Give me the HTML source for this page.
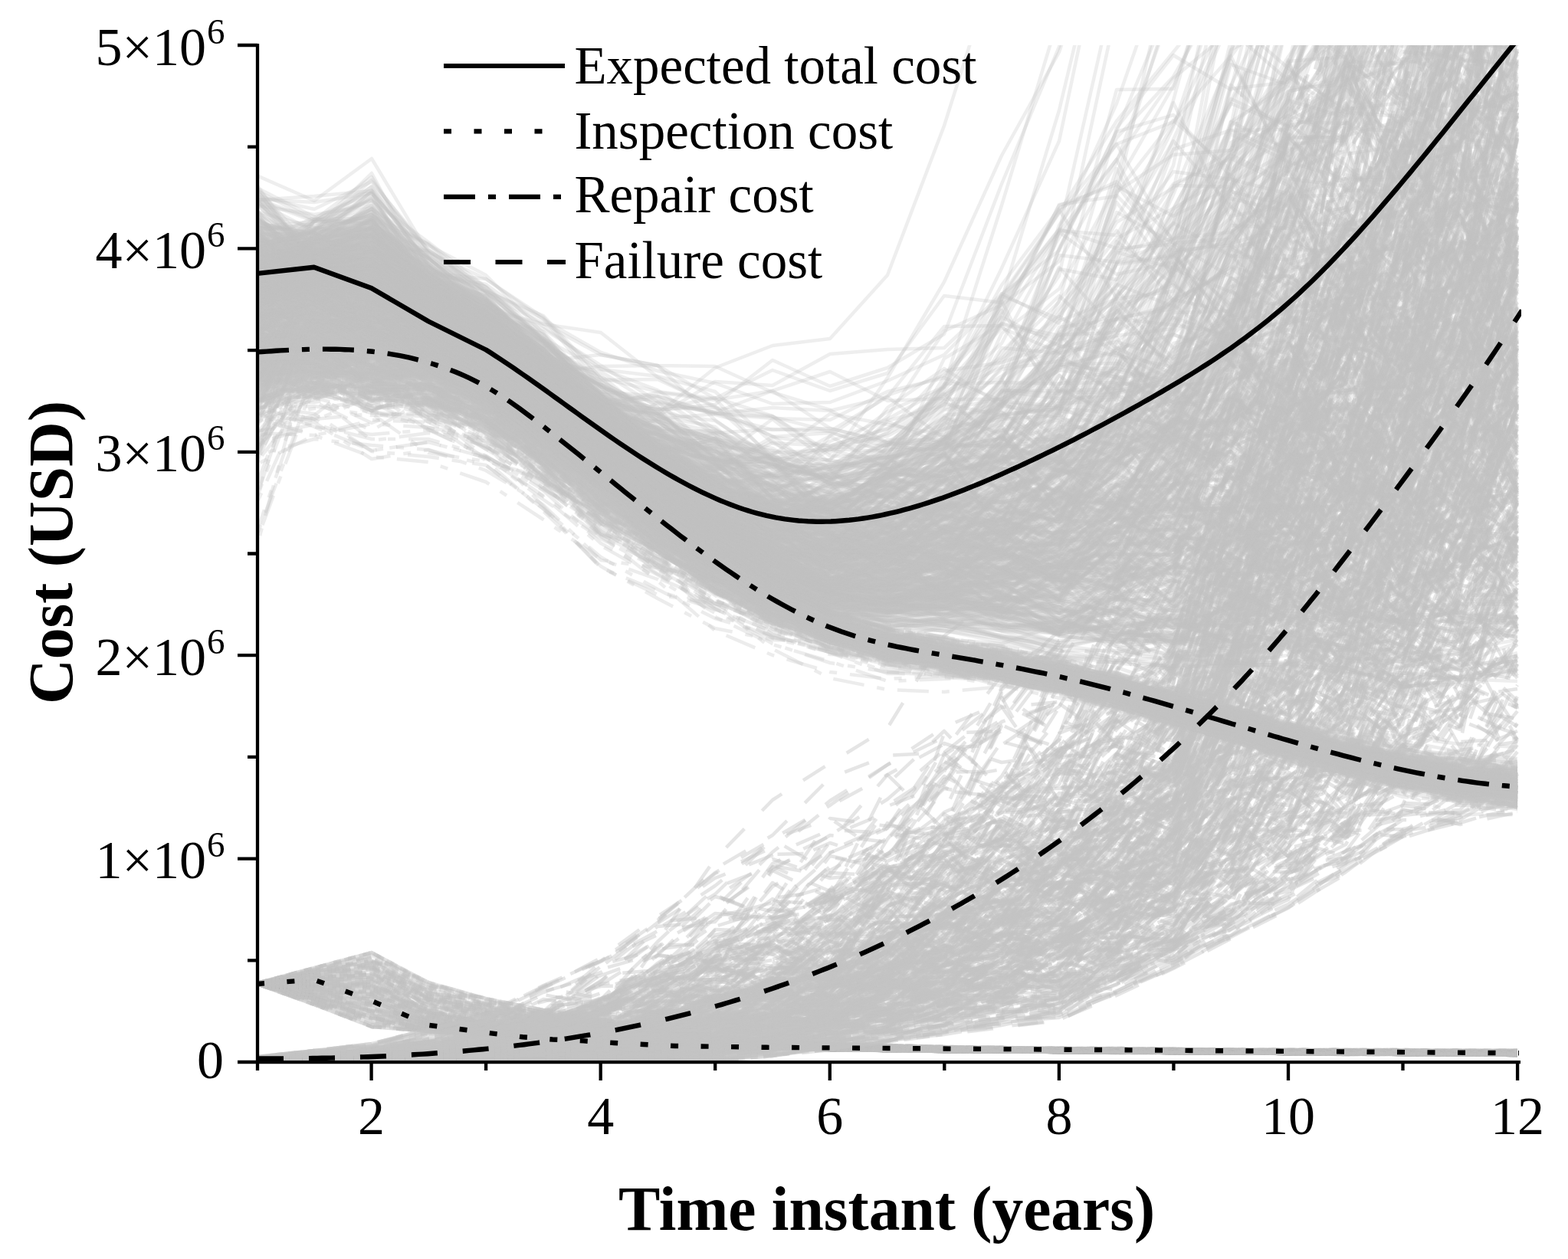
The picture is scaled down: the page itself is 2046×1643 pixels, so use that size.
<!DOCTYPE html><html><head><meta charset="utf-8"><style>html,body{margin:0;padding:0;background:#fff;overflow:hidden}svg{display:block}</style></head><body><svg width="2046" height="1643" viewBox="0 0 2046 1643"><defs><clipPath id="c"><rect x="336" y="59" width="1649" height="1327"/></clipPath></defs><g clip-path="url(#c)" fill="none" stroke="#c3c3c3" stroke-width="4.5" stroke-linejoin="round"><g stroke-dasharray="10,29.5" stroke-opacity="0.28"><g stroke-dashoffset="0.0"><path d="M335 1283l75 4 75 3 74 33 75 15 75 5 75 8 74 6 75 6 75 3 75 1 75 2 74 1 75 1 75 1 75 0 74 0 75 1 75 0 75 1 74 0 75 0 75 0"/><path d="M335 1283l75-16 75-17 74 39 75 23 75 10 75 10 74 9 75 11 75 6 75 4 75 2 74 2 75 1 75 1 75 0 74 1 75 1 75 0 75 0 74 1 75 0 75 1"/><path d="M335 1284l75 10 75 11 74 29 75 8 75 8 75 5 74 5 75 5 75 2 75 2 75 1 74 1 75 1 75 0 75 1 74 0 75 1 75 0 75 0 74 1 75 0 75 1"/><path d="M335 1283l75-6 75-5 74 36 75 15 75 14 75 8 74 6 75 8 75 4 75 3 75 1 74 2 75 0 75 1 75 1 74 0 75 1 75 0 75-1 74 1 75 1 75 0"/><path d="M335 1284l75 25 75 26 74 10 75 4 75 5 75 4 74 5 75 4 75 1 75 2 75 1 74 1 75 0 75 1 75 0 74 1 75 0 75 1 75 1 74 0 75 0 75 1"/><path d="M335 1283l75-4 75-9 74 39 75 17 75 11 75 8 74 7 75 8 75 3 75 3 75 1 74 1 75 2 75 1 75 0 74 1 75 0 75 0 75 0 74 1 75 0 75 1"/><path d="M335 1284l75 18 75 16 74 22 75 8 75 3 75 6 74 4 75 5 75 2 75 1 75 1 74 2 75 0 75 1 75 0 74 1 75 0 75 1 75 0 74 1 75 0 75 1"/><path d="M335 1284l75 18 75 21 74 21 75 7 75 3 75 4 74 4 75 5 75 1 75 2 75 1 74 1 75 0 75 1 75 0 74 1 75 0 75 1 75 0 74 1 75 0 75 1"/><path d="M335 1284l75 2 75 4 74 36 75 13 75 8 75 5 74 6 75 6 75 2 75 2 75 1 74 2 75 0 75 1 75 0 74 1 75 1 75 0 75 0 74 1 75 0 75 0"/><path d="M335 1283l75-15 75-17 74 38 75 21 75 14 75 9 74 11 75 10 75 6 75 4 75 2 74 1 75 0 75 1 75 0 74 1 75 1 75 0 75 0 74 0 75 1 75 0"/><path d="M335 1284l75 23 75 30 74 8 75 6 75 3 75 5 74 3 75 4 75 2 75 2 75 1 74 1 75 0 75 1 75 0 74 1 75 0 75 1 75 0 74 1 75 0 75 1"/><path d="M335 1284l75 16 75 15 74 23 75 9 75 4 75 6 74 5 75 4 75 1 75 2 75 1 74 1 75 1 75 0 75 1 74 1 75 0 75 0 75 1 74 0 75 1 75 0"/><path d="M335 1283l75-1 75-4 74 38 75 11 75 9 75 8 74 9 75 8 75 3 75 3 75 1 74 1 75 1 75 1 75 0 74 1 75 1 75 0 75 0 74 1 75 0 75 1"/><path d="M335 1284l75 11 75 4 74 33 75 9 75 5 75 7 74 5 75 5 75 2 75 3 75 1 74 1 75 1 75 1 75 0 74 1 75 0 75 0 75 0 74 1 75 1 75 0"/><path d="M335 1284l75 22 75 21 74 17 75 5 75 5 75 4 74 4 75 4 75 1 75 2 75 2 74 1 75 0 75 1 75 0 74 1 75 0 75 1 75 0 74 1 75 0 75 0"/><path d="M335 1284l75 8 75 8 74 34 75 10 75 7 75 4 74 4 75 5 75 3 75 2 75 1 74 1 75 0 75 1 75 1 74 0 75 1 75 0 75 1 74 0 75 1 75 0"/><path d="M335 1284l75 11 75 10 74 32 75 7 75 4 75 7 74 4 75 5 75 3 75 2 75 1 74 1 75 1 75 0 75 0 74 1 75 0 75 1 75 0 74 1 75 0 75 1"/><path d="M335 1284l75 14 75 11 74 27 75 11 75 6 75 4 74 5 75 5 75 1 75 2 75 1 74 1 75 0 75 1 75 0 74 1 75 0 75 1 75 0 74 1 75 0 75 1"/><path d="M335 1283l75-20 75-20 74 39 75 22 75 21 75 13 74 7 75 8 75 5 75 5 75 1 74 2 75 1 75 1 75 0 74 1 75 1 75 0 75 0 74 1 75 0 75 0"/><path d="M335 1284l75 13 75 19 74 23 75 10 75 4 75 5 74 3 75 5 75 1 75 2 75 1 74 1 75 1 75 0 75 1 74 0 75 1 75 0 75 1 74 0 75 0 75 1"/><path d="M335 1284l75 19 75 22 74 16 75 7 75 6 75 4 74 5 75 4 75 1 75 2 75 1 74 1 75 0 75 1 75 0 74 1 75 0 75 1 75 0 74 1 75 0 75 1"/><path d="M335 1284l75 6 75 6 74 32 75 14 75 5 75 6 74 6 75 5 75 2 75 2 75 1 74 1 75 1 75 1 75 0 74 1 75 0 75 1 75 0 74 1 75 0 75 0"/><path d="M335 1283l75-20 75-18 74 37 75 21 75 15 75 12 74 11 75 11 75 5 75 5 75 2 74 3 75 1 75 1 75 1 74 0 75 1 75 0 75 0 74 0 75 1 75 0"/><path d="M335 1284l75 16 75 13 74 25 75 8 75 6 75 4 74 4 75 5 75 2 75 2 75 1 74 1 75 0 75 1 75 1 74 1 75 0 75 1 75 0 74 0 75 1 75 1"/><path d="M335 1284l75 18 75 15 74 22 75 8 75 4 75 5 74 4 75 5 75 2 75 2 75 1 74 1 75 1 75 0 75 1 74 0 75 1 75 0 75 1 74 0 75 0 75 1"/><path d="M335 1284l75 12 75 18 74 27 75 5 75 7 75 3 74 5 75 4 75 1 75 2 75 2 74 1 75 1 75 0 75 0 74 1 75 0 75 0 75 1 74 1 75 0 75 0"/><path d="M335 1283l75-11 75-21 74 45 75 26 75 9 75 8 74 11 75 7 75 4 75 4 75 2 74 1 75 1 75 1 75 1 74 0 75 1 75 0 75 0 74 1 75 0 75 1"/><path d="M335 1283l75-7 75-7 74 41 75 15 75 9 75 8 74 8 75 10 75 3 75 3 75 1 74 2 75 1 75 0 75 1 74 0 75 0 75 1 75 0 74 1 75 0 75 1"/><path d="M335 1283l75-7 75-3 74 32 75 18 75 11 75 8 74 11 75 7 75 3 75 4 75 1 74 1 75 1 75 0 75 1 74 1 75 0 75 1 75 0 74 0 75 1 75 0"/><path d="M335 1283l75-2 75 5 74 36 75 13 75 8 75 7 74 5 75 6 75 3 75 2 75 2 74 1 75 1 75 1 75 0 74 1 75 0 75 1 75 0 74 1 75 0 75 0"/><path d="M335 1283l75-15 75-14 74 31 75 21 75 20 75 8 74 10 75 10 75 3 75 5 75 2 74 3 75 1 75 1 75 0 74 1 75 0 75 1 75 0 74 0 75 1 75 0"/><path d="M335 1284l75 22 75 22 74 17 75 6 75 4 75 4 74 4 75 4 75 1 75 2 75 1 74 1 75 0 75 1 75 0 74 1 75 0 75 1 75 0 74 1 75 0 75 1"/><path d="M335 1283l75-7 75-5 74 37 75 16 75 11 75 9 74 10 75 7 75 3 75 3 75 1 74 1 75 1 75 0 75 1 74 0 75 0 75 1 75 1 74 0 75 0 75 0"/><path d="M335 1283l75-8 75-6 74 34 75 21 75 7 75 10 74 9 75 8 75 3 75 3 75 1 74 2 75 1 75 1 75 1 74 0 75 1 75 1 75 0 74 1 75 0 75 0"/><path d="M335 1284l75 17 75 15 74 24 75 8 75 4 75 5 74 5 75 4 75 1 75 2 75 1 74 1 75 1 75 0 75 1 74 0 75 1 75 0 75 1 74 0 75 1 75 0"/><path d="M335 1283l75 3 75 13 74 32 75 5 75 9 75 5 74 8 75 5 75 3 75 2 75 0 74 2 75 1 75 1 75 0 74 1 75 1 75 0 75 0 74 0 75 1 75 0"/><path d="M335 1283l75-7 75 0 74 38 75 13 75 11 75 5 74 7 75 8 75 3 75 4 75 1 74 3 75 1 75 1 75 0 74 0 75 1 75 0 75 0 74 0 75 1 75 0"/><path d="M335 1283l75-16 75-16 74 37 75 15 75 15 75 12 74 11 75 11 75 5 75 5 75 2 74 2 75 1 75 1 75 0 74 1 75 1 75 0 75 0 74 1 75 0 75 0"/><path d="M335 1284l75 25 75 29 74 7 75 6 75 3 75 4 74 4 75 5 75 1 75 2 75 1 74 1 75 0 75 1 75 0 74 1 75 0 75 1 75 0 74 1 75 0 75 1"/><path d="M335 1283l75-6 75-4 74 38 75 17 75 6 75 11 74 6 75 7 75 4 75 3 75 2 74 1 75 1 75 0 75 1 74 0 75 1 75 0 75 1 74 0 75 1 75 0"/><path d="M335 1283l75-3 75-8 74 43 75 15 75 8 75 9 74 6 75 7 75 4 75 3 75 1 74 2 75 1 75 0 75 0 74 0 75 1 75 0 75 0 74 1 75 1 75 0"/><path d="M335 1284l75 18 75 21 74 21 75 6 75 3 75 5 74 4 75 5 75 1 75 2 75 0 74 2 75 0 75 1 75 0 74 1 75 0 75 1 75 0 74 1 75 0 75 1"/><path d="M335 1283l75 4 75 8 74 30 75 8 75 7 75 7 74 7 75 6 75 3 75 2 75 2 74 2 75 1 75 1 75 0 74 1 75 0 75 1 75 0 74 0 75 1 75 0"/><path d="M335 1283l75 2 75-2 74 38 75 13 75 8 75 7 74 6 75 7 75 2 75 3 75 2 74 1 75 0 75 1 75 1 74 0 75 0 75 1 75 1 74 0 75 0 75 0"/><path d="M335 1284l75 7 75 3 74 32 75 14 75 7 75 6 74 6 75 5 75 2 75 2 75 1 74 1 75 1 75 1 75 0 74 1 75 1 75 0 75 0 74 1 75 0 75 1"/><path d="M335 1283l75-17 75-13 74 31 75 23 75 16 75 8 74 12 75 11 75 5 75 5 75 1 74 2 75 1 75 1 75 0 74 1 75 0 75 1 75 0 74 0 75 0 75 0"/><path d="M335 1284l75 15 75 16 74 21 75 8 75 7 75 5 74 4 75 5 75 2 75 2 75 1 74 2 75 0 75 1 75 0 74 1 75 0 75 0 75 1 74 0 75 1 75 0"/><path d="M335 1283l75-11 75-11 74 38 75 22 75 7 75 7 74 12 75 9 75 4 75 4 75 2 74 2 75 0 75 1 75 0 74 1 75 0 75 1 75 0 74 0 75 1 75 0"/><path d="M335 1283l75-19 75-21 74 41 75 23 75 16 75 11 74 11 75 11 75 1 75 6 75 2 74 2 75 1 75 1 75 0 74 1 75 0 75 1 75 0 74 1 75 0 75 1"/><path d="M335 1283l75-7 75 1 74 38 75 9 75 9 75 10 74 8 75 8 75 4 75 4 75 1 74 1 75 0 75 1 75 1 74 0 75 1 75 0 75 1 74 0 75 0 75 0"/><path d="M335 1284l75 6 75 1 74 39 75 10 75 7 75 4 74 6 75 7 75 2 75 2 75 1 74 1 75 1 75 1 75 0 74 1 75 0 75 0 75 1 74 0 75 0 75 1"/><path d="M335 1283l75-10 75-9 74 39 75 20 75 12 75 6 74 5 75 9 75 5 75 3 75 2 74 2 75 1 75 1 75 1 74 0 75 1 75 0 75 1 74 0 75 0 75 0"/><path d="M335 1283l75-16 75-14 74 40 75 20 75 11 75 11 74 10 75 10 75 3 75 5 75 3 74 1 75 1 75 1 75 1 74 1 75 0 75 0 75 1 74 0 75 1 75 0"/><path d="M335 1284l75 1 75 9 74 30 75 10 75 8 75 10 74 6 75 5 75 2 75 2 75 1 74 2 75 1 75 0 75 1 74 0 75 1 75 0 75 1 74 0 75 1 75 0"/><path d="M335 1283l75-2 75-8 74 43 75 15 75 5 75 7 74 8 75 7 75 4 75 3 75 1 74 2 75 1 75 1 75 0 74 1 75 0 75 1 75 0 74 1 75 1 75 0"/><path d="M335 1284l75 27 75 29 74 5 75 6 75 4 75 4 74 4 75 4 75 1 75 2 75 1 74 1 75 0 75 1 75 0 74 1 75 0 75 1 75 1 74 0 75 0 75 1"/><path d="M335 1283l75-20 75-20 74 42 75 19 75 14 75 12 74 11 75 11 75 5 75 5 75 2 74 2 75 1 75 1 75 1 74 0 75 1 75 0 75 0 74 0 75 1 75 0"/><path d="M335 1284l75 16 75 17 74 23 75 9 75 4 75 4 74 5 75 4 75 2 75 1 75 1 74 1 75 1 75 1 75 0 74 0 75 1 75 0 75 1 74 0 75 1 75 0"/><path d="M335 1283l75-8 75-12 74 41 75 16 75 15 75 9 74 9 75 6 75 3 75 3 75 2 74 2 75 1 75 0 75 1 74 0 75 0 75 1 75 0 74 1 75 0 75 1"/><path d="M335 1283l75-1 75 0 74 40 75 11 75 6 75 9 74 7 75 6 75 2 75 3 75 2 74 1 75 1 75 1 75 0 74 1 75 0 75 1 75 0 74 1 75 0 75 1"/><path d="M335 1283l75 1 75 8 74 33 75 10 75 10 75 7 74 4 75 5 75 3 75 3 75 1 74 1 75 1 75 1 75 1 74 0 75 1 75 0 75 0 74 1 75 0 75 0"/><path d="M335 1284l75 8 75 10 74 33 75 9 75 6 75 5 74 5 75 4 75 2 75 3 75 1 74 0 75 1 75 1 75 0 74 1 75 0 75 1 75 0 74 1 75 0 75 1"/><path d="M335 1284l75 9 75 16 74 26 75 11 75 6 75 4 74 4 75 5 75 1 75 3 75 1 74 1 75 0 75 1 75 0 74 0 75 1 75 0 75 1 74 1 75 0 75 0"/><path d="M335 1283l75-5 75 0 74 40 75 13 75 7 75 10 74 4 75 8 75 3 75 3 75 1 74 2 75 1 75 0 75 1 74 0 75 0 75 1 75 0 74 1 75 0 75 0"/><path d="M335 1283l75-6 75-5 74 32 75 23 75 10 75 5 74 9 75 8 75 4 75 3 75 1 74 2 75 1 75 0 75 1 74 0 75 1 75 1 75 0 74-1 75 1 75 0"/><path d="M335 1283l75-15 75-12 74 36 75 21 75 12 75 9 74 11 75 9 75 5 75 3 75 3 74 2 75 1 75 1 75 1 74 0 75 1 75 0 75 0 74 0 75 0 75 1"/><path d="M335 1284l75 22 75 28 74 11 75 5 75 4 75 5 74 4 75 4 75 1 75 2 75 1 74 1 75 0 75 1 75 1 74 0 75 0 75 1 75 0 74 1 75 0 75 1"/><path d="M335 1284l75 6 75 5 74 33 75 10 75 5 75 9 74 5 75 6 75 2 75 3 75 1 74 2 75 1 75 0 75 0 74 0 75 1 75 1 75 0 74 1 75 0 75 0"/><path d="M335 1284l75 8 75 15 74 26 75 9 75 8 75 5 74 4 75 5 75 3 75 2 75 1 74 1 75 0 75 1 75 0 74 1 75 0 75 1 75 0 74 1 75 0 75 1"/></g><g stroke-dashoffset="4.9"><path d="M335 1283l75 4 75 4 74 37 75 10 75 9 75 3 74 6 75 7 75 2 75 3 75 1 74 1 75 1 75 1 75 0 74 0 75 0 75 1 75 0 74 1 75 0 75 1"/><path d="M335 1283l75-6 75-9 74 32 75 14 75 11 75 12 74 10 75 8 75 5 75 4 75 1 74 2 75 2 75 1 75 0 74 0 75 1 75 0 75 0 74 1 75 0 75 1"/><path d="M335 1283l75-19 75-10 74 37 75 18 75 14 75 12 74 13 75 7 75 5 75 4 75 1 74 3 75 1 75 0 75 0 74 1 75 0 75 0 75 0 74 0 75 1 75 1"/><path d="M335 1283l75-4 75-1 74 32 75 16 75 9 75 6 74 10 75 6 75 4 75 4 75 1 74 2 75 1 75 1 75 0 74 1 75 0 75 1 75 0 74 1 75 0 75 0"/><path d="M335 1283l75-18 75-12 74 35 75 23 75 9 75 10 74 12 75 10 75 5 75 5 75 2 74 2 75 1 75 1 75 0 74 1 75 1 75 0 75 0 74 0 75 2 75 0"/><path d="M335 1284l75 13 75 15 74 22 75 12 75 4 75 5 74 5 75 5 75 2 75 2 75 1 74 1 75 1 75 0 75 1 74 0 75 1 75 0 75 1 74 0 75 1 75 0"/><path d="M335 1283l75 2 75 1 74 35 75 16 75 7 75 7 74 6 75 6 75 3 75 1 75 2 74 1 75 1 75 0 75 1 74 0 75 0 75 1 75 0 74 0 75 0 75 1"/><path d="M335 1284l75 20 75 25 74 15 75 7 75 4 75 4 74 4 75 4 75 1 75 2 75 1 74 1 75 0 75 1 75 0 74 1 75 0 75 1 75 0 74 1 75 0 75 1"/><path d="M335 1284l75 20 75 25 74 15 75 5 75 4 75 4 74 4 75 5 75 2 75 2 75 1 74 1 75 0 75 1 75 0 74 1 75 0 75 1 75 0 74 1 75 0 75 1"/><path d="M335 1284l75 8 75 7 74 30 75 11 75 8 75 7 74 5 75 5 75 2 75 2 75 1 74 1 75 1 75 0 75 1 74 0 75 1 75 0 75 1 74 0 75 1 75 0"/><path d="M335 1283l75-15 75-14 74 39 75 16 75 12 75 10 74 10 75 11 75 5 75 5 75 2 74 2 75 2 75 1 75 0 74 1 75 0 75 1 75 0 74 0 75 0 75 1"/><path d="M335 1283l75-5 75-8 74 34 75 13 75 10 75 11 74 11 75 8 75 4 75 4 75 1 74 2 75 0 75 1 75 1 74 0 75 0 75 1 75 0 74 1 75 0 75 1"/><path d="M335 1284l75 7 75 9 74 26 75 13 75 7 75 7 74 6 75 6 75 1 75 2 75 2 74 0 75 1 75 0 75 1 74 1 75 0 75 1 75 0 74 1 75 0 75 0"/><path d="M335 1283l75-10 75-10 74 31 75 26 75 11 75 11 74 9 75 8 75 4 75 4 75 0 74 2 75 1 75 1 75 0 74 1 75 0 75 0 75 1 74 0 75 1 75 0"/><path d="M335 1283l75-20 75-20 74 39 75 21 75 15 75 12 74 11 75 11 75 5 75 5 75 2 74 2 75 1 75 1 75 1 74 0 75 1 75 0 75 0 74 0 75 1 75 0"/><path d="M335 1284l75 27 75 29 74 6 75 5 75 4 75 4 74 4 75 4 75 1 75 2 75 1 74 1 75 0 75 1 75 0 74 1 75 0 75 1 75 0 74 1 75 0 75 1"/><path d="M335 1284l75 4 75 1 74 37 75 12 75 9 75 6 74 5 75 6 75 2 75 2 75 1 74 1 75 1 75 0 75 0 74 1 75 0 75 1 75 0 74 0 75 1 75 0"/><path d="M335 1283l75-16 75-12 74 41 75 16 75 10 75 12 74 11 75 9 75 4 75 5 75 2 74 2 75 1 75 0 75 1 74 0 75 1 75 0 75 1 74 0 75 0 75 0"/><path d="M335 1284l75 27 75 29 74 6 75 5 75 4 75 4 74 4 75 4 75 1 75 2 75 1 74 1 75 0 75 1 75 0 74 1 75 0 75 1 75 0 74 1 75 0 75 1"/><path d="M335 1283l75-11 75-12 74 35 75 26 75 10 75 10 74 8 75 9 75 4 75 4 75 1 74 1 75 1 75 1 75 1 74 0 75 1 75 0 75 1 74-1 75 0 75 1"/><path d="M335 1284l75 4 75 2 74 30 75 14 75 8 75 2 74 8 75 9 75 4 75 2 75 2 74 1 75 0 75 1 75 1 74 0 75 0 75 1 75 0 74 1 75 0 75 0"/><path d="M335 1284l75 27 75 29 74 6 75 5 75 4 75 4 74 4 75 4 75 1 75 2 75 1 74 1 75 0 75 1 75 0 74 1 75 0 75 1 75 0 74 1 75 0 75 1"/><path d="M335 1284l75 6 75 9 74 30 75 13 75 7 75 6 74 5 75 5 75 2 75 1 75 2 74 1 75 1 75 0 75 1 74 1 75 0 75 0 75 0 74 0 75 1 75 1"/><path d="M335 1283l75 5 75 4 74 34 75 11 75 6 75 7 74 6 75 7 75 2 75 3 75 2 74 1 75 0 75 1 75 1 74 0 75 0 75 1 75 0 74 0 75 1 75 1"/><path d="M335 1283l75-9 75-8 74 42 75 11 75 10 75 11 74 9 75 8 75 3 75 4 75 2 74 2 75 1 75 0 75 1 74 1 75 0 75 1 75 0 74 0 75 1 75 0"/><path d="M335 1284l75 25 75 31 74 6 75 5 75 4 75 4 74 4 75 4 75 1 75 2 75 1 74 1 75 0 75 1 75 0 74 1 75 0 75 1 75 0 74 1 75 0 75 1"/><path d="M335 1283l75 1 75 6 74 34 75 9 75 7 75 6 74 5 75 7 75 4 75 4 75 1 74 2 75 1 75 1 75 0 74 1 75 0 75 1 75 1 74 0 75 0 75 1"/><path d="M335 1284l75 16 75 18 74 22 75 8 75 5 75 5 74 4 75 4 75 1 75 2 75 1 74 2 75 0 75 1 75 0 74 1 75 0 75 1 75 0 74 1 75 0 75 0"/><path d="M335 1284l75 19 75 22 74 18 75 7 75 5 75 4 74 4 75 4 75 1 75 2 75 1 74 1 75 0 75 1 75 0 74 1 75 0 75 1 75 0 74 1 75 0 75 1"/><path d="M335 1284l75 4 75-1 74 39 75 15 75 5 75 7 74 6 75 5 75 3 75 2 75 1 74 1 75 0 75 1 75 1 74 0 75 1 75 0 75 0 74 1 75 0 75 0"/><path d="M335 1283l75-13 75-16 74 43 75 14 75 13 75 8 74 11 75 11 75 4 75 5 75 2 74 2 75 0 75 1 75 1 74 1 75 0 75 0 75 0 74 1 75 1 75 0"/><path d="M335 1283l75-13 75-10 74 38 75 19 75 13 75 9 74 7 75 11 75 3 75 4 75 2 74 1 75 1 75 1 75 1 74 0 75 1 75 1 75 0 74 0 75 1 75 0"/><path d="M335 1284l75 2 75 2 74 33 75 14 75 10 75 6 74 6 75 7 75 2 75 2 75 1 74 2 75 0 75 1 75 0 74 1 75 0 75 0 75 1 74 0 75 1 75 0"/><path d="M335 1284l75 20 75 21 74 19 75 6 75 4 75 5 74 4 75 4 75 1 75 2 75 1 74 1 75 0 75 1 75 0 74 1 75 0 75 1 75 0 74 1 75 0 75 1"/><path d="M335 1284l75 19 75 25 74 16 75 5 75 4 75 6 74 4 75 4 75 1 75 2 75 1 74 1 75 0 75 1 75 0 74 1 75 0 75 0 75 1 74 0 75 0 75 1"/><path d="M335 1283l75-13 75-5 74 30 75 12 75 18 75 10 74 9 75 11 75 4 75 4 75 2 74 2 75 1 75 1 75 0 74 0 75 1 75 1 75 0 74 1 75 0 75 1"/><path d="M335 1284l75 27 75 29 74 6 75 4 75 5 75 4 74 4 75 4 75 1 75 2 75 1 74 1 75 0 75 1 75 0 74 1 75 0 75 1 75 0 74 1 75 0 75 1"/><path d="M335 1284l75 15 75 20 74 22 75 9 75 3 75 5 74 4 75 4 75 2 75 1 75 1 74 1 75 1 75 0 75 0 74 1 75 1 75 0 75 0 74 1 75 1 75 0"/><path d="M335 1283l75-7 75-7 74 38 75 20 75 8 75 4 74 10 75 8 75 4 75 4 75 2 74 2 75 1 75 0 75 1 74 0 75 1 75 0 75 1 74 0 75 1 75 0"/><path d="M335 1283l75-9 75-12 74 38 75 19 75 11 75 12 74 9 75 8 75 3 75 5 75 1 74 0 75 1 75 1 75 0 74 1 75 0 75 1 75 0 74 1 75 0 75 0"/><path d="M335 1284l75 18 75 25 74 17 75 5 75 5 75 4 74 5 75 4 75 1 75 2 75 1 74 1 75 0 75 1 75 0 74 1 75 0 75 1 75 0 74 0 75 1 75 0"/><path d="M335 1283l75-11 75-11 74 41 75 21 75 8 75 6 74 11 75 8 75 5 75 4 75 2 74 1 75 1 75 1 75 0 74 0 75 1 75 0 75 1 74 0 75 0 75 0"/><path d="M335 1283l75-17 75-19 74 39 75 25 75 17 75 11 74 11 75 9 75 4 75 2 75 2 74 1 75 1 75 1 75 1 74 0 75 1 75 0 75 1 74 0 75 0 75 1"/><path d="M335 1284l75 23 75 27 74 11 75 5 75 5 75 3 74 4 75 5 75 1 75 2 75 1 74 1 75 0 75 1 75 0 74 1 75 0 75 1 75 0 74 1 75 0 75 1"/><path d="M335 1284l75 24 75 32 74 6 75 5 75 4 75 4 74 3 75 4 75 2 75 2 75 1 74 1 75 0 75 1 75 0 74 1 75 0 75 1 75 0 74 1 75 0 75 1"/><path d="M335 1284l75 22 75 16 74 20 75 7 75 4 75 5 74 5 75 3 75 2 75 2 75 1 74 1 75 0 75 1 75 0 74 1 75 0 75 1 75 0 74 1 75 0 75 1"/><path d="M335 1283l75-14 75-14 74 42 75 14 75 16 75 9 74 10 75 9 75 4 75 5 75 1 74 1 75 1 75 1 75 1 74 0 75 1 75 0 75 1 74 0 75 0 75 0"/><path d="M335 1283l75-6 75 1 74 33 75 16 75 8 75 10 74 7 75 9 75 3 75 2 75 2 74 2 75 1 75 0 75 1 74 0 75 1 75 0 75 1 74 0 75 0 75 1"/><path d="M335 1283l75-15 75-4 74 40 75 17 75 4 75 10 74 10 75 11 75 3 75 4 75 2 74 2 75 1 75 1 75 1 74 0 75 0 75 1 75 0 74 0 75 0 75 1"/><path d="M335 1283l75-10 75-13 74 38 75 21 75 12 75 9 74 9 75 9 75 3 75 4 75 1 74 2 75 0 75 1 75 1 74 0 75 0 75 1 75 0 74 0 75 0 75 1"/><path d="M335 1283l75-12 75-9 74 39 75 21 75 13 75 6 74 8 75 9 75 3 75 4 75 2 74 1 75 1 75 0 75 0 74 1 75 0 75 1 75 0 74 0 75 0 75 1"/><path d="M335 1284l75 5 75 12 74 30 75 12 75 6 75 6 74 4 75 5 75 3 75 2 75 1 74 1 75 1 75 0 75 1 74 0 75 0 75 1 75 1 74 0 75 0 75 0"/><path d="M335 1283l75-17 75-23 74 47 75 23 75 14 75 8 74 9 75 10 75 3 75 6 75 2 74 2 75 0 75 1 75 0 74 1 75 1 75 0 75 1 74 0 75 1 75 0"/><path d="M335 1284l75 25 75 20 74 12 75 5 75 6 75 5 74 4 75 5 75 2 75 2 75 1 74 1 75 0 75 1 75 0 74 1 75 0 75 1 75 0 74 1 75 0 75 1"/><path d="M335 1283l75-3 75 1 74 33 75 18 75 9 75 8 74 7 75 5 75 2 75 3 75 1 74 2 75 1 75 0 75 1 74 0 75 1 75 0 75 0 74 0 75 1 75 1"/><path d="M335 1283l75-4 75 0 74 33 75 17 75 9 75 10 74 7 75 7 75 2 75 3 75 1 74 1 75 1 75 1 75 1 74 0 75 1 75 0 75 1 74 0 75 0 75 0"/><path d="M335 1283l75-2 75 4 74 34 75 14 75 8 75 7 74 6 75 5 75 3 75 3 75 2 74 1 75 1 75 1 75 1 74 0 75 1 75 0 75 1 74 0 75 1 75 0"/><path d="M335 1284l75 24 75 29 74 8 75 5 75 5 75 4 74 4 75 4 75 1 75 2 75 1 74 1 75 0 75 1 75 0 74 1 75 0 75 1 75 1 74 0 75 0 75 1"/><path d="M335 1284l75 21 75 24 74 13 75 7 75 3 75 5 74 4 75 4 75 3 75 2 75 1 74 1 75 0 75 1 75 0 74 1 75 0 75 1 75 1 74 0 75 0 75 1"/><path d="M335 1284l75 15 75 16 74 23 75 8 75 4 75 5 74 5 75 4 75 2 75 2 75 2 74 1 75 0 75 1 75 1 74 0 75 1 75 0 75 1 74 0 75 1 75 0"/><path d="M335 1283l75-12 75-12 74 41 75 15 75 15 75 10 74 7 75 9 75 4 75 4 75 2 74 2 75 1 75 1 75 0 74 1 75 0 75 0 75 0 74 1 75 0 75 0"/><path d="M335 1284l75 11 75 13 74 26 75 11 75 6 75 5 74 5 75 4 75 2 75 2 75 1 74 1 75 1 75 0 75 1 74 1 75 0 75 1 75 0 74 0 75 0 75 1"/><path d="M335 1284l75 14 75 20 74 20 75 7 75 3 75 8 74 5 75 4 75 2 75 2 75 1 74 1 75 1 75 0 75 1 74 0 75 1 75 0 75 0 74 1 75 0 75 1"/><path d="M335 1283l75 1 75 2 74 34 75 15 75 7 75 7 74 7 75 6 75 3 75 3 75 0 74 2 75 0 75 1 75 0 74 1 75 0 75 1 75 0 74 1 75 0 75 0"/><path d="M335 1283l75-11 75-9 74 40 75 18 75 8 75 9 74 8 75 10 75 3 75 4 75 2 74 2 75 1 75 1 75 1 74 0 75 1 75 0 75 0 74 1 75 0 75 0"/><path d="M335 1284l75 20 75 21 74 19 75 6 75 5 75 4 74 4 75 4 75 1 75 2 75 1 74 1 75 0 75 0 75 1 74 0 75 1 75 1 75 0 74 0 75 1 75 0"/><path d="M335 1283l75-14 75-14 74 33 75 15 75 15 75 12 74 11 75 11 75 5 75 5 75 2 74 2 75 1 75 1 75 0 74 1 75 1 75 0 75 0 74 0 75 1 75 0"/><path d="M335 1283l75 2 75-2 74 35 75 14 75 10 75 8 74 7 75 6 75 2 75 3 75 1 74 2 75 0 75 0 75 1 74 1 75 0 75 0 75 1 74 0 75 1 75 0"/><path d="M335 1283l75 2 75 0 74 37 75 8 75 10 75 8 74 6 75 7 75 3 75 2 75 1 74 2 75 1 75 0 75 1 74 0 75 1 75 0 75 0 74 1 75 1 75 0"/></g><g stroke-dashoffset="9.9"><path d="M335 1284l75 5 75-2 74 38 75 14 75 6 75 5 74 6 75 5 75 4 75 2 75 1 74 2 75 0 75 0 75 1 74 1 75 0 75 1 75 1 74 0 75 1 75 0"/><path d="M335 1283l75 2 75 6 74 33 75 13 75 8 75 5 74 6 75 7 75 2 75 3 75 1 74 2 75 0 75 0 75 1 74 0 75 0 75 1 75 1 74 0 75 0 75 0"/><path d="M335 1283l75-12 75-8 74 40 75 18 75 10 75 9 74 8 75 9 75 4 75 3 75 1 74 2 75 1 75 1 75 0 74 1 75 0 75 1 75 0 74 1 75 0 75 0"/><path d="M335 1283l75-18 75-20 74 37 75 21 75 15 75 12 74 11 75 13 75 5 75 3 75 2 74 2 75 1 75 1 75 1 74 0 75 1 75 0 75 0 74 0 75 1 75 1"/><path d="M335 1283l75-9 75-1 74 33 75 18 75 9 75 6 74 8 75 9 75 4 75 5 75 1 74 2 75 1 75 1 75 0 74 1 75 0 75 1 75 1 74 0 75 0 75 0"/><path d="M335 1283l75-8 75-5 74 34 75 19 75 7 75 10 74 10 75 8 75 3 75 3 75 1 74 3 75 0 75 2 75 0 74 1 75 0 75 1 75-1 74 1 75 0 75 0"/><path d="M335 1283l75-14 75-8 74 31 75 15 75 14 75 16 74 7 75 10 75 5 75 6 75 1 74 2 75 1 75 0 75 0 74 1 75 0 75 1 75 0 74 1 75 0 75 0"/><path d="M335 1284l75 10 75 8 74 30 75 11 75 6 75 6 74 5 75 5 75 1 75 3 75 1 74 1 75 1 75 0 75 0 74 1 75 1 75 0 75 1 74 0 75 0 75 1"/><path d="M335 1283l75-9 75-14 74 43 75 17 75 8 75 12 74 9 75 8 75 4 75 4 75 1 74 1 75 1 75 1 75 0 74 1 75 0 75 1 75 0 74 0 75 0 75 0"/><path d="M335 1283l75-9 75-12 74 41 75 16 75 11 75 9 74 6 75 9 75 3 75 5 75 3 74 2 75 0 75 1 75 0 74 1 75 1 75 0 75 1 74 0 75 0 75 0"/><path d="M335 1283l75 3 75 4 74 33 75 14 75 8 75 7 74 4 75 6 75 3 75 2 75 2 74 1 75 1 75 1 75 0 74 1 75 0 75 1 75 0 74 0 75 1 75 0"/><path d="M335 1284l75 19 75 20 74 19 75 7 75 4 75 4 74 6 75 4 75 1 75 2 75 1 74 1 75 0 75 1 75 0 74 1 75 0 75 0 75 1 74 1 75 0 75 1"/><path d="M335 1284l75 14 75 15 74 26 75 8 75 6 75 5 74 5 75 4 75 1 75 2 75 1 74 0 75 1 75 0 75 1 74 0 75 0 75 1 75 0 74 1 75 0 75 1"/><path d="M335 1283l75 3 75 5 74 37 75 9 75 6 75 8 74 5 75 6 75 3 75 2 75 2 74 1 75 0 75 1 75 1 74 0 75 0 75 1 75 0 74 0 75 0 75 1"/><path d="M335 1284l75 20 75 20 74 19 75 7 75 4 75 3 74 4 75 5 75 2 75 1 75 2 74 1 75 0 75 1 75 0 74 1 75 0 75 1 75 0 74 1 75 0 75 0"/><path d="M335 1284l75 9 75 14 74 26 75 10 75 7 75 5 74 5 75 5 75 2 75 2 75 1 74 1 75 1 75 0 75 0 74 1 75 0 75 1 75 0 74 1 75 0 75 0"/><path d="M335 1284l75 17 75 18 74 23 75 7 75 4 75 4 74 3 75 5 75 2 75 2 75 1 74 1 75 0 75 1 75 0 74 1 75 1 75 0 75 1 74 0 75 0 75 1"/><path d="M335 1284l75 11 75 2 74 35 75 11 75 3 75 7 74 5 75 6 75 2 75 2 75 2 74 1 75 1 75 0 75 1 74 0 75 1 75 0 75 1 74 0 75 1 75 0"/><path d="M335 1284l75 27 75 28 74 6 75 6 75 4 75 4 74 4 75 4 75 1 75 2 75 1 74 1 75 0 75 1 75 1 74 0 75 0 75 1 75 0 74 1 75 0 75 1"/><path d="M335 1284l75 6 75 5 74 33 75 9 75 7 75 9 74 4 75 7 75 2 75 3 75 1 74 1 75 1 75 0 75 1 74 0 75 1 75 0 75 1 74 0 75 1 75 0"/><path d="M335 1284l75 15 75 21 74 20 75 8 75 5 75 5 74 4 75 4 75 2 75 2 75 1 74 1 75 0 75 1 75 0 74 0 75 1 75 0 75 1 74 0 75 1 75 0"/><path d="M335 1284l75 13 75 15 74 28 75 7 75 6 75 5 74 3 75 5 75 1 75 2 75 1 74 1 75 1 75 1 75 0 74 0 75 1 75 1 75 0 74 0 75 1 75 0"/><path d="M335 1283l75 3 75 7 74 28 75 14 75 8 75 7 74 7 75 5 75 2 75 3 75 1 74 1 75 1 75 0 75 1 74 0 75 1 75 0 75 1 74 1 75 0 75 0"/><path d="M335 1283l75 1 75 4 74 35 75 14 75 7 75 7 74 5 75 7 75 3 75 2 75 1 74 1 75 1 75 0 75 0 74 1 75 1 75 0 75 0 74 1 75 1 75 0"/><path d="M335 1283l75-14 75-12 74 48 75 21 75 9 75 10 74 7 75 9 75 2 75 3 75 1 74 2 75 0 75 1 75 0 74 1 75 0 75 1 75 0 74 0 75 0 75 1"/><path d="M335 1284l75 12 75 13 74 27 75 10 75 3 75 5 74 6 75 6 75 1 75 1 75 1 74 2 75 0 75 1 75 1 74 0 75 1 75 0 75 1 74 0 75 1 75 0"/><path d="M335 1283l75-6 75-2 74 38 75 16 75 8 75 10 74 7 75 7 75 2 75 4 75 1 74 1 75 1 75 1 75 1 74 0 75 1 75 0 75 0 74 0 75 0 75 0"/><path d="M335 1283l75-8 75-12 74 36 75 19 75 13 75 7 74 10 75 10 75 3 75 4 75 1 74 2 75 1 75 1 75 0 74 0 75 0 75 1 75 0 74 1 75 0 75 1"/><path d="M335 1283l75-8 75-8 74 39 75 18 75 9 75 10 74 5 75 9 75 5 75 4 75 1 74 1 75 1 75 1 75 0 74 1 75 0 75 1 75 1 74 0 75 1 75 0"/><path d="M335 1284l75 17 75 19 74 21 75 8 75 5 75 4 74 4 75 4 75 2 75 1 75 1 74 1 75 1 75 1 75 0 74 1 75 0 75 0 75 1 74 0 75 1 75 0"/><path d="M335 1284l75 14 75 23 74 21 75 8 75 3 75 4 74 4 75 5 75 2 75 1 75 1 74 1 75 1 75 0 75 1 74 1 75 0 75 0 75 1 74 0 75 0 75 1"/><path d="M335 1284l75 20 75 25 74 14 75 6 75 5 75 4 74 5 75 4 75 1 75 2 75 1 74 1 75 0 75 1 75 0 74 1 75 0 75 1 75 0 74 1 75 0 75 1"/><path d="M335 1283l75 5 75 7 74 33 75 11 75 5 75 4 74 7 75 6 75 3 75 3 75 2 74 1 75 1 75 0 75 0 74 1 75 1 75 0 75 0 74 0 75 1 75-1"/><path d="M335 1283l75-5 75-1 74 32 75 16 75 9 75 9 74 7 75 8 75 4 75 4 75 1 74 2 75 1 75 1 75-1 74 1 75 0 75 1 75 0 74 0 75 0 75 0"/><path d="M335 1284l75 24 75 26 74 12 75 4 75 5 75 4 74 4 75 4 75 1 75 2 75 1 74 1 75 0 75 1 75 0 74 1 75 0 75 1 75 1 74 0 75 0 75 1"/><path d="M335 1284l75 21 75 24 74 12 75 9 75 5 75 4 74 4 75 4 75 1 75 2 75 1 74 1 75 0 75 1 75 0 74 1 75 0 75 1 75 0 74 1 75 0 75 1"/><path d="M335 1284l75 6 75 5 74 30 75 9 75 6 75 11 74 5 75 6 75 3 75 2 75 2 74 1 75 1 75 0 75 1 74 0 75 1 75 0 75 0 74 1 75 0 75 1"/><path d="M335 1284l75 7 75 9 74 25 75 13 75 7 75 6 74 6 75 6 75 2 75 3 75 1 74 1 75 1 75 1 75 1 74 0 75 0 75 0 75 1 74 0 75 1 75 0"/><path d="M335 1284l75 27 75 29 74 6 75 5 75 4 75 4 74 3 75 5 75 1 75 2 75 1 74 1 75 0 75 1 75 0 74 1 75 0 75 1 75 0 74 1 75 0 75 1"/><path d="M335 1284l75 26 75 26 74 10 75 5 75 4 75 4 74 4 75 4 75 1 75 2 75 1 74 1 75 0 75 1 75 1 74 0 75 0 75 1 75 1 74 0 75 0 75 1"/><path d="M335 1283l75-20 75-20 74 41 75 24 75 13 75 10 74 14 75 10 75 4 75 4 75 3 74 1 75 0 75 1 75 1 74 0 75 1 75 0 75 0 74 0 75 1 75 0"/><path d="M335 1283l75 1 75-4 74 40 75 12 75 6 75 10 74 4 75 9 75 3 75 3 75 1 74 1 75 1 75 1 75 0 74 1 75 1 75 0 75 0 74 1 75 0 75 1"/><path d="M335 1283l75-8 75-4 74 34 75 12 75 11 75 11 74 7 75 10 75 4 75 5 75 2 74 2 75 0 75 1 75 0 74 1 75 0 75 1 75 0 74 0 75 1 75 0"/><path d="M335 1283l75-6 75-12 74 40 75 19 75 13 75 8 74 8 75 7 75 4 75 3 75 0 74 2 75 0 75 1 75 1 74 0 75 0 75 1 75 0 74 0 75 1 75 0"/><path d="M335 1284l75 8 75 6 74 28 75 9 75 8 75 4 74 8 75 7 75 3 75 3 75 1 74 1 75 1 75 0 75 1 74 1 75 0 75 1 75 0 74 0 75 1 75 0"/><path d="M335 1284l75 18 75 20 74 20 75 7 75 5 75 4 74 4 75 4 75 2 75 2 75 1 74 1 75 0 75 1 75 0 74 1 75 0 75 1 75 0 74 1 75 0 75 1"/><path d="M335 1284l75 7 75 4 74 34 75 8 75 6 75 7 74 6 75 7 75 3 75 3 75 1 74 1 75 1 75 0 75 0 74 1 75 1 75 0 75 0 74 1 75 0 75 0"/><path d="M335 1283l75-10 75-8 74 35 75 14 75 14 75 9 74 11 75 8 75 5 75 3 75 2 74 1 75 1 75 1 75 1 74 0 75 1 75 0 75 0 74 0 75 1 75 0"/><path d="M335 1284l75 4 75 9 74 31 75 10 75 7 75 5 74 7 75 4 75 4 75 2 75 2 74 1 75 1 75 0 75 1 74 1 75 0 75 1 75 1 74 0 75 0 75 0"/><path d="M335 1283l75 5 75 5 74 26 75 14 75 8 75 8 74 7 75 6 75 3 75 3 75 2 74 1 75 0 75 0 75 0 74 1 75 0 75 1 75 0 74 1 75 0 75 1"/><path d="M335 1284l75 20 75 15 74 19 75 9 75 3 75 6 74 4 75 5 75 2 75 2 75 1 74 1 75 0 75 1 75 1 74 0 75 1 75 0 75 1 74 0 75 0 75 1"/><path d="M335 1283l75-16 75-11 74 42 75 19 75 11 75 12 74 9 75 9 75 3 75 3 75 2 74 2 75 1 75 0 75 1 74 0 75 1 75 0 75 1 74 0 75 0 75 0"/><path d="M335 1284l75 13 75 13 74 28 75 8 75 6 75 4 74 3 75 5 75 3 75 2 75 1 74 1 75 1 75 0 75 1 74 0 75 1 75 0 75 0 74 1 75 0 75 0"/><path d="M335 1283l75-6 75 3 74 38 75 11 75 11 75 5 74 8 75 7 75 4 75 3 75 1 74 1 75 0 75 2 75 0 74 0 75 1 75 0 75 1 74 0 75 0 75 0"/><path d="M335 1283l75-3 75-2 74 40 75 13 75 8 75 7 74 6 75 8 75 4 75 4 75 1 74 2 75 0 75 0 75 1 74 0 75 1 75 0 75 0 74 1 75 0 75 0"/><path d="M335 1284l75 18 75 29 74 13 75 6 75 4 75 3 74 5 75 4 75 2 75 1 75 1 74 1 75 1 75 1 75 0 74 1 75 0 75 1 75 0 74 0 75 1 75 1"/><path d="M335 1284l75 12 75 12 74 25 75 10 75 6 75 7 74 5 75 5 75 1 75 2 75 1 74 1 75 1 75 1 75 0 74 1 75 0 75 0 75 1 74 0 75 1 75 1"/><path d="M335 1283l75-4 75-9 74 42 75 12 75 8 75 10 74 8 75 9 75 5 75 2 75 1 74 2 75 1 75 0 75 1 74 1 75 0 75 1 75 1 74-1 75 1 75 0"/><path d="M335 1283l75-15 75-10 74 35 75 16 75 15 75 12 74 12 75 8 75 5 75 3 75 2 74 2 75 1 75 1 75 0 74 0 75 1 75 0 75 1 74 0 75 0 75 0"/><path d="M335 1283l75 1 75 2 74 36 75 13 75 4 75 7 74 7 75 6 75 3 75 4 75 2 74 2 75 0 75 1 75 1 74 0 75 0 75 1 75 0 74 1 75 0 75 1"/><path d="M335 1284l75 10 75 10 74 28 75 10 75 7 75 5 74 6 75 4 75 1 75 3 75 1 74 2 75 0 75 1 75 0 74 0 75 1 75 0 75 1 74 0 75 0 75 1"/><path d="M335 1283l75 3 75 0 74 33 75 16 75 6 75 10 74 5 75 6 75 3 75 2 75 2 74 1 75 1 75 1 75 0 74 0 75 1 75 0 75 1 74 0 75 0 75 0"/><path d="M335 1283l75-7 75-4 74 36 75 17 75 10 75 7 74 9 75 7 75 3 75 4 75 2 74 1 75 1 75 1 75 1 74 0 75 1 75 0 75 1 74 0 75 0 75 1"/><path d="M335 1284l75 27 75 29 74 6 75 5 75 4 75 4 74 4 75 4 75 1 75 2 75 1 74 1 75 0 75 1 75 1 74 0 75 0 75 1 75 0 74 1 75 0 75 1"/><path d="M335 1283l75-6 75-6 74 33 75 18 75 10 75 10 74 8 75 7 75 4 75 4 75 2 74 1 75 1 75 1 75 1 74 0 75 1 75 0 75-1 74 1 75 1 75 0"/><path d="M335 1284l75 27 75 28 74 7 75 5 75 4 75 4 74 4 75 4 75 1 75 2 75 1 74 1 75 0 75 1 75 1 74 0 75 0 75 1 75 0 74 1 75 0 75 1"/><path d="M335 1284l75 6 75 12 74 29 75 10 75 7 75 6 74 5 75 4 75 3 75 2 75 1 74 2 75 0 75 1 75 1 74 0 75 1 75 0 75 0 74 1 75 0 75 1"/><path d="M335 1284l75 6 75 11 74 23 75 11 75 10 75 6 74 7 75 6 75 3 75 1 75 1 74 1 75 1 75 1 75 0 74 1 75 1 75 0 75 1 74 0 75 0 75 1"/><path d="M335 1284l75 19 75 15 74 22 75 9 75 5 75 4 74 5 75 4 75 1 75 2 75 1 74 1 75 0 75 1 75 0 74 0 75 1 75 0 75 1 74 0 75 1 75 0"/></g><g stroke-dashoffset="14.8"><path d="M335 1283l75-4 75-1 74 34 75 18 75 6 75 7 74 6 75 10 75 3 75 3 75 3 74 2 75 0 75 0 75 1 74 0 75 1 75 0 75 1 74 1 75 0 75 0"/><path d="M335 1284l75 7 75 9 74 35 75 10 75 5 75 5 74 6 75 5 75 1 75 2 75 1 74 1 75 1 75 0 75 1 74 0 75 1 75 0 75 1 74 1 75 0 75 1"/><path d="M335 1283l75-16 75-13 74 39 75 18 75 10 75 16 74 9 75 9 75 5 75 4 75 1 74 2 75 1 75 1 75 2 74 0 75 0 75 0 75 0 74 1 75 0 75 0"/><path d="M335 1283l75-8 75-10 74 38 75 18 75 12 75 8 74 8 75 9 75 2 75 4 75 2 74 2 75 1 75 1 75 1 74-1 75 1 75 0 75 1 74 0 75 1 75 1"/><path d="M335 1283l75-1 75 0 74 35 75 10 75 12 75 7 74 6 75 8 75 2 75 3 75 1 74 2 75 2 75 0 75 1 74 1 75 0 75 1 75 0 74 1 75 0 75 1"/><path d="M335 1284l75 20 75 23 74 16 75 7 75 5 75 3 74 4 75 5 75 1 75 2 75 1 74 1 75 0 75 1 75 0 74 1 75 0 75 1 75 0 74 1 75 0 75 0"/><path d="M335 1283l75-14 75-13 74 46 75 17 75 13 75 9 74 5 75 10 75 4 75 4 75 2 74 1 75 1 75 1 75 0 74 0 75 1 75 1 75 1 74 0 75 0 75 0"/><path d="M335 1283l75-15 75-8 74 41 75 17 75 8 75 7 74 12 75 9 75 4 75 5 75 2 74 3 75 0 75 1 75 1 74 0 75 1 75 1 75 0 74 0 75 0 75 0"/><path d="M335 1284l75 16 75 16 74 21 75 9 75 6 75 4 74 5 75 4 75 3 75 2 75 0 74 1 75 1 75 0 75 1 74 0 75 1 75 1 75 0 74 0 75 1 75 0"/><path d="M335 1284l75 7 75 17 74 26 75 9 75 7 75 6 74 4 75 5 75 2 75 2 75 1 74 1 75 1 75 1 75 0 74 1 75 0 75 1 75 0 74 0 75 1 75 0"/><path d="M335 1284l75 20 75 20 74 20 75 5 75 3 75 5 74 4 75 5 75 2 75 2 75 1 74 1 75 0 75 1 75 0 74 1 75 0 75 1 75 0 74 1 75 0 75 1"/><path d="M335 1283l75 2 75-8 74 39 75 15 75 13 75 5 74 7 75 6 75 4 75 2 75 1 74 1 75 1 75 1 75 0 74 0 75 1 75 0 75 0 74 1 75 0 75 0"/><path d="M335 1284l75 15 75 8 74 26 75 10 75 7 75 5 74 4 75 5 75 2 75 3 75 1 74 1 75 1 75 0 75 1 74 0 75 1 75 0 75 0 74 1 75 1 75 0"/><path d="M335 1284l75 21 75 32 74 9 75 5 75 4 75 4 74 4 75 4 75 1 75 2 75 1 74 1 75 0 75 1 75 1 74 0 75 0 75 1 75 0 74 1 75 0 75 1"/><path d="M335 1283l75 6 75 8 74 29 75 13 75 4 75 3 74 8 75 6 75 4 75 2 75 2 74 1 75 0 75 1 75 1 74 1 75 0 75 1 75 0 74 1 75 0 75 1"/><path d="M335 1283l75-5 75-5 74 32 75 18 75 9 75 8 74 7 75 10 75 4 75 3 75 2 74 2 75 1 75 0 75 1 74 0 75 1 75 0 75 1 74 0 75 1 75 0"/><path d="M335 1283l75 0 75 2 74 36 75 11 75 7 75 9 74 6 75 6 75 3 75 4 75 1 74 2 75 0 75 1 75 0 74 1 75 0 75 1 75 0 74 1 75 1 75 0"/><path d="M335 1283l75-12 75-7 74 38 75 13 75 9 75 12 74 11 75 7 75 4 75 5 75 3 74 2 75 0 75 1 75 0 74 1 75 1 75 0 75 1 74 0 75 0 75 0"/><path d="M335 1283l75-16 75-17 74 43 75 20 75 17 75 6 74 10 75 9 75 6 75 3 75 2 74 2 75 1 75 1 75 0 74 1 75 0 75 0 75 1 74 0 75 0 75 1"/><path d="M335 1284l75 11 75 18 74 24 75 9 75 6 75 5 74 5 75 5 75 1 75 1 75 1 74 1 75 1 75 0 75 0 74 1 75 0 75 1 75 0 74 1 75 0 75 1"/><path d="M335 1284l75 6 75 19 74 27 75 10 75 3 75 7 74 5 75 4 75 2 75 2 75 1 74 1 75 0 75 1 75 0 74 1 75 0 75 1 75 0 74 0 75 1 75 0"/><path d="M335 1283l75-18 75-16 74 33 75 21 75 15 75 13 74 12 75 11 75 4 75 5 75 2 74 2 75 0 75 1 75 1 74 0 75 1 75 0 75 1 74-1 75 1 75 0"/><path d="M335 1283l75-17 75-14 74 40 75 19 75 12 75 10 74 8 75 12 75 5 75 6 75 1 74 2 75 0 75 1 75 1 74 0 75 1 75 0 75 1 74 0 75 1 75 0"/><path d="M335 1284l75 7 75 7 74 33 75 11 75 5 75 6 74 4 75 6 75 2 75 3 75 1 74 1 75 1 75 1 75 1 74 0 75 1 75 0 75 1 74 1 75 0 75 0"/><path d="M335 1284l75 16 75 21 74 22 75 6 75 4 75 4 74 4 75 4 75 2 75 2 75 1 74 1 75 1 75 0 75 1 74 0 75 1 75 0 75 1 74 0 75 1 75 0"/><path d="M335 1284l75 11 75 3 74 33 75 10 75 6 75 6 74 5 75 5 75 3 75 3 75 0 74 2 75 1 75 0 75 1 74 0 75 1 75 0 75 1 74 0 75 1 75 0"/><path d="M335 1283l75-20 75-16 74 39 75 17 75 15 75 12 74 11 75 11 75 5 75 5 75 2 74 2 75 1 75 1 75 1 74 0 75 1 75 0 75 0 74 0 75 1 75 0"/><path d="M335 1283l75-19 75-14 74 37 75 23 75 8 75 12 74 13 75 10 75 4 75 6 75 2 74 1 75 1 75 1 75 1 74 0 75 1 75 1 75 0 74 0 75 0 75 0"/><path d="M335 1284l75 13 75 12 74 28 75 10 75 5 75 5 74 4 75 5 75 1 75 2 75 2 74 1 75 0 75 1 75 0 74 0 75 1 75 0 75 1 74 0 75 0 75 1"/><path d="M335 1283l75 3 75 0 74 36 75 12 75 7 75 7 74 8 75 6 75 3 75 2 75 2 74 2 75 0 75 1 75 1 74 0 75 0 75 0 75 1 74 0 75 0 75 1"/><path d="M335 1284l75 15 75 13 74 26 75 7 75 5 75 3 74 7 75 4 75 3 75 2 75 1 74 1 75 1 75 0 75 0 74 1 75 0 75 1 75 0 74 0 75 1 75 0"/><path d="M335 1283l75-14 75-12 74 38 75 18 75 13 75 8 74 11 75 10 75 4 75 4 75 2 74 2 75 1 75 0 75 2 74 0 75 1 75 0 75 0 74 1 75-1 75 0"/><path d="M335 1284l75 12 75 16 74 27 75 8 75 5 75 3 74 4 75 5 75 2 75 3 75 1 74 1 75 1 75 1 75 0 74 1 75 0 75 0 75 1 74 0 75 1 75 0"/><path d="M335 1284l75 5 75 9 74 33 75 10 75 6 75 5 74 8 75 5 75 1 75 2 75 1 74 1 75 1 75 1 75 0 74 0 75 1 75 0 75 0 74 0 75 1 75 0"/><path d="M335 1283l75 2 75 1 74 36 75 16 75 5 75 6 74 4 75 8 75 3 75 3 75 1 74 2 75 1 75 0 75 0 74 1 75 1 75 0 75 1 74 0 75 0 75 0"/><path d="M335 1284l75 10 75 2 74 36 75 7 75 8 75 7 74 4 75 5 75 3 75 2 75 2 74 1 75 1 75 0 75 1 74 0 75 0 75 1 75 0 74 1 75 0 75 1"/><path d="M335 1283l75-15 75-13 74 38 75 19 75 9 75 14 74 9 75 12 75 4 75 3 75 2 74 1 75 2 75 1 75 1 74 0 75 1 75 0 75 0 74 0 75 0 75 0"/><path d="M335 1283l75-19 75-20 74 43 75 22 75 14 75 12 74 11 75 8 75 5 75 5 75 1 74 2 75 1 75 1 75 0 74 1 75 0 75 1 75 0 74 1 75-1 75 0"/><path d="M335 1283l75 3 75-5 74 31 75 17 75 11 75 6 74 7 75 8 75 3 75 3 75 1 74 2 75 0 75 1 75 1 74 0 75 0 75 1 75 0 74 1 75 0 75 1"/><path d="M335 1284l75 12 75 14 74 26 75 10 75 5 75 4 74 5 75 5 75 2 75 2 75 1 74 1 75 1 75 0 75 1 74 1 75 0 75 1 75 0 74 0 75 1 75 0"/><path d="M335 1283l75 2 75 5 74 30 75 13 75 6 75 7 74 7 75 7 75 3 75 3 75 1 74 2 75 1 75 1 75 0 74 1 75 0 75 1 75 0 74 1 75 0 75 0"/><path d="M335 1283l75-3 75-4 74 42 75 15 75 9 75 8 74 6 75 7 75 2 75 2 75 1 74 2 75 0 75 1 75 0 74 1 75 0 75 1 75 0 74 1 75 0 75 0"/><path d="M335 1283l75 1 75 0 74 39 75 11 75 6 75 7 74 9 75 5 75 3 75 3 75 2 74 1 75 0 75 1 75 1 74 0 75 0 75 1 75 1 74 0 75 0 75 1"/><path d="M335 1284l75 27 75 28 74 7 75 5 75 4 75 4 74 4 75 4 75 1 75 2 75 1 74 1 75 0 75 1 75 0 74 1 75 0 75 1 75 0 74 1 75 0 75 1"/><path d="M335 1284l75 12 75 14 74 26 75 10 75 6 75 3 74 5 75 5 75 2 75 2 75 1 74 1 75 1 75 0 75 1 74 0 75 1 75 0 75 1 74 0 75 0 75 0"/><path d="M335 1283l75-20 75-15 74 38 75 17 75 17 75 11 74 10 75 12 75 5 75 5 75 1 74 3 75 0 75 1 75 1 74 1 75 0 75 0 75 1 74 0 75 1 75 0"/><path d="M335 1283l75-11 75-10 74 41 75 14 75 9 75 12 74 10 75 9 75 4 75 4 75 1 74 2 75 1 75 1 75 0 74 1 75 0 75 0 75 1 74-1 75 1 75 0"/><path d="M335 1284l75 16 75 10 74 27 75 10 75 5 75 4 74 5 75 4 75 2 75 2 75 1 74 1 75 1 75 1 75 0 74 1 75 0 75 1 75 0 74 0 75 1 75 0"/><path d="M335 1283l75-20 75-20 74 39 75 22 75 18 75 12 74 12 75 7 75 5 75 4 75 2 74 2 75 1 75 1 75 0 74 1 75 1 75 0 75 1 74 0 75 0 75 1"/><path d="M335 1283l75-1 75-1 74 35 75 11 75 7 75 11 74 8 75 6 75 3 75 3 75 2 74 2 75 1 75 1 75 0 74 1 75 0 75 0 75 2 74 0 75 1 75-1"/><path d="M335 1284l75 9 75 11 74 30 75 6 75 7 75 7 74 4 75 5 75 2 75 2 75 1 74 2 75 0 75 1 75 1 74 0 75 1 75 0 75 1 74 0 75 0 75 1"/><path d="M335 1284l75 14 75 20 74 20 75 7 75 5 75 5 74 6 75 4 75 2 75 3 75 0 74 1 75 1 75 1 75 0 74 0 75 1 75 0 75 1 74 0 75 0 75 0"/><path d="M335 1283l75-3 75-6 74 32 75 19 75 12 75 8 74 7 75 7 75 4 75 3 75 1 74 2 75 1 75 0 75 1 74 0 75 0 75 1 75 1 74 0 75 1 75 0"/><path d="M335 1284l75 4 75 7 74 35 75 11 75 7 75 5 74 5 75 6 75 2 75 2 75 2 74 1 75 1 75 0 75 0 74 1 75 0 75 1 75 0 74 1 75 0 75 1"/><path d="M335 1283l75-11 75-18 74 36 75 20 75 17 75 11 74 9 75 10 75 4 75 4 75 0 74 2 75 1 75 1 75 1 74 1 75 0 75 1 75 0 74 1 75 0 75 0"/><path d="M335 1284l75 11 75 12 74 30 75 9 75 5 75 5 74 5 75 4 75 2 75 2 75 1 74 1 75 1 75 0 75 1 74 0 75 1 75 0 75 1 74 0 75 0 75 1"/><path d="M335 1284l75 17 75 19 74 21 75 6 75 7 75 3 74 5 75 5 75 1 75 2 75 1 74 1 75 0 75 1 75 0 74 1 75 0 75 1 75 0 74 1 75 0 75 1"/><path d="M335 1284l75 20 75 23 74 17 75 6 75 4 75 5 74 4 75 4 75 1 75 2 75 1 74 1 75 0 75 1 75 0 74 1 75 0 75 1 75 0 74 1 75 0 75 0"/><path d="M335 1284l75 23 75 27 74 11 75 6 75 4 75 4 74 3 75 4 75 2 75 2 75 1 74 1 75 0 75 1 75 0 74 1 75 0 75 1 75 0 74 1 75 0 75 1"/><path d="M335 1284l75 11 75 16 74 22 75 11 75 5 75 5 74 5 75 5 75 1 75 3 75 2 74 1 75 0 75 1 75 0 74 1 75 0 75 1 75 0 74 1 75 0 75 0"/><path d="M335 1283l75-11 75-13 74 36 75 21 75 13 75 12 74 8 75 9 75 3 75 2 75 2 74 2 75 1 75 1 75 0 74 1 75 1 75 0 75 0 74 0 75 0 75 1"/><path d="M335 1283l75-5 75-1 74 31 75 15 75 10 75 8 74 8 75 8 75 5 75 3 75 1 74 2 75 0 75 1 75 0 74 1 75 0 75 1 75 0 74 1 75 1 75 0"/><path d="M335 1283l75-3 75-4 74 39 75 11 75 8 75 11 74 6 75 8 75 4 75 3 75 0 74 3 75 0 75 0 75 1 74 1 75 1 75 0 75 1 74 1 75 0 75 0"/><path d="M335 1283l75-9 75-9 74 39 75 10 75 16 75 9 74 9 75 8 75 4 75 4 75 3 74 1 75 1 75 1 75 1 74 0 75 0 75 1 75 0 74 0 75 0 75 1"/><path d="M335 1284l75 15 75 13 74 27 75 7 75 4 75 5 74 5 75 6 75 2 75 1 75 1 74 1 75 1 75 0 75 1 74 0 75 1 75 0 75 1 74 0 75 1 75 0"/><path d="M335 1283l75-20 75-20 74 39 75 21 75 15 75 12 74 11 75 11 75 5 75 5 75 2 74 2 75 1 75 1 75 0 74 1 75 1 75 0 75 0 74 1 75 0 75 0"/><path d="M335 1284l75 16 75 18 74 19 75 10 75 4 75 3 74 6 75 5 75 3 75 1 75 2 74 1 75 0 75 1 75 0 74 1 75 0 75 0 75 1 74 0 75 1 75 0"/><path d="M335 1283l75-20 75-20 74 42 75 18 75 15 75 15 74 11 75 11 75 5 75 4 75 1 74 2 75 1 75 0 75 1 74 0 75 1 75 0 75 1 74 0 75 0 75 0"/><path d="M335 1284l75 5 75 12 74 28 75 12 75 7 75 5 74 4 75 7 75 2 75 2 75 2 74 1 75 1 75 0 75 1 74 0 75 0 75 1 75 0 74 1 75 0 75 0"/></g><g stroke-dashoffset="19.8"><path d="M335 1284l75 21 75 19 74 21 75 6 75 4 75 4 74 4 75 4 75 1 75 2 75 1 74 1 75 0 75 1 75 0 74 0 75 1 75 1 75 0 74 1 75 0 75 1"/><path d="M335 1283l75-14 75-15 74 43 75 16 75 11 75 6 74 11 75 14 75 5 75 4 75 2 74 2 75 1 75 1 75 0 74 1 75 0 75 0 75 0 74 1 75 0 75 1"/><path d="M335 1284l75 4 75 4 74 33 75 14 75 9 75 4 74 5 75 5 75 3 75 3 75 1 74 1 75 1 75 0 75 1 74 0 75 1 75 0 75 1 74 0 75 1 75 0"/><path d="M335 1283l75 2 75 4 74 30 75 16 75 9 75 8 74 5 75 2 75 5 75 3 75 1 74 1 75 0 75 1 75 1 74 0 75 1 75 1 75 0 74 0 75 2 75 0"/><path d="M335 1283l75-5 75-2 74 37 75 12 75 7 75 8 74 10 75 7 75 4 75 4 75 2 74 1 75 1 75 1 75 1 74 0 75 1 75 0 75 1 74-1 75 1 75 0"/><path d="M335 1284l75 17 75 18 74 23 75 7 75 5 75 4 74 4 75 5 75 1 75 2 75 1 74 1 75 0 75 1 75 0 74 1 75 0 75 0 75 1 74 1 75 0 75 0"/><path d="M335 1284l75 6 75 11 74 30 75 13 75 3 75 6 74 5 75 4 75 2 75 3 75 2 74 1 75 1 75 1 75 0 74 1 75 0 75 1 75 0 74 0 75 1 75 0"/><path d="M335 1284l75 6 75 6 74 34 75 13 75 6 75 6 74 5 75 5 75 2 75 2 75 1 74 1 75 1 75 0 75 0 74 1 75 0 75 1 75 1 74 0 75 0 75 1"/><path d="M335 1284l75 19 75 17 74 22 75 7 75 5 75 3 74 5 75 4 75 2 75 1 75 2 74 1 75 0 75 1 75 0 74 0 75 1 75 1 75 0 74 1 75 0 75 1"/><path d="M335 1283l75 5 75 3 74 35 75 9 75 6 75 8 74 6 75 6 75 3 75 3 75 2 74 0 75 1 75 1 75 1 74 0 75 0 75 1 75 0 74 1 75 0 75 1"/><path d="M335 1283l75 5 75-2 74 38 75 13 75 4 75 8 74 6 75 7 75 3 75 2 75 2 74 1 75 1 75 1 75 0 74 0 75 1 75 1 75 0 74 0 75 0 75 0"/><path d="M335 1283l75-3 75 2 74 26 75 15 75 13 75 9 74 7 75 8 75 3 75 4 75 1 74 1 75 1 75 0 75 1 74 0 75 1 75 0 75 1 74 0 75 0 75 0"/><path d="M335 1284l75 9 75 12 74 31 75 8 75 7 75 4 74 5 75 5 75 1 75 3 75 1 74 1 75 1 75 0 75 1 74 1 75 0 75 0 75 1 74 1 75 0 75 1"/><path d="M335 1284l75 12 75 14 74 27 75 8 75 5 75 7 74 5 75 4 75 2 75 1 75 1 74 1 75 1 75 1 75 0 74 1 75 0 75 0 75 1 74 0 75 1 75 0"/><path d="M335 1284l75 11 75 17 74 24 75 9 75 7 75 5 74 4 75 4 75 2 75 2 75 1 74 1 75 1 75 0 75 1 74 1 75 0 75 0 75 1 74 0 75 1 75 0"/><path d="M335 1284l75 7 75 11 74 32 75 10 75 7 75 4 74 4 75 5 75 2 75 2 75 1 74 2 75 0 75 1 75 1 74 0 75 1 75 0 75 0 74 1 75 1 75 0"/><path d="M335 1284l75 19 75 27 74 15 75 5 75 5 75 4 74 3 75 4 75 2 75 2 75 1 74 1 75 0 75 1 75 0 74 1 75 0 75 1 75 0 74 1 75 0 75 0"/><path d="M335 1284l75 22 75 22 74 16 75 6 75 3 75 5 74 4 75 5 75 1 75 2 75 1 74 1 75 0 75 1 75 0 74 1 75 0 75 1 75 0 74 1 75 0 75 1"/><path d="M335 1284l75 27 75 29 74 6 75 5 75 4 75 4 74 4 75 4 75 1 75 2 75 1 74 1 75 0 75 1 75 1 74 0 75 0 75 1 75 1 74 0 75 0 75 1"/><path d="M335 1283l75-4 75 3 74 41 75 13 75 10 75 6 74 6 75 5 75 2 75 2 75 2 74 1 75 1 75 0 75 1 74 0 75 1 75 0 75 1 74 1 75 0 75 0"/><path d="M335 1284l75 21 75 26 74 12 75 7 75 5 75 4 74 3 75 4 75 2 75 2 75 1 74 1 75 0 75 1 75 0 74 1 75 0 75 1 75 0 74 1 75 0 75 1"/><path d="M335 1284l75 16 75 20 74 23 75 5 75 5 75 3 74 5 75 5 75 2 75 2 75 1 74 1 75 0 75 1 75 0 74 1 75 0 75 1 75 0 74 1 75 0 75 1"/><path d="M335 1284l75 13 75 17 74 24 75 8 75 5 75 4 74 5 75 5 75 2 75 1 75 2 74 1 75 1 75 0 75 1 74 0 75 1 75 0 75 1 74 0 75 0 75 0"/><path d="M335 1283l75 5 75 2 74 37 75 9 75 5 75 7 74 6 75 7 75 3 75 3 75 1 74 2 75 1 75 0 75 0 74 1 75 0 75 1 75 0 74 1 75 0 75 0"/><path d="M335 1283l75-12 75-18 74 37 75 20 75 11 75 10 74 13 75 9 75 7 75 4 75 3 74 1 75 0 75 2 75 0 74 1 75 0 75 1 75 0 74 0 75-1 75 0"/><path d="M335 1284l75 12 75 5 74 33 75 9 75 5 75 7 74 6 75 4 75 1 75 2 75 1 74 2 75 0 75 1 75 0 74 0 75 1 75 0 75 1 74 1 75 0 75 0"/><path d="M335 1283l75 4 75 2 74 33 75 10 75 8 75 8 74 8 75 7 75 2 75 2 75 1 74 1 75 1 75 1 75 1 74 0 75 0 75 1 75 0 74 1 75 0 75 0"/><path d="M335 1283l75 1 75 5 74 33 75 14 75 8 75 8 74 4 75 6 75 4 75 2 75 1 74 2 75 0 75 1 75 0 74 0 75 1 75 0 75 0 74 1 75 0 75 1"/><path d="M335 1283l75-20 75-20 74 39 75 22 75 23 75 7 74 8 75 13 75 4 75 4 75 2 74 1 75 1 75 1 75 1 74 0 75 1 75 0 75 0 74 0 75 1 75 1"/><path d="M335 1284l75 15 75 20 74 20 75 8 75 5 75 5 74 4 75 4 75 2 75 2 75 2 74 1 75 0 75 1 75 0 74 0 75 1 75 0 75 1 74 0 75 1 75 0"/><path d="M335 1284l75 18 75 14 74 23 75 9 75 4 75 6 74 4 75 4 75 1 75 2 75 1 74 1 75 1 75 0 75 1 74 0 75 1 75 0 75 1 74 0 75 1 75 0"/><path d="M335 1284l75 19 75 14 74 23 75 8 75 3 75 6 74 4 75 5 75 1 75 2 75 1 74 2 75 0 75 1 75 0 74 1 75 0 75 1 75 0 74 1 75 0 75 1"/><path d="M335 1283l75-9 75-10 74 38 75 18 75 10 75 11 74 7 75 8 75 6 75 3 75 2 74 1 75 1 75 1 75 0 74 0 75 1 75 1 75 0 74 0 75 0 75 1"/><path d="M335 1284l75 12 75 16 74 25 75 11 75 4 75 5 74 5 75 4 75 1 75 3 75 1 74 1 75 0 75 1 75 0 74 1 75 0 75 1 75 0 74 1 75 0 75 1"/><path d="M335 1283l75-7 75-4 74 38 75 21 75 10 75 4 74 6 75 8 75 3 75 3 75 2 74 1 75 1 75 1 75 1 74 0 75 0 75 1 75 0 74 0 75 1 75 0"/><path d="M335 1284l75 21 75 21 74 18 75 7 75 3 75 4 74 4 75 5 75 1 75 2 75 1 74 1 75 0 75 1 75 0 74 1 75 0 75 1 75 0 74 1 75 0 75 1"/><path d="M335 1283l75-19 75-13 74 44 75 11 75 15 75 13 74 11 75 10 75 5 75 5 75 2 74 1 75 1 75 0 75 1 74 0 75 1 75 0 75 1 74 0 75 0 75 1"/><path d="M335 1283l75-2 75 0 74 31 75 15 75 8 75 10 74 7 75 6 75 5 75 3 75 1 74 2 75 1 75 0 75 1 74 0 75 1 75 1 75 0 74 0 75 1 75 0"/><path d="M335 1283l75-11 75-10 74 32 75 23 75 11 75 15 74 8 75 8 75 3 75 3 75 2 74 1 75 1 75 1 75 0 74 0 75 1 75 1 75 0 74 0 75 0 75 1"/><path d="M335 1284l75 21 75 22 74 18 75 6 75 3 75 5 74 3 75 4 75 2 75 2 75 1 74 1 75 0 75 1 75 0 74 1 75 0 75 1 75 0 74 1 75 0 75 1"/><path d="M335 1284l75 12 75 10 74 31 75 9 75 4 75 6 74 5 75 4 75 2 75 2 75 1 74 1 75 1 75 0 75 1 74 0 75 1 75 0 75 1 74 0 75 1 75 0"/><path d="M335 1283l75-7 75-7 74 40 75 13 75 11 75 10 74 9 75 7 75 4 75 3 75 1 74 2 75 1 75 0 75 1 74 0 75 1 75 0 75 1 74 1 75 0 75 0"/><path d="M335 1283l75 0 75-8 74 39 75 10 75 10 75 9 74 9 75 8 75 3 75 3 75 2 74 1 75 1 75 0 75 1 74 0 75 0 75 0 75 1 74 0 75 1 75 0"/><path d="M335 1283l75-20 75-20 74 44 75 20 75 18 75 11 74 10 75 8 75 3 75 5 75 3 74 2 75 1 75 1 75 0 74 1 75 0 75 1 75 0 74 0 75 0 75 0"/><path d="M335 1284l75 13 75 15 74 25 75 11 75 3 75 5 74 4 75 5 75 2 75 2 75 1 74 1 75 1 75 0 75 1 74 0 75 1 75 0 75 0 74 1 75 1 75 0"/><path d="M335 1284l75 21 75 21 74 17 75 7 75 4 75 5 74 4 75 4 75 1 75 2 75 1 74 1 75 0 75 1 75 0 74 1 75 0 75 1 75 0 74 1 75 0 75 1"/><path d="M335 1283l75-13 75-11 74 43 75 17 75 15 75 8 74 8 75 9 75 2 75 3 75 2 74 2 75 1 75 0 75 0 74 1 75 1 75 0 75 0 74 0 75 1 75 0"/><path d="M335 1283l75 2 75 3 74 31 75 14 75 10 75 7 74 6 75 6 75 3 75 3 75 1 74 1 75 1 75 1 75 0 74 0 75 1 75 0 75 0 74 0 75 1 75 0"/><path d="M335 1283l75-7 75-4 74 38 75 14 75 13 75 9 74 8 75 7 75 3 75 2 75 2 74 1 75 1 75 1 75 0 74 0 75 1 75 0 75 0 74 1 75 1 75 0"/><path d="M335 1284l75 1 75 6 74 31 75 14 75 8 75 8 74 6 75 5 75 3 75 2 75 1 74 2 75 0 75 1 75 0 74 0 75 1 75 0 75 1 74 0 75 0 75 1"/><path d="M335 1284l75 18 75 18 74 19 75 8 75 4 75 6 74 5 75 4 75 2 75 2 75 0 74 1 75 1 75 0 75 1 74 1 75 0 75 1 75 0 74 1 75 0 75 1"/><path d="M335 1283l75-16 75-12 74 39 75 16 75 17 75 10 74 10 75 11 75 3 75 5 75 1 74 1 75 1 75 0 75 1 74 0 75 1 75 0 75 0 74 0 75 1 75 0"/><path d="M335 1283l75-14 75-10 74 36 75 20 75 10 75 10 74 9 75 10 75 5 75 4 75 1 74 2 75 1 75 1 75 0 74 1 75 1 75 1 75 0 74 0 75 1 75 0"/><path d="M335 1284l75 27 75 29 74 6 75 5 75 4 75 4 74 4 75 4 75 1 75 2 75 1 74 1 75 0 75 1 75 1 74 0 75 0 75 1 75 1 74 0 75 0 75 1"/><path d="M335 1284l75 0 75 2 74 43 75 11 75 5 75 4 74 7 75 6 75 3 75 3 75 1 74 1 75 0 75 1 75 1 74 0 75 1 75 0 75 1 74 0 75 0 75 1"/><path d="M335 1284l75 21 75 25 74 14 75 6 75 4 75 4 74 4 75 4 75 2 75 1 75 2 74 0 75 1 75 1 75 0 74 1 75 0 75 0 75 1 74 0 75 1 75 0"/><path d="M335 1283l75 2 75-4 74 39 75 19 75 7 75 6 74 4 75 6 75 4 75 2 75 1 74 1 75 1 75 1 75 0 74 0 75 1 75 0 75 0 74 1 75 0 75 0"/><path d="M335 1283l75-3 75-3 74 35 75 19 75 9 75 10 74 5 75 6 75 2 75 4 75 1 74 2 75 0 75 1 75 0 74 1 75 0 75 0 75 1 74 0 75 1 75 0"/><path d="M335 1283l75-1 75 3 74 33 75 16 75 8 75 8 74 5 75 6 75 3 75 3 75 1 74 2 75 1 75 0 75 1 74 0 75 1 75 0 75 0 74 0 75 1 75 0"/><path d="M335 1283l75-11 75-12 74 38 75 19 75 14 75 5 74 9 75 9 75 5 75 5 75 2 74 1 75 1 75 1 75 1 74 0 75 0 75 0 75 1 74 0 75 1 75 1"/><path d="M335 1284l75 25 75 20 74 17 75 5 75 4 75 4 74 4 75 4 75 1 75 2 75 1 74 1 75 0 75 1 75 0 74 1 75 0 75 1 75 0 74 1 75 0 75 1"/><path d="M335 1284l75 11 75 9 74 25 75 11 75 8 75 6 74 5 75 6 75 2 75 2 75 1 74 1 75 0 75 1 75 0 74 1 75 0 75 1 75 0 74 1 75 0 75 1"/><path d="M335 1284l75 10 75 10 74 32 75 11 75 5 75 5 74 5 75 3 75 1 75 3 75 1 74 1 75 1 75 0 75 1 74 0 75 0 75 1 75 0 74 1 75 1 75 0"/><path d="M335 1284l75 20 75 26 74 14 75 7 75 4 75 3 74 5 75 4 75 1 75 2 75 1 74 1 75 0 75 1 75 0 74 1 75 0 75 1 75 0 74 1 75 0 75 1"/><path d="M335 1283l75-17 75-9 74 40 75 15 75 14 75 13 74 8 75 9 75 4 75 3 75 2 74 1 75 2 75 0 75 1 74 1 75 0 75 1 75 0 74 0 75 0 75 0"/><path d="M335 1283l75-16 75-24 74 40 75 22 75 19 75 13 74 9 75 10 75 5 75 4 75 2 74 2 75 0 75 1 75 0 74 1 75 0 75 1 75 0 74 1 75 0 75 0"/><path d="M335 1283l75-9 75-14 74 44 75 15 75 8 75 10 74 10 75 10 75 3 75 4 75 2 74 1 75 1 75 1 75 1 74 0 75 1 75 0 75 1 74 0 75 0 75 1"/><path d="M335 1284l75 9 75 11 74 29 75 6 75 7 75 7 74 5 75 6 75 1 75 3 75 1 74 2 75 0 75 1 75 1 74 0 75 0 75 1 75 0 74 1 75 0 75 0"/><path d="M335 1283l75-13 75-7 74 42 75 17 75 9 75 10 74 6 75 9 75 4 75 4 75 2 74 2 75 1 75 0 75 1 74 0 75 1 75 0 75 1 74 0 75 0 75 0"/></g><g stroke-dashoffset="24.7"><path d="M335 1283l75-7 75-5 74 41 75 12 75 10 75 6 74 9 75 6 75 4 75 5 75 1 74 2 75 1 75 1 75 0 74 1 75 0 75 1 75 0 74 0 75 0 75 0"/><path d="M335 1284l75 22 75 26 74 13 75 6 75 4 75 4 74 4 75 4 75 1 75 2 75 1 74 1 75 0 75 1 75 1 74 0 75 0 75 1 75 1 74 0 75 0 75 1"/><path d="M335 1284l75 4 75 6 74 29 75 19 75 6 75 6 74 5 75 5 75 1 75 3 75 1 74 1 75 1 75 1 75 0 74 1 75 0 75 1 75 0 74 0 75 1 75 0"/><path d="M335 1284l75 20 75 22 74 17 75 6 75 5 75 4 74 4 75 4 75 2 75 2 75 1 74 1 75 0 75 1 75 0 74 1 75 0 75 1 75 0 74 1 75 0 75 0"/><path d="M335 1284l75 22 75 28 74 12 75 5 75 3 75 3 74 5 75 4 75 2 75 1 75 1 74 1 75 1 75 1 75 0 74 0 75 1 75 0 75 1 74 0 75 1 75 0"/><path d="M335 1283l75 4 75 0 74 36 75 12 75 12 75 6 74 5 75 5 75 2 75 3 75 1 74 1 75 1 75 0 75 1 74 0 75 0 75 1 75 0 74 1 75 0 75 0"/><path d="M335 1283l75-6 75-9 74 30 75 15 75 11 75 13 74 11 75 9 75 4 75 4 75 1 74 2 75 1 75 0 75 1 74 1 75 0 75 1 75 0 74 0 75 0 75 1"/><path d="M335 1283l75-2 75 3 74 37 75 15 75 10 75 6 74 3 75 6 75 3 75 2 75 2 74 1 75 1 75 1 75 0 74 0 75 1 75 0 75 1 74 0 75 1 75 0"/><path d="M335 1284l75 23 75 25 74 14 75 5 75 4 75 4 74 4 75 4 75 1 75 2 75 1 74 1 75 0 75 1 75 0 74 1 75 0 75 1 75 0 74 1 75 0 75 1"/><path d="M335 1283l75-3 75-8 74 38 75 13 75 11 75 8 74 9 75 8 75 3 75 3 75 1 74 2 75 1 75 1 75 1 74 0 75 0 75 1 75 0 74 1 75 0 75-1"/><path d="M335 1284l75 23 75 27 74 11 75 5 75 4 75 4 74 5 75 4 75 1 75 2 75 1 74 1 75 0 75 1 75 0 74 1 75 0 75 1 75 0 74 1 75 0 75 1"/><path d="M335 1283l75-13 75-13 74 36 75 16 75 14 75 13 74 8 75 10 75 4 75 5 75 3 74 1 75 1 75 1 75 1 74 0 75 1 75 0 75 1 74 0 75 0 75 0"/><path d="M335 1284l75 11 75 13 74 25 75 12 75 7 75 3 74 5 75 6 75 1 75 2 75 1 74 1 75 1 75 0 75 1 74 0 75 1 75 0 75 1 74 0 75 1 75 1"/><path d="M335 1283l75-12 75-9 74 37 75 16 75 15 75 6 74 13 75 8 75 4 75 5 75 1 74 2 75 1 75 0 75 1 74 0 75 0 75 1 75 0 74 1 75 0 75 0"/><path d="M335 1283l75-12 75-12 74 31 75 21 75 12 75 14 74 11 75 8 75 5 75 4 75 1 74 2 75 1 75 1 75 0 74 1 75 1 75 0 75 0 74 1 75 0 75 0"/><path d="M335 1283l75-7 75-6 74 32 75 20 75 8 75 7 74 12 75 11 75 4 75 2 75 1 74 2 75 0 75 1 75 1 74 0 75 1 75 1 75 0 74 0 75 1 75 0"/><path d="M335 1283l75-9 75-12 74 38 75 15 75 11 75 11 74 7 75 10 75 4 75 5 75 2 74 1 75 1 75 2 75 0 74 1 75 0 75 0 75 1 74 1 75 0 75 1"/><path d="M335 1284l75 5 75 9 74 34 75 10 75 4 75 7 74 6 75 5 75 1 75 3 75 1 74 1 75 1 75 0 75 1 74 0 75 1 75 0 75 1 74 0 75 0 75 1"/><path d="M335 1284l75 15 75 23 74 18 75 7 75 5 75 5 74 4 75 5 75 2 75 2 75 1 74 1 75 0 75 1 75 0 74 1 75 0 75 1 75 0 74 1 75 0 75 0"/><path d="M335 1283l75 1 75 9 74 31 75 10 75 11 75 6 74 8 75 4 75 2 75 2 75 2 74 1 75 1 75 0 75 1 74 0 75 1 75 0 75 1 74 0 75 1 75 0"/><path d="M335 1283l75-15 75-21 74 37 75 20 75 14 75 12 74 12 75 11 75 5 75 5 75 2 74 2 75 1 75 1 75 0 74 1 75 0 75 1 75-1 74 0 75 1 75 0"/><path d="M335 1284l75 9 75 16 74 29 75 9 75 4 75 3 74 5 75 6 75 2 75 2 75 1 74 2 75 0 75 1 75 0 74 1 75 0 75 1 75 0 74 1 75 0 75 1"/><path d="M335 1283l75-20 75-20 74 39 75 21 75 15 75 12 74 11 75 11 75 5 75 5 75 2 74 2 75 1 75 1 75 0 74 1 75 1 75 0 75 0 74 0 75 1 75 0"/><path d="M335 1284l75 3 75 9 74 32 75 12 75 6 75 8 74 6 75 5 75 2 75 2 75 1 74 1 75 0 75 1 75 1 74 0 75 0 75 1 75 0 74 0 75 1 75 0"/><path d="M335 1283l75-17 75-16 74 41 75 17 75 13 75 11 74 11 75 9 75 5 75 5 75 2 74 3 75 0 75 1 75 1 74 0 75 1 75 0 75 1 74 1 75 0 75 0"/><path d="M335 1284l75 22 75 21 74 19 75 5 75 4 75 4 74 4 75 4 75 1 75 2 75 1 74 1 75 0 75 1 75 0 74 1 75 0 75 1 75 0 74 1 75 0 75 1"/><path d="M335 1284l75 26 75 20 74 14 75 6 75 5 75 4 74 4 75 4 75 1 75 2 75 1 74 1 75 0 75 1 75 1 74 0 75 0 75 1 75 0 74 1 75 0 75 1"/><path d="M335 1283l75 1 75 1 74 30 75 12 75 8 75 11 74 8 75 8 75 3 75 2 75 1 74 1 75 1 75 1 75 0 74 1 75 1 75 0 75 0 74 1 75 1 75 0"/><path d="M335 1283l75-16 75-18 74 33 75 21 75 15 75 12 74 11 75 11 75 5 75 5 75 2 74 2 75 1 75 1 75 1 74 0 75 1 75 0 75 0 74 0 75 1 75 0"/><path d="M335 1283l75-12 75-11 74 42 75 16 75 14 75 7 74 8 75 10 75 3 75 4 75 1 74 3 75 0 75 1 75 1 74 0 75 1 75 1 75 0 74 0 75 0 75 0"/><path d="M335 1283l75 3 75 0 74 39 75 15 75 5 75 7 74 6 75 5 75 2 75 2 75 1 74 1 75 1 75 1 75 0 74 1 75 0 75 1 75 0 74 0 75 0 75 0"/><path d="M335 1284l75 16 75 19 74 23 75 6 75 3 75 5 74 5 75 4 75 2 75 2 75 1 74 1 75 1 75 0 75 1 74 0 75 1 75 0 75 1 74 0 75 1 75 1"/><path d="M335 1284l75 11 75 17 74 27 75 6 75 5 75 4 74 4 75 7 75 1 75 3 75 1 74 1 75 1 75 0 75 1 74 0 75 0 75 1 75 0 74 1 75 0 75 0"/><path d="M335 1284l75 22 75 29 74 11 75 5 75 4 75 4 74 4 75 4 75 1 75 2 75 1 74 1 75 0 75 1 75 0 74 1 75 0 75 1 75 0 74 1 75 0 75 1"/><path d="M335 1284l75 27 75 24 74 10 75 6 75 3 75 5 74 4 75 4 75 1 75 2 75 1 74 1 75 0 75 1 75 0 74 1 75 0 75 1 75 0 74 1 75 0 75 1"/><path d="M335 1284l75 8 75 10 74 31 75 11 75 6 75 6 74 5 75 4 75 2 75 2 75 1 74 1 75 0 75 1 75 0 74 0 75 1 75 0 75 1 74 0 75 0 75 0"/><path d="M335 1284l75 9 75 10 74 29 75 8 75 8 75 3 74 7 75 5 75 1 75 3 75 1 74 2 75 1 75 1 75 0 74 1 75 0 75 1 75 0 74 1 75 0 75 1"/><path d="M335 1283l75-12 75-14 74 43 75 18 75 13 75 9 74 6 75 10 75 4 75 4 75 2 74 2 75 1 75 0 75 1 74 1 75 0 75 1 75 0 74 0 75 1 75 0"/><path d="M335 1283l75-3 75-2 74 34 75 14 75 8 75 11 74 8 75 8 75 4 75 2 75 1 74 1 75 1 75 1 75 0 74 0 75 1 75 1 75 0 74 1 75 0 75 0"/><path d="M335 1284l75 7 75 3 74 33 75 12 75 6 75 6 74 4 75 7 75 3 75 3 75 2 74 1 75 1 75 0 75 1 74 0 75 0 75 1 75 0 74 0 75 1 75 1"/><path d="M335 1283l75-14 75-21 74 40 75 16 75 18 75 14 74 12 75 8 75 4 75 4 75 2 74 1 75 2 75 0 75 1 74 0 75 1 75 0 75 0 74 1 75 0 75 1"/><path d="M335 1284l75 16 75 20 74 18 75 7 75 8 75 4 74 4 75 5 75 2 75 1 75 1 74 1 75 1 75 0 75 0 74 1 75 1 75 0 75 0 74 1 75 1 75 0"/><path d="M335 1283l75-2 75 2 74 31 75 15 75 6 75 7 74 9 75 7 75 5 75 3 75 2 74 1 75 1 75 1 75 1 74 0 75 0 75 1 75 0 74 0 75 1 75 0"/><path d="M335 1283l75 1 75 3 74 36 75 11 75 4 75 8 74 7 75 7 75 3 75 4 75 1 74 2 75 0 75 1 75 0 74 1 75 0 75 1 75 0 74 0 75 0 75 1"/><path d="M335 1283l75-1 75 1 74 35 75 18 75 6 75 6 74 7 75 6 75 3 75 3 75 1 74 1 75 0 75 2 75 0 74 0 75 0 75 1 75 1 74 0 75 1 75 0"/><path d="M335 1284l75 7 75 5 74 36 75 11 75 4 75 5 74 6 75 6 75 2 75 2 75 1 74 1 75 1 75 0 75 1 74 0 75 1 75 1 75 0 74 0 75 0 75 1"/><path d="M335 1283l75-3 75-9 74 34 75 23 75 11 75 6 74 8 75 8 75 3 75 2 75 2 74 1 75 1 75 1 75 0 74 1 75 1 75-1 75 1 74 0 75 0 75 0"/><path d="M335 1284l75 10 75 11 74 25 75 8 75 8 75 6 74 6 75 6 75 2 75 3 75 1 74 1 75 0 75 1 75 0 74 1 75-1 75 1 75 1 74 0 75 0 75 1"/><path d="M335 1283l75 2 75-4 74 39 75 13 75 8 75 7 74 5 75 7 75 3 75 4 75 1 74 1 75 1 75 1 75 0 74 0 75 1 75 0 75 0 74 1 75 1 75 1"/><path d="M335 1284l75 15 75 15 74 27 75 7 75 5 75 5 74 4 75 3 75 2 75 2 75 1 74 1 75 1 75 0 75 1 74 0 75 1 75 0 75 1 74 1 75 0 75 0"/><path d="M335 1283l75-5 75-7 74 41 75 19 75 7 75 10 74 7 75 5 75 2 75 3 75 1 74 2 75 1 75 1 75 0 74 1 75 0 75 1 75 0 74 1 75 0 75 0"/><path d="M335 1284l75 22 75 25 74 15 75 5 75 4 75 4 74 4 75 4 75 1 75 2 75 1 74 1 75 0 75 1 75 0 74 1 75 0 75 1 75 0 74 1 75 0 75 0"/><path d="M335 1284l75 5 75 9 74 26 75 14 75 7 75 4 74 7 75 5 75 3 75 3 75 2 74 1 75 0 75 1 75 0 74 1 75 0 75 1 75 0 74 0 75 1 75 0"/><path d="M335 1283l75-9 75-2 74 41 75 14 75 12 75 6 74 5 75 6 75 4 75 5 75 1 74 3 75 0 75 1 75 0 74 1 75 1 75 0 75 1 74 0 75 0 75 0"/><path d="M335 1284l75 11 75 12 74 30 75 5 75 6 75 6 74 6 75 6 75 2 75 1 75 1 74 1 75 1 75 0 75 1 74 0 75 1 75 0 75 1 74 0 75 1 75 0"/><path d="M335 1284l75 23 75 29 74 10 75 5 75 4 75 4 74 4 75 4 75 1 75 2 75 1 74 1 75 0 75 1 75 0 74 1 75 0 75 1 75 0 74 1 75 0 75 1"/><path d="M335 1283l75-17 75-19 74 35 75 23 75 16 75 11 74 11 75 11 75 3 75 5 75 2 74 2 75 1 75 2 75 0 74 0 75 1 75 1 75 0 74 0 75 0 75 0"/><path d="M335 1283l75-3 75-2 74 44 75 13 75 8 75 7 74 6 75 4 75 3 75 3 75 2 74 1 75 1 75 0 75 0 74 1 75 0 75 1 75 1 74 0 75 0 75 0"/><path d="M335 1284l75 19 75 19 74 18 75 9 75 4 75 5 74 4 75 4 75 1 75 3 75 0 74 1 75 1 75 0 75 1 74 0 75 1 75 0 75 1 74 1 75 0 75 1"/><path d="M335 1283l75-15 75-7 74 33 75 24 75 12 75 12 74 6 75 8 75 4 75 4 75 2 74 2 75 0 75 1 75 1 74 0 75 1 75 0 75 0 74 0 75 0 75 0"/><path d="M335 1283l75-7 75-4 74 37 75 21 75 7 75 9 74 6 75 8 75 2 75 4 75 1 74 2 75 1 75 1 75 0 74 0 75 1 75 0 75 0 74 1 75 0 75 0"/><path d="M335 1284l75 4 75 8 74 31 75 11 75 6 75 5 74 7 75 6 75 3 75 2 75 2 74 1 75 1 75 1 75 0 74 0 75 1 75 0 75 0 74 1 75 0 75 1"/><path d="M335 1283l75 5 75 7 74 31 75 15 75 5 75 6 74 5 75 6 75 2 75 3 75 1 74 2 75 1 75 0 75 0 74 1 75 1 75 0 75 0 74 1 75 0 75 0"/><path d="M335 1283l75-12 75-14 74 42 75 13 75 14 75 10 74 7 75 10 75 5 75 4 75 2 74 2 75 1 75 1 75 1 74 0 75 1 75 0 75 1 74-1 75 1 75 0"/><path d="M335 1284l75 7 75 13 74 27 75 13 75 2 75 7 74 6 75 6 75 2 75 1 75 1 74 2 75 0 75 1 75 0 74 1 75 1 75 0 75 1 74 0 75 0 75 1"/><path d="M335 1283l75-5 75-10 74 37 75 15 75 11 75 8 74 9 75 8 75 4 75 5 75 1 74 2 75 0 75 1 75 0 74 1 75 0 75 1 75 0 74 1 75 0 75 1"/><path d="M335 1284l75 18 75 14 74 22 75 8 75 6 75 5 74 4 75 5 75 2 75 1 75 2 74 1 75 0 75 1 75 0 74 1 75 0 75 1 75 0 74 0 75 1 75 0"/><path d="M335 1283l75-18 75-17 74 35 75 25 75 18 75 12 74 8 75 9 75 4 75 4 75 2 74 2 75 1 75 1 75 0 74 0 75 1 75 1 75 0 74 0 75 1 75 0"/><path d="M335 1283l75-5 75-2 74 34 75 15 75 5 75 7 74 9 75 10 75 3 75 4 75 2 74 3 75 1 75 1 75 0 74 1 75 0 75 1 75 0 74 0 75 1 75 0"/></g><g stroke-dashoffset="29.6"><path d="M335 1283l75 1 75-1 74 37 75 15 75 8 75 5 74 6 75 8 75 3 75 2 75 1 74 1 75 1 75 1 75 0 74 1 75 0 75 0 75 1 74 0 75 1 75 0"/><path d="M335 1283l75-7 75-9 74 33 75 16 75 10 75 10 74 9 75 8 75 5 75 5 75 2 74 3 75 1 75 0 75 1 74 0 75 0 75 1 75 1 74-1 75 1 75 1"/><path d="M335 1284l75 14 75 11 74 28 75 6 75 6 75 5 74 6 75 5 75 2 75 2 75 1 74 1 75 1 75 0 75 1 74 0 75 1 75 0 75 1 74 0 75 1 75 0"/><path d="M335 1284l75 22 75 21 74 19 75 5 75 4 75 4 74 3 75 5 75 1 75 2 75 1 74 1 75 0 75 1 75 0 74 1 75 0 75 1 75 0 74 1 75 0 75 0"/><path d="M335 1284l75 8 75 15 74 27 75 10 75 6 75 5 74 5 75 4 75 2 75 2 75 1 74 1 75 1 75 1 75 0 74 1 75 0 75 1 75 0 74 0 75 1 75 1"/><path d="M335 1284l75 8 75 14 74 29 75 7 75 7 75 5 74 4 75 6 75 2 75 2 75 1 74 1 75 1 75 0 75 1 74 1 75 0 75 1 75 0 74 1 75 0 75 0"/><path d="M335 1284l75 15 75 21 74 22 75 6 75 5 75 4 74 3 75 5 75 2 75 2 75 1 74 1 75 0 75 1 75 0 74 1 75 1 75 0 75 1 74 0 75 1 75 0"/><path d="M335 1283l75-2 75-3 74 42 75 14 75 5 75 9 74 6 75 6 75 4 75 3 75 2 74 1 75 1 75 1 75 0 74 1 75 0 75 1 75 0 74 0 75 0 75 0"/><path d="M335 1283l75-4 75-1 74 42 75 11 75 9 75 8 74 6 75 6 75 3 75 4 75 2 74 1 75 0 75 1 75 0 74 1 75 0 75 1 75 1 74 0 75 0 75 0"/><path d="M335 1283l75-10 75-4 74 38 75 14 75 8 75 11 74 7 75 10 75 3 75 5 75 0 74 2 75 1 75 1 75 0 74 0 75 1 75 1 75 0 74 1 75 0 75 0"/><path d="M335 1284l75 24 75 21 74 15 75 6 75 5 75 4 74 4 75 4 75 1 75 2 75 1 74 1 75 0 75 1 75 0 74 1 75 0 75 1 75 0 74 1 75 0 75 1"/><path d="M335 1283l75 1 75 6 74 38 75 10 75 6 75 5 74 7 75 6 75 3 75 2 75 2 74 1 75 0 75 1 75 1 74 0 75 1 75 0 75 1 74 0 75 0 75 1"/><path d="M335 1283l75-13 75-12 74 38 75 22 75 5 75 13 74 13 75 8 75 5 75 3 75 2 74 1 75 1 75 0 75 1 74 0 75 0 75 1 75-1 74 1 75 0 75 0"/><path d="M335 1283l75-5 75-1 74 34 75 15 75 12 75 8 74 7 75 8 75 2 75 4 75 1 74 1 75 0 75 1 75 1 74 1 75 0 75 0 75 1 74 0 75 1 75 0"/><path d="M335 1283l75 4 75 0 74 33 75 14 75 10 75 5 74 7 75 6 75 2 75 3 75 2 74 1 75 0 75 1 75 0 74 1 75 1 75 0 75 0 74 1 75 0 75 1"/><path d="M335 1283l75-4 75-5 74 38 75 15 75 10 75 8 74 4 75 9 75 4 75 3 75 1 74 1 75 1 75 1 75 0 74 1 75 0 75 1 75 0 74 1 75-1 75 0"/><path d="M335 1284l75 27 75 28 74 7 75 5 75 4 75 4 74 4 75 4 75 1 75 2 75 1 74 1 75 0 75 1 75 1 74 0 75 0 75 1 75 1 74 0 75 0 75 1"/><path d="M335 1283l75-4 75-11 74 40 75 14 75 11 75 10 74 9 75 8 75 3 75 3 75 2 74 1 75 1 75 0 75 1 74 1 75 1 75 0 75 0 74 0 75 1 75 0"/><path d="M335 1284l75 26 75 26 74 10 75 5 75 4 75 4 74 4 75 4 75 1 75 2 75 1 74 1 75 0 75 1 75 0 74 1 75 0 75 1 75 0 74 1 75 0 75 1"/><path d="M335 1283l75-8 75-7 74 34 75 19 75 9 75 9 74 8 75 10 75 5 75 3 75 2 74 1 75 1 75 1 75 1 74 0 75 1 75 0 75 0 74 1 75 0 75 0"/><path d="M335 1283l75-4 75-5 74 37 75 20 75 10 75 7 74 5 75 7 75 2 75 3 75 2 74 2 75 1 75 0 75 1 74 1 75 0 75 1 75 1 74 0 75 0 75 1"/><path d="M335 1283l75-11 75-7 74 36 75 15 75 13 75 12 74 11 75 7 75 4 75 4 75 1 74 1 75 0 75 1 75 1 74 0 75 0 75 1 75 0 74 1 75 0 75 1"/><path d="M335 1283l75-15 75-14 74 40 75 21 75 11 75 12 74 9 75 9 75 3 75 3 75 3 74 2 75 1 75 1 75 0 74 1 75 0 75 1 75 0 74 0 75 0 75 1"/><path d="M335 1284l75 10 75 8 74 31 75 9 75 5 75 7 74 5 75 5 75 2 75 3 75 1 74 1 75 1 75 0 75 0 74 1 75 0 75 1 75 0 74 0 75 0 75 1"/><path d="M335 1283l75-5 75-3 74 34 75 15 75 9 75 8 74 7 75 9 75 3 75 4 75 2 74 2 75 2 75 0 75 0 74 1 75 0 75 1 75 1 74 0 75-1 75 0"/><path d="M335 1283l75-12 75-13 74 43 75 18 75 10 75 12 74 6 75 9 75 5 75 4 75 2 74 2 75 1 75 0 75 0 74 0 75 1 75 0 75 0 74 1 75 1 75 0"/><path d="M335 1283l75-11 75-12 74 38 75 15 75 14 75 9 74 10 75 9 75 4 75 5 75 2 74 2 75 0 75 1 75 1 74 0 75 1 75 0 75 0 74 1 75-1 75 1"/><path d="M335 1283l75 3 75 5 74 39 75 7 75 5 75 6 74 7 75 6 75 3 75 3 75 2 74 1 75 0 75 1 75 1 74 0 75 0 75 1 75 0 74 1 75 1 75 0"/><path d="M335 1283l75-13 75-10 74 40 75 24 75 8 75 5 74 9 75 10 75 3 75 4 75 2 74 2 75 0 75 1 75 1 74 0 75 1 75 1 75 0 74 0 75 1 75 0"/><path d="M335 1284l75 8 75 15 74 29 75 9 75 4 75 5 74 6 75 5 75 2 75 2 75 1 74 1 75 0 75 1 75 1 74 0 75 1 75 0 75 1 74 0 75 0 75 1"/><path d="M335 1283l75-2 75 1 74 36 75 11 75 10 75 9 74 7 75 6 75 4 75 2 75 1 74 1 75 1 75 1 75 0 74 0 75 1 75 0 75 1 74 1 75 0 75 0"/><path d="M335 1283l75-4 75-8 74 32 75 16 75 13 75 8 74 9 75 9 75 3 75 4 75 1 74 3 75 0 75 1 75 0 74 0 75 1 75 1 75 0 74 0 75 1 75 1"/><path d="M335 1284l75 18 75 15 74 21 75 12 75 4 75 2 74 5 75 5 75 2 75 2 75 1 74 1 75 0 75 1 75 0 74 1 75 0 75 0 75 1 74 0 75 1 75 1"/><path d="M335 1284l75 20 75 25 74 15 75 5 75 5 75 4 74 5 75 4 75 1 75 2 75 1 74 1 75 0 75 1 75 0 74 1 75 0 75 1 75 0 74 1 75 0 75 1"/><path d="M335 1284l75 8 75 6 74 35 75 10 75 7 75 6 74 3 75 6 75 2 75 2 75 0 74 1 75 1 75 0 75 1 74 0 75 1 75 0 75 1 74 0 75 1 75 0"/><path d="M335 1283l75 1 75 1 74 36 75 15 75 7 75 7 74 5 75 7 75 2 75 3 75 1 74 1 75 1 75 1 75 0 74 1 75 0 75 1 75 0 74 1 75 0 75 1"/><path d="M335 1284l75 27 75 29 74 6 75 5 75 4 75 4 74 4 75 4 75 1 75 2 75 1 74 1 75 0 75 1 75 1 74 0 75 0 75 1 75 1 74 0 75 0 75 1"/><path d="M335 1283l75-5 75-1 74 34 75 18 75 10 75 7 74 6 75 8 75 3 75 3 75 1 74 2 75 0 75 1 75 1 74 0 75 1 75 0 75 1 74 1 75-1 75 0"/><path d="M335 1283l75-16 75-12 74 40 75 20 75 16 75 12 74 5 75 8 75 3 75 5 75 1 74 2 75 1 75 1 75 1 74 1 75 0 75 0 75 0 74 1 75 0 75 0"/><path d="M335 1283l75-8 75-9 74 37 75 21 75 7 75 10 74 9 75 8 75 3 75 4 75 2 74 1 75 1 75 1 75 1 74 0 75 0 75 1 75 0 74 1 75 0 75 0"/><path d="M335 1283l75-1 75 2 74 35 75 15 75 10 75 5 74 6 75 6 75 3 75 2 75 1 74 2 75 1 75 1 75 0 74 1 75 1 75 0 75 0 74 1 75 0 75 1"/><path d="M335 1284l75 13 75 16 74 25 75 7 75 6 75 6 74 5 75 4 75 2 75 1 75 1 74 1 75 1 75 1 75 0 74 1 75 0 75 0 75 1 74 0 75 1 75 0"/><path d="M335 1283l75-7 75-9 74 35 75 20 75 11 75 11 74 6 75 8 75 3 75 4 75 1 74 2 75 1 75 1 75 1 74 0 75 0 75 0 75 1 74 0 75 1 75 1"/><path d="M335 1283l75-16 75-18 74 46 75 19 75 15 75 7 74 8 75 10 75 4 75 5 75 2 74 2 75 0 75 1 75 0 74 1 75 1 75 0 75 1 74 0 75 1 75-1"/><path d="M335 1284l75 8 75 14 74 29 75 7 75 3 75 6 74 7 75 5 75 3 75 2 75 1 74 1 75 1 75 0 75 1 74 1 75 0 75 1 75 1 74 0 75 0 75 1"/><path d="M335 1283l75-14 75-18 74 42 75 12 75 16 75 16 74 9 75 9 75 5 75 4 75 2 74 1 75 1 75 1 75 1 74 0 75 0 75 1 75 1 74 0 75 0 75 0"/><path d="M335 1283l75-9 75-9 74 41 75 11 75 13 75 10 74 8 75 9 75 4 75 4 75 2 74 1 75 1 75 1 75 0 74 1 75 1 75 0 75 0 74 1 75 0 75 0"/><path d="M335 1284l75 18 75 21 74 17 75 8 75 5 75 3 74 5 75 5 75 1 75 2 75 1 74 1 75 1 75 0 75 1 74 0 75 1 75 0 75 1 74 0 75 1 75 0"/><path d="M335 1284l75 12 75 15 74 24 75 11 75 5 75 5 74 5 75 5 75 2 75 2 75 1 74 1 75 0 75 1 75 0 74 0 75 1 75 1 75 0 74 0 75 1 75 0"/><path d="M335 1284l75 7 75 13 74 29 75 11 75 6 75 5 74 5 75 5 75 2 75 2 75 1 74 0 75 1 75 0 75 1 74 0 75 1 75 0 75 0 74 1 75 1 75 0"/><path d="M335 1284l75 20 75 23 74 18 75 5 75 4 75 5 74 4 75 4 75 1 75 2 75 1 74 1 75 0 75 1 75 0 74 1 75 0 75 1 75 0 74 1 75 0 75 1"/><path d="M335 1283l75 0 75-2 74 38 75 13 75 8 75 7 74 6 75 7 75 4 75 3 75 0 74 2 75 2 75 0 75 1 74 0 75 0 75 1 75 0 74 1 75 0 75 0"/><path d="M335 1284l75 25 75 23 74 12 75 6 75 4 75 5 74 4 75 4 75 1 75 2 75 1 74 1 75 0 75 1 75 0 74 1 75 0 75 1 75 0 74 1 75 0 75 1"/><path d="M335 1284l75 25 75 28 74 9 75 5 75 4 75 4 74 4 75 4 75 1 75 2 75 1 74 1 75 0 75 1 75 0 74 1 75 0 75 1 75 0 74 1 75 0 75 1"/><path d="M335 1284l75 15 75 16 74 22 75 7 75 6 75 5 74 5 75 5 75 2 75 2 75 1 74 1 75 0 75 1 75 1 74 0 75 1 75 0 75 0 74 1 75 0 75 1"/><path d="M335 1283l75-20 75-15 74 35 75 20 75 19 75 13 74 12 75 9 75 4 75 5 75 1 74 1 75 1 75 0 75 1 74 0 75 1 75 0 75 1 74 0 75 0 75 1"/><path d="M335 1284l75 6 75 7 74 29 75 11 75 9 75 7 74 5 75 6 75 2 75 2 75 1 74 2 75 0 75 1 75 1 74 0 75 1 75 0 75 1 74 0 75 0 75 0"/><path d="M335 1284l75 6 75 6 74 31 75 14 75 7 75 4 74 6 75 6 75 1 75 3 75 1 74 1 75 1 75 0 75 1 74 0 75 1 75 0 75 1 74 0 75 0 75 1"/><path d="M335 1284l75 3 75 10 74 32 75 10 75 5 75 5 74 8 75 6 75 2 75 2 75 2 74 1 75 1 75 1 75 0 74 1 75 0 75 1 75 0 74 0 75 0 75 0"/><path d="M335 1284l75 25 75 18 74 17 75 6 75 5 75 4 74 4 75 4 75 1 75 2 75 1 74 1 75 0 75 1 75 0 74 1 75 0 75 1 75 1 74 0 75 0 75 1"/><path d="M335 1284l75 27 75 29 74 6 75 5 75 4 75 3 74 5 75 4 75 1 75 2 75 1 74 1 75 0 75 1 75 0 74 1 75 0 75 1 75 0 74 1 75 0 75 1"/><path d="M335 1284l75 17 75 17 74 25 75 4 75 3 75 7 74 4 75 5 75 1 75 2 75 1 74 2 75 0 75 1 75 0 74 1 75 0 75 1 75 0 74 0 75 1 75 0"/><path d="M335 1284l75 27 75 27 74 8 75 5 75 4 75 4 74 4 75 4 75 1 75 2 75 1 74 1 75 0 75 1 75 0 74 1 75 0 75 1 75 0 74 1 75 0 75 1"/><path d="M335 1284l75 19 75 23 74 17 75 5 75 5 75 4 74 5 75 4 75 2 75 2 75 1 74 1 75 0 75 1 75 0 74 1 75 0 75 1 75 0 74 1 75 0 75 1"/><path d="M335 1284l75 13 75 17 74 24 75 9 75 5 75 5 74 4 75 5 75 2 75 1 75 2 74 0 75 1 75 0 75 1 74 1 75 0 75 0 75 1 74 0 75 1 75 0"/><path d="M335 1283l75-20 75-20 74 40 75 27 75 13 75 12 74 8 75 11 75 5 75 5 75 1 74 2 75 1 75 0 75 1 74 0 75 1 75 0 75 1 74 0 75 0 75 0"/><path d="M335 1284l75 19 75 13 74 27 75 7 75 4 75 4 74 4 75 4 75 2 75 2 75 0 74 1 75 1 75 0 75 1 74 0 75 1 75 0 75 1 74 1 75 0 75 1"/><path d="M335 1283l75-15 75-13 74 41 75 21 75 13 75 8 74 7 75 10 75 5 75 4 75 3 74 1 75 1 75 1 75 0 74 1 75 0 75 1 75 0 74 0 75-1 75 1"/></g><g stroke-dashoffset="34.6"><path d="M335 1283l75-5 75-12 74 38 75 18 75 10 75 11 74 7 75 6 75 3 75 6 75 1 74 2 75 1 75 1 75 1 74 0 75 1 75 0 75 1 74-1 75 1 75 0"/><path d="M335 1283l75 1 75 0 74 38 75 17 75 7 75 5 74 5 75 7 75 1 75 3 75 1 74 2 75 0 75 1 75 0 74 1 75 0 75 1 75 1 74 0 75 0 75 1"/><path d="M335 1284l75 18 75 21 74 19 75 4 75 5 75 7 74 3 75 5 75 2 75 1 75 2 74 0 75 1 75 1 75 0 74 0 75 1 75 1 75 0 74 0 75 1 75 1"/><path d="M335 1284l75 20 75 22 74 17 75 6 75 5 75 5 74 3 75 5 75 1 75 2 75 1 74 1 75 0 75 1 75 0 74 1 75 0 75 1 75 0 74 1 75 0 75 1"/><path d="M335 1283l75 2 75 1 74 34 75 16 75 8 75 6 74 4 75 8 75 4 75 2 75 1 74 1 75 1 75 0 75 1 74 0 75 0 75 1 75 0 74 1 75 0 75 1"/><path d="M335 1283l75-12 75-9 74 31 75 24 75 12 75 11 74 6 75 10 75 4 75 3 75 2 74 2 75 1 75 1 75 1 74 0 75 0 75 1 75 0 74 1 75 0 75 0"/><path d="M335 1284l75 7 75 7 74 33 75 8 75 9 75 6 74 4 75 6 75 2 75 2 75 1 74 1 75 1 75 1 75 0 74 1 75 0 75 1 75 0 74 1 75 0 75 0"/><path d="M335 1284l75 18 75 16 74 26 75 6 75 4 75 5 74 4 75 4 75 1 75 2 75 1 74 1 75 0 75 1 75 0 74 1 75 0 75 1 75 0 74 1 75 0 75 1"/><path d="M335 1283l75-2 75-1 74 38 75 13 75 7 75 4 74 10 75 7 75 3 75 3 75 2 74 2 75 0 75 1 75 1 74 0 75 1 75 0 75 1 74 0 75 0 75 1"/><path d="M335 1283l75-14 75-16 74 35 75 18 75 15 75 12 74 12 75 10 75 4 75 4 75 3 74 1 75 1 75 1 75 0 74 1 75 0 75 1 75 0 74 0 75 1 75 1"/><path d="M335 1284l75 13 75 20 74 23 75 8 75 5 75 5 74 2 75 6 75 2 75 1 75 2 74 0 75 1 75 0 75 1 74 0 75 1 75 1 75 0 74 0 75 0 75 1"/><path d="M335 1283l75-20 75-20 74 42 75 30 75 9 75 12 74 8 75 9 75 6 75 4 75 3 74 1 75 1 75 1 75 0 74 0 75 1 75 0 75 0 74 1 75 0 75 1"/><path d="M335 1284l75 11 75 8 74 34 75 10 75 5 75 4 74 4 75 5 75 3 75 1 75 1 74 2 75 0 75 1 75 0 74 1 75 0 75 0 75 1 74 0 75 0 75 1"/><path d="M335 1284l75 14 75 9 74 30 75 8 75 6 75 6 74 4 75 5 75 2 75 1 75 1 74 1 75 1 75 0 75 1 74 0 75 1 75 0 75 1 74 0 75 1 75 0"/><path d="M335 1283l75 3 75-6 74 38 75 14 75 10 75 8 74 8 75 5 75 1 75 3 75 2 74 1 75 1 75 0 75 1 74 0 75 0 75 1 75 0 74 1 75 1 75 0"/><path d="M335 1283l75-4 75-8 74 41 75 14 75 11 75 12 74 4 75 6 75 4 75 3 75 1 74 1 75 0 75 2 75 1 74 1 75 0 75 0 75 1 74 0 75 1 75 0"/><path d="M335 1283l75-20 75-20 74 40 75 20 75 18 75 12 74 8 75 12 75 5 75 4 75 3 74 2 75 1 75 1 75 1 74-1 75 1 75 0 75 1 74 0 75 0 75 0"/><path d="M335 1284l75 26 75 30 74 5 75 6 75 4 75 4 74 4 75 4 75 1 75 2 75 1 74 1 75 0 75 1 75 1 74 0 75 0 75 1 75 1 74 0 75 0 75 1"/><path d="M335 1284l75 6 75 4 74 30 75 11 75 10 75 7 74 6 75 5 75 2 75 3 75 1 74 2 75 0 75 1 75 0 74 1 75 0 75 1 75 0 74 1 75 0 75 0"/><path d="M335 1283l75-20 75-20 74 43 75 25 75 13 75 11 74 9 75 9 75 5 75 5 75 2 74 2 75 1 75 1 75 1 74 0 75 0 75 1 75 0 74 0 75 0 75 0"/><path d="M335 1284l75 26 75 30 74 6 75 5 75 4 75 4 74 4 75 4 75 1 75 2 75 1 74 1 75 0 75 1 75 0 74 1 75 0 75 1 75 0 74 1 75 0 75 1"/><path d="M335 1283l75-9 75-12 74 40 75 18 75 9 75 6 74 11 75 9 75 5 75 4 75 2 74 1 75 1 75 1 75 0 74 1 75 1 75 0 75 0 74 1 75 1 75 0"/><path d="M335 1284l75 26 75 24 74 12 75 5 75 4 75 4 74 4 75 4 75 1 75 2 75 1 74 1 75 0 75 1 75 1 74 0 75 0 75 1 75 0 74 1 75 0 75 1"/><path d="M335 1284l75 22 75 23 74 16 75 5 75 4 75 5 74 4 75 4 75 1 75 2 75 1 74 1 75 0 75 1 75 0 74 1 75 0 75 1 75 0 74 1 75 0 75 1"/><path d="M335 1284l75 1 75 2 74 34 75 16 75 6 75 8 74 6 75 5 75 3 75 3 75 1 74 1 75 1 75 1 75 1 74 0 75 0 75 0 75 1 74 1 75 0 75 0"/><path d="M335 1284l75 4 75 14 74 31 75 10 75 4 75 7 74 3 75 5 75 3 75 3 75 1 74 1 75 1 75 1 75 0 74 1 75 0 75 0 75 1 74 0 75 0 75 1"/><path d="M335 1284l75 22 75 23 74 15 75 6 75 5 75 4 74 4 75 4 75 1 75 2 75 1 74 1 75 0 75 1 75 0 74 1 75 0 75 1 75 0 74 1 75 0 75 1"/><path d="M335 1283l75 3 75-1 74 34 75 15 75 6 75 6 74 8 75 7 75 1 75 4 75 2 74 1 75 1 75 0 75 1 74 0 75 1 75 1 75 0 74 0 75 0 75 0"/><path d="M335 1284l75 25 75 22 74 14 75 6 75 3 75 4 74 5 75 4 75 1 75 2 75 1 74 1 75 0 75 1 75 0 74 1 75 0 75 1 75 0 74 0 75 1 75 1"/><path d="M335 1284l75 11 75 20 74 23 75 11 75 5 75 4 74 5 75 4 75 1 75 2 75 1 74 1 75 0 75 1 75 0 74 1 75 0 75 1 75 0 74 1 75 0 75 0"/><path d="M335 1284l75 15 75 24 74 21 75 5 75 4 75 5 74 3 75 5 75 2 75 2 75 1 74 1 75 0 75 1 75 0 74 1 75 0 75 1 75 0 74 1 75 0 75 0"/><path d="M335 1283l75-13 75-15 74 44 75 17 75 15 75 10 74 9 75 7 75 4 75 4 75 1 74 2 75 1 75 0 75 1 74 0 75 0 75 1 75 1 74 0 75 0 75 1"/><path d="M335 1283l75-20 75-18 74 40 75 22 75 18 75 10 74 9 75 12 75 3 75 4 75 3 74 1 75 1 75 1 75 1 74 0 75 0 75 1 75 0 74 0 75 0 75 0"/><path d="M335 1284l75 5 75 8 74 30 75 11 75 7 75 8 74 5 75 5 75 2 75 3 75 1 74 1 75 1 75 0 75 1 74 0 75 0 75 1 75 0 74 1 75 0 75 0"/><path d="M335 1283l75-1 75 1 74 35 75 15 75 6 75 9 74 5 75 7 75 3 75 3 75 2 74 2 75 1 75 0 75 0 74 1 75 0 75 1 75 0 74 0 75 1 75 0"/><path d="M335 1283l75-3 75-9 74 41 75 16 75 9 75 8 74 9 75 7 75 2 75 3 75 1 74 2 75 1 75 1 75 0 74 0 75 1 75 1 75 1 74 0 75 0 75 0"/><path d="M335 1284l75 7 75 7 74 28 75 12 75 8 75 4 74 4 75 7 75 3 75 4 75 1 74 1 75 1 75 1 75 0 74 1 75 0 75 1 75 0 74 0 75 1 75 0"/><path d="M335 1284l75 18 75 26 74 17 75 4 75 6 75 4 74 4 75 4 75 1 75 2 75 1 74 1 75 0 75 1 75 0 74 1 75 0 75 1 75 0 74 1 75 0 75 1"/><path d="M335 1284l75 20 75 23 74 19 75 4 75 4 75 2 74 5 75 5 75 1 75 3 75 1 74 1 75 0 75 1 75 0 74 1 75 0 75 1 75 0 74 1 75 0 75 1"/><path d="M335 1284l75 19 75 18 74 18 75 9 75 5 75 4 74 5 75 4 75 1 75 2 75 1 74 1 75 1 75 0 75 1 74 0 75 1 75 0 75 0 74 1 75 0 75 1"/><path d="M335 1284l75 27 75 28 74 7 75 5 75 4 75 4 74 4 75 4 75 1 75 2 75 1 74 1 75 0 75 1 75 0 74 1 75 0 75 1 75 1 74 0 75 0 75 1"/><path d="M335 1284l75 20 75 17 74 20 75 7 75 5 75 4 74 5 75 4 75 2 75 1 75 2 74 1 75 0 75 1 75 0 74 1 75 0 75 1 75 0 74 1 75 0 75 0"/><path d="M335 1283l75 1 75 1 74 31 75 15 75 11 75 8 74 5 75 7 75 2 75 3 75 2 74 1 75 0 75 1 75 1 74 1 75 0 75 1 75 0 74 0 75 1 75 0"/><path d="M335 1284l75 21 75 23 74 16 75 6 75 4 75 4 74 5 75 4 75 1 75 1 75 2 74 1 75 0 75 1 75 0 74 1 75 0 75 1 75 0 74 0 75 0 75 1"/><path d="M335 1284l75 23 75 21 74 16 75 7 75 3 75 4 74 5 75 4 75 1 75 2 75 1 74 1 75 0 75 1 75 0 74 1 75 0 75 1 75 0 74 1 75 0 75 1"/><path d="M335 1284l75 22 75 26 74 13 75 5 75 4 75 4 74 4 75 5 75 1 75 2 75 1 74 1 75 0 75 1 75 0 74 1 75 0 75 1 75 0 74 1 75 0 75 1"/><path d="M335 1284l75 5 75 2 74 32 75 16 75 9 75 7 74 6 75 4 75 2 75 2 75 1 74 0 75 1 75 1 75 1 74 0 75 1 75 0 75 0 74 0 75 0 75 1"/><path d="M335 1283l75-18 75-19 74 43 75 16 75 20 75 13 74 8 75 10 75 5 75 3 75 2 74 1 75 1 75 0 75 1 74 0 75 1 75 0 75 1 74 0 75 1 75 1"/><path d="M335 1283l75-2 75 3 74 38 75 11 75 8 75 6 74 6 75 8 75 3 75 3 75 1 74 2 75 1 75 1 75 0 74 0 75 0 75 1 75 0 74 1 75 0 75 1"/><path d="M335 1284l75 5 75 12 74 29 75 12 75 4 75 3 74 7 75 6 75 3 75 3 75 1 74 2 75 0 75 1 75 0 74 1 75 0 75 1 75 0 74 0 75 1 75 1"/><path d="M335 1284l75 11 75 11 74 26 75 9 75 8 75 6 74 4 75 5 75 2 75 2 75 1 74 1 75 1 75 0 75 1 74 0 75 1 75 1 75 0 74 1 75 0 75 1"/><path d="M335 1284l75 13 75 13 74 30 75 10 75 4 75 3 74 5 75 4 75 2 75 1 75 1 74 1 75 1 75 1 75 0 74 0 75 1 75 0 75 1 74 0 75 1 75 0"/><path d="M335 1284l75 27 75 29 74 6 75 5 75 4 75 4 74 4 75 4 75 1 75 2 75 1 74 1 75 0 75 1 75 0 74 1 75 0 75 1 75 0 74 1 75 0 75 1"/><path d="M335 1283l75 4 75-1 74 39 75 12 75 9 75 6 74 4 75 6 75 3 75 3 75 2 74 1 75 0 75 1 75 0 74 0 75 1 75 0 75 0 74 1 75 1 75 0"/><path d="M335 1283l75-9 75-8 74 37 75 16 75 13 75 11 74 6 75 7 75 3 75 4 75 2 74 2 75 1 75 1 75 1 74 0 75 1 75 0 75 0 74 1 75 0 75 0"/><path d="M335 1284l75 15 75 16 74 20 75 10 75 4 75 5 74 5 75 6 75 2 75 2 75 1 74 1 75 1 75 1 75 0 74 1 75 0 75 1 75 0 74 1 75 0 75 1"/><path d="M335 1283l75-20 75-20 74 39 75 21 75 15 75 13 74 10 75 11 75 5 75 5 75 2 74 2 75 1 75 1 75 1 74 1 75 0 75 0 75 0 74 1 75 0 75 1"/><path d="M335 1284l75 19 75 23 74 18 75 5 75 4 75 5 74 4 75 3 75 2 75 2 75 1 74 1 75 1 75 0 75 1 74 0 75 1 75 1 75 0 74 0 75 1 75 0"/><path d="M335 1284l75 27 75 26 74 9 75 5 75 4 75 4 74 4 75 4 75 1 75 2 75 1 74 1 75 0 75 1 75 0 74 1 75 0 75 1 75 1 74 0 75 0 75 1"/><path d="M335 1284l75 23 75 33 74 6 75 5 75 4 75 4 74 4 75 4 75 1 75 2 75 1 74 1 75 0 75 1 75 0 74 1 75 0 75 1 75 0 74 1 75 0 75 1"/><path d="M335 1283l75 1 75 2 74 38 75 13 75 8 75 8 74 3 75 5 75 3 75 4 75 1 74 1 75 0 75 1 75 0 74 1 75 0 75 1 75 0 74 0 75 0 75 1"/><path d="M335 1284l75 10 75 10 74 25 75 13 75 6 75 5 74 6 75 5 75 3 75 2 75 0 74 1 75 1 75 1 75 0 74 1 75 0 75 1 75 0 74 0 75 1 75 0"/><path d="M335 1283l75-3 75-6 74 32 75 18 75 8 75 10 74 6 75 8 75 4 75 4 75 2 74 2 75 1 75 1 75 1 74 0 75 0 75 1 75 0 74 0 75 1 75 0"/><path d="M335 1284l75 10 75 5 74 29 75 12 75 8 75 5 74 6 75 6 75 2 75 2 75 1 74 1 75 1 75 0 75 1 74 0 75 1 75 0 75 0 74 1 75 0 75 0"/><path d="M335 1283l75 0 75 6 74 37 75 13 75 4 75 5 74 5 75 7 75 3 75 3 75 2 74 1 75 0 75 1 75 0 74 1 75 0 75 1 75 1 74 0 75 0 75 0"/><path d="M335 1284l75 19 75 25 74 16 75 6 75 4 75 4 74 4 75 4 75 2 75 2 75 1 74 1 75 0 75 1 75 0 74 1 75 0 75 1 75 0 74 1 75 0 75 1"/><path d="M335 1283l75-14 75-15 74 42 75 16 75 15 75 10 74 10 75 8 75 5 75 4 75 1 74 2 75 1 75 1 75 0 74 0 75 1 75 0 75 0 74 1 75 0 75 0"/><path d="M335 1284l75 25 75 23 74 14 75 5 75 4 75 4 74 4 75 4 75 1 75 2 75 1 74 1 75 0 75 1 75 1 74 0 75 0 75 1 75 1 74 0 75 0 75 1"/></g></g><g stroke-dasharray="34,33" stroke-opacity="0.44"><g stroke-dashoffset="0.0"><path d="M335 1385l75 0 75 1 74 0 75 0 75-3 75 2 74-3 75-13 75-7 75-4 75-3 74-33 75-7 75-7 75-33 74-26 75-67 75-40 75-65 74-12 75-40 75-26"/><path d="M335 1384l75 0 75-1 74-2 75-8 75-20 75-48 74-38 75 26 75-4 75-26 75-79 74-54 75-96 75-1 75-11 74-100 75-35 75-260 75-90 74-75 75-296 75-167"/><path d="M335 1384l75 0 75 1 74 0 75 0 75-5 75-2 74-10 75-11 75-16 75-9 75-29 74-34 75 37 75 0 75-55 74-50 75-40 75-24 75-111 74-1 75-25 75-82"/><path d="M335 1383l75-3 75-2 74-1 75-9 75-6 75-22 74-7 75-28 75-96 75-12 75-123 74 31 75-39 75-19 75-51 74-80 75-115 75-172 75-230 74 95 75-85 75-425"/><path d="M335 1385l75 0 75 1 74 0 75 0 75-3 75 1 74 1 75-3 75-7 75-9 75-16 74-17 75-24 75 1 75-28 74-50 75-54 75 2 75-62 74-76 75-27 75 7"/><path d="M335 1379l75-8 75-3 74-9 75-8 75-17 75-19 74-80 75-45 75-58 75-32 75 24 74-107 75-13 75-17 75-66 74-78 75-234 75-69 75-459 74 51 75-121 75-586"/><path d="M335 1384l75-2 75-1 74-3 75 3 75 0 75-14 74 3 75-12 75-18 75-5 75-18 74-54 75-75 75 11 75-66 74-10 75-183 75-45 75-56 74-210 75 106 75-185"/><path d="M335 1384l75 1 75 1 74-1 75 0 75-3 75-1 74-9 75 5 75-28 75 13 75-20 74-17 75-44 75-54 75-106 74-23 75 18 75 47 75-76 74-19 75-10 75-93"/><path d="M335 1385l75 0 75 1 74 0 75-1 75 0 75 0 74-5 75-3 75-10 75-1 75-27 74-22 75-35 75 10 75-52 74-1 75-103 75-287 75 27 74-177 75 36 75-386"/><path d="M335 1382l75-2 75 1 74-6 75 5 75-16 75-4 74-17 75-10 75-12 75 23 75-55 74-34 75 14 75 3 75-6 74-46 75-19 75-61 75-38 74-124 75-51 75-93"/><path d="M335 1382l75 0 75-4 74-6 75 3 75-10 75 4 74 6 75 6 75-17 75-6 75-12 74-8 75-19 75-16 75-42 74-33 75-58 75-53 75-40 74-114 75-59 75-42"/><path d="M335 1383l75 0 75-4 74-2 75-7 75-2 75-7 74-9 75 17 75-8 75-20 75-21 74-28 75-29 75 26 75-13 74-59 75-81 75 2 75-14 74-190 75-9 75 35"/><path d="M335 1384l75 0 75 0 74-1 75-10 75-1 75-24 74-24 75-74 75 48 75-108 75 28 74-8 75-80 75-102 75 20 74-105 75-194 75-132 75-144 74-63 75-310 75 263"/><path d="M335 1380l75-5 75 2 74-7 75 0 75-37 75-19 74-42 75-41 75-104 75-36 75-31 74-63 75-43 75-99 75-88 74 109 75-306 75-234 75-131 74-130 75-127 75-399"/><path d="M335 1384l75 1 75 0 74 0 75-2 75-2 75-10 74-6 75 1 75-23 75-27 75-64 74-62 75 8 75-45 75-30 74-68 75-157 75-124 75 124 74-82 75 53 75-13"/><path d="M335 1381l75-4 75-5 74-5 75-18 75-16 75-11 74-22 75-68 75 2 75-62 75-21 74-71 75-19 75-37 75-178 74 20 75-58 75-259 75-93 74-482 75 15 75 112"/><path d="M335 1383l75-4 75 0 74-3 75-9 75-10 75-47 74-51 75-21 75-66 75 57 75 9 74-80 75-5 75-36 75-42 74-79 75-36 75-275 75-84 74-39 75-296 75-182"/><path d="M335 1382l75 0 75 0 74 0 75 0 75-4 75-3 74-26 75 10 75-2 75-21 75-13 74-32 75-121 75 0 75-18 74-102 75-30 75 13 75-118 74-230 75 0 75-9"/><path d="M335 1384l75 1 75-2 74 2 75-1 75 0 75 0 74-3 75-6 75-17 75-44 75-36 74-67 75 11 75-21 75-32 74-88 75-104 75-199 75-199 74-61 75-10 75 147"/><path d="M335 1382l75-2 75-9 74 0 75-6 75-22 75-32 74-15 75-4 75-10 75 21 75-20 74-69 75-27 75-132 75-71 74 26 75-159 75-1 75-385 74-203 75-202 75-255"/><path d="M335 1381l75-3 75 1 74-5 75-7 75-6 75-4 74-21 75-22 75-8 75-21 75-136 74 20 75-12 75-57 75-19 74-47 75-66 75-172 75-69 74-55 75-11 75-334"/><path d="M335 1383l75-4 75-8 74-9 75-21 75-4 75-21 74-25 75-68 75 27 75 3 75-69 74-88 75-70 75-119 75 5 74-67 75-295 75-133 75-109 74-195 75-154 75-374"/><path d="M335 1384l75-1 75 0 74-5 75 1 75-2 75-2 74-6 75 3 75-16 75-20 75-19 74-19 75-36 75-64 75-58 74-29 75-198 75-87 75-161 74-102 75-49 75-77"/><path d="M335 1383l75 0 75 0 74-1 75-2 75-2 75-13 74-13 75-22 75-21 75-7 75-27 74-78 75-25 75 75 75-105 74-68 75-107 75 79 75-238 74 89 75-175 75-39"/><path d="M335 1384l75 0 75 1 74-2 75-4 75-6 75 0 74-13 75-30 75 14 75-54 75-95 74-84 75-16 75 9 75-60 74-31 75-93 75 24 75-88 74-12 75-128 75-4"/><path d="M335 1383l75 0 75-2 74-2 75 0 75-9 75-3 74 1 75-1 75-26 75 6 75-28 74-42 75-25 75-59 75-10 74-69 75-67 75-233 75-15 74-248 75-29 75 99"/><path d="M335 1381l75-5 75-3 74-2 75-1 75 0 75-17 74-31 75 8 75-5 75-18 75-34 74-52 75-73 75 31 75-63 74-140 75-65 75-217 75 4 74-166 75-152 75 74"/><path d="M335 1385l75 0 75 1 74-3 75-7 75-13 75-3 74-4 75-8 75-58 75 51 75-4 74-50 75-21 75-41 75-36 74 7 75-9 75-29 75-44 74-63 75 11 75-31"/><path d="M335 1380l75-4 75 2 74-8 75-10 75-9 75-42 74-10 75-21 75 6 75-7 75-38 74-42 75-55 75-58 75 25 74-80 75-177 75-209 75-305 74 178 75 76 75-557"/><path d="M335 1385l75 0 75 1 74 0 75-1 75 0 75 0 74-2 75 0 75-5 75-12 75-9 74-9 75-17 75-27 75-64 74-65 75-76 75-74 75-46 74-100 75-88 75-87"/><path d="M335 1383l75 0 75 1 74-4 75-3 75-8 75-8 74-11 75-15 75-41 75 6 75-30 74-79 75 38 75-173 75-30 74 45 75-192 75 8 75-43 74-241 75-10 75 247"/><path d="M335 1384l75-1 75 2 74-2 75-1 75-2 75-19 74-11 75-39 75-33 75-6 75-16 74-2 75-28 75-2 75-29 74-102 75-141 75 8 75-97 74-184 75-144 75-49"/><path d="M335 1383l75 0 75 0 74-1 75-1 75-2 75 1 74-3 75-4 75-26 75-39 75-29 74 20 75-118 75-3 75-47 74 39 75-207 75-108 75 94 74-292 75-138 75-228"/><path d="M335 1383l75-1 75 2 74-4 75-3 75-10 75 10 74-8 75 3 75-8 75-16 75-33 74 13 75-39 75-27 75-77 74 1 75-24 75-73 75-23 74-151 75-174 75-12"/><path d="M335 1384l75 0 75-1 74 0 75 2 75-1 75-2 74-8 75-2 75-2 75-15 75-9 74-6 75-35 75-55 75-53 74-12 75-50 75-93 75-98 74 8 75 19 75-358"/><path d="M335 1382l75-2 75-4 74-13 75-4 75-33 75-20 74 28 75-18 75 2 75 1 75-93 74-56 75 1 75-29 75-2 74-30 75-194 75-240 75 127 74-143 75-38 75-103"/><path d="M335 1383l75-1 75 2 74-4 75-4 75 3 75-5 74-19 75-10 75-32 75-11 75 2 74-108 75-37 75-15 75-76 74-141 75-135 75-53 75-95 74-119 75-276 75-120"/><path d="M335 1381l75-4 75-7 74-11 75-9 75-35 75-11 74-36 75-13 75-33 75-41 75-30 74-32 75 100 75-69 75-74 74-103 75-122 75 108 75-25 74-385 75-313 75-417"/><path d="M335 1381l75-5 75-5 74-11 75-14 75-4 75 3 74-24 75-13 75-30 75-5 75 1 74-93 75-88 75-24 75 16 74-48 75-216 75-117 75-270 74-32 75 24 75-17"/><path d="M335 1382l75-4 75-11 74-7 75-2 75-12 75 3 74-13 75-23 75-89 75 18 75-8 74-35 75-17 75-45 75-60 74-61 75-148 75-258 75 29 74-232 75-440 75-146"/><path d="M335 1385l75 0 75 1 74-1 75-4 75 0 75 1 74-8 75-1 75-29 75 4 75-27 74-30 75-131 75-82 75 10 74-92 75-116 75-340 75 13 74-122 75 52 75 107"/><path d="M335 1382l75-2 75-4 74-4 75-21 75-5 75-7 74-31 75-6 75-26 75 24 75 1 74 11 75-36 75-34 75-112 74 47 75-109 75-230 75-11 74-118 75-56 75-9"/><path d="M335 1384l75 0 75 0 74 0 75-3 75 1 75 1 74-5 75-10 75-19 75-27 75 3 74 5 75-12 75-6 75-52 74-98 75-28 75-2 75-80 74-50 75-99 75 45"/><path d="M335 1383l75 0 75-3 74-6 75 3 75-6 75-8 74-3 75-6 75-20 75-9 75 0 74-29 75-53 75 1 75-15 74-54 75-232 75-53 75-266 74 30 75-69 75-104"/><path d="M335 1382l75-1 75 0 74-9 75-8 75-11 75-11 74-48 75 15 75-31 75-21 75 1 74-5 75-108 75-50 75-111 74 36 75-358 75-52 75-215 74-60 75 121 75 15"/><path d="M335 1383l75-1 75 2 74-3 75-8 75-8 75-12 74-4 75-14 75-63 75-40 75 46 74-45 75 31 75-7 75-35 74-64 75 13 75-148 75 64 74-101 75-201 75 0"/><path d="M335 1384l75 1 75-1 74 0 75 1 75-3 75-6 74 2 75-17 75-9 75-2 75-13 74-8 75-15 75-3 75-64 74-140 75-21 75 21 75-20 74-103 75-318 75-11"/><path d="M335 1384l75 0 75 2 74-1 75-1 75-6 75-1 74-8 75-10 75-21 75-19 75-80 74-29 75-17 75-2 75-37 74-26 75-63 75-5 75 1 74-157 75-130 75 102"/><path d="M335 1385l75 0 75 1 74-2 75-3 75-4 75 3 74-24 75-47 75-4 75-6 75-11 74-14 75-7 75-26 75-39 74-38 75-95 75-127 75-94 74-44 75-28 75-21"/><path d="M335 1384l75 0 75-1 74-5 75-2 75-3 75-14 74-10 75-9 75-12 75-17 75-1 74-37 75-16 75 14 75-68 74-121 75-152 75 0 75-80 74 24 75-117 75-228"/><path d="M335 1384l75-1 75 2 74-6 75-2 75-2 75-7 74-50 75-23 75-27 75 11 75-53 74 52 75 4 75-75 75-71 74-41 75 11 75-46 75-219 74 90 75-123 75-218"/><path d="M335 1385l75 0 75 0 74 0 75 0 75 0 75-2 74-2 75-9 75-2 75-6 75-19 74-22 75-34 75-65 75 8 74-30 75-32 75-16 75-36 74-48 75 1 75-32"/><path d="M335 1382l75-5 75-2 74-12 75-16 75-22 75-8 74-40 75-5 75-38 75-32 75-67 74 20 75 25 75-106 75-86 74-193 75-103 75-242 75 115 74-127 75-297 75-4"/><path d="M335 1384l75 0 75 2 74 0 75 0 75 0 75 0 74-6 75-12 75-1 75-8 75-16 74-41 75-30 75-51 75-18 74-14 75 12 75-39 75-42 74-29 75-27 75-1"/><path d="M335 1380l75-9 75-4 74-5 75-10 75-23 75-19 74-44 75-78 75-52 75 36 75-149 74-69 75 78 75-67 75-186 74 106 75-344 75-72 75-154 74 371 75-325 75-320"/><path d="M335 1383l75 1 75-1 74-1 75-4 75-6 75-19 74-7 75 1 75-8 75-32 75 10 74-50 75-2 75-39 75-63 74 12 75-83 75-49 75-177 74-234 75-53 75 81"/><path d="M335 1384l75-1 75-4 74-3 75 5 75-4 75-8 74-6 75 0 75-79 75-63 75-85 74-76 75-33 75-49 75-28 74-46 75-89 75-305 75-201 74-28 75-268 75-163"/><path d="M335 1384l75 0 75-1 74-2 75-5 75-6 75-14 74-34 75 0 75 2 75 13 75-20 74-31 75-15 75-86 75-85 74 31 75-67 75-61 75-134 74 94 75-201 75-146"/><path d="M335 1382l75-1 75-2 74-2 75-3 75 0 75-12 74 2 75 3 75-25 75-11 75 2 74-33 75-2 75-32 75-36 74-48 75-95 75-3 75 17 74-102 75-5 75 35"/><path d="M335 1384l75-2 75 2 74 1 75-3 75 1 75 0 74-3 75 1 75-7 75-5 75-9 74-14 75-11 75-15 75-54 74-34 75-48 75-62 75-37 74 7 75-23 75-55"/><path d="M335 1383l75-1 75-1 74-4 75 2 75-1 75-12 74-9 75 13 75-17 75-19 75 5 74-30 75-8 75-51 75 2 74-19 75-43 75-62 75-95 74-74 75-175 75-464"/><path d="M335 1385l75-1 75 1 74-3 75-2 75 0 75 2 74-7 75-13 75 1 75-21 75-18 74-29 75-14 75 18 75-44 74-29 75-103 75-72 75-25 74-41 75 18 75-26"/><path d="M335 1384l75 1 75-2 74-1 75-4 75-14 75-13 74-18 75-14 75 35 75-16 75-49 74-63 75 13 75-108 75-149 74 1 75-233 75-127 75 34 74 2 75-79 75-248"/><path d="M335 1383l75-6 75-7 74-10 75-8 75-12 75-19 74-58 75-78 75-73 75-60 75-41 74 72 75-178 75 55 75-210 74-85 75-79 75-375 75-228 74-121 75 91 75-467"/><path d="M335 1383l75 1 75-1 74-3 75 1 75 1 75-4 74-9 75-6 75-12 75-24 75-31 74-17 75-43 75 26 75-70 74 39 75-32 75-80 75-42 74-59 75-22 75 12"/><path d="M335 1382l75 0 75-1 74-5 75-1 75-7 75-19 74-57 75 10 75-18 75-8 75-36 74-61 75 52 75-78 75-28 74 29 75-107 75-79 75-68 74-152 75-223 75-44"/><path d="M335 1383l75 1 75 1 74 0 75-3 75-6 75-6 74-17 75-45 75-15 75-97 75-29 74 45 75-4 75 20 75 4 74-49 75-52 75-141 75-51 74-307 75-573 75-74"/><path d="M335 1381l75-7 75-7 74-19 75-12 75-36 75 6 74-21 75-96 75 10 75-13 75-85 74-72 75 13 75-119 75-71 74 58 75-128 75-306 75-72 74-205 75-300 75-491"/><path d="M335 1384l75 1 75 0 74-2 75-1 75 0 75-18 74-11 75-5 75-11 75-31 75-12 74 13 75 9 75-25 75-55 74-125 75-60 75 67 75-190 74-77 75-71 75-255"/></g><g stroke-dashoffset="8.4"><path d="M335 1384l75 1 75 0 74-1 75-4 75 0 75-1 74-6 75 7 75-32 75-11 75-16 74-22 75-19 75 17 75-51 74-67 75-61 75-41 75-170 74 51 75-110 75-120"/><path d="M335 1383l75 0 75 1 74-2 75-7 75-4 75-9 74-35 75-25 75-21 75 6 75 4 74-45 75-94 75-107 75-104 74-20 75-338 75-94 75-145 74-139 75-193 75 277"/><path d="M335 1383l75-3 75 1 74-1 75-12 75-3 75-11 74-4 75 0 75 2 75-20 75-15 74-117 75 61 75 25 75-65 74 5 75-147 75-65 75-260 74 149 75-162 75-197"/><path d="M335 1385l75 0 75 1 74-1 75 0 75 0 75 1 74 0 75-1 75-8 75-8 75-10 74-18 75-1 75-9 75-32 74-35 75-39 75-38 75-49 74-55 75-11 75-17"/><path d="M335 1382l75-2 75-5 74-8 75-1 75 4 75-14 74-33 75-20 75-25 75-3 75-18 74-55 75-56 75-59 75-1 74 0 75 29 75-126 75-141 74 57 75-126 75-306"/><path d="M335 1384l75-2 75 1 74 0 75-3 75 2 75 0 74-13 75-29 75 10 75-14 75-35 74-27 75 13 75-40 75-10 74-9 75-79 75-22 75-7 74-46 75-51 75-77"/><path d="M335 1383l75-5 75-1 74 0 75-7 75-20 75-2 74-7 75-13 75-40 75-32 75-73 74-31 75-97 75-192 75 1 74-104 75-33 75-31 75-68 74 27 75-35 75-214"/><path d="M335 1384l75 0 75 2 74-1 75-1 75-5 75-3 74-13 75-3 75-6 75-17 75-28 74-16 75-49 75-42 75-50 74 6 75-177 75-90 75 27 74-163 75 48 75 82"/><path d="M335 1383l75 1 75-1 74-3 75-9 75 1 75-15 74-88 75-22 75-10 75 34 75-55 74 24 75-31 75 3 75-43 74 8 75-156 75-19 75-335 74 38 75-187 75 2"/><path d="M335 1381l75-7 75-4 74-11 75-21 75-44 75-21 74-26 75 8 75-63 75-15 75-37 74-21 75-77 75 0 75 23 74-41 75-245 75-117 75-2 74-508 75-88 75-156"/><path d="M335 1383l75 0 75 0 74-7 75-1 75-12 75-1 74-20 75-14 75 12 75-13 75-20 74-32 75-21 75 3 75-116 74 12 75-124 75-76 75-38 74 74 75-66 75-101"/><path d="M335 1383l75-3 75-6 74-1 75-14 75-5 75-12 74-23 75-20 75 4 75-16 75-17 74-81 75-51 75-59 75-27 74 32 75-214 75 18 75-486 74-67 75-56 75-70"/><path d="M335 1384l75 0 75 1 74-6 75 1 75-4 75 0 74-5 75-20 75-30 75 9 75 3 74-57 75 7 75-65 75-1 74-97 75-62 75 12 75-156 74 61 75-75 75 65"/><path d="M335 1382l75-4 75-2 74-3 75-3 75-18 75-42 74 1 75-57 75 30 75-17 75-37 74-54 75-102 75-75 75-27 74-120 75-152 75-210 75-192 74-184 75 127 75 19"/><path d="M335 1381l75-3 75-2 74-7 75-12 75-11 75-5 74-19 75 7 75-50 75-61 75 0 74-7 75-18 75-60 75-62 74-35 75-75 75-116 75 52 74 63 75-38 75-148"/><path d="M335 1383l75 0 75 0 74-5 75-10 75 2 75-20 74-22 75-90 75 41 75 8 75-45 74 10 75-57 75-81 75-72 74-61 75-365 75-56 75-104 74-26 75-40 75-32"/><path d="M335 1384l75-2 75 1 74 0 75-1 75-2 75-2 74-7 75 3 75-18 75-7 75-4 74-21 75-16 75-60 75-53 74-29 75-185 75-135 75-131 74-7 75-34 75-442"/><path d="M335 1385l75 1 75 0 74 0 75 0 75 0 75 0 74 0 75-1 75-8 75-7 75-12 74-8 75-9 75-9 75-38 74-39 75-32 75-40 75-54 74-41 75-28 75-11"/><path d="M335 1382l75 0 75-2 74-2 75-12 75-12 75 0 74-14 75-9 75-2 75-29 75 5 74-3 75-52 75-36 75-24 74 6 75-102 75-152 75 91 74-235 75-182 75-216"/><path d="M335 1381l75-1 75-1 74-4 75-2 75-12 75-18 74-21 75-9 75 20 75-41 75-34 74-23 75-31 75 4 75-54 74-3 75-78 75-215 75-139 74-224 75-129 75-38"/><path d="M335 1384l75 1 75 1 74-2 75 0 75-6 75-1 74-37 75 17 75-33 75-15 75-54 74 61 75-72 75 7 75-45 74-102 75-70 75-34 75-227 74 63 75-79 75-130"/><path d="M335 1383l75 0 75-1 74-8 75-2 75-4 75-3 74 2 75-3 75-52 75-1 75 9 74-1 75-6 75-50 75-72 74-117 75-170 75-346 75-164 74 145 75-96 75-600"/><path d="M335 1380l75-4 75-7 74-10 75-24 75-5 75-3 74-52 75-10 75-12 75-82 75-34 74-14 75-227 75-55 75 19 74-20 75-18 75-192 75-185 74-67 75-144 75-386"/><path d="M335 1383l75-3 75-4 74 1 75-7 75-8 75 11 74-6 75 6 75-12 75-9 75-11 74-24 75-20 75 16 75-92 74-88 75-82 75-118 75-131 74-216 75-80 75 77"/><path d="M335 1382l75-2 75-8 74-23 75-2 75-12 75-16 74-62 75-50 75-31 75 4 75-76 74-108 75-50 75 35 75-78 74 13 75-246 75-162 75-217 74 80 75-315 75-193"/><path d="M335 1383l75 0 75 0 74-5 75 2 75-7 75-2 74-2 75-19 75-23 75-21 75-76 74-74 75 28 75 35 75 5 74-102 75-237 75-202 75-162 74 2 75 74 75 91"/><path d="M335 1384l75-1 75 0 74 0 75-5 75 0 75 2 74 1 75-5 75-9 75-3 75-41 74 7 75-5 75-15 75-36 74-60 75-122 75-153 75-147 74-241 75-83 75-241"/><path d="M335 1383l75-2 75-3 74 1 75-11 75-25 75 9 74-13 75-41 75-22 75-19 75 48 74-8 75 5 75-3 75-134 74-15 75-123 75-110 75-260 74 112 75-688 75 64"/><path d="M335 1385l75 0 75 1 74-1 75 1 75 0 75 0 74-4 75 1 75-7 75-21 75-34 74-33 75 40 75-7 75-82 74-52 75-127 75 88 75-22 74-34 75-19 75-92"/><path d="M335 1385l75 1 75 0 74 0 75-1 75 0 75-7 74 1 75-4 75-10 75-16 75-20 74 3 75-18 75-83 75-21 74-49 75-144 75-51 75-112 74-283 75 105 75-99"/><path d="M335 1382l75-2 75 3 74-3 75-4 75 1 75 4 74-3 75-4 75-8 75-37 75-16 74 2 75-13 75-121 75-23 74-32 75-62 75 20 75-169 74-61 75-108 75-164"/><path d="M335 1382l75-6 75-11 74-10 75-7 75-5 75-16 74-41 75-38 75-17 75-43 75 66 74-86 75-73 75 28 75-5 74 14 75-222 75-229 75-98 74-104 75-449 75 25"/><path d="M335 1382l75-3 75-1 74-18 75-13 75-8 75-36 74-28 75-34 75-7 75-58 75-90 74 2 75-120 75 20 75-76 74-113 75-390 75-234 75-227 74-111 75 141 75-43"/><path d="M335 1382l75-3 75-2 74-4 75 6 75-7 75-30 74-14 75 6 75-40 75 2 75-85 74-66 75-29 75-80 75-8 74-150 75-138 75-338 75-17 74-372 75 22 75-162"/><path d="M335 1383l75-2 75-4 74-13 75-13 75 9 75-6 74-57 75-45 75-1 75 11 75-42 74-47 75-42 75 13 75-130 74 54 75-179 75-150 75-70 74-255 75-222 75-184"/><path d="M335 1382l75-5 75-6 74-12 75-20 75-13 75 3 74-47 75-21 75-54 75 17 75-20 74 3 75-2 75-129 75 71 74-69 75-191 75-180 75-285 74-21 75-103 75 32"/><path d="M335 1385l75 0 75 1 74-1 75-2 75-3 75 0 74 4 75-3 75-10 75-23 75-7 74-2 75-9 75-1 75-36 74-33 75-41 75-57 75-35 74-108 75-207 75 1"/><path d="M335 1383l75 0 75-1 74 1 75 0 75-7 75 0 74-12 75-11 75-1 75-19 75-42 74 9 75-106 75-58 75-135 74 17 75-155 75 71 75 34 74-150 75-23 75 43"/><path d="M335 1383l75-6 75-6 74-11 75-6 75-10 75-23 74-37 75-34 75 11 75 24 75-25 74-63 75-15 75-8 75 1 74-12 75-22 75-57 75-104 74-138 75-122 75-251"/><path d="M335 1384l75 1 75-2 74-8 75 1 75 0 75-3 74-4 75 0 75-15 75-10 75-30 74-24 75-23 75-26 75 1 74-107 75-53 75 41 75-51 74-50 75 1 75-58"/><path d="M335 1384l75 1 75 0 74 0 75-1 75-1 75-5 74-1 75-1 75-11 75-16 75-2 74-36 75-13 75-49 75-66 74 20 75-70 75-114 75-62 74-185 75-26 75-213"/><path d="M335 1383l75 0 75-6 74-1 75-4 75-5 75-45 74-30 75 1 75-5 75-56 75-79 74-31 75-29 75-111 75-35 74-109 75-167 75-326 75 155 74 80 75-164 75-152"/><path d="M335 1385l75 0 75 0 74 0 75-2 75 1 75-1 74-9 75 0 75-14 75-7 75-34 74-19 75-22 75-30 75-9 74-77 75 10 75-88 75-215 74-342 75 257 75-106"/><path d="M335 1383l75-4 75 2 74-7 75-3 75-5 75-1 74-12 75-4 75-11 75-26 75-41 74-26 75-9 75-87 75 33 74-40 75-149 75-20 75-126 74 17 75-174 75-315"/><path d="M335 1382l75-1 75-1 74-2 75 1 75-20 75-5 74-47 75-52 75-4 75-69 75-59 74-9 75-54 75 0 75-6 74-44 75-305 75 40 75-258 74-258 75-491 75-260"/><path d="M335 1384l75 0 75-2 74 1 75 0 75-2 75-1 74-1 75-23 75 6 75-6 75-16 74-36 75-47 75-33 75 0 74-159 75-215 75-124 75-140 74 5 75-382 75 225"/><path d="M335 1382l75-5 75-6 74-12 75-20 75-25 75-8 74-13 75-43 75-55 75-96 75-88 74-40 75-58 75-60 75-82 74-86 75-169 75-33 75-206 74 89 75-657 75-337"/><path d="M335 1382l75 0 75 1 74 1 75-1 75-3 75 2 74-2 75-25 75-16 75-23 75-2 74-61 75-33 75-7 75-80 74-19 75-109 75-218 75-63 74-247 75-90 75 110"/><path d="M335 1384l75-1 75 0 74 1 75-1 75-4 75-14 74-24 75 7 75-23 75-10 75-50 74-4 75-28 75-78 75-13 74-106 75-96 75-206 75-159 74-203 75-127 75-244"/><path d="M335 1381l75-5 75-6 74-6 75-17 75-30 75-32 74-47 75-69 75 29 75-16 75-55 74-36 75 75 75-59 75-41 74-47 75-189 75-279 75-52 74-424 75-94 75-421"/><path d="M335 1384l75 0 75 0 74 0 75-1 75-3 75-1 74-7 75-18 75 6 75-15 75-15 74-9 75 9 75-6 75-70 74-49 75-106 75-85 75-45 74-99 75-221 75-188"/><path d="M335 1382l75-4 75 1 74 0 75 4 75-6 75-7 74-12 75-35 75-84 75 15 75-33 74-54 75-92 75 73 75-68 74-14 75-89 75 26 75 74 74-95 75-35 75-257"/><path d="M335 1382l75-2 75-8 74-5 75-1 75-6 75 7 74-2 75-36 75 15 75-24 75-67 74-78 75-79 75-100 75-188 74-45 75-107 75-166 75-82 74 53 75 212 75-290"/><path d="M335 1384l75 0 75 1 74 0 75 0 75-2 75-1 74-2 75-3 75-12 75-9 75-12 74 0 75-9 75-8 75-51 74-36 75-40 75-45 75-83 74-177 75 91 75-32"/><path d="M335 1381l75 0 75-3 74-16 75-23 75 8 75-22 74-48 75-56 75 66 75-24 75-79 74 88 75-20 75-100 75-27 74 29 75-221 75-110 75-30 74-94 75-138 75-410"/><path d="M335 1384l75 0 75-3 74-1 75 2 75-6 75-5 74-14 75 3 75-24 75-22 75 2 74-43 75-58 75-93 75 24 74-96 75-44 75-170 75 10 74-71 75-182 75-149"/><path d="M335 1382l75 0 75-4 74-3 75-9 75-11 75-12 74-9 75-3 75-55 75-76 75 4 74-107 75-29 75 40 75-129 74 90 75-132 75-39 75-27 74-215 75-527 75 51"/><path d="M335 1382l75-2 75 0 74-3 75-6 75-12 75-5 74-17 75-35 75-17 75 5 75-71 74-27 75-17 75-39 75 3 74-52 75-169 75-83 75-217 74-116 75 54 75-39"/><path d="M335 1379l75-6 75-7 74-12 75-8 75-48 75 14 74 8 75-67 75-18 75 35 75-7 74-64 75-72 75-56 75-51 74-5 75-205 75-400 75-23 74-168 75-24 75-178"/><path d="M335 1384l75-1 75-2 74-7 75-5 75-2 75 3 74-3 75 1 75-3 75 2 75-28 74-9 75-54 75 19 75-69 74-51 75-200 75-53 75-77 74-224 75-242 75-36"/><path d="M335 1384l75 0 75 1 74 0 75-2 75-1 75-8 74-17 75-32 75-28 75 2 75-15 74 12 75-52 75-120 75 34 74-119 75-242 75-142 75-331 74-104 75-168 75 14"/><path d="M335 1385l75 0 75 1 74 0 75 0 75-1 75 0 74 1 75 0 75-8 75-9 75-11 74-12 75-14 75-45 75-51 74-94 75-59 75-68 75-65 74-296 75 66 75 100"/><path d="M335 1383l75-3 75-2 74-2 75-21 75-21 75-21 74-22 75-37 75-26 75-22 75-71 74 17 75 39 75-150 75-18 74-16 75-227 75-296 75-14 74-158 75-132 75-336"/><path d="M335 1382l75-4 75 0 74-7 75-1 75-5 75-12 74 5 75 16 75-7 75-46 75 1 74-21 75-38 75 20 75-92 74-23 75-107 75-92 75 34 74-110 75-130 75 18"/><path d="M335 1383l75 0 75-1 74 2 75-14 75-12 75-15 74 11 75 6 75-36 75-19 75-34 74-83 75-13 75-25 75-4 74 50 75-98 75-63 75-190 74-215 75-56 75-305"/><path d="M335 1381l75-3 75-2 74-9 75 5 75-6 75 1 74-5 75-54 75-6 75-5 75-18 74-2 75-61 75 19 75-70 74-118 75-86 75-45 75-9 74-75 75-162 75-79"/><path d="M335 1383l75 0 75-2 74-1 75 0 75-9 75 0 74-6 75 5 75-16 75-34 75-15 74-58 75-29 75 62 75-115 74-76 75-67 75-358 75 2 74 75 75-162 75 245"/><path d="M335 1383l75-1 75-2 74 2 75-1 75 0 75 0 74-15 75-3 75-41 75 5 75-17 74-22 75-80 75-55 75-60 74-60 75-373 75-146 75-172 74-187 75-25 75 76"/><path d="M335 1385l75 1 75 0 74 0 75-1 75-2 75-11 74-41 75-7 75 7 75-12 75-45 74-51 75-94 75-3 75-56 74-78 75-124 75 34 75-290 74 4 75-357 75 2"/></g><g stroke-dashoffset="16.8"><path d="M335 1383l75-1 75-3 74-5 75 3 75-4 75-19 74-19 75-40 75-40 75-33 75-48 74-21 75-39 75-51 75-190 74-71 75-193 75-184 75-53 74-67 75-129 75-105"/><path d="M335 1384l75-1 75-2 74 0 75-2 75-6 75-11 74-16 75-1 75-11 75 10 75-19 74-14 75-20 75-3 75-73 74-53 75-43 75-50 75-79 74-226 75-319 75 22"/><path d="M335 1381l75-2 75-1 74-2 75 0 75-6 75-14 74 3 75-36 75 2 75-28 75-44 74-81 75-29 75 11 75-91 74 31 75-95 75-29 75-164 74-61 75-101 75-185"/><path d="M335 1383l75 1 75 0 74-5 75-8 75-14 75-4 74-22 75-2 75 3 75 12 75-26 74 14 75-53 75 2 75-65 74-38 75-111 75-55 75-246 74-285 75 90 75-116"/><path d="M335 1383l75 0 75 1 74 0 75-2 75-9 75-15 74 10 75-8 75-18 75-9 75-35 74 9 75-30 75-10 75-9 74-59 75-140 75-117 75 62 74-143 75-180 75-165"/><path d="M335 1382l75-5 75-5 74 1 75-4 75-27 75-36 74-16 75-13 75 22 75 8 75-81 74-92 75-30 75 6 75 23 74-21 75-214 75-162 75-129 74-185 75 37 75-197"/><path d="M335 1382l75-4 75-6 74-9 75 2 75-27 75-25 74 9 75 0 75-34 75-21 75-56 74 0 75 8 75-88 75-61 74-70 75-128 75-116 75-137 74-266 75 4 75-24"/><path d="M335 1383l75-2 75 0 74-2 75 4 75-11 75 6 74-14 75-1 75-12 75-37 75 8 74-37 75-55 75-30 75-155 74-35 75-136 75-55 75-139 74-67 75-327 75 56"/><path d="M335 1384l75 1 75-2 74-4 75 0 75-3 75-17 74 2 75-61 75-3 75-76 75-20 74-61 75-103 75 3 75-71 74-88 75-29 75-95 75-136 74-264 75 56 75-147"/><path d="M335 1384l75-2 75 0 74-5 75-9 75-3 75-1 74-5 75-9 75-32 75-16 75-50 74-18 75 55 75 8 75-33 74-108 75-65 75-13 75-109 74-39 75-97 75-379"/><path d="M335 1382l75-5 75-4 74-8 75-1 75-33 75-23 74-48 75-16 75-51 75-103 75-47 74-64 75-98 75-52 75-37 74 52 75-313 75-313 75-273 74-225 75-218 75-183"/><path d="M335 1384l75-1 75-1 74-1 75-5 75 0 75-1 74-29 75 2 75-27 75-1 75-47 74-68 75-35 75-50 75-96 74-67 75-159 75-21 75 116 74-58 75-172 75 97"/><path d="M335 1383l75 0 75-1 74-7 75-2 75 6 75-12 74-8 75-11 75-54 75 17 75-52 74-25 75 10 75-8 75-67 74-97 75-72 75 28 75-153 74-123 75-162 75-167"/><path d="M335 1384l75 0 75 0 74-3 75 0 75-2 75-3 74-5 75-7 75-10 75-32 75-29 74-6 75-18 75-69 75 43 74-76 75-120 75 30 75-9 74-20 75 3 75 1"/><path d="M335 1382l75-2 75-7 74-14 75-36 75-37 75-32 74-34 75-52 75 29 75-67 75-33 74-28 75-24 75 29 75-44 74-2 75-198 75-234 75 63 74-228 75-53 75-510"/><path d="M335 1385l75 1 75 0 74 0 75 0 75-1 75-5 74-26 75 16 75-5 75-17 75-31 74-28 75-13 75-14 75-30 74-9 75-64 75-118 75-205 74 197 75-140 75-94"/><path d="M335 1383l75-3 75-2 74-5 75 2 75-1 75-4 74-9 75 4 75-50 75 15 75-11 74-1 75-6 75-32 75-40 74-27 75-47 75-71 75 23 74-55 75-24 75-95"/><path d="M335 1384l75 1 75-2 74-3 75-7 75-6 75-6 74-1 75-6 75-2 75-28 75-23 74-34 75 7 75-60 75-74 74-37 75-19 75-160 75-74 74-143 75-6 75-213"/><path d="M335 1383l75-1 75-1 74-5 75-7 75 1 75-25 74-11 75-74 75-30 75-30 75-77 74-115 75-2 75 66 75-79 74-45 75-186 75-194 75-413 74-138 75-13 75-297"/><path d="M335 1383l75 0 75 1 74-7 75-8 75-12 75-12 74 17 75-9 75-11 75-4 75-32 74-17 75 8 75-18 75-35 74-17 75-115 75-159 75-61 74 31 75-237 75 98"/><path d="M335 1381l75-2 75-1 74-9 75-8 75-29 75-15 74-35 75-4 75-76 75 56 75-19 74-6 75-8 75-113 75-9 74-57 75-185 75-211 75-291 74 241 75-163 75-256"/><path d="M335 1385l75 1 75 0 74-1 75 0 75-2 75-6 74-6 75 0 75-1 75-7 75-15 74-1 75-7 75-9 75-35 74-33 75-42 75-38 75-48 74-43 75-42 75 10"/><path d="M335 1382l75-3 75 2 74-6 75-9 75-11 75-27 74-5 75 16 75 0 75-14 75-15 74-22 75-57 75 57 75-188 74-52 75-122 75-160 75-24 74 12 75-228 75-51"/><path d="M335 1384l75 1 75 0 74-1 75-5 75-9 75-23 74-9 75-39 75-8 75-2 75 15 74-33 75-54 75-8 75-53 74-28 75 11 75-244 75-208 74-179 75-146 75-2"/><path d="M335 1382l75-3 75-2 74 2 75-1 75-4 75-5 74-43 75-25 75-46 75-57 75-59 74-47 75 76 75-47 75-109 74-119 75-134 75-190 75-80 74-333 75-98 75-318"/><path d="M335 1383l75-3 75-1 74-4 75-3 75-9 75 7 74-10 75-36 75-27 75-22 75-11 74-40 75-4 75 9 75 14 74 5 75-43 75-69 75-166 74-274 75-99 75 328"/><path d="M335 1384l75-1 75 0 74-4 75 2 75-4 75-7 74 8 75-10 75-64 75-34 75-67 74 30 75-80 75 56 75-87 74 41 75-34 75-66 75-88 74-354 75 41 75 130"/><path d="M335 1384l75 1 75 0 74 0 75-1 75-1 75-2 74-21 75-14 75 1 75-48 75 15 74-67 75-22 75 30 75-9 74-37 75-105 75-191 75 8 74-188 75-235 75-85"/><path d="M335 1384l75 0 75 1 74-1 75-1 75-5 75-3 74-6 75-12 75-19 75-56 75-22 74-10 75-57 75-68 75-43 74-98 75-80 75-126 75 50 74-321 75-107 75-350"/><path d="M335 1384l75 1 75 0 74 0 75-1 75 0 75 0 74-2 75-9 75-7 75-13 75 4 74-9 75-13 75-9 75-51 74-28 75-78 75-60 75-62 74-113 75-156 75-75"/><path d="M335 1381l75-7 75-4 74-11 75-7 75-20 75-27 74-31 75-7 75-26 75-74 75-63 74-128 75-4 75-50 75-118 74-167 75-153 75-99 75-459 74-286 75-295 75-274"/><path d="M335 1384l75-1 75-1 74-11 75-5 75-33 75-15 74-4 75-14 75-75 75 34 75-1 74-42 75 27 75-2 75-66 74-61 75-154 75-33 75-163 74-207 75-168 75-458"/><path d="M335 1384l75-3 75-2 74-6 75-4 75-12 75-16 74 6 75-8 75-28 75-56 75-22 74 2 75-65 75-48 75-4 74-103 75-191 75-39 75-361 74-146 75-120 75 339"/><path d="M335 1381l75-2 75 0 74-5 75-1 75-21 75 7 74-10 75-12 75-12 75-22 75 1 74-132 75-85 75-137 75-8 74-26 75-220 75-183 75-359 74-223 75-285 75 175"/><path d="M335 1384l75-1 75-1 74 0 75-2 75-10 75-2 74-12 75-8 75-19 75-21 75-18 74-27 75-39 75-93 75-47 74-26 75-159 75-34 75-204 74-81 75-155 75-73"/><path d="M335 1383l75-2 75-1 74-6 75-3 75-8 75-1 74-25 75-6 75 10 75-14 75-48 74 9 75-71 75-34 75-161 74-30 75-119 75-162 75-273 74 269 75-317 75 145"/><path d="M335 1382l75-3 75 1 74-7 75-4 75-23 75 11 74-48 75-2 75 5 75-29 75-15 74-25 75-37 75-66 75-112 74-97 75-123 75-298 75-258 74-214 75-173 75 24"/><path d="M335 1384l75-3 75 0 74-1 75-1 75-22 75-7 74-35 75-60 75-14 75 0 75-98 74-60 75-11 75 28 75-37 74-14 75-195 75-33 75 72 74-364 75 0 75-742"/><path d="M335 1384l75-1 75-2 74-10 75-5 75 3 75-5 74-32 75 12 75-15 75 4 75-15 74-17 75-3 75-40 75-3 74-45 75-50 75-158 75 6 74-175 75 46 75-223"/><path d="M335 1383l75-2 75-1 74 2 75-10 75 0 75 1 74-5 75-8 75-4 75-29 75-33 74 12 75-34 75 20 75-50 74-12 75-122 75-98 75 5 74 23 75-193 75-312"/><path d="M335 1384l75 0 75-3 74 1 75 1 75 0 75-2 74-2 75-10 75-21 75-4 75-40 74-43 75-25 75-89 75-51 74-96 75-102 75-184 75-69 74-92 75 43 75-139"/><path d="M335 1384l75-2 75-4 74-4 75-4 75-6 75-13 74-16 75-19 75-15 75-40 75 3 74-71 75 13 75-18 75-20 74-201 75-110 75-120 75-165 74 81 75-10 75-135"/><path d="M335 1381l75-10 75-9 74-19 75-19 75-35 75-34 74-40 75-11 75-11 75-80 75-35 74-57 75-111 75 138 75-121 74-167 75-124 75-95 75-108 74-290 75 74 75-388"/><path d="M335 1382l75-3 75-8 74 0 75-6 75-16 75-36 74 2 75 11 75-52 75 0 75 6 74 27 75-64 75-78 75-38 74-18 75-309 75-180 75 105 74 53 75-295 75 142"/><path d="M335 1384l75 1 75 0 74-3 75 1 75-8 75-9 74-8 75 1 75-21 75-56 75-85 74 41 75 66 75-40 75-67 74 33 75-59 75-65 75-84 74-102 75 48 75-4"/><path d="M335 1383l75-3 75 2 74-3 75 3 75-1 75-15 74-30 75 8 75-5 75 8 75-79 74-31 75-29 75-29 75 3 74-85 75-58 75-114 75-81 74-10 75 53 75-428"/><path d="M335 1383l75-1 75 1 74-1 75-5 75-8 75-7 74-3 75-9 75-17 75-34 75-14 74-20 75-67 75-56 75-6 74-104 75-129 75-37 75-181 74-105 75-57 75-341"/><path d="M335 1384l75-3 75-6 74-1 75-9 75-24 75 12 74-8 75-8 75-3 75-18 75-71 74-2 75-10 75-35 75-53 74-2 75-183 75-155 75-36 74-84 75-43 75-2"/><path d="M335 1384l75-1 75 1 74-1 75-1 75-7 75 0 74-6 75-7 75-44 75 6 75-37 74-6 75-112 75-63 75-26 74-79 75-130 75-37 75 84 74-241 75-231 75-365"/><path d="M335 1384l75 1 75 0 74-1 75 0 75-7 75-11 74-11 75-5 75-27 75 1 75-9 74-59 75 25 75-1 75-22 74-44 75-72 75-143 75 36 74-59 75-151 75 141"/><path d="M335 1385l75 0 75 1 74-3 75-7 75-4 75 8 74-13 75-18 75-3 75-13 75-86 74-7 75 15 75-74 75-82 74-231 75-37 75-107 75 3 74-205 75 40 75-146"/><path d="M335 1384l75-1 75-2 74 0 75-10 75 5 75-13 74-12 75-19 75-43 75-51 75-41 74-4 75-100 75-92 75-5 74 3 75-130 75-95 75-180 74-79 75-118 75-199"/><path d="M335 1384l75 1 75 1 74 0 75-1 75-1 75 0 74-5 75 3 75-22 75-21 75-37 74-57 75-52 75 5 75-53 74-103 75-53 75-371 75-201 74 67 75-21 75-534"/><path d="M335 1382l75-4 75 2 74-8 75-1 75-4 75-22 74-26 75-8 75-75 75 66 75-43 74-19 75-64 75-19 75-24 74-104 75-49 75-120 75-57 74-7 75-182 75-263"/><path d="M335 1383l75 0 75-1 74-6 75-5 75-6 75-9 74-69 75-14 75-31 75 4 75-33 74-22 75-88 75-68 75-39 74-73 75-215 75-67 75-303 74-144 75-233 75-43"/><path d="M335 1384l75 0 75-2 74-3 75 4 75-3 75-1 74-69 75-34 75-20 75-13 75-23 74-88 75 19 75-12 75-48 74-115 75-183 75-59 75-216 74-106 75 114 75-232"/><path d="M335 1383l75-5 75-4 74-8 75-14 75-27 75 22 74-18 75-45 75 15 75-31 75-118 74-61 75-61 75-51 75-12 74-97 75-210 75-199 75-167 74-12 75 137 75 124"/><path d="M335 1384l75-2 75 0 74-2 75-5 75 0 75-22 74 2 75-33 75-36 75 8 75-21 74-65 75-37 75-33 75 22 74-107 75-147 75-143 75-67 74 86 75-256 75 37"/><path d="M335 1383l75-3 75-3 74-6 75-14 75 5 75-9 74-2 75-47 75-3 75 8 75 7 74-77 75-33 75-77 75-131 74 16 75-163 75-189 75 32 74-13 75-269 75 123"/><path d="M335 1383l75-1 75-1 74 3 75-1 75-11 75-7 74-34 75-42 75 41 75-22 75-21 74 8 75-83 75-5 75-56 74 52 75-44 75-37 75-76 74-26 75-28 75 28"/><path d="M335 1384l75 0 75 0 74-1 75-2 75-11 75-32 74-36 75-13 75-2 75-17 75-28 74-11 75-47 75-50 75-74 74-103 75-138 75-63 75-174 74-232 75-163 75-292"/><path d="M335 1381l75-3 75-6 74-14 75-11 75-13 75-13 74-15 75 0 75-14 75-46 75-20 74-25 75-43 75-50 75-73 74-34 75-148 75-177 75-237 74 46 75-217 75-110"/><path d="M335 1383l75-1 75-1 74-2 75-2 75-2 75-10 74 0 75-22 75-19 75-11 75-86 74-85 75-20 75-33 75-47 74-110 75-191 75-275 75 91 74-64 75-151 75-7"/><path d="M335 1385l75 0 75 0 74 0 75 1 75-2 75 1 74-1 75 0 75-12 75-18 75-18 74-8 75-15 75-14 75-26 74-38 75-22 75-38 75-168 74-73 75-77 75 156"/><path d="M335 1384l75-1 75 0 74-7 75-2 75-3 75-7 74-16 75-34 75-2 75-73 75-29 74-4 75 2 75-109 75-4 74-37 75-35 75 19 75-112 74-50 75-318 75 38"/><path d="M335 1383l75 2 75 0 74-2 75-3 75-8 75-16 74-50 75 0 75-57 75 8 75-30 74-27 75-44 75-41 75 83 74-48 75-201 75-308 75-188 74-301 75-212 75-296"/><path d="M335 1382l75-5 75-5 74-21 75 1 75-8 75 9 74-14 75-35 75-8 75-68 75-57 74-33 75-21 75-114 75 14 74-19 75-180 75-77 75-36 74-233 75-102 75-151"/><path d="M335 1383l75-1 75-8 74 1 75 0 75-12 75-5 74-33 75-29 75 7 75-21 75-25 74-4 75-3 75-66 75-88 74-26 75-165 75 69 75-104 74-207 75-27 75-216"/><path d="M335 1383l75-2 75 1 74-3 75-4 75-19 75-32 74 13 75-25 75-17 75-8 75-25 74-10 75-31 75 15 75-23 74-35 75-133 75-235 75-37 74-60 75-43 75-136"/></g><g stroke-dashoffset="25.1"><path d="M335 1381l75-4 75-8 74-3 75-2 75-32 75-16 74 6 75-39 75-27 75-70 75-47 74-46 75-68 75-161 75 48 74-25 75-6 75 53 75-207 74-254 75-120 75-220"/><path d="M335 1383l75 0 75-2 74-6 75-8 75 2 75 4 74 0 75-34 75 10 75-11 75-78 74-56 75-55 75-55 75-29 74-217 75-155 75-167 75-69 74-7 75-263 75-275"/><path d="M335 1383l75 0 75-1 74-3 75-1 75-16 75-14 74-20 75 10 75-42 75 10 75-79 74-92 75-106 75-41 75-70 74-58 75-235 75-434 75-171 74-13 75 116 75 399"/><path d="M335 1384l75-1 75-1 74-2 75 2 75-3 75-14 74-17 75-17 75-41 75-32 75 9 74-98 75-116 75-46 75 19 74-82 75-234 75-66 75 153 74-100 75-120 75 66"/><path d="M335 1381l75-5 75-6 74-11 75 0 75-25 75-18 74-37 75-34 75-88 75-47 75-33 74-72 75 25 75-38 75-116 74-89 75-129 75-50 75-25 74 2 75-520 75-195"/><path d="M335 1384l75-1 75-4 74 3 75-6 75-6 75-10 74 2 75-14 75-49 75-27 75-108 74 27 75-16 75-64 75-65 74-35 75-196 75-272 75 27 74-15 75-108 75 201"/><path d="M335 1384l75-1 75-1 74 0 75 1 75-2 75 1 74-2 75-9 75 0 75-50 75-40 74-20 75-35 75-10 75-205 74-4 75-23 75-81 75-517 74 119 75-85 75 87"/><path d="M335 1382l75-2 75-7 74 4 75-5 75-10 75-39 74-42 75 17 75-11 75-28 75 21 74-5 75 17 75-24 75-90 74-42 75-26 75-98 75 68 74-261 75 29 75-100"/><path d="M335 1382l75-3 75-5 74-2 75-12 75-1 75-18 74 18 75-5 75-36 75-8 75-74 74 19 75-6 75-49 75-53 74-24 75-170 75-118 75 8 74 50 75-3 75 34"/><path d="M335 1383l75-6 75 3 74-9 75 1 75-15 75-10 74-17 75-17 75-100 75-53 75 41 74-99 75 99 75-31 75-78 74 5 75-56 75-129 75-116 74 37 75 78 75-209"/><path d="M335 1380l75-9 75-9 74-15 75 1 75-19 75-45 74-8 75 3 75-49 75-11 75-46 74-96 75-45 75 37 75-194 74-124 75-251 75-46 75-12 74-252 75 2 75-114"/><path d="M335 1384l75 1 75-1 74-7 75-5 75-12 75-8 74-85 75-21 75-62 75-66 75 16 74-8 75-32 75-62 75-199 74 45 75-186 75 5 75-76 74 13 75-178 75-308"/><path d="M335 1383l75-2 75-1 74-1 75-1 75-1 75-11 74 6 75-3 75-4 75-14 75-27 74-18 75-22 75-62 75-49 74-16 75-72 75-126 75-88 74-84 75-252 75 32"/><path d="M335 1384l75 1 75 1 74-1 75-1 75 0 75 1 74-4 75-2 75-59 75-33 75-6 74-29 75-45 75-23 75-65 74-88 75-103 75-37 75-68 74-128 75-38 75-109"/><path d="M335 1382l75 1 75 0 74-5 75-8 75 0 75-12 74-3 75-19 75 3 75-18 75-86 74 32 75-43 75 7 75-34 74-27 75-115 75-96 75-233 74-144 75-224 75-97"/><path d="M335 1382l75-4 75-10 74-8 75-11 75-23 75-46 74-54 75-56 75 20 75-13 75-60 74-29 75-17 75 43 75-74 74-44 75-257 75-247 75-131 74-52 75-8 75-68"/><path d="M335 1381l75-5 75-3 74-10 75-7 75-21 75-18 74-24 75-12 75-18 75-17 75-4 74-66 75-52 75-60 75 70 74-18 75-164 75-170 75-100 74 81 75-283 75 181"/><path d="M335 1381l75-1 75-1 74-5 75-5 75 3 75-13 74-21 75-20 75-3 75 6 75-139 74-22 75-96 75 37 75-71 74-8 75-122 75-72 75-88 74-166 75 49 75-253"/><path d="M335 1383l75 0 75 0 74 1 75-1 75-5 75-4 74 2 75-23 75-19 75-8 75-31 74 4 75-42 75-126 75 30 74-136 75-179 75 54 75-72 74-199 75-73 75-275"/><path d="M335 1384l75 0 75-1 74 0 75-3 75 0 75-9 74 3 75 3 75-13 75-13 75-11 74-39 75-104 75-21 75-85 74 64 75-185 75-25 75-172 74-50 75 80 75-145"/><path d="M335 1380l75-5 75-2 74-3 75-17 75-28 75-44 74-69 75-45 75-72 75 44 75 4 74-9 75-91 75-71 75-71 74-15 75-91 75-106 75-89 74-25 75-256 75 53"/><path d="M335 1382l75-1 75-7 74-7 75-12 75 4 75 7 74-10 75-21 75-25 75 2 75-47 74-37 75-114 75-128 75-141 74-61 75-258 75-257 75-328 74-181 75-377 75-326"/><path d="M335 1382l75-4 75-7 74-2 75-7 75-22 75-22 74-50 75-59 75-23 75 15 75-28 74-63 75 1 75-54 75-116 74 51 75-222 75-146 75-281 74 0 75-102 75 223"/><path d="M335 1385l75 1 75 0 74 0 75-1 75-2 75 1 74-12 75 0 75-15 75-32 75-32 74-41 75 22 75-68 75-9 74-95 75-71 75-92 75-75 74-90 75 84 75-41"/><path d="M335 1379l75-8 75-7 74-22 75 5 75-22 75-64 74-61 75-61 75-44 75-27 75 50 74-42 75-61 75-11 75 6 74-81 75-121 75-277 75-30 74-215 75-124 75-497"/><path d="M335 1384l75-1 75 0 74 0 75-7 75-4 75 4 74-9 75 4 75-5 75-18 75-12 74-17 75-13 75-35 75-25 74-8 75-84 75-154 75-119 74 84 75 41 75-174"/><path d="M335 1384l75-2 75 0 74-1 75-2 75-1 75-7 74 6 75-1 75-11 75-16 75-25 74-9 75 3 75-3 75-49 74-87 75-156 75-149 75-341 74 4 75 259 75 10"/><path d="M335 1383l75 0 75 0 74-2 75-4 75-2 75 10 74-6 75 0 75-11 75-24 75-5 74-28 75-16 75-110 75-67 74-92 75-44 75-94 75-201 74-378 75-20 75 244"/><path d="M335 1384l75 0 75 1 74-1 75 1 75-9 75-13 74-24 75-12 75-12 75-5 75-39 74-13 75-62 75 63 75 2 74-8 75-47 75-145 75-37 74-2 75-162 75 61"/><path d="M335 1385l75 0 75 1 74-1 75-1 75 0 75-2 74-6 75-8 75-9 75-1 75-16 74-9 75-32 75-35 75-56 74-42 75-127 75 10 75-121 74 81 75-32 75-11"/><path d="M335 1385l75 0 75 1 74-1 75 0 75 0 75-1 74-3 75-4 75-3 75-11 75-10 74-17 75-24 75-22 75-13 74-116 75-203 75-46 75-106 74 183 75 58 75-163"/><path d="M335 1382l75-2 75 2 74-1 75 0 75-6 75-10 74-14 75 6 75-26 75 4 75-14 74-56 75 25 75-52 75-19 74-56 75-83 75-10 75-123 74-70 75 49 75-208"/><path d="M335 1383l75-6 75 2 74-1 75-10 75-3 75-22 74-14 75-25 75 8 75-16 75-2 74-27 75 32 75-52 75-72 74-8 75-117 75-145 75-36 74-47 75-161 75-170"/><path d="M335 1380l75-2 75-9 74-7 75-2 75-17 75-39 74-71 75 0 75-27 75-38 75 21 74-65 75-29 75-72 75-98 74-40 75-16 75-335 75-157 74-114 75 104 75-1"/><path d="M335 1381l75-4 75-8 74-16 75 9 75 2 75-5 74 0 75 4 75-46 75-21 75-42 74 15 75-12 75-31 75-12 74-97 75-28 75-311 75-37 74-277 75 51 75 234"/><path d="M335 1383l75-4 75-1 74-8 75-21 75-22 75-22 74-26 75 12 75 2 75-24 75 23 74-30 75-106 75-5 75-53 74-38 75-177 75-104 75-109 74 171 75-256 75-27"/><path d="M335 1383l75-2 75 1 74-1 75-5 75-1 75 0 74-6 75-2 75-29 75 2 75-53 74-47 75 30 75-38 75-62 74-76 75 5 75-67 75-31 74 24 75-35 75-133"/><path d="M335 1383l75-1 75-4 74-1 75-2 75-7 75-15 74 1 75-12 75-60 75 38 75 1 74-31 75-91 75-11 75-70 74-34 75-210 75 25 75-319 74-395 75 137 75 5"/><path d="M335 1384l75-3 75-3 74-7 75-4 75-13 75-31 74 4 75-28 75-13 75-68 75-73 74 23 75-48 75-87 75-104 74-79 75-106 75-126 75 11 74 29 75-457 75-90"/><path d="M335 1384l75-1 75-2 74-4 75 0 75-1 75-22 74-2 75-2 75-6 75-54 75-70 74 21 75-146 75-22 75-58 74 82 75-218 75-214 75-193 74-287 75-68 75-130"/><path d="M335 1383l75 0 75 2 74-1 75-4 75-7 75-5 74-23 75-40 75-25 75 5 75-54 74-102 75 13 75 30 75-52 74-59 75-46 75 29 75-150 74-195 75-137 75-76"/><path d="M335 1381l75-7 75-2 74-11 75-12 75 4 75 2 74-57 75 3 75-45 75 5 75-16 74-75 75-48 75 38 75-76 74 21 75-198 75-93 75-262 74-397 75 18 75 51"/><path d="M335 1382l75-6 75-5 74-9 75-10 75 14 75-13 74-6 75-25 75-9 75 15 75-4 74-33 75-39 75-15 75-70 74-83 75-212 75-168 75-272 74-191 75-167 75-86"/><path d="M335 1381l75-3 75-8 74-11 75-32 75-20 75-20 74-1 75 20 75-38 75-11 75-133 74-37 75 14 75 39 75 21 74-75 75-138 75-309 75-227 74-101 75-50 75 15"/><path d="M335 1382l75-4 75-4 74-11 75-17 75-12 75-9 74-19 75-50 75-7 75 25 75-115 74 72 75-39 75-92 75-163 74-29 75-39 75-209 75-92 74-41 75-158 75-61"/><path d="M335 1385l75 0 75 0 74-2 75 1 75 0 75 0 74-7 75 1 75-24 75-65 75-22 74-47 75-49 75-70 75 150 74-20 75-49 75-36 75-58 74-222 75 60 75-87"/><path d="M335 1384l75 1 75 1 74-1 75-1 75-1 75-2 74-7 75-22 75-12 75-19 75 2 74-38 75 23 75-4 75-34 74-36 75-65 75-66 75-18 74-131 75-71 75-14"/><path d="M335 1383l75 1 75-1 74-4 75-1 75-8 75-7 74-34 75 3 75-32 75 10 75-37 74-87 75-4 75-42 75 21 74-30 75-58 75 44 75-45 74-48 75-251 75-123"/><path d="M335 1385l75 1 75 0 74 0 75 0 75 0 75-1 74-1 75 1 75-8 75-11 75-14 74-70 75-6 75-46 75 46 74-37 75-26 75-53 75-50 74-23 75-57 75-42"/><path d="M335 1384l75 1 75-1 74-2 75-3 75-4 75-12 74 4 75 11 75-6 75-12 75-12 74-26 75 1 75-21 75-54 74-63 75-35 75-107 75-62 74-84 75-14 75-116"/><path d="M335 1381l75-4 75-2 74-5 75-6 75-20 75-8 74 7 75-25 75-30 75-28 75-95 74 1 75-114 75-42 75-2 74 51 75-202 75-329 75-153 74-275 75-278 75 161"/><path d="M335 1382l75-1 75 0 74-3 75-4 75-3 75-6 74-2 75-28 75-32 75-27 75 19 74-46 75-99 75 49 75-33 74-54 75-67 75-46 75-84 74 58 75-182 75-176"/><path d="M335 1382l75-2 75-3 74 0 75-7 75-5 75 2 74-10 75-29 75 26 75-31 75-106 74 52 75-48 75-19 75-192 74-64 75-138 75-159 75-69 74-136 75-357 75-105"/><path d="M335 1381l75-4 75 0 74-13 75-12 75-13 75-29 74 16 75-24 75-50 75-33 75-54 74-76 75 52 75 33 75-63 74-70 75-57 75-470 75 93 74-54 75-97 75-133"/><path d="M335 1385l75 1 75 0 74 0 75 0 75 0 75-1 74 0 75 0 75-7 75-8 75-10 74-10 75-30 75 0 75-60 74-40 75-168 75-115 75-81 74-102 75-140 75 108"/><path d="M335 1381l75-8 75-3 74-6 75-6 75-13 75 1 74-23 75-44 75-50 75-68 75-81 74-110 75 25 75-11 75-155 74 63 75-435 75-296 75-202 74-233 75-242 75-264"/><path d="M335 1380l75-9 75-7 74-19 75-19 75-38 75-34 74-51 75-7 75-16 75-112 75 10 74 2 75-37 75-162 75-125 74-20 75-39 75 18 75-40 74-35 75-73 75-20"/><path d="M335 1381l75-3 75-3 74-12 75-3 75-17 75-27 74-21 75-67 75-29 75-25 75-13 74-141 75-127 75-70 75-74 74 94 75-99 75-197 75-143 74-128 75-305 75-384"/><path d="M335 1384l75-2 75 1 74-2 75-10 75-11 75-4 74 5 75-30 75 25 75-30 75-12 74-21 75-41 75-69 75-21 74 17 75-111 75-36 75-68 74-185 75 166 75-259"/><path d="M335 1383l75-2 75-2 74-4 75 0 75-5 75-2 74-10 75-17 75-73 75-1 75-4 74-23 75 7 75 53 75-24 74-37 75-79 75-99 75-152 74-246 75 87 75-299"/><path d="M335 1381l75-4 75-3 74-10 75-23 75-9 75 19 74-9 75-18 75-24 75-43 75-49 74-36 75-87 75-107 75-39 74 47 75-287 75-128 75-16 74-88 75-231 75-15"/><path d="M335 1384l75-2 75 1 74 2 75-1 75-2 75-12 74-3 75-15 75-28 75-59 75-74 74-9 75-112 75-85 75-125 74-80 75-194 75-170 75-197 74-245 75-218 75-228"/><path d="M335 1383l75-2 75-4 74-2 75-5 75 2 75-29 74 4 75-20 75-48 75-72 75-70 74-24 75 59 75-101 75-19 74 33 75-96 75-211 75 95 74-35 75-142 75 23"/><path d="M335 1384l75-1 75-1 74 2 75-1 75 2 75-6 74-1 75 4 75-11 75-30 75-77 74-61 75-31 75-28 75-62 74-61 75-186 75-95 75-102 74-140 75-96 75-222"/><path d="M335 1384l75-1 75-1 74 0 75 1 75-3 75-15 74-11 75-64 75-7 75-40 75-6 74-35 75-41 75-39 75-1 74-98 75-242 75-278 75-203 74-5 75-115 75-510"/><path d="M335 1385l75 0 75-2 74-2 75-1 75 5 75-3 74-5 75-2 75-48 75-16 75-6 74-33 75-3 75-104 75-6 74-57 75-111 75-86 75-90 74 27 75-65 75-1"/><path d="M335 1382l75-3 75-4 74-12 75-1 75-4 75 3 74-30 75-18 75 12 75-66 75 16 74-45 75 12 75-13 75-48 74 26 75-95 75-92 75-26 74-185 75-233 75-79"/><path d="M335 1384l75-2 75-5 74-1 75-4 75-21 75-3 74-30 75 20 75 2 75-56 75 16 74-42 75-36 75-12 75-138 74-83 75-106 75-158 75-212 74-155 75-296 75-187"/><path d="M335 1384l75-1 75 0 74-2 75-6 75 3 75-19 74-8 75-20 75-61 75 0 75-29 74 53 75-51 75-8 75-17 74-33 75-52 75-129 75-102 74-265 75 164 75-58"/></g><g stroke-dashoffset="33.5"><path d="M335 1382l75-2 75 1 74-11 75-4 75-10 75-21 74 18 75 5 75-50 75-33 75-51 74-15 75-50 75-163 75-23 74-50 75-62 75-280 75-101 74-175 75-22 75-60"/><path d="M335 1384l75-1 75-4 74-1 75 1 75 2 75-2 74-20 75-7 75-6 75-8 75-63 74 31 75-33 75 1 75-119 74 1 75-48 75-80 75 66 74-72 75-97 75-225"/><path d="M335 1384l75-1 75 1 74-1 75 0 75 0 75-3 74-17 75 5 75-6 75-7 75-25 74-21 75-18 75 27 75-78 74-27 75-188 75 6 75-132 74-292 75 189 75-111"/><path d="M335 1385l75 1 75 0 74-1 75 0 75 0 75-1 74-2 75-7 75-1 75-6 75-9 74-30 75-4 75-15 75-25 74-49 75-56 75-17 75-152 74-50 75-28 75 25"/><path d="M335 1384l75-2 75-2 74-12 75-3 75-31 75 10 74 3 75-29 75 20 75-36 75-58 74-45 75-23 75-3 75-66 74 12 75 14 75-51 75 10 74-86 75 0 75-84"/><path d="M335 1382l75-1 75-3 74-14 75-5 75-15 75 6 74-4 75-69 75-12 75-10 75-52 74-107 75-37 75-79 75-49 74-78 75 39 75-281 75 20 74-207 75-82 75 302"/><path d="M335 1382l75 0 75-1 74-5 75-12 75-25 75-36 74-29 75-39 75 17 75-24 75-77 74-80 75-30 75-51 75-20 74-55 75-283 75-59 75-120 74-80 75-228 75 78"/><path d="M335 1383l75-1 75-1 74-7 75-2 75 2 75-13 74-24 75-29 75-26 75 43 75-5 74-48 75-95 75-45 75-107 74-135 75-261 75-127 75-250 74-233 75-98 75-142"/><path d="M335 1382l75 0 75-2 74-2 75-2 75-18 75 1 74-37 75-32 75 25 75-79 75-5 74-35 75-5 75-74 75-52 74 46 75-218 75-106 75-117 74-228 75-147 75-228"/><path d="M335 1382l75-2 75-2 74-7 75-4 75-42 75 5 74 7 75-21 75-26 75-24 75 17 74-23 75-38 75-54 75-47 74-72 75-141 75-150 75-64 74-141 75-396 75 113"/><path d="M335 1382l75-4 75-7 74-12 75-21 75-18 75-64 74-51 75-49 75-61 75-44 75-53 74-36 75 64 75-88 75 36 74 20 75-131 75-403 75-379 74 130 75 61 75-19"/><path d="M335 1382l75 0 75-2 74-4 75-3 75-14 75-21 74-43 75-82 75 3 75-99 75 15 74-14 75-79 75-46 75-134 74-159 75 23 75-226 75-306 74-412 75-299 75-186"/><path d="M335 1382l75-1 75-2 74-6 75-13 75-30 75-63 74-58 75-6 75-88 75-2 75-32 74-98 75 65 75-42 75-69 74-97 75-198 75-195 75-54 74-204 75-22 75-465"/><path d="M335 1383l75-1 75-1 74-2 75-11 75-7 75-31 74-17 75-35 75-4 75 10 75-59 74-55 75 39 75-58 75-12 74 4 75-79 75-84 75-32 74-192 75-183 75 233"/><path d="M335 1381l75 1 75-4 74-4 75-22 75-26 75-54 74-6 75-42 75-25 75-25 75-20 74-60 75-2 75-44 75 28 74-79 75-232 75-95 75-98 74 46 75-156 75-118"/><path d="M335 1383l75 1 75 0 74-1 75-1 75-5 75-12 74-5 75-4 75 0 75-25 75-24 74-28 75-39 75-51 75-107 74-57 75-54 75-106 75-240 74-162 75-111 75 411"/><path d="M335 1381l75-5 75 4 74-6 75-4 75-3 75-12 74-21 75-27 75-50 75-45 75-71 74 10 75-123 75-62 75-102 74 6 75-204 75 2 75 61 74-3 75 30 75 139"/><path d="M335 1381l75-4 75-5 74 0 75 2 75-6 75-1 74-16 75-82 75-29 75-64 75-42 74 57 75-66 75-43 75-22 74-23 75-6 75-209 75-45 74-286 75-189 75-238"/><path d="M335 1382l75-6 75-5 74-9 75-15 75-28 75-15 74-36 75-32 75-40 75-65 75-16 74-42 75-12 75-98 75 64 74-175 75-198 75-132 75-138 74-254 75-393 75 65"/><path d="M335 1383l75 1 75-1 74-1 75-3 75-2 75-11 74 4 75-31 75-19 75-54 75-97 74-67 75-34 75-7 75-107 74 38 75-173 75-285 75-45 74-136 75-201 75-212"/><path d="M335 1383l75 0 75 0 74 0 75 0 75-10 75-8 74-44 75-32 75 34 75-36 75-27 74-36 75-1 75-72 75 32 74-95 75-82 75-26 75-105 74-338 75-45 75 79"/><path d="M335 1382l75-3 75-4 74-6 75-5 75-11 75-28 74-22 75-67 75-23 75-39 75-43 74-137 75 33 75 2 75-24 74-169 75-133 75-342 75-341 74-81 75 1 75-480"/><path d="M335 1382l75-6 75-4 74-8 75-3 75-15 75-13 74-5 75-61 75 9 75 22 75-104 74-76 75-84 75-165 75-121 74-66 75-239 75-262 75-234 74-143 75-169 75 103"/><path d="M335 1382l75-1 75-2 74-5 75-1 75-6 75 4 74 2 75-7 75-40 75-22 75-38 74-18 75-93 75-3 75-4 74-116 75-69 75-249 75-95 74-65 75 139 75-177"/><path d="M335 1385l75 0 75 1 74-1 75 0 75-1 75-2 74-3 75-1 75-15 75-49 75 9 74-12 75-2 75-32 75-24 74-120 75-94 75 0 75 14 74-164 75-67 75-267"/><path d="M335 1383l75-2 75-1 74-1 75 4 75-2 75 0 74-17 75-7 75-7 75-13 75-11 74-17 75-15 75-29 75-103 74-100 75 82 75-108 75-15 74-48 75 31 75-1"/><path d="M335 1384l75 1 75 0 74-1 75 0 75-2 75-1 74-11 75-3 75-20 75-29 75-26 74-9 75 18 75-6 75-23 74-48 75-61 75-180 75-71 74-386 75 55 75-274"/><path d="M335 1384l75 0 75-3 74-1 75-8 75-19 75-23 74-7 75-2 75-34 75-17 75-114 74-7 75-59 75-88 75-29 74 61 75-195 75-105 75-203 74-51 75-256 75-123"/><path d="M335 1381l75-5 75 1 74-10 75-2 75-3 75-20 74-11 75-58 75-142 75 32 75-31 74-134 75-81 75 39 75-112 74-43 75-145 75-189 75-200 74-210 75-243 75-445"/><path d="M335 1384l75-2 75 0 74-1 75 2 75-2 75 0 74 2 75-2 75-27 75 4 75-5 74-6 75-35 75-21 75-46 74-23 75-76 75-38 75-76 74-117 75-157 75-72"/><path d="M335 1383l75 0 75-3 74-11 75 6 75-9 75 11 74-6 75-12 75-37 75 26 75-34 74-36 75-74 75-8 75-65 74-164 75-193 75 24 75-72 74-198 75 107 75-172"/><path d="M335 1384l75-1 75-1 74 1 75-4 75 4 75 2 74-6 75-8 75-9 75-26 75 2 74-12 75 0 75-26 75-22 74-39 75-160 75-123 75-156 74-27 75-49 75 35"/><path d="M335 1380l75-7 75-10 74-5 75-29 75-34 75-26 74-41 75-107 75-77 75-48 75-46 74-120 75-58 75-82 75 52 74-206 75-328 75-435 75-177 74-552 75-161 75-362"/><path d="M335 1380l75-3 75-8 74-17 75-11 75-37 75 11 74-3 75 39 75-18 75 3 75-62 74 2 75 28 75-66 75-1 74-61 75-5 75-66 75-85 74-142 75-107 75 111"/><path d="M335 1381l75-1 75-1 74-6 75-5 75-9 75-10 74-28 75 6 75-41 75-16 75-38 74-119 75-15 75 46 75-94 74-25 75-71 75-389 75-174 74-16 75-289 75-259"/><path d="M335 1383l75-1 75-4 74-12 75-7 75-6 75-2 74-24 75-10 75 13 75-32 75-28 74-35 75 6 75-34 75-61 74-26 75-192 75-44 75-75 74-83 75-331 75-301"/><path d="M335 1382l75-4 75 1 74-13 75-20 75-21 75-3 74-2 75-12 75-23 75-74 75-22 74-46 75 24 75-38 75-121 74-93 75-241 75-195 75-17 74-314 75-560 75-166"/><path d="M335 1382l75-1 75-8 74 0 75-11 75-6 75-19 74-47 75 1 75 13 75-20 75-13 74-2 75-28 75 5 75-99 74-9 75-34 75-23 75-218 74-112 75-105 75 152"/><path d="M335 1383l75-1 75 2 74-7 75 4 75-12 75-8 74 12 75-37 75 7 75-36 75-27 74-154 75-125 75 98 75-137 74 4 75-98 75-328 75-74 74 237 75 124 75-35"/><path d="M335 1384l75-1 75-1 74-2 75-1 75-4 75 2 74 3 75-21 75-31 75-8 75-7 74-20 75-81 75 25 75-100 74-43 75-190 75 60 75 91 74-154 75-174 75-26"/><path d="M335 1384l75 1 75 1 74 0 75-1 75-2 75 1 74-2 75-9 75-8 75-3 75-15 74-3 75-23 75-5 75-32 74-33 75-33 75-64 75-104 74-37 75-151 75-82"/><path d="M335 1382l75-4 75-7 74-17 75-5 75-3 75 2 74-9 75-38 75-42 75 21 75-68 74 12 75-78 75-18 75-187 74-97 75-218 75-55 75-271 74-140 75-450 75-368"/><path d="M335 1382l75-2 75-3 74-4 75-8 75-11 75-6 74-40 75-53 75 36 75-12 75 20 74-51 75 7 75-56 75-132 74-145 75-202 75-142 75-185 74-6 75-14 75 153"/><path d="M335 1383l75 1 75-3 74-6 75 5 75 1 75-7 74-9 75-10 75-41 75 4 75-28 74-30 75-12 75-54 75-99 74-83 75-64 75-44 75-210 74-38 75-1 75-130"/><path d="M335 1384l75 0 75-2 74 3 75-2 75 1 75-3 74-25 75 4 75-3 75-5 75-40 74-53 75 11 75-42 75-57 74-38 75-49 75-72 75-35 74-148 75-134 75 8"/><path d="M335 1383l75-2 75 1 74-3 75-3 75-3 75-5 74 3 75-11 75-22 75-12 75-36 74-7 75-81 75-68 75-109 74-68 75-210 75-168 75-1 74-96 75-151 75-442"/><path d="M335 1384l75 0 75 0 74-3 75-2 75 4 75-3 74-2 75-14 75-46 75 24 75-13 74-25 75-49 75 40 75-60 74-57 75-88 75-332 75 183 74-75 75-226 75-120"/><path d="M335 1383l75-1 75-1 74-6 75-5 75-9 75-10 74-3 75 3 75 6 75-16 75-69 74-14 75-75 75-60 75-27 74 11 75-262 75-170 75-279 74-162 75-209 75-41"/><path d="M335 1382l75 0 75-2 74-10 75-12 75-7 75-32 74 1 75 29 75-3 75 4 75-18 74-6 75-60 75-56 75-69 74-99 75 6 75-168 75-252 74-370 75-237 75-16"/><path d="M335 1381l75-2 75-1 74-3 75-15 75-12 75-10 74-8 75 9 75-21 75-50 75-36 74-37 75 21 75 39 75-86 74-160 75-126 75-255 75-72 74-229 75-153 75-103"/><path d="M335 1381l75-5 75-2 74-11 75-9 75 2 75 10 74-34 75-3 75-60 75 44 75-34 74-20 75-46 75-56 75 60 74-75 75-134 75 0 75-298 74-200 75-367 75 1"/><path d="M335 1382l75-4 75 0 74-3 75-4 75-14 75 3 74-2 75-16 75-23 75-29 75-44 74-48 75-51 75-31 75-28 74-152 75-191 75-257 75-83 74 42 75-36 75 77"/><path d="M335 1380l75-4 75-1 74-15 75 4 75-1 75-49 74-15 75-60 75-30 75-40 75-48 74-117 75 78 75 57 75-66 74-34 75-310 75-11 75-12 74-88 75-104 75 177"/><path d="M335 1385l75 1 75 0 74-1 75 0 75-13 75-19 74-18 75 1 75-17 75-31 75-39 74-44 75-47 75-36 75-138 74-114 75-83 75-170 75-337 74-237 75 80 75-172"/><path d="M335 1381l75-4 75-2 74-13 75 9 75-34 75-12 74-5 75-18 75-69 75 34 75-55 74-14 75-85 75-13 75-27 74 51 75-239 75-42 75-221 74-168 75-183 75-405"/><path d="M335 1384l75-2 75 0 74-4 75 1 75-16 75-9 74-1 75 11 75 4 75-33 75 12 74-17 75-46 75-8 75-62 74-137 75-1 75-116 75-230 74-39 75-7 75-201"/><path d="M335 1383l75-2 75-9 74-11 75-4 75-24 75-17 74-17 75-49 75-31 75-3 75-121 74-90 75-63 75-25 75-85 74-82 75-214 75-204 75-364 74-67 75-153 75-375"/><path d="M335 1384l75 0 75 2 74-2 75-2 75-5 75-14 74-22 75-3 75-17 75-17 75 12 74-14 75-61 75 7 75-72 74-119 75-197 75-173 75 11 74-212 75 12 75-42"/><path d="M335 1385l75 1 75 0 74 0 75-2 75 0 75 1 74 0 75-2 75-17 75-34 75-40 74-55 75-13 75 25 75 34 74-47 75-97 75-23 75-64 74-80 75 40 75-48"/><path d="M335 1384l75 0 75-1 74 1 75-3 75 2 75-1 74-10 75-16 75-12 75 0 75-25 74-12 75-44 75 0 75-28 74-17 75-80 75-70 75-49 74-241 75-328 75-137"/><path d="M335 1381l75-2 75-6 74-5 75-4 75-35 75-7 74-15 75-64 75-16 75-51 75-27 74-12 75-49 75-130 75-162 74-82 75-54 75-158 75-389 74-254 75-143 75 424"/><path d="M335 1384l75-3 75 1 74-1 75 2 75-7 75-1 74-19 75 5 75-6 75-32 75-29 74-22 75-8 75-60 75-49 74-110 75-2 75-28 75-6 74-28 75-216 75-301"/><path d="M335 1385l75 0 75 1 74-1 75-1 75 0 75-1 74-2 75-16 75 4 75-1 75-15 74-17 75-44 75-20 75-128 74 9 75-116 75-5 75 55 74-114 75 47 75-92"/><path d="M335 1382l75-1 75 0 74-4 75 5 75-5 75-7 74-1 75-1 75-8 75-10 75-15 74-15 75-25 75-52 75 24 74-59 75-109 75-39 75-156 74 20 75 28 75-315"/><path d="M335 1380l75-8 75-7 74-14 75-20 75-41 75-40 74-54 75-50 75-30 75-33 75 4 74 12 75-152 75-31 75-112 74 19 75-165 75-191 75-358 74-324 75 281 75-264"/><path d="M335 1384l75-3 75-1 74-4 75-8 75 2 75-3 74-12 75-18 75-11 75-14 75-53 74-68 75 21 75-83 75-72 74 4 75-136 75-187 75-20 74-362 75-314 75 7"/><path d="M335 1384l75 0 75 2 74-2 75 0 75 0 75 0 74-2 75-2 75-5 75-7 75-14 74-20 75-6 75-19 75-89 74 7 75-107 75-166 75-82 74-193 75-58 75 196"/><path d="M335 1385l75 0 75 0 74 0 75-2 75-7 75 0 74-10 75-1 75-4 75-30 75-45 74-66 75-6 75-59 75-110 74 71 75-93 75-158 75-16 74-160 75-44 75 58"/><path d="M335 1379l75-3 75-5 74-12 75-21 75-10 75-18 74-35 75-42 75-2 75 51 75-136 74-57 75-11 75-7 75-57 74-57 75-166 75-36 75-178 74-344 75 114 75-45"/></g><g stroke-dashoffset="41.9"><path d="M335 1383l75-2 75 1 74-8 75 1 75-6 75-3 74-2 75-21 75 0 75 5 75-60 74-61 75-75 75-47 75-180 74 46 75-108 75 75 75-261 74-300 75-88 75-347"/><path d="M335 1384l75 1 75-1 74 0 75-2 75-2 75 2 74-5 75-4 75-10 75-13 75-6 74-74 75-11 75-48 75-18 74-46 75-14 75-200 75 78 74-206 75 52 75-146"/><path d="M335 1384l75-4 75 3 74-3 75-3 75-2 75-2 74-5 75-12 75 2 75-18 75-8 74-20 75-39 75-31 75-46 74-58 75-17 75-92 75-86 74-64 75-7 75 15"/><path d="M335 1384l75 2 75 0 74-3 75 1 75-3 75-5 74-16 75-5 75-12 75-38 75-24 74-71 75 15 75 1 75-36 74-24 75-107 75-81 75 87 74-4 75-26 75-126"/><path d="M335 1384l75 1 75-2 74 1 75-5 75-4 75-4 74 2 75-6 75-1 75-27 75-14 74-13 75-34 75-58 75-21 74-103 75-26 75-47 75 41 74-223 75 134 75-211"/><path d="M335 1384l75-3 75-1 74-11 75-14 75 8 75-14 74 4 75-22 75-16 75-39 75-43 74 13 75-91 75-95 75-10 74-73 75-121 75-262 75 101 74 122 75 74 75-18"/><path d="M335 1383l75-2 75-2 74-7 75-5 75-2 75 4 74 3 75-15 75-27 75-58 75-30 74-119 75 26 75 3 75-81 74-51 75-176 75-308 75-111 74 3 75 249 75-111"/><path d="M335 1384l75 0 75 0 74-1 75-2 75-14 75-4 74-26 75 5 75 7 75-31 75-44 74-28 75-42 75-28 75-86 74-89 75-119 75-103 75-74 74-103 75-112 75-153"/><path d="M335 1385l75 0 75 1 74 0 75-1 75 0 75-7 74-1 75-7 75-30 75-48 75-30 74-3 75-103 75-1 75-117 74-70 75-123 75-253 75 12 74 82 75 65 75-128"/><path d="M335 1384l75 1 75-1 74 0 75 0 75-2 75-3 74-18 75-6 75-58 75 19 75 14 74-19 75-67 75-56 75-104 74-33 75-24 75-218 75-67 74-117 75-170 75 149"/><path d="M335 1383l75-3 75-6 74-2 75 2 75-4 75-15 74-42 75-50 75-55 75 63 75-84 74-84 75-9 75 21 75-13 74-20 75-136 75-38 75-133 74-264 75 146 75-84"/><path d="M335 1383l75-3 75 0 74-4 75-15 75-25 75-34 74-37 75-35 75 15 75 47 75-22 74-20 75-100 75-35 75-34 74-135 75-54 75 35 75-214 74-234 75-94 75-88"/><path d="M335 1383l75 1 75 0 74 1 75-7 75-4 75-14 74 10 75-13 75-10 75-31 75-34 74-52 75-47 75 45 75-56 74-33 75-125 75-59 75-157 74-106 75 38 75-133"/><path d="M335 1384l75 1 75 0 74-1 75 0 75-4 75-5 74 1 75-18 75-7 75 1 75-12 74-36 75 4 75-68 75-97 74-5 75-69 75-70 75-84 74-44 75-15 75-167"/><path d="M335 1382l75-4 75-2 74-7 75 2 75 6 75-1 74-21 75 17 75-23 75-18 75 3 74-43 75-18 75-17 75-34 74-85 75-20 75-28 75-68 74-51 75-37 75-80"/><path d="M335 1382l75-1 75-1 74-3 75-6 75-3 75-19 74 13 75-14 75 2 75-40 75-71 74-47 75-56 75-82 75-71 74-63 75-132 75-182 75-252 74-210 75-337 75 128"/><path d="M335 1382l75-6 75-5 74-5 75-5 75-22 75-8 74-50 75-43 75-30 75 14 75-46 74-71 75-2 75 5 75-36 74-185 75-160 75-130 75-181 74-216 75-118 75-263"/><path d="M335 1383l75-2 75-4 74-12 75-11 75 11 75-5 74-8 75-3 75-50 75-23 75 0 74-143 75-1 75-9 75-37 74-40 75-183 75-79 75-84 74-98 75-203 75-191"/><path d="M335 1384l75 1 75 0 74 0 75-1 75 1 75-1 74-3 75-7 75-17 75-10 75-31 74 5 75-19 75 0 75-90 74-5 75-148 75-151 75-126 74-67 75-400 75 23"/><path d="M335 1382l75-2 75-2 74-6 75-18 75-25 75-21 74-9 75 23 75-39 75 29 75-12 74-59 75-34 75-51 75-126 74-133 75-72 75 95 75-61 74-159 75 61 75-424"/><path d="M335 1384l75 0 75-1 74-10 75-8 75 2 75-19 74-12 75-9 75 16 75-17 75-3 74-10 75-11 75-83 75-123 74-91 75 26 75-133 75 105 74-23 75-202 75-76"/><path d="M335 1385l75-1 75-1 74-1 75-10 75 8 75-8 74-2 75-11 75-3 75-14 75-8 74-10 75-79 75-143 75-68 74-28 75-154 75-242 75-165 74-287 75-67 75 111"/><path d="M335 1384l75 0 75 1 74-2 75-1 75-3 75-2 74 3 75 0 75-13 75-8 75-10 74-4 75-13 75-23 75-14 74-32 75-63 75-29 75-38 74-75 75 3 75-35"/><path d="M335 1383l75-2 75-3 74-1 75-4 75-2 75 4 74 4 75 2 75-13 75-32 75-52 74 19 75-21 75-43 75-92 74-69 75-30 75-75 75 47 74-183 75 38 75-14"/><path d="M335 1382l75-2 75-4 74 1 75-1 75-20 75 6 74-7 75-5 75-24 75 10 75-52 74-3 75 14 75-32 75-105 74 2 75-29 75-61 75-140 74-141 75-59 75-100"/><path d="M335 1385l75 1 75 0 74 0 75-2 75 1 75-4 74-13 75 6 75-12 75-10 75-25 74-19 75-34 75 0 75-83 74-43 75-12 75-44 75-107 74-75 75 91 75-94"/><path d="M335 1385l75 0 75 1 74-1 75-2 75-7 75-6 74-8 75-1 75-23 75-2 75 2 74-28 75-3 75 18 75-28 74-44 75-44 75-35 75-126 74-197 75-99 75-66"/><path d="M335 1383l75-1 75-1 74 2 75-1 75 1 75 1 74-11 75 2 75-8 75-10 75-11 74-24 75-28 75-8 75-28 74-21 75-44 75-156 75-42 74-104 75-175 75-349"/><path d="M335 1384l75-3 75-6 74 3 75-1 75-1 75-9 74-3 75-22 75 11 75-66 75-48 74 6 75-147 75-19 75-41 74-41 75-91 75-373 75 75 74-48 75-146 75 76"/><path d="M335 1383l75-4 75 3 74-11 75-17 75-32 75-26 74-20 75-43 75 13 75-52 75 14 74-30 75-77 75-24 75-162 74 17 75-203 75-203 75-369 74 159 75-441 75-345"/><path d="M335 1384l75 1 75-1 74 0 75-1 75-11 75 3 74-15 75-8 75-7 75-22 75-14 74 3 75-14 75-16 75-92 74 27 75-81 75-56 75-118 74 41 75-98 75-64"/><path d="M335 1380l75-5 75-3 74-8 75 1 75-3 75-27 74-13 75 21 75-70 75-18 75-32 74-46 75-40 75-4 75-93 74 9 75-248 75-35 75-391 74-172 75-303 75-237"/><path d="M335 1383l75-3 75 3 74-8 75 1 75-8 75-1 74-9 75-15 75-23 75-57 75-42 74 59 75-15 75-47 75-87 74 0 75-121 75-121 75-139 74-314 75 115 75-343"/><path d="M335 1384l75-1 75-3 74-3 75 2 75-7 75-2 74-25 75-48 75-6 75-41 75-100 74-33 75-21 75-91 75-55 74-85 75-103 75-23 75-71 74-134 75-200 75-215"/><path d="M335 1384l75 0 75-1 74 1 75-2 75-4 75-2 74-8 75-15 75-5 75-8 75-2 74-40 75-10 75-8 75 12 74-45 75-57 75-40 75-91 74-40 75-2 75-55"/><path d="M335 1384l75-1 75-3 74-3 75 3 75-19 75 7 74-1 75-12 75-9 75-13 75-42 74-40 75-140 75-105 75 36 74-49 75-120 75-126 75 132 74-198 75-135 75 110"/><path d="M335 1383l75-2 75 0 74 2 75-8 75-3 75-3 74 5 75-2 75-4 75-26 75-57 74 7 75-4 75-36 75 29 74-31 75-69 75-43 75-53 74-194 75-266 75 15"/><path d="M335 1383l75-1 75-1 74-2 75 4 75-1 75-6 74 0 75-38 75-1 75-6 75-50 74-90 75 46 75-110 75 18 74-50 75-77 75-3 75-163 74-200 75 39 75 9"/><path d="M335 1382l75-5 75-1 74-16 75 1 75-19 75 7 74-15 75-24 75-35 75-47 75 31 74-117 75 65 75 0 75-32 74-73 75 53 75-84 75-32 74-132 75-193 75 32"/><path d="M335 1383l75 0 75 1 74-7 75-7 75-18 75-28 74-38 75-23 75 1 75-2 75-126 74 26 75 58 75-152 75-103 74 83 75-268 75-17 75-218 74 34 75-123 75-231"/><path d="M335 1380l75-5 75-2 74-8 75 9 75-19 75-33 74-40 75-17 75 5 75 1 75-2 74-30 75-60 75-99 75-82 74 7 75-224 75-238 75-202 74-256 75-120 75 184"/><path d="M335 1385l75 1 75 0 74 0 75 0 75-3 75 1 74-2 75-6 75-5 75-8 75-5 74-11 75-13 75-6 75-33 74-36 75-46 75-33 75-48 74-38 75-24 75-45"/><path d="M335 1384l75 1 75 0 74-1 75-3 75 4 75 0 74 1 75-1 75-11 75-8 75-26 74-22 75-1 75-14 75-35 74-28 75-38 75-55 75-28 74-55 75-7 75-77"/><path d="M335 1384l75 1 75 0 74-2 75-3 75 1 75-4 74-8 75 11 75-11 75-2 75-9 74-16 75-35 75-42 75-37 74-41 75-215 75-90 75 65 74-113 75-219 75 160"/><path d="M335 1384l75-1 75 1 74 0 75-3 75-10 75-1 74 8 75-10 75 1 75-16 75-31 74-120 75 35 75-68 75-11 74-74 75-140 75 25 75-137 74 55 75-246 75-312"/><path d="M335 1383l75 0 75 1 74-5 75-9 75 2 75-3 74-21 75-19 75-13 75-14 75-20 74-73 75 25 75-67 75-125 74 10 75-84 75-105 75 89 74-238 75-587 75 214"/><path d="M335 1379l75-8 75-9 74-19 75-19 75-37 75-34 74-52 75-61 75-34 75-61 75-47 74-49 75-32 75-77 75-97 74-78 75-196 75-292 75 3 74-189 75-121 75 69"/><path d="M335 1381l75-4 75-1 74 1 75-9 75 2 75-7 74 6 75-12 75-13 75-10 75-38 74-60 75-3 75 7 75-47 74-84 75 41 75-78 75-21 74-46 75-116 75-98"/><path d="M335 1383l75 0 75-1 74-2 75-6 75-2 75-2 74-5 75-3 75-14 75 0 75-25 74-81 75-50 75-67 75 8 74-214 75-29 75 1 75-130 74-213 75-121 75-104"/><path d="M335 1383l75 0 75 0 74 0 75-3 75-7 75-7 74-25 75-16 75-22 75-17 75-45 74-43 75 11 75-5 75 18 74 3 75-149 75-41 75-56 74-42 75-282 75 41"/><path d="M335 1382l75-2 75-5 74-8 75-1 75-24 75-18 74-19 75 6 75-35 75-34 75 43 74-31 75-41 75 22 75-27 74-142 75-34 75-43 75 47 74-98 75-28 75-75"/><path d="M335 1379l75-5 75-11 74-11 75-17 75-10 75-66 74-20 75-11 75-55 75 69 75-63 74-44 75-23 75-16 75-97 74-65 75-190 75-73 75-276 74-183 75-430 75-316"/><path d="M335 1385l75 0 75 1 74 0 75 0 75 0 75-4 74-16 75-5 75 1 75-1 75-12 74-11 75-40 75-11 75-57 74-105 75-59 75-68 75 0 74-289 75 15 75-129"/><path d="M335 1382l75-5 75-5 74-5 75-5 75-42 75-37 74-10 75-18 75-14 75-34 75-45 74-65 75 51 75-17 75 9 74-14 75-79 75-150 75-182 74-279 75-32 75-437"/><path d="M335 1383l75-2 75 1 74-6 75-2 75-21 75-7 74-39 75-29 75-23 75 33 75-11 74-46 75 13 75 32 75-8 74-50 75-14 75-108 75-92 74-24 75 15 75-16"/><path d="M335 1382l75-6 75-4 74-10 75 4 75-2 75-4 74 0 75-37 75-30 75-68 75-52 74 24 75-60 75-126 75 51 74 12 75-164 75-49 75-119 74-30 75 101 75-8"/><path d="M335 1384l75-2 75 0 74 1 75 2 75-2 75 1 74 0 75-8 75-20 75-3 75-24 74-31 75-17 75 35 75-32 74-42 75-79 75-78 75-32 74 10 75-123 75 30"/><path d="M335 1383l75 0 75-2 74-8 75 2 75 1 75-62 74-33 75-9 75 24 75-67 75-2 74 4 75-28 75-175 75-7 74-92 75-156 75-97 75-312 74-238 75-451 75 105"/><path d="M335 1383l75-2 75 1 74 1 75-1 75-13 75-3 74-1 75-4 75-34 75-19 75-34 74-77 75 3 75-14 75-134 74-38 75-230 75-187 75-230 74-199 75-386 75 67"/><path d="M335 1384l75-1 75 0 74-2 75-5 75-4 75-11 74-14 75-59 75 16 75 7 75-65 74-39 75 13 75-20 75-48 74-31 75-97 75-11 75-11 74-359 75-187 75-87"/><path d="M335 1384l75 1 75-1 74-1 75 0 75-16 75-13 74-2 75-8 75-20 75 18 75-7 74-31 75-53 75 11 75-80 74-37 75-124 75 45 75 0 74-91 75-287 75 121"/><path d="M335 1384l75 0 75-1 74-2 75-8 75-1 75-1 74-13 75 3 75-6 75-28 75-16 74-1 75-60 75-22 75-24 74-62 75-58 75-2 75-164 74-141 75 133 75-11"/><path d="M335 1383l75-2 75 0 74-1 75 2 75-9 75-8 74-16 75-10 75-42 75-9 75-14 74-9 75-71 75 23 75-92 74-53 75-121 75-89 75-146 74-51 75-181 75-53"/><path d="M335 1383l75 0 75-3 74-5 75-10 75-4 75-52 74-35 75 3 75-14 75-4 75-19 74 9 75-36 75 35 75-41 74-35 75-69 75-176 75-261 74 144 75 1 75-133"/><path d="M335 1383l75-2 75-1 74-9 75-9 75-31 75-24 74-51 75-23 75-24 75-45 75-17 74-162 75-46 75-103 75-24 74 65 75-315 75 33 75-200 74 76 75-119 75-204"/><path d="M335 1383l75-3 75-3 74-6 75-11 75 3 75-1 74-26 75-98 75-29 75 2 75-51 74-49 75 16 75-92 75 11 74 26 75-96 75-284 75-336 74 5 75-323 75-190"/><path d="M335 1383l75-5 75-1 74 1 75-2 75-14 75 0 74 5 75 7 75-41 75-2 75-66 74 5 75-10 75-23 75-47 74-19 75-104 75 27 75-51 74-24 75-22 75-103"/><path d="M335 1383l75-1 75-1 74-2 75-18 75 5 75-9 74-7 75 4 75-20 75-30 75-39 74-6 75-15 75-73 75 37 74-20 75-41 75-47 75-47 74-31 75 8 75-179"/><path d="M335 1380l75-9 75-9 74-19 75-15 75 4 75-11 74-54 75-47 75-16 75-39 75-29 74-42 75-62 75-75 75-30 74-15 75-237 75-190 75-150 74-97 75-192 75 21"/></g><g stroke-dashoffset="50.2"><path d="M335 1384l75-2 75 1 74-5 75-5 75-10 75-16 74-18 75 4 75-14 75-39 75-17 74-77 75-2 75-87 75-37 74-52 75-119 75-440 75 49 74-211 75-291 75 78"/><path d="M335 1384l75 1 75 0 74-2 75-2 75-10 75-21 74-12 75-32 75-22 75-2 75-92 74-81 75-6 75-7 75-162 74-5 75-73 75-333 75-14 74-4 75-40 75-517"/><path d="M335 1383l75-3 75-6 74-8 75-11 75-19 75-26 74-41 75 32 75-15 75-125 75 53 74-21 75-113 75 76 75-55 74-4 75-299 75-29 75-272 74-78 75-209 75 196"/><path d="M335 1383l75-1 75-3 74-7 75-12 75-40 75-29 74-26 75-67 75-20 75-22 75 11 74-93 75 46 75-10 75-93 74-88 75-100 75-86 75-251 74-269 75-189 75-156"/><path d="M335 1383l75 0 75 0 74-8 75 1 75-8 75-6 74-12 75-3 75-16 75-48 75-83 74 80 75-47 75-121 75 47 74-107 75-206 75-53 75-198 74 43 75-6 75-92"/><path d="M335 1384l75-1 75 1 74-6 75 1 75-6 75-2 74-13 75-22 75-13 75-12 75-15 74-14 75-64 75-4 75-22 74 22 75-139 75-107 75-126 74-8 75-172 75-71"/><path d="M335 1385l75-1 75 0 74 0 75-1 75-12 75 12 74 0 75-10 75-13 75-19 75-11 74-38 75-5 75 1 75-26 74-25 75-33 75-62 75-46 74-125 75 11 75-116"/><path d="M335 1383l75-2 75 1 74 0 75 0 75-6 75-2 74-4 75-24 75-56 75-19 75-11 74 9 75-58 75 28 75-66 74-22 75-207 75-17 75-91 74-6 75-303 75 170"/><path d="M335 1383l75-2 75-4 74-3 75-7 75-9 75-3 74-20 75 21 75-68 75-15 75 21 74-2 75-1 75 11 75-71 74-238 75-14 75-150 75-425 74 49 75-216 75-386"/><path d="M335 1384l75 0 75 0 74 1 75 0 75 0 75-1 74 0 75-3 75-4 75-8 75-11 74-8 75-12 75-16 75-28 74-32 75-39 75-39 75-43 74-57 75-10 75-23"/><path d="M335 1381l75-9 75-1 74-24 75 1 75-19 75-9 74-11 75-63 75-110 75-46 75 9 74-86 75 39 75-10 75-186 74 35 75-228 75-354 75 43 74-388 75-169 75 79"/><path d="M335 1382l75-1 75-6 74-1 75-5 75 3 75-5 74-30 75-25 75-72 75-17 75-1 74-46 75-73 75 85 75-144 74 10 75-69 75-21 75-274 74-225 75-142 75 86"/><path d="M335 1384l75-3 75 0 74 0 75 0 75-5 75-4 74-13 75-39 75 16 75-3 75-9 74-15 75-14 75-101 75-23 74 22 75-128 75-83 75-98 74-13 75 20 75-199"/><path d="M335 1383l75 1 75-2 74-3 75 3 75-5 75-9 74-16 75-15 75-15 75-26 75-86 74-83 75-65 75-52 75-54 74-59 75-23 75 16 75-197 74-132 75-24 75-267"/><path d="M335 1383l75-2 75-1 74-7 75 3 75-20 75-40 74-14 75-4 75-60 75-21 75-43 74-5 75 33 75-29 75 22 74-110 75-115 75-296 75-54 74-98 75-52 75-120"/><path d="M335 1384l75-2 75-1 74-11 75-3 75-30 75 7 74-15 75-74 75-26 75-60 75-117 74-28 75-102 75 107 75-4 74 31 75-200 75-88 75-180 74 70 75-188 75-1"/><path d="M335 1384l75 1 75-1 74-3 75-2 75-7 75-3 74-13 75-37 75 9 75-49 75-28 74-10 75-14 75-115 75-59 74 2 75-26 75-133 75-73 74-11 75-155 75-113"/><path d="M335 1383l75-3 75-3 74-2 75-1 75-13 75 2 74-28 75 3 75-39 75-64 75-38 74-135 75 51 75-56 75-174 74-23 75-165 75-320 75-374 74-253 75-225 75 1"/><path d="M335 1381l75-5 75-4 74-23 75 1 75-8 75-30 74-65 75-75 75-51 75 25 75-8 74-66 75-13 75-8 75-232 74 54 75-105 75-180 75-113 74-156 75-205 75-204"/><path d="M335 1385l75 0 75 0 74-1 75-1 75-2 75-6 74-14 75-15 75-19 75 7 75-31 74 30 75 4 75-19 75-44 74-46 75-31 75-52 75-59 74-202 75 1 75-469"/><path d="M335 1381l75 0 75 0 74-5 75-13 75-22 75 8 74-21 75-16 75-94 75-82 75-42 74-18 75-108 75-50 75 53 74-28 75-68 75-208 75-311 74 111 75-232 75 65"/><path d="M335 1380l75-7 75-3 74-8 75-9 75-14 75-29 74-81 75-70 75-29 75 13 75-92 74-48 75-53 75 26 75-61 74-158 75-248 75-89 75-114 74-106 75-134 75 190"/><path d="M335 1383l75 0 75-1 74-7 75-4 75-33 75-30 74-2 75 4 75-41 75-53 75 23 74-44 75-60 75 40 75-59 74-61 75-81 75-156 75-27 74-216 75-256 75-49"/><path d="M335 1383l75-3 75 1 74-1 75-23 75-2 75-24 74-36 75 16 75-51 75 11 75-27 74-34 75-33 75 10 75 1 74-80 75-168 75-40 75-46 74-49 75 39 75 71"/><path d="M335 1384l75 0 75 0 74-5 75-5 75-29 75 8 74-5 75-12 75-2 75-11 75-36 74-43 75-46 75-25 75-36 74-265 75-167 75-135 75-182 74 15 75 155 75 126"/><path d="M335 1383l75-3 75 0 74-4 75-9 75-5 75-3 74-27 75 12 75 4 75-12 75-55 74-7 75-16 75-30 75-2 74-139 75-158 75 10 75-57 74-22 75-262 75-174"/><path d="M335 1382l75-3 75-2 74-5 75-5 75 0 75-35 74-9 75-45 75 23 75-13 75-26 74-42 75 22 75-11 75-21 74-24 75-103 75-133 75-230 74-82 75-130 75-289"/><path d="M335 1384l75 1 75 1 74-4 75 0 75-16 75-18 74-20 75-1 75 1 75-22 75-30 74-37 75-13 75 7 75-110 74-134 75-67 75-66 75-131 74-99 75-471 75-177"/><path d="M335 1382l75 0 75-3 74 1 75 2 75-6 75 2 74-10 75-4 75-5 75-8 75-7 74-21 75-11 75-26 75-17 74-104 75-38 75-36 75-7 74-2 75-15 75-34"/><path d="M335 1382l75-6 75-2 74-1 75-17 75-9 75-13 74-22 75-18 75 0 75-28 75-23 74-68 75-127 75-68 75-12 74-20 75-169 75-321 75-69 74-258 75 218 75-239"/><path d="M335 1382l75-6 75-5 74-4 75-2 75-1 75-17 74-1 75-59 75 9 75-38 75-132 74-12 75-173 75 44 75 5 74-67 75-221 75-120 75-106 74-139 75-373 75-207"/><path d="M335 1384l75 0 75 0 74 0 75 1 75-1 75-2 74-2 75 1 75-7 75-18 75-23 74-28 75 16 75-3 75-48 74-40 75-37 75-57 75-58 74-27 75-157 75 29"/><path d="M335 1385l75-1 75-5 74-4 75-9 75-4 75-3 74-50 75 14 75 17 75-38 75-21 74 2 75-28 75-26 75-25 74-12 75-117 75-58 75 23 74-77 75-41 75-18"/><path d="M335 1383l75 0 75-3 74 0 75-10 75-5 75-8 74-13 75-23 75-55 75-60 75-34 74-103 75-28 75-64 75-225 74-8 75-212 75-248 75-13 74-300 75 26 75-63"/><path d="M335 1382l75-1 75-2 74-5 75-7 75-12 75-7 74-5 75-23 75-40 75-48 75-80 74-60 75-43 75-41 75-119 74-18 75-150 75-218 75-206 74-335 75-49 75 322"/><path d="M335 1381l75-2 75-1 74-9 75-15 75 4 75 3 74-20 75 11 75-39 75-33 75-9 74-95 75-72 75-118 75 37 74-143 75-64 75-146 75-122 74-129 75-340 75 3"/><path d="M335 1379l75-8 75-7 74-21 75-16 75-38 75 14 74-28 75-17 75 6 75-4 75 4 74-56 75-63 75-41 75-73 74-27 75-335 75-269 75-108 74-101 75-455 75-172"/><path d="M335 1383l75 1 75-1 74-2 75-3 75 1 75-10 74 2 75-15 75-25 75-45 75-61 74-1 75-32 75-38 75-11 74-97 75-85 75-97 75-71 74-76 75-273 75 97"/><path d="M335 1384l75-1 75 2 74-1 75-1 75-11 75 0 74 0 75-3 75-3 75-7 75-6 74-25 75-31 75-22 75 3 74-51 75-117 75-35 75-161 74 8 75-70 75 48"/><path d="M335 1383l75 0 75-1 74-1 75 0 75-20 75-5 74-14 75-18 75 2 75 8 75-3 74-46 75-62 75 54 75-47 74-143 75-210 75 14 75-122 74 189 75-252 75-198"/><path d="M335 1382l75-1 75 0 74-10 75-18 75-10 75-23 74 10 75 8 75-19 75-23 75-96 74-62 75-50 75-94 75-39 74-87 75-10 75 0 75-227 74 38 75-16 75 44"/><path d="M335 1383l75 2 75 1 74-2 75 0 75-2 75-2 74-2 75-8 75-4 75-28 75-23 74-22 75 10 75-4 75-44 74-17 75-75 75-83 75-188 74-318 75-96 75-72"/><path d="M335 1384l75 0 75-2 74 1 75 0 75-3 75-3 74-27 75-33 75-27 75-26 75-55 74-113 75-57 75 12 75-124 74-66 75-10 75 25 75-57 74-157 75-55 75-91"/><path d="M335 1385l75-2 75 1 74-3 75-6 75-7 75-1 74 10 75-4 75-32 75-26 75-20 74-16 75-7 75-52 75-42 74-109 75-76 75-130 75-163 74-334 75-133 75-482"/><path d="M335 1382l75-3 75 1 74-3 75-5 75-10 75-12 74-27 75-86 75-26 75 50 75-14 74-90 75 1 75-37 75 3 74-100 75-177 75-69 75-114 74-53 75-492 75-185"/><path d="M335 1384l75-1 75 1 74 0 75-2 75-1 75-11 74 1 75-2 75-5 75-13 75-17 74-21 75-37 75-6 75-63 74-119 75-10 75-94 75-45 74 46 75-64 75-249"/><path d="M335 1381l75-6 75-7 74-11 75-6 75-3 75-4 74-14 75-15 75-5 75-100 75-60 74-61 75-76 75-117 75 2 74-32 75-148 75-21 75-27 74-110 75-194 75-245"/><path d="M335 1383l75 0 75-2 74-3 75-1 75-6 75-15 74-3 75-4 75-8 75-19 75-51 74-117 75-25 75-82 75-95 74-70 75-229 75-52 75-56 74-71 75-41 75 154"/><path d="M335 1383l75-1 75-2 74-11 75-9 75 14 75-15 74-42 75-29 75-60 75-29 75-67 74-17 75-36 75-43 75-158 74-155 75-184 75-28 75-343 74-549 75 17 75-147"/><path d="M335 1383l75 0 75-1 74-5 75-2 75-5 75-25 74-48 75 15 75 27 75-58 75-35 74-40 75-48 75-20 75-14 74-79 75-223 75-162 75-186 74-88 75-87 75-159"/><path d="M335 1384l75 0 75-1 74-4 75 4 75-14 75 5 74 2 75-12 75-43 75-103 75-73 74-37 75 26 75-19 75-6 74-87 75-115 75-29 75-147 74-47 75-141 75-19"/><path d="M335 1383l75-4 75-1 74-5 75-1 75-11 75-5 74-66 75-29 75 49 75-71 75-93 74 1 75-75 75 89 75-66 74-90 75-21 75-174 75 51 74-67 75-95 75-159"/><path d="M335 1384l75-1 75-1 74 3 75-2 75-1 75-1 74 1 75-10 75-20 75 1 75-15 74-15 75-19 75 2 75-31 74-27 75-43 75-38 75-27 74-84 75 20 75-16"/><path d="M335 1383l75-3 75-2 74-6 75-1 75-4 75-19 74-10 75-8 75-39 75-22 75-27 74-114 75-25 75 59 75-156 74 8 75-104 75-14 75 39 74 11 75-293 75 13"/><path d="M335 1382l75-2 75-6 74-1 75-5 75-32 75-4 74-29 75-26 75-65 75 53 75-115 74-68 75-141 75-97 75 81 74-84 75-242 75-232 75 52 74-88 75-333 75-309"/><path d="M335 1383l75-1 75 0 74-4 75 3 75-9 75-26 74-2 75-37 75-6 75-11 75-29 74-10 75-4 75-27 75-37 74-50 75-191 75-48 75 104 74-165 75 5 75-96"/><path d="M335 1383l75-2 75-4 74-3 75-9 75-24 75 2 74-11 75-70 75-25 75 4 75-46 74 2 75 1 75-86 75-25 74-35 75-164 75 34 75-264 74-323 75-170 75-384"/><path d="M335 1382l75-4 75 0 74-1 75-12 75-12 75-26 74-11 75 5 75-41 75 16 75-68 74 74 75-54 75-90 75-81 74 98 75-156 75-140 75-99 74-214 75-449 75 469"/><path d="M335 1383l75-3 75 1 74-2 75-1 75 2 75-10 74 0 75 2 75-7 75-36 75-45 74-37 75-61 75 9 75-61 74-90 75-297 75 137 75 38 74 13 75-186 75-277"/><path d="M335 1383l75-1 75 0 74-4 75 0 75 3 75-2 74-17 75 3 75-12 75-41 75-38 74-7 75-68 75-124 75-15 74-105 75-369 75-41 75 11 74 193 75-139 75 9"/><path d="M335 1381l75-8 75-4 74-10 75-10 75-24 75-63 74-58 75-70 75-44 75-75 75-29 74-4 75-59 75-7 75-84 74-88 75-342 75-274 75-320 74-228 75-501 75-239"/><path d="M335 1382l75-2 75 2 74-3 75 2 75-10 75-7 74-30 75 18 75-33 75-61 75-30 74-37 75-9 75-31 75-73 74-95 75-183 75 99 75-19 74 0 75-39 75-208"/><path d="M335 1381l75-2 75-2 74-8 75-4 75-8 75-12 74-25 75 5 75 4 75-83 75-7 74-62 75 5 75-9 75-114 74 6 75-110 75-185 75-165 74-193 75 144 75-282"/><path d="M335 1384l75 1 75 1 74-2 75-2 75-8 75-24 74 8 75 1 75-37 75-2 75-37 74-14 75 11 75 9 75-103 74-25 75-181 75-153 75-46 74-106 75-321 75 65"/><path d="M335 1385l75 1 75 0 74 0 75 0 75 0 75 0 74 0 75-1 75-7 75-12 75-18 74-26 75-22 75 4 75-25 74-47 75-11 75-36 75-56 74-40 75-42 75-180"/><path d="M335 1383l75-1 75-2 74-9 75 2 75-9 75-5 74-38 75-56 75-93 75-10 75-48 74-55 75-159 75-74 75-98 74-92 75-166 75-249 75-115 74-258 75-171 75-74"/><path d="M335 1383l75-1 75 0 74 1 75 0 75-3 75-5 74-8 75 0 75-26 75-26 75-62 74-33 75-73 75-43 75-125 74 12 75-268 75 53 75-34 74-324 75 52 75-586"/><path d="M335 1383l75-1 75-1 74-8 75-3 75 6 75-13 74-7 75-14 75 1 75-8 75-34 74-2 75-96 75-68 75-76 74-62 75-212 75-42 75-95 74-71 75 65 75-74"/></g><g stroke-dashoffset="58.6"><path d="M335 1382l75-4 75-4 74-3 75 3 75-1 75 3 74 0 75-28 75-55 75-8 75-73 74-47 75-27 75-38 75-22 74-84 75-70 75-296 75 151 74-380 75 164 75-107"/><path d="M335 1383l75-1 75-3 74-4 75-3 75 0 75 4 74-16 75-26 75-4 75-33 75-20 74-42 75-96 75 21 75-99 74 4 75-63 75-109 75-96 74-49 75-74 75-33"/><path d="M335 1383l75-4 75-1 74-6 75-6 75-11 75-17 74-106 75-42 75 17 75-20 75-92 74-68 75 39 75-84 75-8 74 29 75-142 75-131 75-199 74-7 75 66 75-21"/><path d="M335 1383l75-3 75-1 74-1 75-3 75-10 75-7 74 1 75-10 75-31 75 7 75-9 74-28 75-33 75 18 75-17 74-28 75-38 75-83 75-213 74-38 75-218 75-24"/><path d="M335 1383l75 0 75-6 74-3 75-16 75-17 75-17 74-45 75-18 75 22 75-67 75 29 74-79 75-63 75 7 75-105 74 15 75-92 75-152 75-56 74 88 75-301 75-135"/><path d="M335 1384l75-1 75-2 74 1 75 3 75-2 75-1 74-7 75-8 75-11 75-12 75-47 74-34 75-38 75-5 75-88 74-16 75-94 75-126 75-52 74-113 75-47 75-242"/><path d="M335 1382l75-2 75-1 74-8 75 0 75-9 75-22 74-6 75 19 75 2 75-48 75-50 74 16 75-51 75-16 75 6 74-26 75-60 75-144 75-58 74-199 75-110 75-127"/><path d="M335 1383l75 0 75-4 74-14 75 0 75-7 75-8 74-14 75-45 75 28 75-46 75 4 74-38 75-83 75-45 75 36 74-34 75-178 75-76 75-112 74 70 75-269 75-114"/><path d="M335 1383l75-2 75-3 74-2 75 2 75-7 75 3 74-9 75-14 75-23 75 5 75-13 74-40 75 11 75-73 75-48 74-44 75-211 75-124 75-130 74-60 75-92 75 161"/><path d="M335 1383l75-1 75 2 74-4 75-1 75-22 75-10 74-25 75-74 75-16 75 10 75-78 74 21 75-104 75 74 75-16 74-122 75-34 75-24 75-5 74-150 75-60 75-189"/><path d="M335 1384l75 0 75-2 74-3 75-3 75-9 75-51 74-22 75-27 75 0 75-37 75-56 74 77 75-149 75-4 75 52 74 24 75 13 75-262 75-58 74-56 75-106 75 69"/><path d="M335 1385l75 1 75 0 74 0 75-1 75-4 75 2 74-4 75 0 75-3 75-7 75-10 74-23 75-7 75-2 75-37 74-37 75-32 75-56 75-92 74-40 75-102 75 52"/><path d="M335 1383l75 0 75 1 74-5 75-6 75-12 75-5 74-28 75 11 75-1 75-53 75 14 74-10 75-8 75 13 75-76 74 1 75-26 75-72 75-102 74-152 75-155 75-127"/><path d="M335 1380l75-6 75-4 74-14 75-14 75-8 75-24 74-64 75 11 75-25 75-64 75-39 74 87 75-112 75 56 75-81 74-80 75-130 75-87 75-56 74-268 75-346 75-286"/><path d="M335 1384l75 0 75-1 74-4 75-3 75-9 75-20 74-14 75 11 75-19 75-30 75-56 74-83 75 21 75-51 75 24 74-24 75-157 75-107 75-63 74 26 75-275 75-95"/><path d="M335 1384l75 0 75 0 74 0 75-1 75-3 75-55 74-41 75-2 75-3 75-15 75-18 74-30 75-39 75-11 75-47 74-50 75-72 75-189 75-155 74-324 75-37 75 70"/><path d="M335 1383l75-1 75-2 74-5 75-4 75-15 75-2 74-34 75 0 75-14 75 21 75-32 74 3 75-19 75-43 75-86 74-104 75-74 75-151 75 108 74-110 75-122 75-137"/><path d="M335 1384l75 0 75-2 74 0 75 0 75 0 75-6 74-22 75-4 75-10 75 2 75-52 74-35 75 24 75-9 75 2 74-35 75-42 75-103 75-39 74-8 75-222 75-100"/><path d="M335 1385l75-1 75 0 74-3 75-5 75-12 75-9 74-52 75-17 75-60 75-14 75-78 74-4 75 24 75-72 75-20 74-143 75-173 75-165 75 63 74 35 75-195 75-188"/><path d="M335 1383l75-1 75-1 74-8 75-7 75-10 75-7 74-10 75-2 75-40 75-19 75 15 74-48 75 17 75-34 75-17 74-170 75-161 75-82 75-219 74-83 75-125 75-355"/><path d="M335 1384l75-2 75-5 74-4 75-6 75-5 75-13 74 0 75-18 75-17 75-6 75-21 74-1 75-69 75 25 75-103 74-110 75-162 75-170 75-89 74 188 75-35 75-132"/><path d="M335 1383l75-4 75-2 74-4 75 7 75-5 75-9 74-7 75-2 75 10 75-12 75-8 74-34 75 2 75 0 75-33 74-23 75-53 75-46 75-49 74-98 75-8 75-11"/><path d="M335 1383l75-3 75-2 74-13 75-11 75-9 75-28 74 18 75 5 75-32 75-49 75-6 74-1 75 25 75-56 75 2 74-120 75-46 75-233 75 20 74-98 75-309 75 90"/><path d="M335 1383l75 0 75 0 74 0 75 1 75-4 75-1 74-3 75-25 75-1 75-10 75-42 74 3 75-30 75-22 75-19 74-30 75-83 75-29 75-101 74-289 75-158 75-186"/><path d="M335 1382l75-1 75-4 74-16 75-15 75 18 75-16 74-51 75-34 75 29 75-62 75-62 74 65 75-78 75-99 75 6 74-122 75-90 75-192 75-167 74-277 75-134 75-267"/><path d="M335 1385l75 1 75 0 74-3 75 1 75 0 75-4 74-5 75-1 75 0 75-50 75-68 74-36 75-18 75-44 75-47 74-99 75-344 75-69 75-122 74-53 75-161 75 25"/><path d="M335 1382l75-3 75-6 74-1 75 0 75-1 75-11 74 7 75-28 75-1 75-56 75 10 74-98 75 48 75-18 75-56 74-19 75-67 75-125 75 17 74-214 75 77 75-188"/><path d="M335 1384l75-1 75-1 74 2 75-2 75 0 75-9 74-17 75-6 75 3 75-14 75-49 74-46 75-48 75 33 75-50 74-25 75-27 75-78 75-66 74-107 75-385 75 152"/><path d="M335 1383l75 0 75-1 74 0 75-2 75-9 75-3 74-11 75-5 75-19 75-29 75-100 74-89 75 95 75-36 75-90 74-55 75-83 75-35 75-13 74 2 75-161 75-72"/><path d="M335 1384l75 0 75-2 74-5 75-7 75 1 75-15 74-10 75-32 75-19 75-10 75-29 74 5 75-49 75-57 75 49 74-100 75-107 75 78 75-119 74-96 75-257 75-445"/><path d="M335 1384l75-2 75-4 74-9 75-1 75 5 75-4 74-17 75 5 75 10 75-9 75-14 74-6 75-34 75-6 75-55 74-16 75-67 75-180 75-81 74 24 75-51 75-82"/><path d="M335 1384l75 0 75-2 74-7 75-4 75-11 75 5 74 4 75-16 75-4 75-22 75-23 74-42 75-76 75-1 75-56 74-76 75-46 75-243 75 139 74-1 75-41 75-222"/><path d="M335 1380l75-4 75-5 74-6 75-17 75-17 75-25 74-42 75-12 75-47 75-9 75 2 74-7 75-1 75-10 75-132 74-56 75-133 75-307 75 242 74-66 75-330 75-88"/><path d="M335 1384l75-1 75 2 74-4 75-3 75-9 75-26 74-19 75-15 75-33 75 10 75-130 74-6 75-114 75 7 75-12 74 31 75-53 75-19 75-91 74-74 75-244 75-231"/><path d="M335 1383l75-3 75 0 74-7 75-8 75 9 75 3 74 1 75-3 75-17 75-1 75-36 74-11 75-59 75-56 75 48 74-99 75-21 75-178 75-27 74-152 75-111 75 152"/><path d="M335 1384l75-1 75-2 74-3 75 2 75-9 75-24 74 8 75-10 75-7 75-4 75 0 74-16 75-35 75-5 75 11 74-73 75-25 75-56 75-42 74-34 75 3 75-90"/><path d="M335 1383l75-1 75-2 74-6 75-5 75 2 75-12 74 3 75-54 75 8 75 6 75-49 74 36 75 14 75-87 75-42 74-119 75-120 75-51 75-40 74-334 75 23 75-94"/><path d="M335 1379l75-8 75-9 74-17 75-12 75-11 75-20 74-44 75-30 75-4 75-30 75-78 74-84 75 8 75-191 75-88 74-32 75-183 75 55 75-101 74-269 75-78 75-281"/><path d="M335 1384l75 1 75 1 74-1 75-1 75 2 75-2 74-2 75-9 75-12 75 0 75-11 74-20 75-11 75-10 75-42 74-30 75-43 75-63 75-43 74-103 75-60 75 13"/><path d="M335 1384l75-3 75-1 74-11 75-10 75-7 75-5 74-19 75-19 75 26 75-49 75-7 74-18 75-101 75-22 75 67 74-106 75-239 75-496 75-57 74-165 75-157 75-108"/><path d="M335 1383l75-2 75-2 74-1 75-4 75 2 75-8 74-36 75-58 75 28 75-25 75-48 74-49 75-2 75-74 75 5 74 11 75-50 75-154 75 11 74-35 75-106 75 66"/><path d="M335 1383l75-1 75-5 74-1 75-1 75-9 75-23 74-12 75-19 75-31 75-42 75 44 74-88 75-41 75-91 75-39 74-23 75-116 75-52 75-17 74-8 75-179 75-284"/><path d="M335 1382l75-3 75-1 74-8 75 5 75-11 75-6 74-1 75-21 75-9 75-16 75-67 74-64 75-78 75-52 75-110 74 52 75-282 75 59 75 45 74 6 75 20 75 111"/><path d="M335 1380l75-6 75-9 74-21 75-12 75-34 75-33 74-21 75-52 75 6 75 49 75-17 74-91 75-108 75-135 75 74 74-43 75-213 75-192 75-51 74-137 75 281 75-182"/><path d="M335 1384l75 1 75 0 74 1 75-2 75-1 75 2 74-1 75 0 75-8 75-8 75-9 74-22 75-9 75-10 75-77 74 16 75-42 75-75 75-29 74-40 75-19 75-24"/><path d="M335 1383l75 0 75-4 74 0 75-10 75-1 75-12 74-1 75-2 75-8 75 12 75-13 74-30 75-75 75-33 75 23 74-76 75-80 75-21 75-156 74 40 75-49 75-235"/><path d="M335 1383l75-1 75 0 74-6 75-1 75 1 75-13 74 5 75-3 75-1 75-37 75-12 74-52 75 8 75-106 75 58 74-26 75-37 75-17 75-152 74-75 75 20 75-222"/><path d="M335 1382l75-3 75 0 74-3 75 0 75 1 75-9 74-20 75-21 75-17 75-48 75-111 74 5 75-50 75 10 75-67 74 37 75-110 75-219 75-187 74-164 75-310 75-294"/><path d="M335 1383l75-3 75-5 74-6 75-7 75-6 75-12 74-18 75-21 75-17 75-11 75-45 74-56 75-38 75 43 75-89 74-64 75-186 75-263 75 160 74-161 75-146 75-91"/><path d="M335 1383l75-1 75 0 74-3 75 2 75-11 75-12 74-23 75-28 75-37 75-86 75-70 74-16 75 46 75-90 75 5 74-29 75-233 75-84 75-25 74-107 75-226 75-51"/><path d="M335 1383l75-1 75-5 74-3 75-20 75-1 75 5 74-27 75 5 75 10 75-4 75-55 74-68 75-21 75 23 75-62 74-51 75-126 75-1 75-283 74 82 75-35 75-196"/><path d="M335 1384l75 0 75-3 74-4 75-1 75-2 75-9 74 0 75-14 75-26 75-16 75 16 74-56 75 31 75-76 75-40 74-89 75-112 75-104 75-260 74 47 75 140 75 12"/><path d="M335 1383l75-1 75-1 74 0 75-11 75-41 75-13 74-30 75-72 75 54 75-32 75-14 74-31 75-57 75-55 75 16 74-38 75-134 75 89 75-233 74-174 75 66 75-198"/><path d="M335 1384l75-1 75 0 74-1 75-5 75-19 75-13 74-13 75-83 75-97 75 46 75-35 74 19 75 19 75-69 75 54 74-125 75-146 75 59 75-150 74 65 75 59 75-57"/><path d="M335 1383l75-3 75-1 74 4 75-2 75-6 75-15 74 6 75-28 75-31 75-75 75 34 74-40 75-70 75-82 75-62 74-144 75-211 75-152 75-132 74-153 75-214 75-361"/><path d="M335 1384l75 1 75-1 74-1 75-1 75-7 75-7 74-40 75 5 75-20 75-73 75-75 74-208 75-3 75 22 75-64 74-70 75-60 75-73 75-133 74-308 75-326 75-265"/><path d="M335 1384l75-1 75-3 74-7 75 2 75-4 75-10 74 1 75-15 75-12 75-13 75-11 74-97 75-149 75-20 75 1 74-154 75-254 75-125 75-99 74 66 75-6 75 178"/><path d="M335 1383l75 0 75 3 74-1 75-4 75-8 75 2 74-1 75-6 75-4 75-37 75-53 74 16 75-10 75-45 75-37 74-19 75-60 75-137 75-260 74-60 75-165 75 161"/><path d="M335 1382l75-1 75-2 74-12 75 3 75 1 75-8 74-17 75-32 75-10 75-21 75-42 74 26 75-31 75-15 75-54 74-81 75-86 75-197 75 8 74-253 75 51 75 107"/><path d="M335 1383l75-4 75-8 74-25 75 9 75-22 75-28 74-32 75-11 75 15 75-53 75-9 74 57 75-55 75-98 75-107 74 29 75-161 75-69 75-204 74-119 75-36 75 133"/><path d="M335 1385l75 1 75 0 74 0 75 0 75-1 75-1 74-8 75-2 75-8 75-19 75-2 74-7 75-9 75-8 75-47 74-60 75-27 75-36 75-156 74-201 75-6 75 45"/><path d="M335 1384l75-1 75 0 74-7 75 2 75-1 75-11 74-12 75 8 75-57 75-32 75-6 74-61 75-5 75-58 75-45 74-92 75-134 75-135 75 40 74-54 75 29 75-118"/><path d="M335 1382l75-2 75 0 74 1 75-7 75-6 75-4 74-19 75 0 75 14 75-36 75-25 74-59 75-2 75-14 75-48 74-23 75-117 75-302 75-163 74-194 75 51 75 72"/><path d="M335 1384l75 0 75 2 74-2 75-1 75 0 75-2 74-9 75-3 75-7 75-26 75-5 74-81 75-24 75-80 75 12 74-2 75-28 75-149 75-175 74 148 75-3 75-144"/><path d="M335 1384l75-1 75-3 74-2 75 1 75-8 75-11 74-26 75-1 75 1 75-49 75-74 74-68 75-89 75-66 75 73 74-144 75-105 75-101 75-182 74-224 75-217 75-375"/><path d="M335 1381l75-3 75-5 74-4 75-13 75 7 75-8 74-8 75-18 75-11 75-35 75-9 74-64 75-18 75 36 75-35 74-23 75-148 75-56 75-57 74-56 75 36 75-34"/><path d="M335 1383l75 0 75-1 74 0 75 1 75 0 75-5 74-17 75 14 75-4 75-45 75-27 74-4 75-32 75-89 75-89 74-52 75-130 75-145 75-110 74-126 75-156 75-90"/><path d="M335 1383l75-1 75-1 74-2 75-1 75-24 75-13 74-10 75-1 75-24 75-30 75-15 74-80 75-59 75-113 75-61 74-73 75-181 75-33 75-218 74-185 75-433 75-43"/></g></g><g stroke-dasharray="41,17,10,17" stroke-opacity="0.32"><g stroke-dashoffset="0.0"><path d="M335 632l75-197 75 8 74 14 75 26 75 61 75 60 74 60 75 59 75 49 75 39 75 23 74 17 75 17 75 11 75 20 74 20 75 23 75 26 75 16 74 22 75 8 75 4"/><path d="M335 396l75 30 75 3 74 15 75 69 75 36 75 37 74 76 75 62 75 49 75 42 75 22 74 18 75 12 75 13 75 18 74 23 75 19 75 28 75 17 74 21 75 13 75 9"/><path d="M335 431l75 44 75 21 74-15 75 38 75 32 75 54 74 76 75 50 75 51 75 35 75 20 74 21 75 15 75 15 75 16 74 21 75 26 75 18 75 19 74 18 75 12 75 17"/><path d="M335 521l75-72 75 18 74-22 75 52 75 24 75 85 74 57 75 66 75 50 75 33 75 20 74 15 75 17 75 18 75 18 74 21 75 19 75 15 75 23 74 21 75 8 75 16"/><path d="M335 422l75-17 75-16 74 44 75 27 75 56 75 69 74 76 75 54 75 56 75 40 75 28 74 11 75 12 75 20 75 13 74 19 75 19 75 27 75 20 74 21 75 15 75 5"/><path d="M335 440l75 12 75-31 74 26 75 38 75 64 75 61 74 58 75 59 75 46 75 42 75 23 74 11 75 14 75 20 75 22 74 13 75 20 75 29 75 20 74 16 75 17 75 6"/><path d="M335 384l75 67 75-3 74 16 75 44 75 43 75 71 74 43 75 66 75 60 75 28 75 17 74 21 75 13 75 14 75 19 74 22 75 28 75 19 75 19 74 14 75 14 75 9"/><path d="M335 392l75 47 75 1 74 32 75 31 75 45 75 76 74 60 75 49 75 55 75 28 75 19 74 19 75 13 75 17 75 12 74 23 75 28 75 26 75 18 74 20 75 17 75 9"/><path d="M335 456l75-23 75-2 74 33 75 35 75 74 75 54 74 60 75 55 75 37 75 43 75 26 74 14 75 18 75 17 75 10 74 15 75 25 75 28 75 18 74 15 75 21 75 6"/><path d="M335 493l75-30 75 19 74 23 75 45 75 62 75 41 74 50 75 54 75 45 75 21 75 18 74 19 75 18 75 12 75 19 74 22 75 18 75 29 75 19 74 15 75 18 75 9"/><path d="M335 409l75 44 75 1 74-1 75 51 75 59 75 51 74 54 75 74 75 48 75 40 75 17 74 17 75 10 75 12 75 23 74 20 75 30 75 26 75 14 74 25 75 9 75 7"/><path d="M335 481l75 4 75-31 74 65 75 45 75 60 75 59 74 52 75 39 75 32 75 31 75 16 74 6 75 18 75 12 75 16 74 14 75 23 75 32 75 15 74 21 75 13 75 0"/><path d="M335 486l75-41 75 34 74-6 75 44 75 39 75 66 74 45 75 72 75 40 75 36 75 22 74 13 75 19 75 13 75 18 74 24 75 22 75 20 75 20 74 17 75 14 75 6"/><path d="M335 428l75 53 75-2 74 30 75 7 75 70 75 65 74 55 75 62 75 42 75 29 75 12 74 14 75 18 75 12 75 21 74 20 75 22 75 25 75 25 74 10 75 22 75 8"/><path d="M335 467l75 35 75-53 74 80 75 15 75 28 75 76 74 61 75 57 75 39 75 25 75 22 74 18 75 13 75 19 75 21 74 26 75 17 75 28 75 17 74 13 75 14 75 13"/><path d="M335 427l75 16 75-35 74 28 75 41 75 54 75 51 74 76 75 64 75 42 75 43 75 22 74 12 75 5 75 17 75 23 74 25 75 26 75 19 75 23 74 21 75 12 75 5"/><path d="M335 486l75-15 75 13 74 14 75 49 75 55 75 44 74 46 75 61 75 50 75 23 75 11 74 15 75 13 75 19 75 13 74 21 75 22 75 26 75 14 74 23 75 12 75 14"/><path d="M335 453l75 25 75 14 74-7 75 31 75 38 75 62 74 63 75 63 75 48 75 32 75 25 74 13 75 13 75 12 75 23 74 19 75 27 75 18 75 19 74 13 75 15 75 9"/><path d="M335 426l75 83 75 3 74 10 75 33 75 46 75 40 74 58 75 58 75 39 75 37 75 20 74 16 75 16 75 10 75 28 74 16 75 26 75 15 75 26 74 22 75 4 75 8"/><path d="M335 534l75-31 75 4 74 12 75 37 75 71 75 40 74 47 75 48 75 45 75 27 75 32 74 11 75 12 75 16 75 22 74 15 75 21 75 25 75 18 74 21 75 16 75 7"/><path d="M335 444l75-7 75 15 74-15 75 63 75 55 75 72 74 66 75 46 75 45 75 40 75 23 74 17 75 14 75 13 75 12 74 24 75 22 75 20 75 18 74 27 75 8 75 8"/><path d="M335 367l75 26 75-26 74 33 75 68 75 56 75 59 74 64 75 68 75 47 75 37 75 31 74 19 75 10 75 14 75 20 74 17 75 24 75 21 75 21 74 13 75 13 75 8"/><path d="M335 490l75-10 75 53 74-13 75 51 75 46 75 50 74 43 75 39 75 41 75 34 75 16 74 19 75 9 75 15 75 18 74 34 75 20 75 18 75 26 74 19 75 14 75 8"/><path d="M335 409l75 1 75 53 74-3 75 19 75 54 75 66 74 64 75 60 75 48 75 37 75 24 74 13 75 20 75 18 75 15 74 30 75 26 75 16 75 23 74 10 75 17 75 8"/><path d="M335 486l75-9 75-2 74 25 75 26 75 43 75 37 74 81 75 48 75 51 75 32 75 24 74 15 75 13 75 16 75 25 74 16 75 25 75 26 75 20 74 10 75 12 75 12"/><path d="M335 428l75 2 75-2 74 28 75 22 75 54 75 67 74 65 75 61 75 43 75 35 75 26 74 10 75 20 75 15 75 16 74 16 75 28 75 23 75 23 74 20 75 15 75 5"/><path d="M335 441l75 16 75 32 74 17 75 32 75 53 75 62 74 50 75 49 75 43 75 33 75 20 74 10 75 16 75 15 75 21 74 16 75 23 75 31 75 19 74 15 75 11 75 6"/><path d="M335 412l75 66 75 23 74-34 75 51 75 51 75 50 74 58 75 57 75 52 75 32 75 26 74 17 75 13 75 15 75 20 74 13 75 29 75 22 75 14 74 21 75 20 75 8"/><path d="M335 440l75 17 75-52 74 58 75 32 75 60 75 60 74 60 75 70 75 42 75 43 75 19 74 10 75 12 75 12 75 21 74 19 75 19 75 24 75 16 74 15 75 7 75 11"/><path d="M335 523l75-35 75-17 74 49 75 29 75 65 75 55 74 44 75 57 75 40 75 25 75 15 74 9 75 9 75 7 75 26 74 21 75 23 75 20 75 27 74 9 75 11 75 10"/><path d="M335 470l75-43 75-13 74 42 75 29 75 52 75 68 74 62 75 59 75 56 75 31 75 24 74 11 75 8 75 17 75 12 74 24 75 25 75 16 75 33 74 15 75 16 75 6"/><path d="M335 409l75-2 75 2 74 24 75 53 75 36 75 59 74 72 75 70 75 48 75 41 75 20 74 18 75 13 75 16 75 11 74 29 75 17 75 20 75 19 74 15 75 17 75 12"/><path d="M335 407l75 94 75 3 74 10 75 32 75 53 75 72 74 19 75 32 75 55 75 38 75 26 74 10 75 13 75 14 75 19 74 19 75 26 75 22 75 23 74 22 75 13 75 15"/><path d="M335 412l75 31 75 23 74 24 75 44 75 56 75 46 74 53 75 54 75 47 75 35 75 24 74 13 75 11 75 16 75 18 74 25 75 18 75 23 75 22 74 17 75 18 75 4"/><path d="M335 487l75-46 75-43 74 51 75 50 75 51 75 63 74 55 75 56 75 50 75 39 75 25 74 17 75 12 75 16 75 12 74 23 75 19 75 17 75 20 74 16 75 18 75 6"/><path d="M335 501l75-90 75-6 74 42 75 17 75 87 75 54 74 63 75 60 75 47 75 35 75 23 74 14 75 19 75 8 75 21 74 21 75 25 75 22 75 23 74 14 75 16 75 1"/><path d="M335 441l75 15 75-5 74 24 75 51 75 43 75 54 74 47 75 63 75 37 75 41 75 28 74 13 75 12 75 11 75 22 74 18 75 28 75 18 75 21 74 13 75 18 75 5"/><path d="M335 446l75-1 75-8 74 38 75 29 75 53 75 63 74 50 75 54 75 49 75 39 75 21 74 14 75 18 75 12 75 15 74 22 75 23 75 20 75 19 74 17 75 15 75 12"/><path d="M335 486l75 7 75 22 74-19 75 37 75 51 75 29 74 67 75 57 75 53 75 37 75 26 74 17 75 4 75 18 75 19 74 24 75 21 75 23 75 18 74 20 75 14 75 11"/><path d="M335 463l75 39 75 18 74 7 75 54 75 39 75 54 74 45 75 50 75 26 75 30 75 23 74 14 75 18 75 14 75 22 74 25 75 16 75 25 75 21 74 18 75 23 75 8"/><path d="M335 463l75-49 75-24 74 54 75 31 75 49 75 82 74 56 75 70 75 50 75 28 75 25 74 20 75 12 75 13 75 10 74 23 75 25 75 19 75 25 74 19 75 19 75 14"/><path d="M335 486l75-33 75 46 74-22 75 28 75 72 75 67 74 58 75 44 75 43 75 36 75 21 74 10 75 11 75 20 75 14 74 19 75 22 75 22 75 19 74 17 75 19 75 0"/><path d="M335 491l75-35 75 10 74 8 75 46 75 58 75 51 74 56 75 48 75 54 75 36 75 25 74 17 75 13 75 7 75 25 74 16 75 29 75 17 75 20 74 14 75 10 75 16"/><path d="M335 461l75-68 75 4 74 40 75 32 75 65 75 68 74 61 75 56 75 63 75 35 75 17 74 18 75 11 75 22 75 10 74 25 75 22 75 22 75 21 74 13 75 9 75 10"/><path d="M335 433l75 0 75-52 74 41 75 53 75 62 75 66 74 65 75 60 75 54 75 38 75 22 74 13 75 17 75 16 75 8 74 24 75 24 75 21 75 18 74 12 75 14 75 10"/><path d="M335 431l75-18 75-7 74 23 75 52 75 45 75 69 74 66 75 57 75 56 75 37 75 21 74 16 75 16 75 11 75 11 74 20 75 22 75 17 75 28 74 16 75 1 75 12"/><path d="M335 353l75 73 75-22 74 39 75 29 75 55 75 67 74 66 75 57 75 51 75 39 75 20 74 11 75 13 75 17 75 17 74 26 75 25 75 16 75 19 74 24 75 10 75 8"/><path d="M335 502l75-35 75-19 74 32 75 43 75 35 75 63 74 55 75 57 75 47 75 37 75 21 74 14 75 19 75 11 75 18 74 25 75 17 75 27 75 20 74 20 75 19 75 18"/><path d="M335 446l75-13 75-2 74 16 75 10 75 67 75 61 74 79 75 59 75 46 75 37 75 31 74 11 75 10 75 13 75 16 74 21 75 22 75 21 75 24 74 16 75 14 75 12"/><path d="M335 515l75-11 75 36 74 10 75 51 75 66 75 72 74 42 75 39 75 15 75 3 75 8 74 16 75 8 75 9 75 24 74 25 75 22 75 22 75 15 74 22 75 16 75 9"/><path d="M335 587l75-97 75-5 74 25 75 35 75 42 75 60 74 51 75 53 75 37 75 28 75 24 74 17 75 19 75 12 75 17 74 17 75 24 75 15 75 21 74 15 75 11 75 8"/><path d="M335 366l75 77 75-41 74 34 75 33 75 67 75 57 74 64 75 54 75 53 75 36 75 23 74 19 75 15 75 15 75 12 74 26 75 14 75 18 75 20 74 24 75 7 75 9"/><path d="M335 487l75-12 75-17 74 29 75 26 75 50 75 54 74 63 75 54 75 56 75 31 75 29 74 12 75 12 75 13 75 20 74 20 75 26 75 21 75 24 74 12 75 17 75 9"/><path d="M335 448l75 12 75-2 74 0 75 40 75 46 75 73 74 56 75 61 75 49 75 48 75 17 74 18 75 10 75 14 75 14 74 22 75 24 75 26 75 27 74 15 75 17 75 6"/><path d="M335 478l75 24 75-43 74 14 75 57 75 63 75 85 74 37 75 48 75 49 75 22 75 18 74 12 75 23 75 10 75 18 74 21 75 29 75 23 75 23 74 18 75 16 75 9"/><path d="M335 413l75 50 75 20 74-29 75 39 75 57 75 68 74 67 75 52 75 43 75 41 75 23 74 17 75 11 75 14 75 24 74 24 75 23 75 19 75 13 74 14 75 15 75 9"/><path d="M335 515l75-43 75 29 74 34 75 40 75 53 75 72 74 49 75 38 75 44 75 20 75 18 74 15 75 4 75 16 75 16 74 21 75 23 75 23 75 21 74 21 75 13 75 5"/><path d="M335 448l75 38 75 8 74 28 75 16 75 30 75 75 74 47 75 43 75 53 75 25 75 25 74 11 75 17 75 14 75 19 74 23 75 20 75 25 75 19 74 17 75 8 75 11"/><path d="M335 518l75-61 75 6 74 19 75 20 75 60 75 65 74 52 75 50 75 55 75 44 75 11 74 17 75 12 75 17 75 15 74 20 75 27 75 19 75 21 74 17 75 13 75 5"/><path d="M335 554l75-160 75-3 74 51 75 57 75 57 75 77 74 72 75 65 75 42 75 34 75 19 74-3 75 4 75 2 75 15 74 20 75 19 75 23 75 24 74 14 75 15 75 8"/><path d="M335 507l75-65 75-39 74 57 75 24 75 69 75 57 74 78 75 48 75 54 75 31 75 23 74 18 75 7 75 11 75 17 74 22 75 22 75 28 75 12 74 20 75 16 75 9"/><path d="M335 486l75 36 75-28 74 20 75 24 75 62 75 51 74 56 75 50 75 37 75 34 75 21 74 10 75 16 75 14 75 23 74 23 75 24 75 25 75 18 74 21 75 16 75 6"/><path d="M335 474l75-53 75 25 74 19 75 35 75 51 75 59 74 63 75 47 75 59 75 37 75 22 74 16 75 13 75 19 75 18 74 20 75 24 75 25 75 15 74 21 75 7 75 10"/><path d="M335 433l75 20 75 24 74 4 75 25 75 50 75 60 74 59 75 57 75 45 75 44 75 26 74 9 75 12 75 13 75 17 74 23 75 25 75 23 75 21 74 21 75 18 75 12"/><path d="M335 403l75 3 75-7 74 18 75 53 75 46 75 62 74 69 75 68 75 54 75 42 75 26 74 12 75 14 75 12 75 25 74 20 75 30 75 23 75 15 74 12 75 15 75 5"/><path d="M335 494l75 10 75 16 74 8 75 35 75 37 75 50 74 66 75 45 75 29 75 34 75 23 74 11 75 19 75 14 75 20 74 23 75 8 75 17 75 23 74 16 75 18 75 11"/><path d="M335 521l75-52 75 14 74 12 75 27 75 57 75 66 74 54 75 61 75 35 75 36 75 23 74 10 75 9 75 11 75 17 74 17 75 24 75 20 75 25 74 17 75 12 75 7"/><path d="M335 576l75-72 75 26 74-36 75 36 75 71 75 47 74 58 75 61 75 31 75 37 75 24 74 6 75 15 75 15 75 8 74 28 75 24 75 28 75 20 74 17 75 18 75 9"/><path d="M335 509l75-5 75 0 74 15 75 33 75 48 75 68 74 49 75 43 75 40 75 31 75 24 74 17 75 15 75 18 75 13 74 21 75 21 75 14 75 25 74 18 75 14 75 15"/></g><g stroke-dashoffset="10.6"><path d="M335 397l75 87 75-19 74 10 75 52 75 54 75 57 74 64 75 58 75 37 75 28 75 21 74 15 75 11 75 8 75 15 74 27 75 26 75 23 75 23 74 17 75 17 75 2"/><path d="M335 524l75-38 75-7 74 13 75 31 75 57 75 56 74 59 75 60 75 46 75 31 75 19 74 9 75 16 75 15 75 16 74 20 75 22 75 15 75 30 74 21 75 9 75 11"/><path d="M335 430l75-3 75-8 74-12 75 57 75 50 75 67 74 66 75 61 75 49 75 40 75 23 74 13 75 18 75 16 75 19 74 17 75 24 75 26 75 18 74 25 75 10 75 16"/><path d="M335 471l75-11 75 25 74 28 75 15 75 46 75 47 74 59 75 67 75 47 75 32 75 24 74 10 75 12 75 13 75 22 74 21 75 22 75 19 75 22 74 16 75 19 75 9"/><path d="M335 694l75-215 75-10 74-3 75 23 75 71 75 52 74 59 75 54 75 54 75 40 75 14 74 14 75 17 75 12 75 16 74 24 75 28 75 15 75 18 74 22 75 8 75 4"/><path d="M335 500l75-5 75 13 74 11 75 32 75 34 75 51 74 36 75 66 75 52 75 30 75 25 74 10 75 12 75 17 75 17 74 20 75 20 75 32 75 19 74 17 75 14 75 13"/><path d="M335 457l75-25 75 8 74 19 75 58 75 41 75 56 74 59 75 54 75 48 75 39 75 25 74 11 75 14 75 12 75 19 74 18 75 25 75 24 75 21 74 16 75 19 75 0"/><path d="M335 460l75-7 75 14 74 54 75 19 75 38 75 72 74 50 75 57 75 30 75 29 75 23 74 19 75 4 75 26 75 20 74 13 75 26 75 28 75 21 74 19 75 13 75 6"/><path d="M335 357l75 60 75-57 74 70 75 35 75 51 75 68 74 54 75 68 75 52 75 45 75 17 74 20 75 8 75 21 75 11 74 28 75 30 75 24 75 21 74 20 75 13 75 3"/><path d="M335 500l75-25 75-4 74-7 75 53 75 45 75 62 74 62 75 56 75 50 75 28 75 23 74 9 75 17 75 17 75 18 74 20 75 21 75 21 75 24 74 21 75 15 75 0"/><path d="M335 429l75 10 75-13 74 37 75 34 75 42 75 63 74 64 75 55 75 47 75 46 75 16 74 13 75 12 75 17 75 12 74 23 75 13 75 27 75 29 74 9 75 15 75 11"/><path d="M335 447l75 19 75 10 74-21 75 43 75 56 75 50 74 67 75 56 75 41 75 42 75 22 74 20 75 12 75 14 75 20 74 18 75 27 75 18 75 23 74 11 75 21 75 10"/><path d="M335 486l75-55 75-44 74 74 75 38 75 50 75 74 74 61 75 46 75 50 75 46 75 18 74 12 75 15 75 13 75 23 74 17 75 20 75 24 75 22 74 21 75 13 75 14"/><path d="M335 457l75-47 75-33 74 64 75 52 75 37 75 67 74 63 75 64 75 54 75 32 75 22 74 10 75 15 75 14 75 19 74 23 75 18 75 23 75 19 74 15 75 10 75 12"/><path d="M335 455l75 5 75 45 74 12 75 21 75 55 75 74 74 56 75 30 75 45 75 31 75 23 74 5 75 19 75 23 75 13 74 19 75 22 75 23 75 23 74 14 75 9 75 13"/><path d="M335 516l75-3 75-2 74-5 75 50 75 35 75 56 74 51 75 52 75 39 75 36 75 32 74 7 75 6 75 17 75 24 74 21 75 21 75 21 75 21 74 12 75 16 75 21"/><path d="M335 481l75-20 75 3 74 1 75 33 75 61 75 49 74 53 75 59 75 55 75 37 75 28 74 10 75 11 75 14 75 15 74 22 75 18 75 38 75 13 74 17 75 20 75 4"/><path d="M335 480l75 33 75 20 74-5 75 52 75 81 75 80 74 35 75 12 75 14 75 36 75 19 74 8 75 12 75 15 75 22 74 16 75 24 75 19 75 20 74 15 75 13 75 9"/><path d="M335 381l75 61 75 32 74 4 75 36 75 51 75 93 74 49 75 31 75 54 75 36 75 22 74 15 75 11 75 22 75 21 74 24 75 22 75 16 75 17 74 11 75 13 75 10"/><path d="M335 399l75 50 75 14 74-7 75 46 75 38 75 63 74 63 75 64 75 49 75 41 75 13 74 13 75 12 75 14 75 14 74 24 75 19 75 21 75 21 74 17 75 11 75 8"/><path d="M335 565l75-82 75 29 74-11 75 36 75 31 75 51 74 47 75 64 75 54 75 34 75 25 74 15 75 9 75 16 75 16 74 20 75 20 75 22 75 23 74 26 75 10 75 10"/><path d="M335 455l75-1 75-3 74 10 75 40 75 55 75 57 74 63 75 52 75 60 75 34 75 29 74 9 75 19 75 5 75 15 74 26 75 19 75 26 75 23 74 16 75 20 75 6"/><path d="M335 432l75 60 75 44 74-41 75 36 75 52 75 57 74 72 75 39 75 49 75 38 75 18 74 10 75 20 75 15 75 15 74 28 75 19 75 18 75 15 74 21 75 17 75 8"/><path d="M335 450l75 33 75-38 74 20 75 48 75 40 75 58 74 58 75 66 75 43 75 39 75 22 74 18 75 12 75 14 75 25 74 22 75 23 75 27 75 19 74 19 75 17 75 8"/><path d="M335 418l75 60 75 23 74 2 75 20 75 61 75 50 74 60 75 47 75 57 75 27 75 18 74 16 75 13 75 20 75 18 74 20 75 29 75 10 75 32 74 15 75 9 75 10"/><path d="M335 452l75-17 75 1 74 15 75 33 75 58 75 66 74 65 75 61 75 48 75 38 75 20 74 14 75 17 75 14 75 11 74 17 75 31 75 22 75 20 74 14 75 7 75 13"/><path d="M335 450l75 23 75-12 74 35 75 31 75 42 75 63 74 70 75 55 75 35 75 32 75 24 74 14 75 10 75 26 75 14 74 14 75 24 75 25 75 17 74 16 75 13 75 7"/><path d="M335 506l75-7 75 13 74 10 75 43 75 72 75 54 74 39 75 43 75 41 75 19 75 29 74 7 75 17 75 12 75 19 74 23 75 22 75 27 75 20 74 14 75 13 75 11"/><path d="M335 447l75 15 75 4 74 23 75 23 75 64 75 64 74 61 75 47 75 44 75 38 75 14 74 14 75 10 75 21 75 13 74 26 75 21 75 30 75 18 74 19 75 11 75 15"/><path d="M335 522l75-29 75 5 74 12 75 31 75 68 75 39 74 43 75 46 75 51 75 40 75 27 74 12 75 7 75 16 75 18 74 21 75 18 75 27 75 25 74 19 75 14 75 10"/><path d="M335 477l75 2 75 7 74-5 75 21 75 72 75 45 74 71 75 57 75 44 75 36 75 14 74 18 75 9 75 14 75 20 74 21 75 18 75 21 75 21 74 17 75 15 75 12"/><path d="M335 489l75-15 75 21 74-14 75 31 75 43 75 71 74 45 75 60 75 47 75 45 75 13 74 23 75 6 75 11 75 19 74 24 75 20 75 26 75 15 74 21 75 17 75 16"/><path d="M335 510l75-36 75 38 74-18 75 32 75 55 75 75 74 34 75 42 75 59 75 28 75 27 74 7 75 21 75 10 75 16 74 27 75 20 75 25 75 24 74 24 75 11 75 1"/><path d="M335 515l75 5 75-41 74 54 75 28 75 53 75 36 74 53 75 52 75 48 75 23 75 18 74 11 75 16 75 19 75 12 74 24 75 23 75 23 75 17 74 20 75 16 75 8"/><path d="M335 433l75 21 75-1 74 26 75 30 75 43 75 57 74 60 75 49 75 57 75 37 75 25 74 16 75 12 75 15 75 16 74 23 75 22 75 28 75 20 74 23 75 9 75 14"/><path d="M335 476l75 1 75-5 74 23 75 15 75 57 75 52 74 59 75 55 75 47 75 43 75 20 74 14 75 14 75 17 75 14 74 15 75 26 75 24 75 20 74 18 75 7 75 12"/><path d="M335 525l75-25 75 8 74 37 75 18 75 59 75 71 74 43 75 32 75 43 75 24 75 21 74 3 75 12 75 15 75 14 74 20 75 23 75 26 75 19 74 16 75 18 75 16"/><path d="M335 495l75-33 75 17 74 31 75 46 75 57 75 48 74 48 75 58 75 39 75 37 75 15 74 16 75 9 75 21 75 28 74 15 75 17 75 17 75 23 74 16 75 11 75 11"/><path d="M335 521l75-7 75-25 74 1 75 46 75 47 75 72 74 56 75 59 75 38 75 21 75 32 74 16 75 10 75 17 75 12 74 27 75 23 75 24 75 18 74 17 75 8 75 7"/><path d="M335 418l75 4 75-39 74 59 75 32 75 56 75 55 74 64 75 68 75 56 75 35 75 20 74 22 75 13 75 11 75 23 74 23 75 22 75 20 75 22 74 20 75 13 75 1"/><path d="M335 468l75-13 75 28 74-16 75 28 75 50 75 59 74 74 75 57 75 56 75 35 75 19 74 12 75 14 75 26 75 11 74 19 75 19 75 20 75 14 74 25 75 10 75 4"/><path d="M335 411l75 13 75-16 74 40 75 15 75 61 75 66 74 58 75 55 75 56 75 43 75 20 74 15 75 12 75 22 75 21 74 17 75 25 75 21 75 27 74 21 75 15 75 10"/><path d="M335 475l75-24 75 47 74 5 75 34 75 60 75 36 74 59 75 54 75 46 75 29 75 18 74 12 75 17 75 9 75 15 74 24 75 27 75 16 75 24 74 20 75 15 75 12"/><path d="M335 407l75 5 75-2 74 43 75 43 75 71 75 72 74 82 75 67 75 59 75 38 75 15 74 3 75-7 75 4 75 13 74 15 75 10 75 26 75 18 74 19 75 8 75 8"/><path d="M335 402l75 10 75-31 74 53 75 39 75 52 75 69 74 63 75 63 75 55 75 38 75 18 74 13 75 8 75 15 75 21 74 20 75 18 75 22 75 20 74 20 75 16 75 1"/><path d="M335 494l75-42 75-23 74 33 75 28 75 84 75 39 74 59 75 53 75 46 75 39 75 17 74 20 75 16 75 22 75 14 74 22 75 12 75 28 75 22 74 15 75 14 75 3"/><path d="M335 473l75 19 75-4 74 16 75 29 75 33 75 66 74 59 75 52 75 52 75 28 75 22 74 16 75 18 75 13 75 21 74 14 75 23 75 18 75 25 74 11 75 18 75 4"/><path d="M335 367l75 1 75-7 74 56 75 48 75 43 75 75 74 66 75 69 75 52 75 35 75 23 74 14 75 9 75 22 75 13 74 26 75 16 75 15 75 28 74 16 75 3 75 15"/><path d="M335 446l75 5 75 13 74 26 75 24 75 61 75 54 74 57 75 57 75 35 75 41 75 20 74 11 75 8 75 21 75 17 74 28 75 25 75 27 75 19 74 13 75 14 75 10"/><path d="M335 515l75-80 75 58 74-11 75 17 75 52 75 54 74 56 75 64 75 58 75 34 75 21 74 14 75 12 75 11 75 19 74 24 75 22 75 28 75 13 74 12 75 14 75 10"/><path d="M335 441l75 2 75-53 74 48 75 26 75 81 75 53 74 60 75 62 75 46 75 44 75 22 74 13 75 11 75 15 75 16 74 20 75 25 75 19 75 20 74 22 75 16 75 9"/><path d="M335 424l75 31 75-3 74 38 75 24 75 49 75 62 74 62 75 56 75 43 75 43 75 22 74 13 75 5 75 24 75 9 74 26 75 20 75 26 75 23 74 18 75 8 75 14"/><path d="M335 520l75 27 75-7 74 51 75 11 75 21 75 57 74 57 75 37 75 29 75 37 75 20 74 5 75 15 75 11 75 18 74 20 75 17 75 29 75 21 74 18 75 18 75 10"/><path d="M335 529l75-52 75 13 74 15 75 26 75 44 75 58 74 56 75 54 75 50 75 34 75 22 74 8 75 16 75 12 75 18 74 18 75 26 75 19 75 20 74 24 75 13 75 7"/><path d="M335 465l75-15 75 3 74 24 75 27 75 44 75 69 74 72 75 44 75 43 75 45 75 20 74 13 75 13 75 11 75 17 74 22 75 25 75 27 75 20 74 17 75 28 75 4"/><path d="M335 393l75 27 75-37 74 38 75 62 75 47 75 65 74 63 75 63 75 49 75 37 75 22 74 18 75 13 75 13 75 13 74 21 75 23 75 23 75 9 74 24 75 17 75 6"/><path d="M335 484l75-2 75-14 74 3 75 51 75 48 75 67 74 55 75 56 75 39 75 27 75 23 74 10 75 12 75 13 75 22 74 25 75 18 75 21 75 22 74 19 75 9 75 8"/><path d="M335 483l75 8 75-26 74 41 75-5 75 53 75 55 74 71 75 56 75 55 75 37 75 13 74 15 75 7 75 21 75 17 74 18 75 25 75 25 75 11 74 16 75 18 75 5"/><path d="M335 442l75 23 75-15 74 16 75 52 75 60 75 47 74 56 75 51 75 53 75 42 75 18 74 1 75 16 75 19 75 19 74 18 75 17 75 24 75 23 74 14 75 17 75 7"/><path d="M335 463l75-32 75 30 74 2 75 37 75 50 75 62 74 65 75 59 75 42 75 38 75 22 74 16 75 9 75 23 75 18 74 18 75 23 75 26 75 17 74 21 75 16 75-1"/><path d="M335 443l75 4 75-30 74 28 75 21 75 60 75 58 74 70 75 56 75 55 75 34 75 23 74 25 75 5 75 16 75 22 74 13 75 21 75 21 75 22 74 18 75 5 75 8"/><path d="M335 505l75-27 75 22 74 4 75 56 75 37 75 66 74 53 75 45 75 51 75 35 75 16 74 14 75 9 75 12 75 23 74 15 75 29 75 11 75 20 74 26 75 10 75 6"/><path d="M335 571l75-98 75-6 74-1 75 59 75 46 75 61 74 60 75 49 75 38 75 42 75 21 74 10 75 18 75 12 75 20 74 12 75 17 75 29 75 12 74 25 75 19 75 7"/><path d="M335 455l75 13 75-22 74 12 75 34 75 39 75 63 74 64 75 48 75 55 75 50 75 24 74 12 75 9 75 16 75 19 74 25 75 13 75 29 75 24 74 15 75 8 75 6"/><path d="M335 487l75-26 75-2 74 23 75 14 75 55 75 63 74 56 75 62 75 47 75 40 75 19 74 10 75 17 75 13 75 19 74 15 75 23 75 30 75 17 74 18 75 12 75 9"/><path d="M335 483l75-3 75 26 74-4 75 44 75 32 75 47 74 67 75 71 75 43 75 31 75 25 74 11 75 11 75 19 75 14 74 20 75 29 75 24 75 15 74 20 75 12 75 10"/><path d="M335 361l75 32 75-20 74 44 75 38 75 58 75 71 74 71 75 52 75 58 75 35 75 21 74 15 75 8 75 17 75 19 74 17 75 28 75 25 75 20 74 19 75 7 75 11"/><path d="M335 454l75 22 75 7 74 7 75 27 75 46 75 49 74 66 75 57 75 52 75 26 75 32 74 16 75 7 75 20 75 14 74 26 75 25 75 24 75 24 74 24 75 21 75 3"/><path d="M335 445l75 5 75-9 74 33 75 13 75 56 75 60 74 65 75 51 75 51 75 36 75 23 74 15 75 17 75 11 75 17 74 23 75 20 75 23 75 29 74 21 75 5 75 8"/></g><g stroke-dashoffset="21.2"><path d="M335 406l75 32 75-28 74 47 75 47 75 44 75 67 74 55 75 59 75 50 75 39 75 26 74 10 75 13 75 20 75 13 74 23 75 17 75 20 75 20 74 21 75 12 75 9"/><path d="M335 418l75 32 75-13 74 36 75 22 75 56 75 55 74 73 75 55 75 53 75 37 75 21 74 16 75 6 75 17 75 17 74 21 75 22 75 20 75 24 74 19 75 14 75 6"/><path d="M335 479l75-58 75 8 74 11 75 47 75 56 75 55 74 63 75 63 75 41 75 41 75 21 74 13 75 15 75 13 75 25 74 17 75 23 75 17 75 26 74 15 75 18 75 4"/><path d="M335 486l75 20 75 2 74-7 75 45 75 53 75 54 74 49 75 54 75 38 75 35 75 22 74 12 75 9 75 6 75 24 74 20 75 25 75 19 75 19 74 20 75 15 75 8"/><path d="M335 402l75 24 75 13 74 20 75 34 75 64 75 52 74 61 75 51 75 53 75 36 75 23 74 19 75 10 75 13 75 18 74 18 75 27 75 19 75 15 74 18 75 10 75 5"/><path d="M335 436l75 6 75 10 74 33 75 41 75 52 75 70 74 28 75 57 75 52 75 32 75 21 74 16 75 9 75 15 75 13 74 21 75 29 75 19 75 20 74 13 75 16 75 9"/><path d="M335 416l75 37 75-1 74 16 75 39 75 54 75 60 74 64 75 51 75 54 75 29 75 26 74 25 75 1 75 19 75 15 74 22 75 19 75 32 75 19 74 19 75 9 75 9"/><path d="M335 534l75-20 75-9 74 0 75 11 75 38 75 56 74 60 75 60 75 57 75 34 75 25 74 9 75 15 75 13 75 16 74 27 75 20 75 18 75 15 74 25 75 8 75 10"/><path d="M335 370l75 79 75-7 74 10 75 31 75 42 75 66 74 63 75 61 75 60 75 38 75 27 74 6 75 15 75 14 75 18 74 27 75 20 75 22 75 14 74 19 75 17 75 6"/><path d="M335 475l75-42 75-8 74 48 75 41 75 41 75 57 74 59 75 66 75 52 75 34 75 14 74 14 75 16 75 17 75 20 74 21 75 23 75 20 75 23 74 21 75 16 75-1"/><path d="M335 496l75 4 75-6 74 32 75 44 75 52 75 76 74 31 75 43 75 31 75 31 75 17 74 17 75 12 75 9 75 26 74 19 75 25 75 20 75 18 74 26 75 15 75 1"/><path d="M335 511l75-5 75-7 74 7 75 34 75 44 75 46 74 69 75 63 75 48 75 32 75 24 74 9 75 14 75 13 75 22 74 20 75 22 75 22 75 22 74 16 75 11 75 6"/><path d="M335 520l75-1 75-13 74 41 75 35 75 55 75 47 74 17 75 42 75 36 75 33 75 22 74 13 75 11 75 20 75 22 74 25 75 18 75 25 75 17 74 20 75 13 75 16"/><path d="M335 411l75-4 75 35 74-12 75 45 75 66 75 70 74 42 75 60 75 52 75 40 75 21 74 11 75 16 75 13 75 22 74 14 75 19 75 24 75 14 74 19 75 7 75 9"/><path d="M335 563l75-21 75-60 74 56 75 48 75 51 75 51 74 37 75 57 75 38 75 25 75 15 74 13 75 7 75 21 75 21 74 21 75 21 75 24 75 16 74 22 75 15 75 11"/><path d="M335 482l75 3 75 6 74 39 75 18 75 51 75 54 74 31 75 59 75 33 75 39 75 17 74 18 75 6 75 21 75 22 74 17 75 18 75 25 75 23 74 12 75 13 75 14"/><path d="M335 444l75 24 75 15 74-6 75 36 75 49 75 59 74 65 75 46 75 66 75 19 75 24 74 15 75 10 75 11 75 26 74 16 75 22 75 22 75 28 74 22 75 13 75 6"/><path d="M335 389l75 44 75-30 74 17 75 40 75 46 75 61 74 73 75 70 75 50 75 36 75 26 74 12 75 19 75 7 75 19 74 22 75 22 75 21 75 19 74 15 75 12 75 5"/><path d="M335 439l75-18 75-9 74 39 75 32 75 55 75 68 74 61 75 68 75 49 75 36 75 34 74 5 75 17 75 9 75 18 74 23 75 22 75 17 75 26 74 17 75 11 75 19"/><path d="M335 443l75-2 75 17 74 24 75 7 75 50 75 62 74 66 75 56 75 51 75 43 75 26 74 15 75 15 75 15 75 21 74 22 75 21 75 17 75 24 74 16 75 12 75 5"/><path d="M335 460l75-13 75 3 74 1 75 44 75 50 75 65 74 56 75 54 75 51 75 37 75 32 74 10 75 11 75 13 75 15 74 31 75 19 75 25 75 24 74 21 75 14 75 3"/><path d="M335 510l75-43 75-39 74 38 75 48 75 54 75 70 74 60 75 54 75 39 75 37 75 15 74 16 75 11 75 20 75 17 74 19 75 23 75 20 75 18 74 25 75 11 75 7"/><path d="M335 581l75-123 75 37 74-26 75 28 75 47 75 58 74 66 75 54 75 57 75 36 75 20 74 17 75 14 75 16 75 22 74 22 75 26 75 25 75 17 74 17 75 13 75 7"/><path d="M335 489l75 11 75 34 74-15 75 19 75 59 75 52 74 40 75 66 75 44 75 33 75 18 74 15 75 12 75 15 75 22 74 16 75 24 75 25 75 18 74 19 75 15 75 4"/><path d="M335 590l75-168 75-59 74 82 75 44 75 47 75 71 74 61 75 59 75 45 75 47 75 18 74 16 75 9 75 12 75 17 74 23 75 26 75 19 75 27 74 19 75 13 75 3"/><path d="M335 495l75-18 75 35 74-10 75 30 75 63 75 45 74 58 75 56 75 44 75 36 75 24 74 12 75 12 75 21 75 13 74 22 75 20 75 18 75 24 74 18 75 16 75 9"/><path d="M335 532l75-2 75 12 74-3 75 33 75 61 75 33 74 49 75 52 75 51 75 29 75 8 74 8 75 15 75 12 75 17 74 29 75 19 75 23 75 19 74 19 75 9 75 4"/><path d="M335 491l75-68 75-13 74 46 75 32 75 44 75 68 74 61 75 61 75 55 75 41 75 21 74 15 75 17 75 5 75 21 74 26 75 15 75 14 75 20 74 22 75 19 75 3"/><path d="M335 563l75-12 75 48 74-12 75 20 75 57 75 63 74 42 75 38 75 22 75 22 75 26 74 5 75 6 75 19 75 16 74 24 75 19 75 31 75 27 74 12 75 28 75-5"/><path d="M335 430l75-11 75-35 74 59 75 58 75 39 75 58 74 71 75 61 75 50 75 37 75 30 74 15 75 10 75 15 75 18 74 21 75 22 75 17 75 22 74 17 75 8 75 2"/><path d="M335 463l75-46 75-3 74 20 75 44 75 48 75 61 74 66 75 67 75 51 75 45 75 24 74 13 75 9 75 14 75 26 74 22 75 18 75 17 75 25 74 14 75 13 75 10"/><path d="M335 451l75 19 75-43 74 60 75 28 75 82 75 62 74 31 75 54 75 43 75 45 75 22 74 14 75 8 75 7 75 22 74 22 75 19 75 21 75 16 74 14 75 17 75 11"/><path d="M335 448l75-6 75 13 74 34 75 19 75 62 75 69 74 53 75 41 75 53 75 33 75 20 74 7 75 17 75 10 75 25 74 21 75 19 75 23 75 18 74 21 75 13 75 14"/><path d="M335 541l75-25 75 9 74 35 75 36 75 38 75 63 74 19 75 56 75 38 75 28 75 10 74 16 75 12 75 22 75 10 74 21 75 21 75 25 75 30 74 19 75 17 75 6"/><path d="M335 363l75 59 75 16 74 10 75 47 75 46 75 68 74 62 75 60 75 47 75 45 75 20 74 17 75 11 75 13 75 18 74 21 75 18 75 24 75 17 74 22 75 18 75 4"/><path d="M335 467l75 6 75 31 74-21 75 47 75 48 75 46 74 49 75 53 75 46 75 41 75 20 74 19 75 9 75 13 75 19 74 26 75 31 75 19 75 21 74 19 75 18 75 9"/><path d="M335 400l75 28 75-35 74 45 75 46 75 51 75 63 74 53 75 64 75 50 75 38 75 31 74 5 75 13 75 19 75 12 74 22 75 19 75 24 75 19 74 21 75 18 75 6"/><path d="M335 491l75-47 75 44 74-20 75 48 75 43 75 62 74 81 75 42 75 44 75 32 75 22 74 21 75 13 75 14 75 15 74 24 75 24 75 20 75 24 74 16 75 8 75 7"/><path d="M335 494l75-5 75 10 74 32 75 30 75 58 75 59 74 59 75 58 75 29 75 28 75 27 74 1 75 11 75 16 75 14 74 20 75 24 75 25 75 23 74 27 75 5 75 11"/><path d="M335 440l75-31 75 5 74 30 75 37 75 40 75 73 74 67 75 60 75 54 75 38 75 27 74 7 75 21 75 16 75 18 74 17 75 13 75 24 75 24 74 10 75 12 75 11"/><path d="M335 470l75 2 75-6 74-4 75 42 75 55 75 44 74 77 75 65 75 36 75 43 75 18 74 13 75 7 75 23 75 18 74 14 75 25 75 25 75 17 74 15 75 12 75 4"/><path d="M335 444l75 21 75 20 74 13 75 48 75 77 75 77 74 58 75 65 75 32 75 22 75 9 74-4 75 0 75 15 75 15 74 19 75 24 75 23 75 21 74 14 75 12 75 8"/><path d="M335 426l75 16 75-34 74 65 75 21 75 60 75 62 74 62 75 61 75 45 75 42 75 22 74 13 75 12 75 16 75 10 74 25 75 19 75 27 75 20 74 13 75 19 75 7"/><path d="M335 447l75 2 75 4 74 14 75 36 75 52 75 69 74 49 75 62 75 47 75 37 75 17 74 14 75 12 75 13 75 21 74 19 75 29 75 24 75 21 74 19 75 12 75 9"/><path d="M335 556l75-107 75-30 74 36 75 26 75 41 75 75 74 70 75 56 75 59 75 33 75 24 74 16 75 5 75 18 75 25 74 20 75 19 75 27 75 25 74 20 75 16 75 6"/><path d="M335 450l75 2 75-27 74 47 75 21 75 50 75 54 74 66 75 57 75 53 75 34 75 26 74 13 75 12 75 10 75 22 74 21 75 27 75 16 75 18 74 16 75 13 75 5"/><path d="M335 526l75-57 75 31 74 10 75 4 75 46 75 49 74 59 75 64 75 48 75 32 75 26 74 11 75 10 75 22 75 24 74 15 75 22 75 21 75 23 74 16 75 17 75 11"/><path d="M335 499l75 1 75-3 74 28 75 26 75 33 75 84 74 47 75 39 75 43 75 34 75 16 74 12 75 7 75 20 75 21 74 18 75 21 75 23 75 18 74 18 75 19 75 8"/><path d="M335 484l75 8 75 2 74 13 75 48 75 33 75 50 74 74 75 54 75 39 75 33 75 24 74 14 75 6 75 12 75 24 74 27 75 19 75 18 75 19 74 18 75 11 75 8"/><path d="M335 452l75-27 75 8 74 51 75 12 75 60 75 52 74 67 75 51 75 54 75 35 75 19 74 19 75 10 75 12 75 23 74 17 75 17 75 16 75 33 74 17 75 17 75 7"/><path d="M335 409l75 18 75 44 74-9 75 56 75 40 75 60 74 56 75 56 75 51 75 26 75 26 74 16 75 20 75 17 75 20 74 20 75 21 75 18 75 10 74 25 75 7 75 12"/><path d="M335 510l75 1 75-18 74 16 75 36 75 54 75 48 74 40 75 44 75 50 75 41 75 26 74 19 75 5 75 15 75 17 74 19 75 24 75 23 75 23 74 15 75 6 75 11"/><path d="M335 458l75-14 75 5 74 9 75 37 75 32 75 67 74 58 75 76 75 47 75 34 75 27 74 17 75 14 75 13 75 16 74 19 75 20 75 22 75 20 74 13 75 16 75 9"/><path d="M335 496l75-29 75 14 74 6 75 16 75 63 75 84 74 42 75 53 75 56 75 33 75 25 74 6 75 14 75 11 75 19 74 25 75 26 75 14 75 23 74 22 75 4 75 12"/><path d="M335 481l75 26 75 15 74 4 75 17 75 68 75 75 74 41 75 46 75 41 75 18 75 20 74 9 75 8 75 14 75 19 74 26 75 21 75 23 75 21 74 23 75 15 75 3"/><path d="M335 445l75 33 75 14 74-2 75 16 75 53 75 60 74 74 75 54 75 52 75 28 75 21 74 12 75 17 75 11 75 17 74 26 75 21 75 19 75 21 74 12 75 13 75 14"/><path d="M335 476l75-8 75-11 74 0 75 42 75 50 75 48 74 65 75 59 75 59 75 38 75 17 74 16 75 11 75 12 75 20 74 20 75 27 75 20 75 24 74 15 75 13 75 10"/><path d="M335 494l75-25 75 18 74-26 75 32 75 55 75 65 74 61 75 56 75 51 75 38 75 25 74 12 75 13 75 17 75 11 74 17 75 20 75 29 75 17 74 22 75 19 75 5"/><path d="M335 355l75 56 75-43 74 76 75 30 75 42 75 83 74 63 75 66 75 52 75 33 75 22 74 18 75 11 75 12 75 16 74 24 75 18 75 25 75 17 74 18 75 15 75 10"/><path d="M335 421l75 23 75 17 74 28 75 11 75 43 75 58 74 61 75 67 75 52 75 41 75 18 74 21 75 3 75 15 75 22 74 16 75 25 75 26 75 22 74 14 75 12 75 10"/><path d="M335 453l75-22 75 18 74-20 75 41 75 56 75 65 74 58 75 62 75 54 75 43 75 27 74 6 75 21 75 19 75 9 74 18 75 15 75 27 75 31 74 11 75 10 75 7"/><path d="M335 464l75-46 75 24 74 27 75 29 75 43 75 64 74 59 75 59 75 50 75 33 75 33 74 13 75 20 75 19 75 19 74 18 75 19 75 24 75 20 74 14 75 17 75 1"/><path d="M335 424l75-3 75 23 74 2 75 45 75 52 75 69 74 55 75 59 75 48 75 39 75 26 74 14 75 12 75 16 75 25 74 12 75 25 75 19 75 16 74 15 75 15 75 15"/><path d="M335 485l75-28 75-29 74 39 75 35 75 65 75 77 74 56 75 58 75 41 75 29 75 21 74 12 75 9 75 18 75 21 74 25 75 25 75 10 75 22 74 14 75 10 75 7"/><path d="M335 511l75-71 75 7 74 2 75 33 75 42 75 69 74 62 75 69 75 53 75 38 75 12 74 16 75 13 75 18 75 18 74 24 75 23 75 26 75 25 74 20 75 5 75 13"/><path d="M335 403l75 50 75-16 74 25 75 38 75 48 75 49 74 74 75 58 75 52 75 33 75 24 74 18 75 17 75 18 75 18 74 20 75 19 75 21 75 16 74 20 75 11 75 14"/><path d="M335 433l75-12 75-30 74 41 75 46 75 38 75 74 74 63 75 64 75 56 75 40 75 21 74 11 75 17 75 10 75 17 74 20 75 19 75 19 75 29 74 22 75 9 75 3"/><path d="M335 650l75-202 75-10 74 21 75 38 75 64 75 52 74 51 75 63 75 46 75 51 75 17 74 8 75 12 75 15 75 17 74 20 75 24 75 25 75 21 74 15 75 18 75 15"/><path d="M335 496l75-7 75-10 74 50 75 17 75 35 75 68 74 53 75 52 75 33 75 41 75 21 74 11 75 17 75 17 75 20 74 21 75 23 75 18 75 20 74 16 75 7 75 10"/></g><g stroke-dashoffset="31.9"><path d="M335 434l75 17 75-30 74 26 75 37 75 38 75 78 74 50 75 67 75 50 75 48 75 20 74 13 75 11 75 19 75 7 74 24 75 31 75 23 75 23 74 13 75 9 75 9"/><path d="M335 493l75 4 75-3 74 30 75 26 75 48 75 55 74 55 75 67 75 25 75 38 75 22 74 10 75 9 75 19 75 16 74 23 75 17 75 21 75 21 74 19 75 15 75 13"/><path d="M335 494l75-16 75-10 74-3 75 41 75 55 75 79 74 78 75 41 75 43 75 30 75 20 74 14 75 8 75 20 75 12 74 17 75 28 75 27 75 26 74 13 75 17 75 2"/><path d="M335 366l75 91 75-12 74 43 75 23 75 53 75 61 74 46 75 57 75 49 75 42 75 20 74 7 75 17 75 12 75 20 74 28 75 15 75 23 75 24 74 17 75 16 75 4"/><path d="M335 494l75 0 75-27 74 32 75 46 75 50 75 63 74 64 75 43 75 38 75 29 75 14 74 18 75 16 75 12 75 24 74 18 75 20 75 18 75 18 74 14 75 9 75 14"/><path d="M335 513l75-10 75 0 74 18 75 33 75 40 75 53 74 30 75 66 75 45 75 34 75 26 74 7 75 20 75 16 75 20 74 19 75 21 75 22 75 27 74 15 75 14 75 8"/><path d="M335 481l75 23 75 2 74 13 75 59 75 20 75 35 74 67 75 54 75 44 75 27 75 18 74 19 75 9 75 6 75 27 74 17 75 19 75 35 75 12 74 19 75 11 75 7"/><path d="M335 445l75 33 75-19 74 29 75 23 75 42 75 55 74 53 75 63 75 45 75 37 75 23 74 17 75 16 75 11 75 19 74 14 75 19 75 26 75 17 74 19 75 17 75 10"/><path d="M335 449l75 28 75-5 74 12 75 71 75 51 75 56 74 50 75 60 75 37 75 19 75 27 74 12 75 12 75 19 75 15 74 23 75 17 75 24 75 24 74 13 75 12 75 11"/><path d="M335 477l75 10 75-17 74 9 75 8 75 68 75 72 74 71 75 44 75 43 75 37 75 20 74 19 75 12 75 14 75 19 74 18 75 25 75 23 75 25 74 18 75 9 75 4"/><path d="M335 478l75-27 75-30 74 52 75 19 75 65 75 68 74 60 75 54 75 47 75 40 75 25 74 14 75 13 75 18 75 10 74 28 75 17 75 29 75 19 74 19 75 9 75 14"/><path d="M335 387l75 94 75 14 74 15 75 15 75 30 75 79 74 47 75 60 75 44 75 34 75 27 74 16 75 7 75 19 75 25 74 17 75 17 75 23 75 25 74 13 75 14 75 8"/><path d="M335 551l75-30 75-28 74 53 75 40 75 45 75 32 74 57 75 49 75 35 75 26 75 27 74 18 75 10 75 11 75 18 74 17 75 34 75 19 75 21 74 18 75 16 75 1"/><path d="M335 401l75 20 75-23 74 57 75 37 75 65 75 49 74 48 75 61 75 54 75 40 75 19 74 13 75 16 75 12 75 23 74 27 75 20 75 18 75 29 74 11 75 12 75 9"/><path d="M335 495l75-1 75-13 74 41 75 24 75 29 75 59 74 69 75 56 75 43 75 30 75 26 74 14 75 11 75 9 75 9 74 22 75 22 75 17 75 31 74 13 75 18 75 10"/><path d="M335 443l75 1 75 13 74 3 75 21 75 57 75 59 74 54 75 65 75 50 75 44 75 22 74 18 75 10 75 16 75 17 74 22 75 23 75 18 75 28 74 10 75 12 75 10"/><path d="M335 464l75 9 75 12 74 1 75 16 75 62 75 63 74 57 75 52 75 45 75 41 75 24 74 10 75 14 75 13 75 21 74 19 75 22 75 24 75 17 74 22 75 13 75 9"/><path d="M335 451l75 40 75 32 74-4 75 43 75 40 75 64 74 50 75 54 75 24 75 39 75 18 74 14 75 9 75 10 75 25 74 25 75 18 75 14 75 23 74 14 75 16 75 4"/><path d="M335 469l75 5 75 14 74 63 75 33 75 35 75 42 74 55 75 43 75 39 75 30 75 25 74 8 75 11 75 15 75 22 74 19 75 30 75 17 75 27 74 17 75 10 75 2"/><path d="M335 433l75-1 75 17 74 23 75 39 75 57 75 48 74 56 75 58 75 46 75 36 75 28 74 5 75 19 75 10 75 23 74 12 75 23 75 25 75 20 74 17 75 14 75-3"/><path d="M335 524l75-63 75 15 74 11 75 14 75 66 75 70 74 39 75 55 75 51 75 28 75 27 74 14 75 10 75 11 75 24 74 17 75 26 75 24 75 17 74 24 75 9 75 8"/><path d="M335 477l75 16 75-7 74 36 75 17 75 58 75 64 74 59 75 47 75 43 75 29 75 22 74 0 75 12 75 13 75 15 74 22 75 22 75 20 75 15 74 17 75 15 75 13"/><path d="M335 491l75-10 75 11 74 14 75 8 75 37 75 45 74 61 75 57 75 47 75 47 75 20 74 17 75 15 75 17 75 21 74 19 75 21 75 22 75 14 74 12 75 21 75 9"/><path d="M335 379l75 65 75 5 74 8 75 37 75 47 75 81 74 52 75 62 75 50 75 40 75 20 74 14 75 8 75 16 75 19 74 19 75 22 75 23 75 24 74 18 75 14 75 9"/><path d="M335 372l75 31 75-37 74 64 75 36 75 42 75 76 74 67 75 52 75 64 75 40 75 20 74 15 75 13 75 19 75 18 74 14 75 22 75 23 75 23 74 15 75 16 75 10"/><path d="M335 456l75 8 75 25 74-14 75 28 75 48 75 56 74 76 75 58 75 42 75 41 75 16 74 19 75 20 75 10 75 23 74 22 75 20 75 23 75 17 74 13 75 14 75 6"/><path d="M335 465l75-19 75 4 74 39 75 17 75 48 75 68 74 52 75 79 75 37 75 34 75 18 74 17 75 4 75 20 75 18 74 20 75 23 75 26 75 20 74 16 75 14 75 8"/><path d="M335 479l75-22 75-22 74 60 75 13 75 88 75 59 74 65 75 47 75 34 75 30 75 17 74 7 75 21 75 9 75 21 74 28 75 17 75 23 75 25 74 20 75 16 75 11"/><path d="M335 494l75-41 75 8 74 3 75 30 75 60 75 60 74 64 75 59 75 50 75 36 75 19 74 19 75 15 75 6 75 23 74 21 75 19 75 19 75 11 74 17 75 15 75 9"/><path d="M335 490l75-7 75 21 74 37 75 18 75 46 75 49 74 47 75 45 75 50 75 34 75 26 74 11 75 13 75 8 75 22 74 17 75 20 75 32 75 19 74 20 75 20 75 16"/><path d="M335 464l75-16 75 46 74-22 75 32 75 60 75 65 74 52 75 60 75 40 75 32 75 26 74 14 75 7 75 12 75 23 74 20 75 29 75 19 75 22 74 17 75 15 75 8"/><path d="M335 444l75-2 75 2 74 3 75 46 75 52 75 62 74 57 75 63 75 44 75 36 75 23 74 25 75 14 75 19 75 13 74 25 75 21 75 26 75 19 74 15 75 10 75 7"/><path d="M335 495l75-33 75-7 74 6 75 38 75 50 75 61 74 50 75 63 75 57 75 35 75 22 74 22 75 6 75 20 75 15 74 20 75 22 75 14 75 23 74 14 75 17 75 7"/><path d="M335 467l75-6 75-19 74 57 75 47 75 14 75 65 74 60 75 63 75 38 75 35 75 28 74 7 75 25 75 12 75 24 74 20 75 22 75 26 75 25 74 14 75 13 75 2"/><path d="M335 440l75-15 75-12 74 22 75 46 75 59 75 69 74 53 75 57 75 49 75 32 75 35 74 13 75 13 75 17 75 11 74 28 75 18 75 24 75 26 74 20 75 11 75 9"/><path d="M335 480l75-26 75-11 74 22 75 42 75 45 75 80 74 57 75 56 75 46 75 34 75 14 74 16 75 16 75 14 75 21 74 17 75 23 75 22 75 23 74 11 75 29 75 1"/><path d="M335 381l75 74 75 19 74 13 75 18 75 40 75 72 74 57 75 56 75 50 75 40 75 20 74 14 75 16 75 18 75 15 74 18 75 22 75 24 75 21 74 21 75 7 75 8"/><path d="M335 546l75-88 75 5 74 20 75 42 75 43 75 47 74 69 75 64 75 32 75 42 75 25 74 15 75 8 75 15 75 19 74 21 75 22 75 19 75 15 74 25 75 9 75 4"/><path d="M335 473l75-2 75 24 74 6 75 57 75 39 75 64 74 46 75 43 75 47 75 31 75 23 74 12 75 8 75 12 75 21 74 21 75 27 75 17 75 19 74 20 75 12 75 10"/><path d="M335 423l75-27 75-15 74 35 75 60 75 50 75 52 74 64 75 63 75 52 75 52 75 24 74 16 75 16 75 13 75 21 74 15 75 21 75 17 75 19 74 16 75 13 75 16"/><path d="M335 468l75-45 75-10 74 38 75 36 75 40 75 81 74 61 75 61 75 46 75 39 75 24 74 12 75 10 75 18 75 19 74 14 75 23 75 26 75 22 74 11 75 5 75 16"/><path d="M335 513l75-64 75-21 74 30 75 33 75 51 75 46 74 75 75 59 75 49 75 35 75 24 74 18 75 11 75 15 75 16 74 27 75 21 75 25 75 10 74 21 75 15 75 4"/><path d="M335 421l75 13 75-10 74 34 75 19 75 69 75 54 74 65 75 54 75 54 75 38 75 18 74 20 75 8 75 15 75 16 74 28 75 18 75 27 75 14 74 25 75 13 75 8"/><path d="M335 488l75-24 75-15 74 8 75 39 75 52 75 68 74 66 75 42 75 54 75 44 75 25 74 11 75 11 75 17 75 20 74 26 75 24 75 21 75 19 74 18 75 14 75 13"/><path d="M335 496l75-34 75 20 74 5 75 22 75 51 75 56 74 59 75 57 75 53 75 31 75 21 74 15 75 13 75 14 75 16 74 17 75 17 75 25 75 18 74 25 75 13 75 13"/><path d="M335 469l75-5 75-2 74 8 75 30 75 48 75 60 74 63 75 52 75 52 75 39 75 13 74 19 75 16 75 11 75 17 74 16 75 30 75 17 75 23 74 18 75 7 75 10"/><path d="M335 427l75-9 75 59 74-41 75 18 75 66 75 52 74 64 75 64 75 53 75 49 75 23 74 10 75 11 75 17 75 21 74 22 75 22 75 23 75 17 74 16 75 8 75-1"/><path d="M335 507l75-72 75-9 74 27 75 51 75 30 75 72 74 62 75 61 75 44 75 42 75 25 74 18 75 9 75 12 75 20 74 13 75 22 75 21 75 26 74 18 75 17 75 11"/><path d="M335 450l75-17 75 7 74 18 75 46 75 52 75 56 74 68 75 54 75 45 75 38 75 21 74 16 75 10 75 14 75 13 74 19 75 24 75 30 75 22 74 13 75 16 75 7"/><path d="M335 417l75 15 75-23 74 25 75 40 75 45 75 73 74 65 75 67 75 51 75 37 75 16 74 15 75 14 75 17 75 18 74 22 75 16 75 28 75 24 74 17 75 13 75 1"/><path d="M335 449l75-26 75-4 74 12 75 43 75 65 75 55 74 68 75 63 75 55 75 37 75 28 74 2 75 16 75 15 75 20 74 15 75 23 75 26 75 23 74 14 75 19 75 10"/><path d="M335 472l75 28 75 12 74 17 75 13 75 55 75 43 74 60 75 54 75 40 75 27 75 18 74 23 75 5 75 16 75 18 74 28 75 22 75 21 75 25 74 7 75 17 75 6"/><path d="M335 524l75-18 75 15 74-6 75 35 75 39 75 63 74 39 75 63 75 42 75 39 75 24 74 8 75 12 75 15 75 16 74 18 75 25 75 22 75 25 74 17 75 14 75 5"/><path d="M335 429l75 13 75-5 74 16 75 21 75 73 75 64 74 66 75 54 75 46 75 37 75 24 74 10 75 11 75 16 75 22 74 20 75 18 75 20 75 18 74 27 75 15 75 5"/><path d="M335 477l75 23 75 20 74-1 75 8 75 70 75 44 74 41 75 45 75 50 75 45 75 21 74 14 75 17 75 15 75 15 74 27 75 21 75 22 75 20 74 19 75 12 75 14"/><path d="M335 479l75-12 75-1 74 39 75 27 75 63 75 51 74 46 75 36 75 53 75 36 75 23 74 12 75 14 75 8 75 21 74 25 75 15 75 22 75 27 74 13 75 16 75 10"/><path d="M335 507l75-75 75 57 74-20 75 33 75 71 75 77 74 62 75 42 75 31 75 27 75 19 74 22 75 12 75 12 75 16 74 14 75 25 75 27 75 23 74 15 75 21 75 4"/><path d="M335 529l75 28 75 10 74-6 75 34 75 45 75 69 74 41 75 44 75 38 75 16 75 26 74 7 75 4 75 17 75 16 74 21 75 22 75 19 75 19 74 19 75 19 75 11"/><path d="M335 489l75-38 75 48 74-28 75 37 75 61 75 54 74 68 75 47 75 46 75 43 75 28 74 10 75 13 75 21 75 13 74 27 75 18 75 24 75 18 74 18 75 16 75 8"/><path d="M335 484l75-31 75 11 74 16 75 44 75 33 75 58 74 74 75 48 75 50 75 40 75 22 74 12 75 7 75 14 75 19 74 22 75 26 75 21 75 20 74 15 75 16 75 11"/><path d="M335 434l75-2 75 13 74 22 75 36 75 45 75 61 74 72 75 49 75 44 75 33 75 20 74 17 75 15 75 12 75 17 74 21 75 19 75 22 75 23 74 14 75 12 75 14"/><path d="M335 463l75 13 75 25 74 16 75 36 75 54 75 75 74 58 75 65 75 36 75 22 75 26 74-3 75-3 75 7 75 22 74 20 75 24 75 19 75 21 74 28 75 8 75 4"/><path d="M335 503l75 7 75 26 74-30 75 45 75 31 75 55 74 51 75 54 75 50 75 47 75 13 74 18 75 15 75 15 75 20 74 17 75 20 75 23 75 18 74 21 75 13 75 5"/><path d="M335 435l75-5 75-4 74 26 75 33 75 57 75 58 74 65 75 45 75 58 75 36 75 19 74 15 75 11 75 18 75 18 74 30 75 14 75 24 75 19 74 19 75 8 75 12"/><path d="M335 494l75 13 75 29 74 22 75 12 75 60 75 43 74 39 75 46 75 39 75 31 75 29 74 11 75 15 75 8 75 24 74 14 75 29 75 24 75 22 74 21 75 13 75 11"/><path d="M335 461l75 17 75 46 74-55 75 33 75 60 75 59 74 61 75 42 75 57 75 37 75 27 74 12 75 17 75 13 75 23 74 18 75 21 75 19 75 21 74 16 75 15 75 10"/><path d="M335 431l75-2 75-18 74 37 75 37 75 59 75 59 74 53 75 64 75 49 75 41 75 27 74 17 75 10 75 19 75 13 74 19 75 29 75 23 75 16 74 18 75 16 75 6"/><path d="M335 444l75 10 75 19 74 14 75 43 75 76 75 59 74 39 75 45 75 45 75 26 75 21 74 9 75 15 75 13 75 18 74 19 75 21 75 22 75 18 74 13 75 14 75 10"/><path d="M335 520l75-13 75-72 74 50 75 40 75 68 75 59 74 68 75 48 75 31 75 37 75 22 74 17 75 10 75 12 75 17 74 19 75 26 75 20 75 17 74 16 75 16 75 3"/></g><g stroke-dashoffset="42.5"><path d="M335 594l75-21 75 8 74 6 75 27 75 45 75 72 74 10 75 50 75 19 75 24 75 18 74 15 75 12 75 11 75 21 74 24 75 20 75 21 75 12 74 23 75 7 75 12"/><path d="M335 446l75 0 75 2 74 19 75 18 75 52 75 70 74 56 75 62 75 54 75 45 75 18 74 18 75 6 75 15 75 18 74 18 75 23 75 21 75 25 74 12 75 17 75 7"/><path d="M335 465l75 0 75-20 74 31 75 27 75 54 75 68 74 56 75 53 75 40 75 34 75 30 74 18 75 5 75 15 75 20 74 29 75 13 75 21 75 26 74 26 75 8 75 9"/><path d="M335 404l75 10 75-18 74 12 75 34 75 71 75 64 74 68 75 66 75 55 75 43 75 23 74 17 75 10 75 15 75 16 74 25 75 27 75 17 75 22 74 23 75 11 75 2"/><path d="M335 427l75-4 75-18 74 38 75 44 75 39 75 76 74 57 75 64 75 47 75 43 75 22 74 13 75 16 75 21 75 17 74 26 75 16 75 19 75 27 74 16 75 16 75 15"/><path d="M335 421l75 31 75-2 74 25 75 34 75 41 75 64 74 66 75 54 75 47 75 34 75 32 74 11 75 19 75 12 75 13 74 29 75 25 75 27 75 23 74 12 75 14 75 2"/><path d="M335 458l75 3 75-13 74 0 75 32 75 64 75 50 74 80 75 52 75 65 75 30 75 22 74 22 75 6 75 11 75 19 74 17 75 29 75 23 75 13 74 22 75 12 75 1"/><path d="M335 417l75 28 75-10 74 35 75 27 75 52 75 47 74 73 75 63 75 43 75 42 75 19 74 14 75 13 75 16 75 22 74 17 75 21 75 15 75 18 74 21 75 11 75 9"/><path d="M335 554l75-62 75-27 74 3 75 34 75 62 75 52 74 58 75 55 75 52 75 39 75 24 74 10 75 12 75 15 75 22 74 22 75 16 75 19 75 23 74 20 75 12 75 3"/><path d="M335 404l75 0 75-1 74 23 75 24 75 54 75 64 74 65 75 69 75 49 75 47 75 26 74 14 75 14 75 19 75 16 74 17 75 22 75 21 75 27 74 16 75 13 75 8"/><path d="M335 506l75-24 75 3 74 18 75 44 75 44 75 51 74 54 75 59 75 47 75 31 75 14 74 21 75 16 75 13 75 14 74 15 75 21 75 26 75 20 74 27 75 11 75 12"/><path d="M335 392l75 45 75-22 74 37 75 44 75 47 75 87 74 63 75 61 75 49 75 23 75 23 74 10 75 16 75 19 75 24 74 21 75 20 75 18 75 22 74 17 75 13 75 6"/><path d="M335 520l75-3 75 35 74-28 75 21 75 49 75 53 74 63 75 49 75 40 75 37 75 20 74 14 75 16 75 9 75 27 74 17 75 19 75 19 75 13 74 21 75 16 75 9"/><path d="M335 433l75 8 75-1 74 26 75 31 75 43 75 65 74 67 75 63 75 45 75 38 75 24 74 17 75 15 75 11 75 16 74 21 75 23 75 22 75 22 74 23 75 15 75 13"/><path d="M335 714l75-276 75-14 74 18 75 54 75 56 75 51 74 69 75 59 75 56 75 37 75 22 74 13 75 15 75 17 75 19 74 25 75 13 75 22 75 12 74 19 75 12 75 5"/><path d="M335 417l75 30 75-9 74 17 75 49 75 54 75 58 74 58 75 50 75 51 75 45 75 21 74 27 75 4 75 16 75 20 74 18 75 26 75 11 75 22 74 16 75 19 75 0"/><path d="M335 507l75-32 75 43 74 18 75 26 75 54 75 50 74 61 75 49 75 31 75 32 75 17 74 16 75 9 75 22 75 12 74 22 75 26 75 25 75 19 74 18 75 13 75 8"/><path d="M335 403l75-25 75-14 74 50 75 39 75 59 75 69 74 74 75 57 75 56 75 40 75 24 74 18 75 9 75 16 75 22 74 14 75 23 75 22 75 20 74 20 75 15 75-1"/><path d="M335 505l75-30 75 64 74-59 75 19 75 38 75 67 74 70 75 51 75 55 75 34 75 26 74 9 75 20 75 19 75 18 74 18 75 25 75 22 75 22 74 18 75 12 75 15"/><path d="M335 428l75-1 75-12 74 19 75 22 75 59 75 84 74 71 75 52 75 48 75 37 75 29 74 17 75-3 75 23 75 18 74 18 75 28 75 21 75 24 74 17 75 17 75 2"/><path d="M335 542l75-93 75-5 74 23 75 43 75 44 75 63 74 62 75 55 75 43 75 34 75 21 74 17 75 14 75 11 75 16 74 27 75 19 75 26 75 20 74 11 75 16 75 11"/><path d="M335 463l75-21 75 26 74-13 75 68 75 53 75 62 74 43 75 45 75 47 75 39 75 20 74 19 75 9 75 14 75 19 74 20 75 27 75 11 75 23 74 23 75 12 75 8"/><path d="M335 532l75 15 75 41 74-11 75 20 75 55 75 51 74 39 75 46 75 26 75 31 75 18 74 7 75 15 75 8 75 19 74 15 75 32 75 17 75 27 74 12 75 14 75 9"/><path d="M335 460l75-7 75-2 74 22 75 27 75 86 75 68 74 42 75 60 75 45 75 26 75 17 74 19 75 5 75 19 75 17 74 22 75 25 75 11 75 25 74 16 75 10 75 13"/><path d="M335 489l75-63 75-43 74 90 75 10 75 48 75 62 74 64 75 66 75 51 75 40 75 26 74 15 75 13 75 13 75 23 74 20 75 31 75 18 75 19 74 17 75 16 75 6"/><path d="M335 515l75-53 75 19 74 12 75 20 75 53 75 76 74 46 75 51 75 42 75 39 75 21 74 11 75 18 75 14 75 28 74 7 75 25 75 25 75 26 74 21 75 11 75 6"/><path d="M335 420l75 30 75-7 74 26 75 51 75 40 75 62 74 56 75 58 75 50 75 27 75 30 74 19 75 7 75 18 75 19 74 19 75 22 75 19 75 22 74 16 75 12 75 1"/><path d="M335 466l75-49 75 8 74 15 75 33 75 72 75 57 74 68 75 51 75 57 75 36 75 23 74 17 75 12 75 19 75 23 74 8 75 21 75 29 75 20 74 21 75 10 75 14"/><path d="M335 447l75-13 75-47 74 51 75 35 75 64 75 61 74 58 75 67 75 57 75 34 75 20 74 18 75 8 75 19 75 25 74 20 75 22 75 19 75 22 74 17 75 15 75 7"/><path d="M335 454l75 4 75-25 74 26 75 28 75 33 75 76 74 59 75 56 75 54 75 40 75 25 74 13 75 15 75 20 75 15 74 20 75 24 75 14 75 18 74 17 75 9 75 15"/><path d="M335 369l75 40 75-61 74 43 75 24 75 75 75 73 74 67 75 72 75 46 75 43 75 24 74 17 75 11 75 15 75 13 74 25 75 20 75 17 75 18 74 11 75 9 75 4"/><path d="M335 470l75 8 75 33 74 4 75 39 75 39 75 57 74 47 75 46 75 49 75 31 75 13 74 18 75 19 75 7 75 16 74 28 75 26 75 20 75 23 74 16 75 8 75 8"/><path d="M335 537l75-55 75 56 74 6 75-19 75 67 75 62 74 44 75 55 75 45 75 37 75 17 74 17 75 8 75 19 75 14 74 20 75 23 75 23 75 26 74 26 75 7 75 7"/><path d="M335 471l75 17 75-32 74 26 75 18 75 57 75 58 74 64 75 59 75 42 75 36 75 21 74 18 75 17 75 16 75 17 74 24 75 22 75 25 75 10 74 18 75 15 75 0"/><path d="M335 442l75 3 75-9 74 25 75 45 75 55 75 56 74 64 75 53 75 51 75 33 75 19 74 14 75 8 75 15 75 22 74 21 75 14 75 25 75 20 74 22 75 15 75 13"/><path d="M335 470l75 7 75-1 74 7 75 39 75 43 75 57 74 37 75 71 75 53 75 40 75 23 74 4 75 19 75 17 75 16 74 23 75 24 75 22 75 21 74 15 75 16 75 10"/><path d="M335 467l75 12 75 15 74-10 75 35 75 52 75 52 74 44 75 58 75 52 75 30 75 27 74 16 75 7 75 20 75 20 74 15 75 25 75 21 75 17 74 21 75 13 75 6"/><path d="M335 432l75 15 75-8 74 43 75 14 75 91 75 50 74 65 75 43 75 48 75 33 75 24 74 8 75 24 75 16 75 14 74 22 75 23 75 20 75 24 74 19 75 16 75 1"/><path d="M335 523l75 2 75-13 74 49 75 21 75 45 75 42 74 51 75 57 75 37 75 19 75 19 74 9 75 22 75 7 75 21 74 25 75 27 75 19 75 25 74 13 75 19 75 13"/><path d="M335 584l75-70 75-23 74 42 75 32 75 60 75 52 74 67 75 39 75 31 75 24 75 25 74 10 75 15 75 14 75 18 74 18 75 19 75 27 75 28 74 19 75 10 75 13"/><path d="M335 381l75 7 75 6 74 24 75 44 75 48 75 67 74 76 75 70 75 42 75 38 75 27 74 9 75 12 75 11 75 24 74 22 75 21 75 22 75 21 74 20 75 12 75 14"/><path d="M335 451l75-17 75 1 74 17 75 35 75 38 75 61 74 66 75 56 75 53 75 39 75 21 74 10 75 15 75 12 75 20 74 19 75 15 75 22 75 20 74 13 75 14 75 9"/><path d="M335 435l75-24 75-33 74 59 75 16 75 57 75 72 74 62 75 64 75 50 75 43 75 24 74 15 75 12 75 22 75 21 74 22 75 22 75 20 75 22 74 18 75 18 75 3"/><path d="M335 463l75 46 75 21 74-5 75 20 75 57 75 60 74 62 75 45 75 43 75 24 75 20 74 9 75 12 75 10 75 23 74 23 75 20 75 29 75 11 74 17 75 11 75 14"/><path d="M335 491l75 9 75-24 74 1 75 43 75 66 75 42 74 75 75 46 75 40 75 32 75 22 74 14 75 11 75 11 75 18 74 22 75 27 75 24 75 18 74 21 75 6 75 9"/><path d="M335 544l75-29 75 60 74-10 75 7 75 34 75 41 74 55 75 48 75 56 75 27 75 26 74 12 75 6 75 20 75 20 74 16 75 26 75 21 75 22 74 13 75 13 75 16"/><path d="M335 453l75 0 75 1 74 21 75 14 75 47 75 55 74 67 75 57 75 50 75 50 75 19 74 13 75 15 75 16 75 18 74 20 75 23 75 16 75 24 74 14 75 18 75 8"/><path d="M335 504l75-27 75-11 74 32 75 19 75 42 75 64 74 54 75 48 75 49 75 44 75 20 74 17 75 11 75 13 75 20 74 19 75 29 75 23 75 19 74 16 75 13 75 9"/><path d="M335 513l75-34 75 9 74 15 75 27 75 41 75 45 74 75 75 43 75 53 75 30 75 26 74 13 75 14 75 14 75 20 74 18 75 12 75 20 75 27 74 17 75 14 75 5"/><path d="M335 518l75-66 75-51 74 54 75 26 75 50 75 48 74 74 75 67 75 55 75 35 75 28 74 14 75 10 75 13 75 19 74 18 75 23 75 30 75 19 74 24 75 15 75 13"/><path d="M335 440l75-8 75 23 74 17 75 30 75 43 75 46 74 67 75 62 75 55 75 36 75 16 74 15 75 17 75 15 75 17 74 22 75 21 75 24 75 16 74 18 75 14 75 6"/><path d="M335 491l75 21 75 7 74 8 75 14 75 61 75 48 74 54 75 58 75 40 75 30 75 26 74 8 75 7 75 17 75 14 74 26 75 26 75 21 75 15 74 29 75 15 75 3"/><path d="M335 466l75 25 75-58 74 44 75 34 75 64 75 73 74 52 75 57 75 40 75 34 75 24 74 13 75 10 75 16 75 19 74 20 75 23 75 23 75 23 74 20 75 15 75 9"/><path d="M335 479l75-21 75 20 74 7 75 33 75 55 75 71 74 60 75 56 75 37 75 32 75 25 74 12 75 3 75 22 75 13 74 23 75 27 75 24 75 20 74 20 75 15 75 7"/><path d="M335 479l75-7 75-12 74 32 75 28 75 31 75 62 74 61 75 54 75 60 75 34 75 25 74 17 75 7 75 15 75 16 74 24 75 20 75 17 75 21 74 17 75 14 75 8"/><path d="M335 485l75 5 75 0 74-30 75 44 75 49 75 72 74 63 75 53 75 51 75 35 75 27 74 11 75 10 75 18 75 20 74 15 75 27 75 21 75 15 74 17 75 23 75 5"/><path d="M335 646l75-219 75 17 74 17 75 28 75 49 75 69 74 59 75 61 75 50 75 38 75 24 74 10 75 20 75 15 75 18 74 24 75 19 75 18 75 22 74 16 75 18 75 9"/><path d="M335 427l75-8 75-20 74 35 75 41 75 40 75 61 74 69 75 61 75 56 75 49 75 20 74 16 75 14 75 8 75 19 74 15 75 20 75 22 75 25 74 21 75 12 75 12"/><path d="M335 423l75-13 75 31 74-1 75 49 75 52 75 61 74 66 75 59 75 58 75 35 75 17 74 18 75 16 75 11 75 20 74 23 75 16 75 24 75 14 74 17 75 21 75 2"/><path d="M335 535l75-28 75 17 74-22 75 49 75 41 75 58 74 46 75 53 75 44 75 40 75 22 74 6 75 19 75 12 75 17 74 19 75 28 75 28 75 18 74 11 75 19 75 7"/><path d="M335 547l75 0 75-36 74 34 75 54 75 28 75 55 74 66 75 47 75 29 75 26 75 11 74 21 75 13 75 16 75 12 74 21 75 21 75 16 75 22 74 21 75 13 75 16"/><path d="M335 489l75 20 75-6 74 5 75 29 75 25 75 56 74 69 75 64 75 40 75 31 75 26 74 6 75 12 75 17 75 22 74 21 75 24 75 29 75 20 74 20 75 15 75 9"/><path d="M335 428l75 18 75 13 74-11 75 28 75 55 75 65 74 70 75 56 75 51 75 41 75 20 74 20 75 14 75 14 75 15 74 19 75 15 75 26 75 20 74 17 75 14 75 4"/><path d="M335 382l75 33 75-37 74 53 75 29 75 58 75 57 74 75 75 60 75 50 75 42 75 23 74 14 75 15 75 14 75 22 74 20 75 26 75 21 75 25 74 17 75 13 75 0"/><path d="M335 510l75-19 75-5 74 21 75 31 75 50 75 61 74 51 75 66 75 38 75 20 75 27 74 19 75 9 75 10 75 18 74 25 75 19 75 22 75 29 74 23 75 15 75 10"/><path d="M335 447l75 13 75 7 74-6 75 39 75 54 75 70 74 71 75 46 75 53 75 28 75 25 74 9 75 16 75 14 75 13 74 24 75 21 75 27 75 23 74 15 75 16 75 15"/><path d="M335 476l75 10 75-6 74 5 75 26 75 51 75 62 74 53 75 56 75 55 75 31 75 26 74 11 75 13 75 15 75 21 74 20 75 17 75 20 75 20 74 17 75 16 75 16"/><path d="M335 530l75 10 75 49 74 7 75 11 75 57 75 77 74 30 75 24 75 45 75 25 75 12 74 2 75 10 75 15 75 11 74 26 75 26 75 16 75 28 74 8 75 19 75 12"/><path d="M335 547l75-40 75 29 74-13 75 27 75 45 75 80 74 45 75 53 75 46 75 22 75 19 74 3 75 20 75 13 75 19 74 27 75 17 75 20 75 22 74 16 75 12 75 3"/></g><g stroke-dashoffset="53.1"><path d="M335 445l75-44 75 10 74 28 75 36 75 64 75 52 74 70 75 54 75 59 75 36 75 19 74 15 75 16 75 16 75 16 74 23 75 17 75 15 75 17 74 24 75 4 75 4"/><path d="M335 442l75 32 75-41 74 65 75 26 75 22 75 68 74 56 75 60 75 56 75 36 75 19 74 24 75 8 75 13 75 18 74 21 75 23 75 20 75 24 74 15 75 17 75 4"/><path d="M335 569l75-15 75 19 74 0 75 22 75 44 75 39 74 51 75 41 75 43 75 24 75 18 74 15 75 15 75 16 75 19 74 20 75 20 75 29 75 16 74 22 75 9 75 8"/><path d="M335 496l75-53 75 33 74-4 75 52 75 21 75 99 74 30 75 64 75 61 75 26 75 20 74 18 75 9 75 23 75 13 74 20 75 18 75 24 75 27 74 12 75 20 75 6"/><path d="M335 387l75 38 75 14 74 12 75 37 75 62 75 63 74 43 75 63 75 52 75 36 75 23 74 14 75 14 75 8 75 18 74 24 75 23 75 22 75 22 74 19 75 10 75 1"/><path d="M335 383l75 82 75 72 74-32 75 8 75 67 75 56 74 59 75 43 75 46 75 32 75 28 74 17 75 16 75 15 75 21 74 16 75 19 75 31 75 24 74 18 75 16 75 2"/><path d="M335 439l75-8 75-34 74 68 75 30 75 72 75 60 74 66 75 51 75 37 75 36 75 19 74 19 75 6 75 20 75 13 74 17 75 25 75 28 75 23 74 16 75 11 75 17"/><path d="M335 503l75-58 75 1 74 9 75 38 75 56 75 49 74 66 75 51 75 52 75 39 75 18 74 14 75 20 75 8 75 27 74 15 75 20 75 20 75 22 74 15 75 20 75 2"/><path d="M335 492l75-40 75-38 74 67 75 22 75 46 75 78 74 47 75 63 75 47 75 34 75 22 74 18 75 4 75 17 75 21 74 23 75 20 75 28 75 21 74 13 75 16 75 4"/><path d="M335 606l75-38 75-15 74 5 75 18 75 51 75 59 74 30 75 51 75 45 75 24 75 23 74 10 75 10 75 19 75 20 74 23 75 26 75 21 75 27 74 22 75 6 75 8"/><path d="M335 489l75-5 75-25 74 10 75 39 75 46 75 58 74 52 75 61 75 44 75 44 75 26 74 12 75 14 75 20 75 11 74 18 75 29 75 23 75 21 74 19 75 13 75 8"/><path d="M335 502l75-15 75-2 74 8 75 40 75 52 75 79 74 42 75 45 75 42 75 33 75 19 74 18 75 8 75 20 75 19 74 19 75 24 75 22 75 20 74 19 75 11 75 13"/><path d="M335 459l75-22 75-2 74 10 75 52 75 72 75 64 74 56 75 54 75 55 75 41 75 10 74 18 75 16 75 12 75 16 74 23 75 14 75 29 75 16 74 15 75 13 75 3"/><path d="M335 505l75-54 75-24 74 36 75 16 75 64 75 60 74 56 75 80 75 57 75 39 75 13 74 13 75 12 75 17 75 9 74 21 75 23 75 24 75 20 74 10 75 16 75 13"/><path d="M335 366l75 44 75-12 74 52 75 58 75 26 75 71 74 65 75 57 75 54 75 34 75 24 74 17 75 12 75 15 75 16 74 17 75 26 75 18 75 19 74 21 75 16 75 7"/><path d="M335 527l75-81 75-17 74 32 75 32 75 48 75 61 74 54 75 65 75 46 75 37 75 22 74 17 75 11 75 19 75 18 74 19 75 19 75 25 75 21 74 20 75 8 75 8"/><path d="M335 491l75 4 75 35 74-2 75 14 75 44 75 53 74 46 75 63 75 49 75 34 75 16 74 19 75 14 75 10 75 18 74 16 75 18 75 15 75 26 74 12 75 16 75 3"/><path d="M335 417l75 27 75 1 74-2 75 51 75 42 75 59 74 64 75 61 75 42 75 39 75 28 74 21 75 16 75 14 75 15 74 27 75 18 75 24 75 17 74 17 75 16 75 14"/><path d="M335 493l75-46 75-12 74 30 75 53 75 42 75 75 74 51 75 70 75 36 75 32 75 23 74 9 75 14 75 8 75 22 74 27 75 26 75 23 75 21 74 14 75 10 75 7"/><path d="M335 542l75 7 75-32 74 28 75 38 75 38 75 70 74 49 75 44 75 28 75 31 75 16 74 13 75 14 75 12 75 24 74 24 75 18 75 22 75 26 74 16 75 20 75 2"/><path d="M335 426l75 67 75 0 74 2 75 34 75 51 75 47 74 72 75 41 75 44 75 37 75 26 74 10 75 14 75 15 75 24 74 20 75 23 75 25 75 18 74 18 75 11 75 4"/><path d="M335 469l75-23 75 0 74 25 75 39 75 65 75 72 74 51 75 46 75 42 75 33 75 21 74 5 75 18 75 15 75 6 74 26 75 18 75 22 75 24 74 18 75 11 75 9"/><path d="M335 402l75 25 75-3 74 23 75 32 75 55 75 52 74 71 75 60 75 56 75 38 75 29 74 16 75 9 75 11 75 19 74 19 75 24 75 26 75 22 74 20 75 13 75 9"/><path d="M335 458l75 29 75-3 74 24 75 26 75 22 75 47 74 63 75 51 75 53 75 46 75 20 74 20 75 7 75 15 75 23 74 25 75 23 75 17 75 23 74 20 75 17 75 6"/><path d="M335 455l75-9 75 13 74 19 75 3 75 64 75 76 74 49 75 61 75 53 75 32 75 26 74 7 75 19 75 17 75 16 74 21 75 20 75 21 75 25 74 16 75 7 75 4"/><path d="M335 450l75-18 75-19 74 31 75 34 75 44 75 65 74 66 75 60 75 58 75 45 75 20 74 12 75 15 75 16 75 15 74 21 75 23 75 23 75 17 74 18 75 14 75 11"/><path d="M335 458l75-25 75-12 74 15 75 49 75 56 75 67 74 57 75 58 75 56 75 39 75 17 74 16 75 13 75 8 75 12 74 25 75 18 75 23 75 24 74 13 75 8 75 12"/><path d="M335 440l75 20 75-70 74 55 75 50 75 50 75 52 74 70 75 58 75 46 75 37 75 26 74 23 75 9 75 15 75 18 74 18 75 19 75 25 75 23 74 16 75 12 75 15"/><path d="M335 585l75-88 75 20 74 0 75 4 75 68 75 55 74 50 75 64 75 44 75 30 75 10 74 17 75 13 75 24 75 19 74 19 75 23 75 18 75 16 74 20 75 14 75 8"/><path d="M335 507l75-20 75-19 74 41 75 29 75 32 75 77 74 52 75 62 75 45 75 19 75 27 74 14 75 14 75 13 75 23 74 22 75 17 75 14 75 27 74 11 75 10 75 10"/><path d="M335 404l75 84 75-20 74-1 75 33 75 58 75 54 74 60 75 59 75 56 75 30 75 26 74 9 75 13 75 9 75 21 74 26 75 17 75 22 75 20 74 15 75 12 75 6"/><path d="M335 364l75 68 75-28 74 62 75 48 75 34 75 85 74 44 75 63 75 41 75 41 75 26 74 8 75 12 75 21 75 16 74 21 75 8 75 26 75 16 74 26 75 11 75 10"/><path d="M335 353l75 89 75 10 74 21 75 39 75 31 75 71 74 60 75 53 75 56 75 27 75 21 74 17 75 18 75 15 75 24 74 18 75 19 75 21 75 21 74 22 75 14 75 6"/><path d="M335 463l75 4 75 10 74 6 75 23 75 53 75 72 74 51 75 60 75 53 75 36 75 18 74 2 75 11 75 14 75 19 74 27 75 25 75 18 75 22 74 21 75 6 75 14"/><path d="M335 429l75 16 75-5 74 24 75 24 75 56 75 65 74 63 75 58 75 46 75 38 75 30 74 10 75 16 75 12 75 14 74 22 75 27 75 24 75 22 74 8 75 20 75 9"/><path d="M335 508l75 3 75 3 74 9 75 36 75 46 75 59 74 48 75 50 75 44 75 32 75 18 74 17 75 13 75 5 75 18 74 23 75 25 75 23 75 23 74 22 75 19 75 6"/><path d="M335 465l75-8 75 27 74-20 75 31 75 28 75 56 74 70 75 72 75 51 75 33 75 23 74 16 75 9 75 17 75 25 74 16 75 18 75 27 75 18 74 15 75 17 75 10"/><path d="M335 525l75-24 75 5 74 10 75 24 75 62 75 36 74 54 75 35 75 48 75 41 75 25 74 14 75 17 75 16 75 19 74 19 75 23 75 18 75 20 74 21 75 13 75 18"/><path d="M335 498l75-22 75 19 74-6 75 35 75 41 75 62 74 52 75 69 75 42 75 36 75 18 74 15 75 13 75 20 75 13 74 17 75 23 75 26 75 17 74 20 75 16 75 8"/><path d="M335 435l75 16 75 4 74 8 75 30 75 58 75 65 74 66 75 52 75 46 75 35 75 21 74 15 75 11 75 14 75 24 74 20 75 21 75 29 75 15 74 23 75 11 75 8"/><path d="M335 546l75-57 75-3 74 6 75 25 75 56 75 69 74 59 75 62 75 36 75 24 75 19 74 17 75 8 75 21 75 17 74 13 75 19 75 27 75 22 74 22 75 20 75-3"/><path d="M335 429l75 51 75-16 74 9 75 33 75 54 75 67 74 71 75 40 75 65 75 22 75 24 74 16 75 14 75 17 75 17 74 25 75 19 75 27 75 26 74 15 75 7 75 11"/><path d="M335 458l75-5 75-20 74 15 75 39 75 57 75 66 74 57 75 65 75 55 75 40 75 18 74 20 75 11 75 11 75 18 74 28 75 20 75 21 75 18 74 17 75 19 75 8"/><path d="M335 421l75 15 75 57 74-8 75 16 75 55 75 53 74 62 75 71 75 41 75 31 75 27 74 15 75 13 75 7 75 25 74 13 75 25 75 16 75 17 74 24 75 15 75 6"/><path d="M335 499l75-45 75 23 74-6 75 31 75 56 75 48 74 64 75 58 75 50 75 37 75 21 74 18 75 11 75 15 75 19 74 16 75 25 75 25 75 20 74 12 75 6 75 7"/><path d="M335 426l75 38 75-48 74 46 75 34 75 52 75 68 74 64 75 54 75 46 75 31 75 26 74 17 75 16 75 10 75 17 74 23 75 18 75 24 75 18 74 19 75 21 75 5"/><path d="M335 417l75 19 75-1 74 12 75 34 75 61 75 51 74 67 75 68 75 47 75 40 75 19 74 15 75 10 75 22 75 15 74 22 75 19 75 21 75 25 74 22 75 12 75 0"/><path d="M335 449l75 23 75 5 74-24 75 44 75 59 75 65 74 67 75 62 75 34 75 37 75 25 74 13 75 17 75 17 75 16 74 24 75 20 75 23 75 29 74 18 75 19 75 4"/><path d="M335 525l75-21 75 13 74 14 75 20 75 72 75 51 74 33 75 43 75 41 75 47 75 16 74 10 75 16 75 20 75 19 74 23 75 15 75 19 75 24 74 14 75 18 75 9"/><path d="M335 657l75-167 75 40 74-22 75 33 75 52 75 68 74 26 75 63 75 43 75 38 75 24 74 12 75 8 75 21 75 20 74 20 75 21 75 17 75 21 74 17 75 16 75 11"/><path d="M335 477l75-29 75-11 74 18 75 35 75 68 75 63 74 56 75 58 75 44 75 46 75 19 74 7 75 10 75 12 75 28 74 12 75 25 75 31 75 21 74 26 75 8 75 4"/><path d="M335 493l75 23 75-35 74 18 75 48 75 44 75 62 74 52 75 49 75 46 75 38 75 25 74 5 75 13 75 8 75 19 74 14 75 20 75 18 75 20 74 24 75 14 75 14"/><path d="M335 699l75-200 75-15 74 58 75 3 75 44 75 64 74 52 75 48 75 39 75 39 75 26 74 9 75 13 75 11 75 19 74 14 75 24 75 25 75 17 74 19 75 15 75 0"/><path d="M335 509l75-52 75 3 74-9 75 32 75 65 75 67 74 68 75 49 75 45 75 41 75 20 74 10 75 15 75 10 75 19 74 19 75 26 75 20 75 16 74 15 75 16 75 13"/><path d="M335 501l75 15 75-7 74 14 75 43 75 35 75 54 74 48 75 44 75 46 75 32 75 26 74 8 75 20 75 11 75 17 74 23 75 18 75 22 75 19 74 20 75 22 75 5"/><path d="M335 430l75 42 75-9 74 36 75 40 75 40 75 47 74 51 75 57 75 46 75 44 75 17 74 16 75 14 75 13 75 20 74 17 75 23 75 22 75 18 74 18 75 12 75 1"/><path d="M335 450l75-11 75-47 74 79 75 39 75 46 75 58 74 56 75 57 75 53 75 37 75 28 74 9 75 13 75 16 75 22 74 21 75 21 75 20 75 20 74 19 75 14 75 2"/><path d="M335 480l75-82 75-37 74 61 75 50 75 58 75 57 74 72 75 61 75 45 75 45 75 24 74 13 75 16 75 11 75 16 74 27 75 17 75 18 75 21 74 10 75 12 75 8"/><path d="M335 538l75-55 75-26 74 20 75 11 75 65 75 70 74 51 75 59 75 48 75 42 75 27 74 5 75 11 75 16 75 17 74 17 75 9 75 28 75 22 74 21 75 17 75-1"/><path d="M335 448l75-3 75 21 74-14 75 39 75 52 75 67 74 53 75 59 75 46 75 38 75 29 74 16 75 7 75 13 75 16 74 21 75 28 75 21 75 22 74 14 75 14 75 11"/><path d="M335 492l75-31 75 46 74-6 75 43 75 33 75 62 74 52 75 46 75 48 75 33 75 26 74 11 75 17 75 18 75 20 74 25 75 16 75 27 75 27 74 16 75 3 75 10"/><path d="M335 439l75 7 75 40 74 1 75 50 75 49 75 53 74 82 75 34 75 45 75 36 75 22 74 8 75 17 75 14 75 25 74 16 75 26 75 15 75 26 74 18 75 7 75 3"/><path d="M335 466l75-1 75 44 74-1 75 14 75 35 75 60 74 54 75 63 75 58 75 35 75 25 74 13 75 13 75 15 75 14 74 24 75 24 75 27 75 15 74 24 75 12 75 0"/><path d="M335 433l75 32 75 0 74 16 75 32 75 56 75 91 74 40 75 42 75 63 75 21 75 16 74 9 75 21 75 17 75 14 74 15 75 24 75 17 75 23 74 27 75 8 75 12"/><path d="M335 461l75-26 75 26 74 20 75 36 75 42 75 51 74 67 75 53 75 37 75 48 75 21 74 14 75 13 75 13 75 16 74 26 75 17 75 23 75 19 74 12 75 20 75 7"/><path d="M335 460l75-28 75 41 74-35 75 68 75 49 75 51 74 64 75 52 75 46 75 40 75 25 74 15 75 13 75 16 75 22 74 18 75 25 75 21 75 15 74 20 75 13 75 12"/><path d="M335 481l75-41 75 16 74-27 75 45 75 46 75 71 74 63 75 68 75 57 75 37 75 19 74 10 75 16 75 11 75 13 74 22 75 29 75 19 75 24 74 14 75 14 75 3"/><path d="M335 505l75-6 75-4 74 32 75 19 75 45 75 51 74 53 75 54 75 36 75 34 75 18 74 17 75 15 75 12 75 22 74 19 75 23 75 22 75 21 74 22 75 19 75 0"/><path d="M335 498l75-24 75 11 74 6 75 24 75 39 75 51 74 56 75 65 75 53 75 39 75 18 74 17 75 15 75 12 75 19 74 16 75 21 75 25 75 23 74 13 75 19 75 12"/></g><g stroke-dashoffset="63.8"><path d="M335 389l75 49 75-37 74 59 75 31 75 69 75 60 74 85 75 43 75 40 75 32 75 27 74 12 75 11 75 18 75 19 74 19 75 24 75 19 75 27 74 15 75 11 75 8"/><path d="M335 490l75 1 75 18 74 18 75 32 75 38 75 49 74 63 75 56 75 27 75 34 75 24 74 20 75 10 75 18 75 19 74 22 75 20 75 23 75 15 74 18 75 6 75 10"/><path d="M335 423l75 41 75-49 74 71 75 49 75 40 75 49 74 54 75 53 75 50 75 42 75 27 74 9 75 14 75 14 75 26 74 18 75 18 75 23 75 21 74 17 75 10 75 7"/><path d="M335 578l75-21 75 31 74-11 75 20 75 50 75 54 74 36 75 45 75 40 75 22 75 17 74 7 75 22 75 7 75 13 74 28 75 16 75 16 75 30 74 19 75 20 75 7"/><path d="M335 440l75-11 75 10 74 23 75 20 75 55 75 72 74 60 75 75 75 41 75 37 75 19 74 12 75 12 75 12 75 18 74 28 75 22 75 18 75 25 74 15 75 14 75 11"/><path d="M335 465l75-19 75-4 74 2 75 46 75 47 75 74 74 63 75 56 75 50 75 40 75 26 74 15 75 10 75 24 75 10 74 16 75 19 75 21 75 18 74 20 75 12 75 6"/><path d="M335 416l75 73 75 0 74-4 75 28 75 32 75 66 74 56 75 56 75 60 75 36 75 20 74 10 75 21 75 12 75 25 74 18 75 32 75 21 75 25 74 19 75 11 75 11"/><path d="M335 484l75-15 75-51 74 50 75 37 75 54 75 51 74 63 75 51 75 53 75 42 75 17 74 18 75 11 75 15 75 20 74 15 75 21 75 27 75 14 74 4 75 13 75 10"/><path d="M335 483l75-23 75-34 74 81 75 15 75 34 75 51 74 59 75 68 75 46 75 40 75 19 74 17 75 16 75 13 75 18 74 11 75 26 75 19 75 22 74 17 75 12 75 10"/><path d="M335 441l75-9 75-7 74 14 75 44 75 65 75 60 74 68 75 59 75 61 75 31 75 17 74 15 75 14 75 16 75 15 74 19 75 23 75 25 75 19 74 23 75 12 75 7"/><path d="M335 491l75 11 75-28 74 31 75 31 75 45 75 54 74 69 75 49 75 41 75 28 75 21 74 19 75 16 75 12 75 22 74 20 75 23 75 20 75 23 74 17 75 11 75 11"/><path d="M335 429l75 16 75-1 74 24 75 22 75 70 75 71 74 62 75 44 75 51 75 37 75 23 74 10 75 15 75 14 75 19 74 14 75 19 75 22 75 25 74 17 75 11 75 4"/><path d="M335 403l75 50 75-4 74 7 75 47 75 57 75 84 74 47 75 43 75 46 75 34 75 21 74 24 75 10 75 9 75 22 74 18 75 19 75 27 75 21 74 20 75 13 75 7"/><path d="M335 398l75 17 75-17 74 56 75 40 75 33 75 66 74 63 75 57 75 52 75 38 75 29 74 16 75 10 75 11 75 17 74 20 75 19 75 24 75 17 74 16 75 18 75 9"/><path d="M335 422l75-33 75-32 74 59 75 42 75 37 75 66 74 60 75 69 75 60 75 44 75 27 74 10 75 19 75 12 75 22 74 17 75 23 75 27 75 21 74 13 75 12 75 6"/><path d="M335 466l75-25 75-5 74 20 75 42 75 53 75 67 74 55 75 61 75 46 75 43 75 25 74 10 75 16 75 11 75 15 74 20 75 22 75 24 75 26 74 15 75 10 75 2"/><path d="M335 483l75-57 75-25 74 47 75 27 75 56 75 63 74 72 75 52 75 48 75 40 75 29 74 13 75 14 75 14 75 15 74 20 75 26 75 19 75 20 74 21 75 14 75 7"/><path d="M335 454l75 29 75-17 74 13 75 32 75 79 75 51 74 69 75 48 75 47 75 34 75 16 74 14 75 11 75 20 75 6 74 29 75 24 75 16 75 26 74 20 75 12 75 10"/><path d="M335 542l75-76 75-2 74 19 75 16 75 42 75 68 74 61 75 60 75 48 75 36 75 17 74 18 75 26 75 12 75 11 74 15 75 24 75 30 75 23 74 20 75 12 75 13"/><path d="M335 498l75-16 75 7 74 1 75 4 75 77 75 71 74 60 75 62 75 34 75 31 75 23 74 13 75 9 75 12 75 20 74 20 75 25 75 23 75 24 74 14 75 13 75 15"/><path d="M335 489l75-17 75-49 74 81 75 45 75 59 75 56 74 50 75 56 75 37 75 26 75 14 74 18 75 15 75 15 75 14 74 24 75 22 75 19 75 23 74 15 75 11 75 5"/><path d="M335 434l75 71 75-2 74 5 75 10 75 42 75 59 74 70 75 43 75 42 75 39 75 23 74 13 75 12 75 16 75 11 74 27 75 22 75 21 75 21 74 19 75 11 75 5"/><path d="M335 541l75-31 75 22 74-8 75 0 75 54 75 57 74 43 75 66 75 33 75 39 75 27 74 15 75 17 75 9 75 25 74 16 75 29 75 18 75 24 74 22 75 11 75 8"/><path d="M335 488l75-2 75 10 74-15 75 28 75 74 75 68 74 49 75 51 75 37 75 44 75 19 74 16 75 5 75 16 75 13 74 21 75 24 75 33 75 15 74 16 75 18 75 4"/><path d="M335 462l75-22 75-30 74 62 75 12 75 76 75 58 74 61 75 60 75 51 75 37 75 19 74 18 75 7 75 20 75 17 74 24 75 17 75 24 75 23 74 12 75 21 75 11"/><path d="M335 461l75-30 75-5 74 62 75 45 75 35 75 58 74 58 75 60 75 56 75 30 75 24 74 4 75 15 75 18 75 18 74 16 75 28 75 21 75 22 74 19 75 16 75-2"/><path d="M335 525l75-9 75-22 74 39 75-1 75 42 75 71 74 58 75 45 75 48 75 36 75 20 74 8 75 13 75 13 75 15 74 19 75 23 75 21 75 20 74 14 75 17 75 12"/><path d="M335 442l75 6 75 27 74 15 75 43 75 43 75 49 74 60 75 62 75 42 75 36 75 22 74 15 75 13 75 13 75 21 74 23 75 22 75 24 75 21 74 13 75 16 75 12"/><path d="M335 546l75 22 75 28 74 7 75 26 75 49 75 52 74 26 75 44 75 33 75 18 75 16 74 12 75 6 75 12 75 20 74 25 75 26 75 17 75 23 74 19 75 14 75 3"/><path d="M335 413l75 29 75 9 74 10 75 56 75 27 75 64 74 67 75 51 75 51 75 37 75 31 74 13 75 12 75 15 75 10 74 22 75 30 75 21 75 15 74 17 75 16 75 8"/><path d="M335 452l75-6 75-22 74 21 75 39 75 42 75 58 74 58 75 70 75 56 75 37 75 22 74 19 75 16 75 16 75 17 74 17 75 25 75 18 75 24 74 14 75 19 75 14"/><path d="M335 442l75-4 75 2 74 30 75 40 75 49 75 63 74 50 75 64 75 51 75 36 75 16 74 13 75 12 75 15 75 19 74 19 75 23 75 25 75 23 74 18 75 7 75 8"/><path d="M335 436l75 9 75-43 74 61 75 13 75 58 75 72 74 57 75 63 75 50 75 37 75 23 74 16 75 17 75 16 75 26 74 21 75 20 75 24 75 17 74 19 75 14 75 8"/><path d="M335 439l75-5 75 19 74 3 75 32 75 52 75 70 74 60 75 49 75 58 75 34 75 24 74 20 75 13 75 19 75 15 74 24 75 14 75 25 75 19 74 19 75 12 75 5"/><path d="M335 413l75 36 75 23 74 5 75 52 75 21 75 64 74 47 75 64 75 53 75 40 75 23 74 13 75 10 75 12 75 25 74 21 75 22 75 21 75 20 74 19 75 25 75 7"/><path d="M335 464l75 5 75 26 74-13 75 33 75 59 75 43 74 70 75 53 75 56 75 30 75 23 74 14 75 16 75 9 75 18 74 21 75 21 75 24 75 15 74 21 75 7 75 15"/><path d="M335 498l75-84 75-5 74 40 75 17 75 63 75 58 74 67 75 71 75 56 75 37 75 19 74 18 75 13 75 16 75 21 74 25 75 18 75 20 75 18 74 22 75 22 75 6"/><path d="M335 568l75-112 75 57 74-11 75 42 75 28 75 42 74 63 75 55 75 61 75 27 75 14 74 15 75 20 75 9 75 21 74 28 75 23 75 18 75 22 74 18 75 15 75 13"/><path d="M335 512l75-7 75-16 74 57 75 12 75 62 75 40 74 59 75 38 75 37 75 36 75 27 74 9 75 16 75 16 75 27 74 18 75 28 75 24 75 16 74 15 75 14 75 14"/><path d="M335 460l75-22 75 2 74 21 75 35 75 53 75 55 74 65 75 66 75 51 75 39 75 22 74 10 75 8 75 15 75 19 74 24 75 16 75 16 75 17 74 19 75 14 75 9"/><path d="M335 477l75-52 75-13 74 43 75 41 75 42 75 61 74 61 75 55 75 58 75 42 75 25 74 15 75 14 75 15 75 19 74 19 75 26 75 27 75 13 74 17 75 17 75 12"/><path d="M335 480l75-23 75 67 74-35 75 17 75 77 75 73 74 60 75 45 75 41 75 29 75 18 74 14 75 8 75 13 75 25 74 25 75 20 75 25 75 19 74 19 75 8 75 19"/><path d="M335 473l75 14 75-23 74 21 75 20 75 44 75 62 74 66 75 72 75 43 75 30 75 29 74 10 75 17 75 15 75 20 74 20 75 20 75 31 75 13 74 14 75 13 75 14"/><path d="M335 405l75 9 75 1 74 37 75 35 75 51 75 63 74 52 75 64 75 49 75 38 75 24 74 10 75 16 75 12 75 17 74 18 75 21 75 22 75 20 74 13 75 14 75 12"/><path d="M335 425l75-22 75-59 74 89 75 29 75 46 75 70 74 64 75 69 75 48 75 39 75 23 74 14 75 8 75 21 75 18 74 16 75 25 75 22 75 28 74 16 75 17 75 6"/><path d="M335 493l75 7 75-38 74 24 75 28 75 48 75 73 74 44 75 70 75 47 75 28 75 28 74 16 75 13 75 13 75 26 74 25 75 19 75 16 75 20 74 12 75 12 75 14"/><path d="M335 460l75-26 75 5 74 1 75 53 75 53 75 46 74 62 75 61 75 49 75 40 75 24 74 15 75 13 75 14 75 18 74 19 75 20 75 21 75 16 74 16 75 12 75 11"/><path d="M335 441l75-21 75 6 74 15 75 33 75 56 75 53 74 76 75 63 75 47 75 38 75 21 74 17 75 16 75 13 75 14 74 23 75 16 75 20 75 28 74 22 75 15 75 4"/><path d="M335 516l75-26 75 2 74 44 75 61 75 51 75 64 74 42 75 32 75 29 75 34 75 18 74 2 75 13 75 20 75 14 74 21 75 30 75 22 75 22 74 14 75 5 75 11"/><path d="M335 453l75 2 75 13 74 39 75 35 75 61 75 48 74 58 75 44 75 43 75 32 75 33 74 8 75 15 75 8 75 15 74 31 75 19 75 19 75 19 74 18 75 16 75 6"/><path d="M335 461l75 29 75-11 74 32 75 8 75 37 75 74 74 53 75 54 75 46 75 40 75 24 74 13 75 3 75 19 75 19 74 21 75 28 75 31 75 13 74 10 75 13 75 11"/><path d="M335 466l75-7 75-3 74 46 75 19 75 49 75 48 74 73 75 61 75 40 75 30 75 19 74 15 75 14 75 16 75 16 74 18 75 27 75 17 75 20 74 22 75 10 75 9"/><path d="M335 428l75 25 75 7 74 31 75 28 75 61 75 62 74 55 75 56 75 40 75 29 75 22 74 16 75 9 75 10 75 15 74 25 75 23 75 24 75 21 74 24 75 14 75 5"/><path d="M335 411l75 30 75 10 74 17 75 50 75 57 75 73 74 57 75 52 75 40 75 38 75 20 74 13 75 11 75 12 75 13 74 25 75 22 75 25 75 21 74 20 75 12 75 7"/><path d="M335 450l75-22 75-10 74 29 75 29 75 56 75 61 74 82 75 44 75 51 75 35 75 25 74 14 75 13 75 15 75 28 74 18 75 27 75 18 75 19 74 20 75 19 75 5"/><path d="M335 426l75-2 75 3 74-13 75 50 75 45 75 78 74 63 75 58 75 57 75 42 75 21 74 15 75 12 75 9 75 26 74 26 75 24 75 22 75 20 74 15 75 26 75 1"/><path d="M335 484l75-36 75 42 74-20 75 26 75 53 75 78 74 49 75 60 75 49 75 36 75 19 74 20 75 15 75 4 75 30 74 17 75 15 75 30 75 22 74 19 75 5 75 6"/><path d="M335 705l75-200 75 9 74-6 75 58 75 44 75 30 74 61 75 46 75 46 75 36 75 14 74 20 75 15 75 13 75 13 74 17 75 24 75 27 75 20 74 15 75 10 75 14"/><path d="M335 472l75 30 75-42 74 57 75 40 75 66 75 50 74 67 75 32 75 40 75 35 75 21 74 9 75 5 75 12 75 19 74 25 75 24 75 24 75 24 74 14 75 17 75 4"/><path d="M335 469l75-38 75 14 74 25 75 24 75 47 75 71 74 60 75 66 75 45 75 40 75 18 74 14 75 7 75 16 75 19 74 19 75 23 75 33 75 20 74 22 75 7 75 5"/><path d="M335 472l75 0 75 11 74 10 75 29 75 60 75 65 74 74 75 45 75 44 75 15 75 28 74 9 75 22 75 8 75 17 74 23 75 24 75 26 75 17 74 20 75 20 75 3"/><path d="M335 445l75 20 75 39 74 15 75 16 75 43 75 54 74 54 75 44 75 43 75 44 75 23 74 13 75 10 75 21 75 21 74 24 75 23 75 21 75 22 74 19 75 15 75 9"/><path d="M335 412l75 18 75 23 74 7 75 42 75 65 75 47 74 55 75 68 75 43 75 39 75 23 74 13 75 11 75 12 75 24 74 16 75 19 75 25 75 18 74 15 75 18 75 11"/><path d="M335 349l75 18 75 12 74 22 75 49 75 59 75 60 74 71 75 63 75 50 75 46 75 25 74 15 75 8 75 11 75 20 74 15 75 23 75 16 75 24 74 21 75 15 75 10"/><path d="M335 599l75-137 75-21 74 16 75 40 75 54 75 63 74 58 75 60 75 50 75 43 75 18 74 17 75 13 75 14 75 20 74 21 75 21 75 24 75 20 74 21 75 13 75 4"/><path d="M335 428l75-1 75-35 74 36 75 28 75 30 75 82 74 71 75 69 75 61 75 44 75 21 74 18 75 11 75 14 75 18 74 24 75 22 75 21 75 21 74 15 75 17 75 4"/><path d="M335 393l75 8 75-2 74 36 75 36 75 68 75 42 74 67 75 66 75 49 75 43 75 24 74 17 75 15 75 17 75 17 74 26 75 16 75 26 75 16 74 16 75 11 75 7"/><path d="M335 538l75-107 75 16 74 0 75 29 75 64 75 67 74 70 75 51 75 49 75 33 75 23 74 14 75 9 75 15 75 7 74 26 75 24 75 14 75 21 74 15 75 9 75 13"/></g><g stroke-dashoffset="74.4"><path d="M335 336l75 41 75-38 74 81 75 41 75 54 75 59 74 71 75 62 75 61 75 35 75 21 74 14 75 13 75 14 75 17 74 22 75 22 75 25 75 27 74 13 75 14 75 10"/><path d="M335 436l75 29 75 15 74 4 75 42 75 41 75 72 74 47 75 54 75 47 75 37 75 21 74 13 75 17 75 13 75 19 74 21 75 31 75 18 75 22 74 8 75 8 75 12"/><path d="M335 531l75-44 75 25 74 0 75 34 75 50 75 74 74 64 75 35 75 52 75 24 75 9 74 16 75 16 75 19 75 18 74 22 75 19 75 23 75 10 74 22 75 13 75 8"/><path d="M335 412l75 34 75-18 74 42 75 45 75 43 75 48 74 68 75 55 75 50 75 39 75 23 74 7 75 16 75 17 75 19 74 24 75 16 75 25 75 18 74 23 75 17 75 6"/><path d="M335 371l75 77 75-6 74 25 75 38 75 54 75 49 74 66 75 60 75 56 75 36 75 19 74 15 75 8 75 16 75 16 74 27 75 12 75 24 75 16 74 14 75 14 75 9"/><path d="M335 603l75-94 75-1 74 14 75 35 75 33 75 68 74 47 75 47 75 43 75 35 75 22 74 12 75 13 75 20 75 18 74 17 75 25 75 19 75 22 74 14 75 18 75 5"/><path d="M335 418l75 17 75-43 74 55 75 25 75 54 75 53 74 74 75 65 75 56 75 41 75 25 74 18 75 9 75 14 75 23 74 18 75 26 75 25 75 18 74 16 75 17 75 3"/><path d="M335 529l75-114 75 50 74-12 75 45 75 43 75 64 74 53 75 62 75 49 75 40 75 24 74 14 75 11 75 14 75 21 74 18 75 27 75 24 75 19 74 24 75 6 75 13"/><path d="M335 488l75-6 75 1 74 31 75 29 75 60 75 56 74 46 75 46 75 57 75 27 75 21 74 16 75 17 75 12 75 16 74 27 75 17 75 21 75 15 74 16 75 10 75 5"/><path d="M335 443l75-2 75 1 74 24 75 24 75 64 75 61 74 57 75 59 75 53 75 39 75 24 74 20 75 5 75 21 75 20 74 18 75 28 75 22 75 22 74 18 75 10 75 4"/><path d="M335 396l75 36 75-11 74 21 75 35 75 42 75 63 74 68 75 72 75 45 75 48 75 25 74 13 75 16 75 17 75 12 74 25 75 23 75 20 75 18 74 14 75 22 75-2"/><path d="M335 481l75-56 75-30 74 26 75 31 75 68 75 58 74 63 75 61 75 50 75 44 75 24 74 15 75 14 75 14 75 21 74 25 75 24 75 24 75 18 74 17 75 14 75 14"/><path d="M335 441l75 1 75-33 74 57 75 2 75 73 75 57 74 62 75 62 75 61 75 40 75 17 74 14 75 10 75 13 75 26 74 13 75 24 75 23 75 22 74 12 75 10 75 12"/><path d="M335 548l75-15 75-10 74 13 75 21 75 47 75 53 74 44 75 70 75 30 75 29 75 21 74 13 75 16 75 12 75 17 74 27 75 17 75 20 75 24 74 20 75 11 75 11"/><path d="M335 474l75-33 75 7 74 29 75 27 75 44 75 70 74 60 75 52 75 44 75 42 75 29 74 8 75 14 75 16 75 17 74 23 75 19 75 22 75 20 74 21 75 10 75 10"/><path d="M335 508l75-45 75-18 74 50 75 0 75 31 75 74 74 70 75 61 75 48 75 40 75 21 74 15 75 9 75 13 75 22 74 19 75 34 75 14 75 20 74 26 75 10 75 7"/><path d="M335 374l75 33 75 10 74 19 75 36 75 61 75 56 74 69 75 67 75 52 75 40 75 12 74 12 75 16 75 18 75 15 74 26 75 21 75 28 75 11 74 17 75 17 75 9"/><path d="M335 489l75-38 75 13 74 6 75 56 75 43 75 64 74 55 75 54 75 46 75 33 75 28 74 16 75 11 75 18 75 18 74 24 75 9 75 23 75 24 74 20 75 10 75 9"/><path d="M335 489l75-34 75 19 74 12 75 37 75 47 75 58 74 58 75 48 75 54 75 42 75 26 74 13 75 10 75 21 75 25 74 22 75 19 75 13 75 23 74 17 75 12 75 7"/><path d="M335 485l75-43 75-18 74 19 75 42 75 56 75 54 74 66 75 60 75 49 75 46 75 26 74 14 75 7 75 24 75 18 74 17 75 26 75 26 75 24 74 19 75 11 75 7"/><path d="M335 459l75-1 75-20 74 54 75 13 75 51 75 72 74 60 75 49 75 43 75 39 75 24 74 14 75 17 75 11 75 20 74 23 75 23 75 23 75 18 74 18 75 6 75 12"/><path d="M335 448l75 17 75 5 74 0 75 42 75 67 75 53 74 54 75 45 75 49 75 43 75 19 74 12 75 9 75 21 75 18 74 22 75 25 75 26 75 12 74 16 75 8 75 13"/><path d="M335 565l75 3 75-20 74 3 75 0 75 55 75 56 74 48 75 52 75 42 75 40 75 23 74 8 75 9 75 13 75 17 74 22 75 30 75 26 75 23 74 19 75 14 75 9"/><path d="M335 469l75-30 75-28 74 84 75 9 75 49 75 58 74 59 75 61 75 62 75 23 75 24 74 12 75 11 75 14 75 29 74 18 75 20 75 22 75 22 74 16 75 13 75 12"/><path d="M335 432l75 53 75-28 74 15 75 31 75 52 75 49 74 63 75 62 75 48 75 33 75 29 74 11 75 12 75 14 75 11 74 20 75 28 75 22 75 23 74 12 75 14 75 10"/><path d="M335 478l75-40 75 31 74-15 75 68 75 43 75 62 74 53 75 51 75 49 75 34 75 22 74 17 75 14 75 9 75 21 74 20 75 20 75 20 75 23 74 12 75 11 75-3"/><path d="M335 476l75-35 75-13 74 22 75 30 75 31 75 73 74 73 75 65 75 53 75 38 75 25 74 18 75 8 75 13 75 22 74 20 75 26 75 24 75 11 74 21 75 13 75 9"/><path d="M335 459l75-12 75-8 74 24 75 42 75 53 75 56 74 46 75 65 75 42 75 42 75 22 74 12 75 13 75 17 75 21 74 19 75 25 75 23 75 21 74 15 75 15 75 16"/><path d="M335 603l75-158 75 38 74-9 75 43 75 46 75 72 74 57 75 36 75 48 75 39 75 20 74 14 75 15 75 13 75 19 74 19 75 23 75 10 75 24 74 16 75 10 75 3"/><path d="M335 448l75-28 75 16 74 15 75 28 75 68 75 60 74 69 75 53 75 52 75 41 75 16 74 15 75 21 75 12 75 15 74 21 75 25 75 17 75 22 74 12 75 12 75 7"/><path d="M335 469l75 14 75 17 74 14 75 36 75 53 75 69 74 51 75 37 75 34 75 35 75 27 74 18 75 5 75 14 75 19 74 19 75 23 75 18 75 18 74 20 75 13 75 13"/><path d="M335 539l75-70 75 23 74-16 75 36 75 44 75 58 74 72 75 55 75 49 75 40 75 21 74 13 75 11 75 17 75 15 74 23 75 20 75 29 75 22 74 10 75 19 75 11"/><path d="M335 525l75-62 75 18 74 13 75 39 75 41 75 65 74 43 75 53 75 41 75 38 75 27 74 11 75 9 75 12 75 14 74 30 75 12 75 35 75 20 74 14 75 13 75 6"/><path d="M335 548l75-113 75 6 74 10 75 35 75 53 75 66 74 64 75 59 75 52 75 37 75 23 74 15 75 8 75 13 75 21 74 22 75 23 75 16 75 21 74 13 75 12 75 10"/><path d="M335 496l75-60 75 43 74-7 75 46 75 59 75 60 74 63 75 55 75 42 75 29 75 22 74 10 75 13 75 9 75 20 74 15 75 22 75 23 75 19 74 13 75 9 75 9"/><path d="M335 495l75-45 75-22 74 35 75 35 75 61 75 50 74 55 75 68 75 51 75 35 75 22 74 11 75 13 75 14 75 20 74 20 75 25 75 26 75 21 74 8 75 16 75 11"/><path d="M335 509l75-65 75-30 74 19 75 50 75 70 75 76 74 86 75 57 75 38 75 18 75 13 74 11 75 9 75 19 75 15 74 23 75 21 75 23 75 18 74 17 75 15 75 8"/><path d="M335 354l75 74 75-22 74 13 75 53 75 58 75 69 74 90 75 81 75 58 75 26 75 2 74 0 75 11 75 19 75 16 74 24 75 20 75 13 75 27 74 20 75 12 75 11"/><path d="M335 445l75-5 75 11 74 5 75 33 75 68 75 44 74 60 75 61 75 47 75 40 75 22 74 12 75 14 75 11 75 19 74 19 75 22 75 23 75 19 74 17 75 17 75 17"/><path d="M335 473l75-34 75 56 74-26 75 23 75 58 75 62 74 53 75 65 75 48 75 38 75 17 74 22 75 6 75 17 75 20 74 18 75 26 75 21 75 22 74 22 75 13 75 3"/><path d="M335 460l75-18 75-24 74 39 75 36 75 57 75 64 74 69 75 55 75 59 75 30 75 16 74 19 75 19 75 14 75 19 74 22 75 23 75 15 75 21 74 18 75 12 75 11"/><path d="M335 548l75-54 75 24 74 6 75 25 75 40 75 47 74 56 75 43 75 57 75 38 75 25 74 20 75 14 75 13 75 19 74 24 75 19 75 22 75 20 74 18 75 18 75 5"/><path d="M335 442l75-9 75-5 74 33 75 30 75 47 75 56 74 74 75 52 75 51 75 36 75 31 74 17 75 5 75 17 75 17 74 26 75 23 75 24 75 12 74 21 75 13 75 9"/><path d="M335 505l75-45 75 10 74 14 75 26 75 72 75 38 74 57 75 54 75 45 75 46 75 17 74 17 75 11 75 17 75 3 74 22 75 21 75 20 75 24 74 20 75 19 75 4"/><path d="M335 460l75-25 75 15 74 15 75 19 75 86 75 43 74 66 75 60 75 42 75 35 75 21 74 12 75 18 75 7 75 24 74 20 75 23 75 23 75 13 74 17 75 15 75 10"/><path d="M335 426l75 3 75-4 74 41 75 36 75 58 75 54 74 45 75 67 75 49 75 40 75 18 74 14 75 10 75 15 75 25 74 20 75 25 75 20 75 23 74 14 75 21 75 7"/><path d="M335 435l75-14 75 6 74 27 75 41 75 43 75 67 74 57 75 58 75 55 75 37 75 24 74 11 75 15 75 10 75 25 74 9 75 21 75 29 75 19 74 19 75 12 75 10"/><path d="M335 487l75 15 75 7 74 0 75 31 75 42 75 44 74 60 75 66 75 30 75 39 75 22 74 14 75 14 75 14 75 13 74 24 75 23 75 25 75 19 74 13 75 17 75 8"/><path d="M335 487l75-42 75-4 74 47 75 6 75 49 75 59 74 72 75 53 75 63 75 41 75 25 74 6 75 7 75 17 75 20 74 16 75 26 75 16 75 26 74 26 75 18 75 3"/><path d="M335 447l75 24 75-32 74 62 75 48 75 58 75 66 74 46 75 52 75 36 75 31 75 19 74 8 75 16 75 12 75 24 74 23 75 21 75 16 75 23 74 14 75 14 75 2"/><path d="M335 385l75 72 75-26 74 32 75 24 75 67 75 58 74 58 75 61 75 43 75 50 75 20 74 20 75 16 75 17 75 15 74 17 75 26 75 14 75 25 74 17 75 16 75 10"/><path d="M335 478l75 46 75 38 74-44 75 32 75 33 75 61 74 68 75 40 75 48 75 30 75 19 74 10 75 20 75 10 75 23 74 20 75 19 75 34 75 23 74 12 75 14 75 10"/><path d="M335 346l75 79 75-7 74 20 75 37 75 60 75 65 74 73 75 58 75 47 75 43 75 17 74 13 75 15 75 14 75 19 74 20 75 23 75 23 75 17 74 18 75 15 75 8"/><path d="M335 518l75-14 75-56 74 83 75 16 75 31 75 39 74 78 75 56 75 38 75 28 75 17 74 25 75 10 75 15 75 22 74 19 75 26 75 25 75 24 74 15 75 17 75 10"/><path d="M335 366l75 16 75-3 74 29 75 37 75 55 75 64 74 68 75 67 75 49 75 49 75 23 74 14 75 13 75 17 75 19 74 15 75 15 75 28 75 16 74 14 75 15 75 10"/><path d="M335 503l75-54 75 37 74-13 75 26 75 36 75 66 74 57 75 63 75 56 75 39 75 20 74 10 75 12 75 21 75 21 74 15 75 24 75 22 75 19 74 15 75 19 75 14"/><path d="M335 454l75 13 75-35 74 75 75 25 75 44 75 71 74 54 75 56 75 54 75 27 75 17 74 10 75 21 75 17 75 8 74 21 75 24 75 26 75 11 74 22 75 14 75 11"/><path d="M335 474l75 10 75 4 74-16 75 30 75 64 75 66 74 52 75 65 75 48 75 30 75 26 74 17 75 9 75 10 75 13 74 22 75 29 75 17 75 20 74 18 75 18 75 3"/><path d="M335 405l75 10 75-43 74 39 75 56 75 55 75 62 74 67 75 67 75 51 75 38 75 35 74 11 75 15 75 16 75 12 74 21 75 20 75 19 75 23 74 20 75 12 75 3"/><path d="M335 459l75-10 75 38 74-27 75 39 75 52 75 54 74 73 75 51 75 49 75 38 75 21 74 14 75 16 75 12 75 14 74 17 75 24 75 24 75 17 74 21 75 19 75 10"/><path d="M335 649l75-233 75-21 74 34 75 29 75 53 75 64 74 73 75 64 75 62 75 33 75 23 74 12 75 13 75 20 75 16 74 18 75 21 75 15 75 27 74 10 75 8 75 9"/><path d="M335 509l75-63 75-4 74 48 75 32 75 43 75 70 74 72 75 48 75 36 75 36 75 14 74 14 75 10 75 15 75 18 74 22 75 17 75 24 75 20 74 17 75 18 75 11"/><path d="M335 501l75-5 75-5 74 26 75 41 75 69 75 47 74 58 75 52 75 36 75 23 75 27 74 6 75 19 75 4 75 17 74 27 75 20 75 23 75 20 74 16 75 14 75 4"/><path d="M335 487l75 3 75-24 74 35 75 10 75 45 75 49 74 66 75 54 75 45 75 40 75 21 74 22 75 11 75 14 75 22 74 21 75 19 75 24 75 17 74 19 75 17 75 10"/><path d="M335 431l75 88 75 20 74 2 75 32 75 40 75 56 74 46 75 44 75 50 75 29 75 19 74 16 75 16 75 13 75 25 74 16 75 23 75 25 75 17 74 24 75 15 75 8"/><path d="M335 459l75-20 75-12 74 48 75 20 75 60 75 73 74 77 75 30 75 37 75 41 75 30 74 11 75 15 75 11 75 22 74 20 75 20 75 26 75 22 74 16 75 16 75 1"/><path d="M335 529l75-44 75 3 74-5 75 43 75 36 75 56 74 70 75 53 75 64 75 22 75 17 74 23 75 13 75 19 75 13 74 24 75 16 75 24 75 24 74 14 75 16 75 2"/><path d="M335 497l75-75 75 18 74 7 75 45 75 79 75 45 74 58 75 60 75 60 75 31 75 25 74 11 75 8 75 16 75 23 74 22 75 22 75 17 75 19 74 28 75 14 75 6"/></g></g><g stroke-opacity="0.28"><path d="M335 528l75-192 75 11 74 46 75 40 75 65 75 68 74 64 75 55 75 52 75 44 75 18 74-13 75 19 75 14 75 5 74 14 75-30 75 9 75-9 74 51 75-32 75-22"/><path d="M335 293l75 92 75-16 74 44 75 58 75 63 75 62 74 65 75 69 75 20 75 28 75 3 74-8 75 0 75 34 75-26 74-44 75-3 75 14 75-108 74 117 75-88 75-109"/><path d="M335 300l75 38 75-33 74 78 75 63 75 48 75 44 74 29 75 22 75 17 75 6 75-16 74-4 75-30 75-52 75-270 74-128 75-184 75-194 75-80 74-132 75-236 75-268"/><path d="M335 327l75 9 75-39 74 60 75 51 75 25 75 80 74 53 75 38 75 25 75-7 75-22 74-28 75-76 75-193 75 55 74-16 75 105 75 137 75-146 74-202 75-100 75-198"/><path d="M335 488l75-3 75 29 74 6 75 30 75 49 75 66 74 24 75 58 75-24 75-10 75-28 74 4 75-35 75-177 75-17 74-46 75 27 75-222 75-42 74-110 75 8 75-32"/><path d="M335 339l75-53 75 6 74 64 75 51 75 70 75 58 74 74 75 44 75 66 75 51 75-43 74-46 75-56 75-31 75-215 74 75 75-36 75 153 75-209 74-242 75-66 75-329"/><path d="M335 285l75 47 75-38 74 92 75 41 75 71 75 59 74 72 75 53 75 26 75-13 75 8 74-64 75 16 75-85 75-66 74-104 75-150 75-521 75-31 74-362 75-529 75-150"/><path d="M335 229l75 33 75-55 74 123 75 61 75 65 75 70 74 76 75 48 75 11 75 29 75-48 74-26 75-15 75-24 75-16 74-88 75 10 75-241 75 243 74-337 75 201 75-90"/><path d="M335 291l75 14 75-15 74 65 75 82 75 33 75 15 74 46 75 85 75 45 75 16 75-44 74-27 75-96 75 0 75-3 74-109 75 55 75-197 75-23 74-3 75-277 75-139"/><path d="M335 418l75-44 75-15 74 53 75 38 75 65 75 61 74 38 75 42 75 25 75 41 75 30 74-36 75-74 75-105 75-122 74-12 75-287 75-9 75-71 74-75 75-162 75 313"/><path d="M335 313l75 33 75-9 74 68 75 32 75 60 75 55 74 66 75 59 75 49 75 57 75 1 74 0 75-5 75 22 75-54 74-36 75 20 75 2 75-12 74-168 75-309 75 38"/><path d="M335 387l75 11 75 5 74 54 75 27 75 60 75 65 74 60 75 46 75 41 75 35 75-61 74-43 75-43 75-39 75-26 74-258 75-73 75-89 75 2 74 66 75-238 75-245"/><path d="M335 342l75-16 75-17 74 71 75 35 75 64 75 76 74 48 75 67 75 59 75 47 75-51 74 52 75-19 75 24 75-111 74 27 75 15 75-29 75 142 74-19 75-77 75-209"/><path d="M335 339l75 54 75-16 74 68 75 31 75 27 75 75 74 57 75 62 75 55 75 35 75 11 74-49 75 4 75-29 75-1 74-28 75 58 75-164 75 159 74-150 75 77 75-134"/><path d="M335 386l75-6 75 9 74 57 75 46 75 40 75 46 74 58 75 32 75 7 75 35 75-59 74-45 75-12 75 12 75-190 74 8 75 12 75-274 75 53 74 69 75-20 75-497"/><path d="M335 331l75 29 75 11 74 38 75 54 75 50 75 81 74 41 75 39 75 47 75 6 75 5 74-28 75-77 75 45 75-106 74 23 75 17 75-53 75-26 74 8 75-58 75-11"/><path d="M335 327l75 54 75 32 74 10 75 47 75 36 75 58 74 74 75 48 75 43 75 36 75-11 74-14 75 61 75 24 75-28 74-24 75 17 75 23 75-53 74 59 75-12 75-62"/><path d="M335 324l75-25 75-18 74 37 75 63 75 62 75 72 74 70 75 67 75 59 75 32 75 7 74-106 75 86 75 51 75-42 74 49 75-125 75-4 75-208 74 234 75-148 75-181"/><path d="M335 371l75-73 75 0 74 56 75 64 75 62 75 56 74 69 75 41 75 47 75 13 75-19 74-62 75-14 75 32 75-90 74 55 75-32 75 33 75-97 74 3 75-78 75-178"/><path d="M335 389l75-33 75-24 74 44 75 59 75 53 75 83 74 66 75 56 75 5 75 46 75-59 74-64 75-107 75-44 75-84 74-65 75-156 75-358 75-109 74 51 75 175 75 424"/><path d="M335 360l75 4 75-16 74 63 75 39 75 63 75 71 74 49 75 62 75 43 75 37 75 6 74-3 75-6 75 55 75-52 74 16 75-179 75 74 75-64 74-233 75 221 75-98"/><path d="M335 464l75-13 75 27 74 26 75 34 75 51 75 43 74 53 75 38 75 51 75 18 75 8 74-5 75-17 75-9 75-27 74-44 75 53 75-38 75-23 74 4 75 6 75 25"/><path d="M335 318l75 52 75-44 74 84 75 47 75 38 75 43 74 19 75 80 75 33 75-56 75 57 74-6 75-98 75 99 75-44 74 12 75-272 75 52 75-213 74-11 75-188 75 220"/><path d="M335 426l75-30 75 45 74 5 75 34 75 53 75 73 74-20 75-2 75 65 75 5 75-65 74-44 75 20 75-89 75-2 74 52 75-77 75-62 75-146 74 69 75 96 75-3"/><path d="M335 415l75-82 75 13 74 18 75 57 75 34 75 82 74 52 75 45 75-28 75 20 75-76 74 30 75-38 75-12 75-53 74-87 75-34 75-109 75-169 74 180 75-65 75-398"/><path d="M335 367l75-15 75 25 74 64 75 30 75 55 75 54 74 66 75 71 75 51 75 35 75 15 74-8 75 23 75 16 75 13 74 8 75-1 75-2 75 11 74 0 75 6 75-10"/><path d="M335 380l75 2 75-17 74 41 75 57 75 57 75 64 74 37 75 61 75 45 75 58 75-4 74 23 75-35 75 17 75-39 74-14 75-65 75 2 75-194 74-227 75 122 75-102"/><path d="M335 261l75 81 75-23 74 87 75 42 75 61 75 59 74 39 75 51 75 8 75 10 75 38 74-86 75-100 75-53 75 35 74-82 75-178 75 18 75 243 74-35 75-99 75 84"/><path d="M335 301l75 12 75-14 74 42 75 49 75 79 75 70 74 71 75 65 75 64 75 47 75 14 74-12 75 16 75 11 75 12 74-11 75-11 75 26 75-95 74 17 75-14 75 26"/><path d="M335 392l75-31 75 55 74 1 75 60 75 26 75 101 74 23 75 64 75 58 75-10 75-1 74-52 75 31 75 31 75-24 74 0 75-62 75-23 75 170 74 50 75-7 75-114"/><path d="M335 473l75 0 75 49 74-10 75 15 75 21 75 27 74 11 75-11 75 24 75 1 75 19 74-70 75 54 75-22 75-150 74-159 75-136 75-148 75-318 74-358 75-388 75-329"/><path d="M335 307l75 51 75 4 74 48 75 49 75 45 75 51 74 71 75 52 75 25 75 55 75 15 74-23 75-10 75 43 75 16 74 14 75 4 75-41 75-160 74 35 75-204 75-8"/><path d="M335 318l75 10 75 10 74 44 75 33 75 60 75 76 74 81 75 56 75 59 75 41 75 12 74-5 75-2 75 31 75 6 74-21 75-14 75 56 75-3 74-16 75-11 75 10"/><path d="M335 587l75-236 75-26 74 37 75 43 75 87 75 53 74 39 75 42 75 29 75 40 75 1 74-36 75-38 75-50 75 9 74 21 75 123 75-87 75-81 74 133 75-112 75-307"/><path d="M335 296l75 16 75 12 74 59 75 48 75 66 75 51 74 73 75 51 75 46 75 40 75-15 74 28 75-12 75 10 75 26 74-40 75-103 75-67 75 134 74-81 75-170 75-158"/><path d="M335 387l75-7 75-33 74 58 75 57 75 47 75 63 74 34 75 16 75-31 75-4 75-21 74-45 75 0 75-47 75-130 74-104 75-33 75 35 75 46 74 71 75-516 75-157"/><path d="M335 322l75-11 75-22 74 66 75 54 75 27 75 97 74 62 75 45 75 72 75 7 75-34 74-26 75-4 75 27 75-65 74 43 75 88 75-2 75 83 74-30 75 16 75-64"/><path d="M335 283l75 61 75 40 74 15 75 39 75 65 75 65 74 50 75 63 75 59 75 22 75 8 74 0 75-13 75-44 75-4 74-99 75 49 75 13 75 114 74-164 75 147 75-199"/><path d="M335 335l75-3 75 24 74 38 75 31 75 58 75 75 74 55 75 77 75 31 75-12 75-58 74 96 75-30 75-112 75 68 74-107 75-154 75 19 75-131 74 114 75 21 75-75"/><path d="M335 266l75 78 75-12 74 57 75 37 75 55 75 49 74 28 75 47 75 71 75-21 75 43 74-58 75-56 75 26 75-121 74 40 75-28 75-88 75 10 74 163 75-292 75-118"/><path d="M335 330l75 0 75-43 74 61 75 46 75 68 75 61 74-6 75 22 75 5 75 19 75 29 74-77 75-36 75-21 75-69 74-94 75-160 75 30 75-418 74 124 75-77 75-555"/><path d="M335 396l75 6 75 30 74 27 75 40 75 42 75 57 74 31 75 50 75 67 75 26 75-12 74-18 75 33 75-18 75 19 74 35 75-44 75 38 75 56 74 11 75-38 75-61"/><path d="M335 330l75-7 75 0 74 74 75 54 75 43 75 57 74 16 75 47 75 71 75 45 75-61 74-60 75-30 75 23 75 35 74-4 75-167 75-100 75-63 74-129 75 71 75-178"/><path d="M335 409l75 9 75 19 74 27 75 36 75 44 75 52 74 35 75 60 75 1 75 6 75-65 74 27 75 7 75-49 75-66 74-30 75-138 75-208 75 109 74 55 75-85 75 228"/><path d="M335 314l75 48 75 12 74 26 75 38 75 42 75 77 74 65 75-2 75 32 75 20 75-12 74-74 75-36 75-94 75-57 74-78 75 155 75-219 75 99 74-153 75-52 75 325"/><path d="M335 279l75 82 75 70 74-7 75 6 75 90 75 56 74 64 75 30 75 32 75-8 75-9 74 34 75-73 75-89 75 1 74-81 75-51 75-192 75 187 74 202 75 97 75-14"/><path d="M335 360l75-10 75 9 74 20 75 56 75 51 75 79 74 58 75 44 75 40 75 34 75 14 74 1 75-48 75 27 75-13 74 67 75-116 75-53 75-65 74 64 75-160 75-57"/><path d="M335 498l75-107 75-12 74 58 75 58 75 42 75 76 74 47 75 49 75 43 75 34 75-26 74-22 75-18 75 21 75-81 74 0 75-33 75-72 75 19 74-52 75-21 75-237"/><path d="M335 280l75 83 75 11 74 29 75 54 75 50 75 68 74 50 75 61 75 51 75 34 75-2 74-36 75-57 75 34 75-60 74 14 75-135 75 22 75 14 74-158 75 139 75-175"/><path d="M335 352l75-29 75 8 74 55 75 64 75 37 75 66 74 55 75 48 75 9 75 6 75-34 74-17 75-89 75-230 75 6 74-123 75 86 75 55 75 4 74 99 75-6 75-210"/><path d="M335 310l75 18 75-15 74 50 75 58 75 49 75 58 74 70 75 57 75 23 75 9 75-25 74 31 75 14 75-69 75-64 74-71 75-61 75-37 75-72 74-211 75 34 75-2"/><path d="M335 376l75 8 75-11 74 66 75 76 75 30 75 43 74 71 75 55 75 52 75-9 75-24 74 1 75-19 75 2 75-217 74 6 75 58 75-3 75-488 74 203 75-62 75 106"/><path d="M335 352l75 9 75-2 74 20 75 33 75 54 75 36 74 55 75 19 75 74 75 7 75-40 74-44 75-48 75-64 75-15 74-59 75-217 75 33 75-60 74-9 75-202 75 97"/><path d="M335 334l75-17 75-45 74 100 75 42 75 84 75 72 74 77 75 47 75 19 75-23 75-5 74-84 75 22 75 32 75-90 74-52 75-112 75-243 75-42 74 75 75 287 75-90"/><path d="M335 312l75 89 75 20 74 10 75 33 75 31 75 80 74 60 75 53 75 58 75 29 75 7 74-27 75 23 75 22 75 15 74 12 75 24 75-24 75 20 74-66 75 23 75-98"/><path d="M335 312l75 21 75-36 74 76 75 35 75 59 75 47 74 69 75 86 75 64 75-3 75-25 74 39 75-36 75 5 75 33 74 2 75-4 75-97 75 8 74-144 75-87 75-120"/><path d="M335 288l75 66 75 23 74 43 75 38 75 48 75 81 74 59 75 57 75 41 75 46 75-1 74 3 75-23 75-32 75-107 74-7 75 108 75 114 75-19 74 42 75 6 75-82"/><path d="M335 356l75 14 75 40 74 59 75 26 75 39 75 76 74 45 75 59 75 33 75 22 75-5 74 1 75-39 75-9 75-39 74 28 75-136 75-20 75 104 74-102 75 74 75 88"/><path d="M335 428l75-10 75-2 74 23 75 27 75 36 75 67 74 56 75 64 75 54 75 3 75 37 74-29 75-35 75-10 75-170 74-22 75-72 75 16 75-80 74 8 75-316 75 80"/><path d="M335 338l75 16 75-35 74 84 75 34 75 45 75 38 74 22 75 79 75 33 75 11 75 53 74 15 75 40 75-5 75-76 74-32 75 40 75-44 75 139 74-205 75 54 75-82"/><path d="M335 311l75 34 75-6 74 59 75 37 75 64 75 45 74 58 75 42 75 16 75 97 75 15 74-36 75-79 75-27 75-114 74-161 75-196 75-47 75-196 74-177 75-53 75-106"/><path d="M335 398l75-60 75 5 74 45 75 49 75 55 75 54 74 49 75 60 75 66 75 13 75-27 74-12 75-16 75-11 75-81 74-102 75-49 75-35 75-3 74-40 75-83 75-143"/><path d="M335 378l75-20 75-52 74 92 75 52 75 55 75 58 74 65 75 39 75 2 75 24 75 11 74 32 75-41 75 50 75-50 74-5 75-173 75 59 75-30 74 51 75-295 75 199"/><path d="M335 424l75-97 75 63 74-9 75 52 75 48 75 67 74 43 75 26 75 76 75-6 75 34 74-23 75-69 75-29 75 57 74-21 75-128 75-6 75-47 74 153 75-266 75-95"/><path d="M335 352l75-19 75 2 74 67 75 47 75 81 75 61 74 61 75 59 75 37 75 49 75 2 74-8 75-9 75 36 75-32 74 42 75-72 75-252 75 102 74-121 75 70 75-382"/><path d="M335 252l75 81 75-34 74 73 75 33 75 61 75 65 74-13 75 49 75 41 75 70 75-33 74 47 75-16 75 32 75-38 74 51 75-112 75 49 75-286 74 114 75-171 75 15"/><path d="M335 266l75 70 75-22 74 56 75 47 75 49 75 65 74 69 75 15 75 58 75-29 75 5 74-44 75-96 75 5 75-78 74-92 75 69 75-23 75-76 74-208 75 94 75-129"/><path d="M335 343l75 41 75 7 74 23 75 69 75 63 75 53 74 64 75 60 75 8 75 18 75-50 74 35 75 14 75-23 75-48 74-3 75-130 75-53 75 87 74 118 75 13 75 44"/><path d="M335 448l75-43 75-11 74 14 75 39 75 57 75 60 74 32 75 29 75 76 75-37 75 20 74-20 75 11 75-60 75-47 74 79 75-184 75-41 75-47 74-167 75-124 75-209"/><path d="M335 389l75-17 75-12 74 71 75 28 75 51 75 78 74 50 75 63 75 30 75-15 75-4 74 18 75-96 75 23 75-125 74-72 75-49 75-186 75 89 74 155 75 96 75-120"/><path d="M335 377l75-29 75-39 74 121 75 19 75 41 75 59 74 46 75 90 75-15 75 26 75 50 74 15 75 22 75 35 75-49 74-287 75 78 75-94 75-378 74 125 75-195 75-359"/><path d="M335 382l75-9 75-4 74 69 75 44 75 63 75 64 74 48 75 41 75 40 75 46 75 5 74-25 75 36 75-56 75-36 74-23 75-178 75-60 75-69 74 6 75-73 75 185"/><path d="M335 387l75-48 75 3 74 68 75 70 75 62 75 48 74 44 75 52 75 38 75 56 75-41 74-14 75 40 75 24 75 31 74-13 75 30 75-14 75 22 74-69 75-31 75-77"/><path d="M335 392l75-24 75 1 74 8 75 42 75 29 75 63 74 38 75 61 75-1 75 14 75-12 74-14 75-73 75 6 75 38 74-35 75-197 75-42 75 77 74-469 75-45 75-134"/><path d="M335 370l75-53 75-20 74 91 75 49 75 52 75 65 74 60 75 66 75 26 75 23 75-34 74 0 75 79 75 36 75 2 74-108 75-5 75 45 75-43 74 27 75-75 75-385"/><path d="M335 371l75 11 75 4 74 21 75 18 75 68 75 74 74 59 75 32 75-41 75-4 75 40 74-60 75 100 75-10 75-80 74 24 75 15 75-73 75-45 74 110 75 94 75-198"/><path d="M335 297l75 3 75 0 74 50 75 30 75 32 75 81 74 71 75 55 75 24 75 23 75 51 74-7 75-16 75-30 75-44 74-76 75-80 75-87 75 14 74-80 75-381 75 140"/><path d="M335 502l75-42 75-23 74 47 75 33 75 58 75 64 74 24 75 54 75-8 75 53 75 38 74-9 75-50 75-30 75-106 74-22 75 60 75-170 75 10 74-49 75-158 75 173"/><path d="M335 337l75-20 75-11 74 60 75 57 75 73 75 68 74 74 75 64 75 67 75 35 75 6 74 7 75 15 75 10 75 10 74 9 75 1 75 4 75 13 74 5 75 0 75-18"/><path d="M335 337l75-17 75-13 74 69 75 41 75 60 75 68 74 41 75 3 75 37 75 40 75-36 74 34 75-99 75 105 75-4 74-138 75 55 75 45 75 70 74-91 75-42 75-184"/><path d="M335 303l75 66 75 28 74-8 75 60 75 59 75 60 74 64 75 82 75 43 75 43 75 6 74 8 75 0 75 6 75-4 74 3 75-8 75-4 75 16 74-47 75-46 75-32"/><path d="M335 324l75-6 75-27 74 81 75 48 75 46 75 73 74 55 75 51 75 64 75 43 75-3 74-19 75-3 75 28 75-116 74 44 75-85 75-11 75 42 74 131 75-48 75-83"/><path d="M335 389l75 2 75-6 74 56 75 57 75 38 75 72 74-8 75 29 75-10 75-43 75-29 74-41 75-134 75-100 75-35 74 75 75-244 75-229 75-227 74-167 75-159 75-140"/><path d="M335 370l75-16 75-20 74 49 75 26 75 65 75 46 74 51 75 55 75 5 75 27 75-15 74-65 75-54 75 48 75-238 74-139 75-171 75 65 75 58 74-197 75 40 75-82"/><path d="M335 400l75-24 75-6 74 43 75 35 75 46 75 20 74 9 75 17 75 6 75 2 75-37 74-18 75 30 75-110 75 48 74 35 75-62 75-347 75-333 74 220 75 103 75 7"/><path d="M335 384l75 15 75-4 74 9 75 48 75 51 75 55 74 21 75 21 75-2 75 90 75-47 74-56 75-13 75 45 75-11 74-9 75-71 75 34 75-68 74-209 75 181 75-70"/><path d="M335 384l75 26 75-9 74 14 75 39 75 45 75 59 74 59 75-3 75-44 75-5 75 17 74-55 75 15 75-9 75-218 74 56 75-157 75-283 75 119 74-348 75-124 75 122"/><path d="M335 291l75 49 75 8 74 33 75 41 75 43 75 37 74 48 75 49 75 40 75 15 75-22 74 85 75-133 75 13 75 69 74 65 75 88 75-241 75 9 74 7 75-80 75 78"/><path d="M335 376l75 19 75-19 74 79 75 47 75 67 75 63 74 50 75 55 75 33 75 24 75-6 74-22 75-6 75 48 75 24 74-40 75-41 75 68 75 43 74-130 75 8 75 33"/><path d="M335 340l75 12 75-5 74 20 75 44 75 67 75 55 74 52 75 41 75 46 75 28 75 10 74-57 75-39 75-49 75-21 74 56 75-164 75 94 75-442 74-5 75-16 75-45"/><path d="M335 407l75 13 75 12 74 17 75 37 75 51 75 51 74 53 75 69 75 27 75 39 75-28 74-54 75-18 75-37 75-101 74-71 75-88 75 61 75 201 74 7 75-160 75 116"/><path d="M335 283l75 96 75 5 74 50 75 23 75 35 75 82 74-49 75 13 75-28 75-25 75 38 74-3 75-52 75-74 75-277 74-1 75-222 75-5 75-87 74-59 75-318 75-465"/><path d="M335 286l75 42 75-23 74 65 75 56 75 49 75 85 74 30 75-5 75 50 75-49 75 23 74-7 75-76 75-50 75-151 74-191 75 152 75-157 75-252 74-376 75-247 75-138"/><path d="M335 397l75-32 75-16 74 52 75 42 75 50 75 69 74 13 75 18 75 51 75 76 75 2 74 2 75-89 75-14 75-29 74-156 75 36 75 114 75-154 74-176 75-71 75-63"/><path d="M335 322l75 16 75-1 74 58 75 28 75 82 75 75 74 45 75 26 75-12 75 19 75 19 74-29 75-60 75 113 75-156 74 22 75-1 75 48 75-215 74-168 75-120 75 104"/><path d="M335 377l75-76 75-49 74 83 75 54 75 73 75 69 74 67 75 68 75 57 75 49 75 15 74-6 75 17 75 23 75 6 74 7 75 13 75-18 75-36 74 19 75-86 75 65"/><path d="M335 381l75-42 75 31 74 32 75 46 75 50 75 60 74 28 75 14 75 79 75-54 75 36 74 11 75-60 75-105 75 36 74-115 75-125 75-57 75-79 74 5 75-288 75 290"/><path d="M335 381l75-47 75-34 74 91 75 53 75 54 75 83 74 61 75 37 75 27 75 65 75 19 74-45 75 29 75-46 75 28 74-99 75 0 75 80 75-94 74 130 75-57 75 77"/><path d="M335 414l75 13 75 2 74 53 75 42 75 68 75 45 74 16 75 38 75-14 75 56 75-31 74-9 75 29 75 19 75-50 74-96 75-6 75 102 75-95 74-58 75-148 75-145"/><path d="M335 445l75-16 75-21 74 74 75 49 75 52 75 31 74 65 75 52 75 40 75 24 75 0 74-1 75-4 75-45 75-36 74 6 75-5 75-78 75-20 74-19 75-238 75 45"/><path d="M335 413l75 6 75 45 74-10 75 18 75 15 75-9 74-1 75 43 75-37 75 27 75-23 74-101 75 9 75-95 75-165 74-213 75-260 75-261 75-133 74-369 75-261 75-778"/><path d="M335 354l75-10 75 11 74 31 75 56 75 78 75 61 74 66 75 51 75 54 75-3 75-39 74-32 75-26 75 51 75-68 74-47 75-180 75-100 75-216 74-222 75-129 75-371"/><path d="M335 298l75 34 75-15 74 55 75 67 75 59 75 92 74 45 75 17 75 68 75 42 75 10 74 7 75 4 75-87 75-6 74 63 75-96 75-21 75-32 74 58 75 38 75-185"/><path d="M335 336l75 12 75-24 74 79 75 6 75 73 75 62 74 42 75 76 75 65 75-14 75 40 74 5 75 7 75 36 75-48 74 38 75 30 75-32 75-41 74-96 75-143 75-110"/><path d="M335 320l75 59 75 4 74 52 75 16 75 51 75 65 74 20 75 28 75-37 75 4 75-22 74-44 75-68 75-138 75-102 74 148 75-245 75-145 75-65 74-76 75-75 75-364"/><path d="M335 350l75-61 75-45 74 103 75 70 75 38 75 50 74 64 75 18 75 76 75 15 75-10 74-37 75-87 75-83 75-23 74-137 75-70 75-131 75-135 74-129 75 174 75 48"/><path d="M335 306l75-2 75 41 74 19 75 56 75 72 75 75 74 43 75 60 75 53 75 17 75-8 74 5 75 5 75-50 75 79 74-72 75-78 75 100 75 53 74 39 75 10 75 8"/><path d="M335 297l75 43 75 9 74 55 75 43 75 71 75 55 74 49 75 63 75-32 75 0 75 15 74-31 75-53 75-56 75-113 74-161 75-180 75-102 75-126 74-214 75-157 75-256"/><path d="M335 328l75 19 75 11 74 46 75 29 75 48 75 54 74 53 75 34 75 36 75 49 75-32 74-32 75 59 75-44 75-2 74 30 75-20 75-27 75 40 74-130 75-167 75 263"/><path d="M335 401l75-66 75-34 74 82 75 32 75 73 75 62 74 66 75 74 75 60 75 50 75-1 74-21 75 23 75-46 75-98 74 19 75-8 75-11 75-17 74 15 75 7 75-148"/><path d="M335 293l75 12 75-19 74 90 75 58 75 39 75 68 74 57 75 51 75 41 75 9 75-74 74-80 75-74 75-59 75-90 74-98 75 10 75 19 75-207 74-139 75-110 75-348"/><path d="M335 439l75-6 75-4 74 22 75 15 75 57 75 49 74-8 75 76 75 7 75-21 75-15 74 82 75-96 75 79 75-86 74-77 75-66 75-17 75 19 74-210 75-331 75-253"/><path d="M335 363l75 58 75-33 74 89 75 19 75 33 75 75 74 61 75 62 75 28 75 2 75-44 74-39 75 25 75-21 75-19 74-62 75-103 75-52 75 205 74-21 75 74 75 3"/><path d="M335 346l75-17 75 23 74 60 75 29 75 65 75 85 74 44 75 42 75-2 75-19 75 19 74 3 75 7 75-36 75-68 74-28 75-2 75-53 75 134 74 127 75-25 75-127"/><path d="M335 457l75-3 75-46 74 52 75 19 75 40 75 43 74 5 75 12 75 62 75-26 75-18 74-17 75-42 75 45 75-40 74 14 75-144 75-167 75 138 74-165 75-23 75-487"/><path d="M335 389l75 5 75-5 74 63 75 29 75 37 75 58 74 72 75 46 75 51 75 20 75-65 74 52 75-27 75 23 75-25 74 1 75-70 75-44 75-166 74-86 75-200 75-74"/><path d="M335 607l75-264 75-2 74 33 75 42 75 50 75 24 74 60 75 23 75 36 75 15 75 0 74-39 75-7 75-36 75 45 74-78 75-186 75-16 75-37 74 122 75-137 75-104"/><path d="M335 259l75 28 75-26 74 89 75 80 75 43 75 81 74 57 75 76 75 46 75 28 75 23 74-24 75 0 75 6 75-13 74-82 75 56 75 24 75-7 74 13 75-19 75-67"/><path d="M335 317l75-33 75-32 74 85 75 59 75 33 75 48 74 47 75 67 75 8 75 24 75-11 74 2 75 56 75-10 75 44 74-116 75-54 75-242 75 18 74-37 75-27 75-105"/><path d="M335 370l75-32 75 1 74 64 75 38 75 48 75 67 74 52 75 64 75 30 75 14 75-24 74-66 75 34 75-34 75 40 74-2 75-113 75-44 75 6 74 103 75-271 75-76"/><path d="M335 320l75 20 75-32 74 52 75 33 75 57 75 55 74 56 75 9 75 42 75-6 75-2 74-48 75-36 75-36 75-207 74 40 75 44 75-196 75-22 74-446 75 68 75 142"/><path d="M335 411l75 23 75 28 74-14 75 46 75 46 75 51 74 35 75-21 75 67 75 45 75-9 74 21 75-46 75-65 75-71 74-61 75-327 75 36 75-36 74 41 75-8 75-1"/><path d="M335 378l75 14 75 20 74 60 75 29 75 57 75 56 74 18 75 74 75 37 75 34 75-13 74-10 75-1 75 14 75 1 74 30 75-27 75-74 75-145 74 263 75-123 75-74"/><path d="M335 336l75-9 75-1 74 33 75 28 75 55 75 40 74 9 75 20 75 67 75 32 75-30 74-10 75-27 75 62 75-79 74-39 75-205 75-178 75-60 74 10 75 27 75-44"/><path d="M335 312l75 38 75 1 74 43 75 58 75 59 75 55 74 59 75 52 75 58 75 32 75-5 74-1 75-29 75-29 75-110 74-57 75 27 75-53 75-180 74-102 75-80 75 436"/><path d="M335 421l75-91 75-23 74 68 75 44 75 57 75 59 74 68 75 62 75 56 75-7 75-77 74-64 75-67 75-98 75-124 74-121 75-155 75-199 75-274 74-241 75-418 75 34"/><path d="M335 361l75-31 75-11 74 52 75 52 75 42 75 86 74 44 75 3 75 23 75-3 75-69 74-20 75-124 75 106 75 2 74 55 75-149 75-13 75-110 74 143 75-175 75 11"/><path d="M335 404l75-51 75-25 74 95 75 12 75 36 75-8 74 14 75 71 75 53 75 35 75-7 74-37 75-45 75-24 75-67 74-65 75-80 75-230 75-160 74-378 75-154 75-16"/><path d="M335 380l75-6 75 22 74 37 75 48 75 57 75 22 74 3 75 43 75-1 75 59 75 20 74-57 75 7 75-16 75-45 74-82 75 48 75-221 75-20 74 36 75-279 75-153"/><path d="M335 376l75-17 75 5 74 36 75 45 75 67 75 54 74 53 75 67 75 49 75 40 75 22 74-11 75 4 75-41 75-39 74-2 75-156 75-59 75-73 74 64 75-5 75-437"/><path d="M335 340l75 36 75 32 74 4 75 45 75 57 75 62 74 63 75 53 75 25 75 46 75 12 74 12 75 13 75-14 75-4 74 3 75 2 75-27 75 98 74 6 75-11 75-85"/><path d="M335 356l75 4 75 11 74 27 75 21 75 59 75 65 74 36 75 43 75 26 75 23 75 25 74-51 75-38 75-55 75 99 74 1 75-118 75-109 75-35 74 163 75-272 75 208"/><path d="M335 400l75-18 75 74 74 18 75 28 75 61 75 50 74 46 75 28 75-15 75-6 75-42 74 17 75-119 75-69 75-124 74 21 75-123 75 96 75 140 74 68 75 57 75 147"/><path d="M335 383l75-9 75 17 74 39 75 25 75 43 75 62 74 7 75 29 75 25 75 40 75-23 74-40 75-3 75 16 75-32 74-223 75-85 75-56 75-113 74-166 75-77 75-238"/><path d="M335 379l75-29 75 3 74 40 75 32 75 57 75 67 74 66 75 26 75 59 75-10 75 5 74 6 75 8 75-105 75-63 74 18 75 58 75-81 75-3 74 62 75-139 75-101"/><path d="M335 268l75 12 75-12 74 69 75 52 75 67 75 66 74 46 75 74 75 41 75 73 75-22 74 16 75 5 75-20 75-79 74-105 75-3 75-86 75 182 74-48 75-102 75-124"/><path d="M335 347l75 39 75 25 74 15 75 40 75 42 75 66 74 49 75 75 75 55 75 22 75 10 74-20 75-105 75 21 75-3 74-109 75 54 75 79 75-56 74-180 75 27 75 10"/><path d="M335 376l75 17 75 9 74 46 75 69 75 90 75 89 74 44 75 17 75 17 75 40 75 8 74 1 75 15 75 18 75 6 74-4 75 11 75-3 75 3 74 13 75-15 75-4"/><path d="M335 285l75 56 75-30 74 45 75 42 75 51 75 65 74 76 75 72 75 55 75 17 75 3 74-22 75 32 75-47 75-65 74-23 75 55 75-113 75-5 74-86 75 17 75-208"/><path d="M335 344l75 25 75 24 74 38 75 53 75 53 75 66 74 41 75 42 75 23 75 55 75-118 74-7 75-89 75 47 75-69 74 11 75-60 75-9 75-16 74-109 75 80 75-245"/><path d="M335 296l75-7 75 3 74 57 75 48 75 62 75 75 74 66 75-8 75 29 75-11 75-14 74 59 75-57 75-30 75-13 74-19 75 81 75-161 75 27 74-231 75-164 75-224"/><path d="M335 311l75 31 75 6 74 16 75 50 75 63 75 65 74 61 75 64 75-3 75 16 75 34 74-109 75 6 75 10 75-37 74-26 75-131 75-5 75-18 74-33 75-181 75-166"/><path d="M335 348l75 22 75-31 74 57 75 45 75 81 75 62 74 54 75 56 75 12 75-26 75-18 74-93 75 36 75-44 75-218 74-10 75-79 75-254 75-325 74-202 75-170 75 53"/><path d="M335 384l75-11 75 41 74 2 75 63 75 48 75 66 74 43 75 55 75 44 75 44 75-26 74-20 75 43 75 16 75 41 74 6 75-11 75-66 75 29 74 55 75-206 75-84"/><path d="M335 321l75 64 75-19 74 66 75 55 75 59 75 50 74 61 75 60 75 37 75 1 75-16 74-48 75 33 75-4 75-10 74-92 75-37 75-151 75-132 74 12 75 8 75 173"/><path d="M335 276l75 87 75 60 74-3 75 31 75 52 75 101 74 41 75 27 75 56 75 6 75 37 74 10 75-35 75-8 75-3 74 49 75-61 75-112 75 166 74-186 75-167 75-203"/><path d="M335 334l75 7 75 19 74 31 75 32 75 64 75 60 74 42 75-24 75-5 75 3 75-45 74-92 75-1 75 87 75-85 74-65 75-193 75-236 75-474 74-237 75-148 75-463"/><path d="M335 363l75-10 75-4 74 119 75 51 75 43 75 45 74 65 75 33 75 29 75 33 75-7 74 12 75-25 75-111 75 53 74-153 75-111 75 133 75 3 74-141 75-55 75-265"/><path d="M335 399l75-10 75 90 74-73 75 11 75 29 75 70 74 38 75 23 75 24 75-15 75 3 74-29 75-17 75-108 75 88 74-209 75-115 75-46 75-74 74-201 75-363 75 114"/><path d="M335 389l75-30 75 10 74 41 75 60 75 50 75 79 74 54 75 70 75 31 75 32 75-7 74 11 75 4 75 18 75-69 74 42 75-116 75-100 75-60 74-4 75-393 75 43"/><path d="M335 434l75-54 75 20 74-4 75 24 75 49 75 57 74 8 75-2 75 11 75 52 75 2 74-38 75-12 75-5 75-287 74 75 75-14 75-98 75-44 74-92 75-177 75-170"/><path d="M335 385l75-28 75 23 74 38 75 43 75 49 75 61 74 21 75 34 75 3 75 27 75-37 74 3 75 26 75-56 75-7 74-165 75-100 75-99 75 145 74 108 75-180 75-171"/><path d="M335 427l75-20 75 15 74 28 75 40 75 66 75 28 74 31 75 45 75 33 75 51 75 16 74-56 75-11 75-129 75-73 74 41 75-96 75 82 75-339 74-142 75-168 75-225"/><path d="M335 291l75 39 75-1 74 35 75 67 75 40 75 63 74 48 75 60 75 74 75 0 75-18 74-7 75-12 75 26 75-48 74 27 75-24 75-173 75-73 74-167 75-107 75-18"/><path d="M335 338l75 4 75 24 74 47 75 8 75 53 75 64 74 80 75 55 75 49 75 49 75-7 74-3 75 30 75 5 75-3 74 26 75-88 75-120 75 12 74 98 75-225 75 113"/><path d="M335 329l75 10 75 33 74 42 75 45 75 65 75 47 74 63 75 65 75 45 75 33 75 15 74-32 75-82 75-1 75-84 74 96 75-148 75 48 75-110 74 16 75 111 75-145"/><path d="M335 322l75-4 75-10 74 58 75 31 75 68 75 83 74 80 75 33 75 33 75-19 75-51 74-40 75-54 75 9 75-123 74 60 75-103 75-222 75 29 74-73 75-170 75-190"/><path d="M335 436l75 5 75-25 74 51 75 32 75 34 75 68 74 42 75 64 75-11 75 68 75 8 74-48 75-13 75-34 75-134 74-152 75 16 75 184 75 15 74-100 75 95 75-425"/><path d="M335 394l75-25 75 1 74 42 75 20 75 84 75 74 74 58 75 57 75 23 75 51 75-11 74 40 75 23 75 5 75-7 74-15 75 21 75-10 75 6 74-147 75 17 75-457"/><path d="M335 378l75-62 75-40 74 68 75 57 75 64 75 61 74 63 75 64 75 14 75 28 75 50 74-34 75 32 75-3 75 5 74-194 75-98 75-7 75-155 74-15 75-103 75-336"/><path d="M335 337l75 9 75 38 74-11 75 64 75 61 75 77 74 52 75 29 75 39 75 20 75-94 74 27 75 3 75-46 75-18 74-39 75 9 75-116 75-1 74 23 75 8 75-324"/><path d="M335 461l75-77 75 32 74 18 75 50 75 33 75 56 74 26 75 83 75 29 75 25 75-30 74 79 75-55 75 30 75-27 74-102 75-7 75 29 75-168 74 148 75-64 75-115"/><path d="M335 352l75 1 75 23 74 5 75 43 75 40 75 66 74 28 75 48 75-11 75 73 75 20 74 8 75 9 75-103 75-2 74-43 75-134 75-144 75-232 74 333 75-141 75-243"/><path d="M335 416l75-62 75 32 74 29 75 7 75 57 75 51 74-18 75 10 75-12 75 49 75 19 74 3 75-87 75-92 75-91 74-39 75-44 75-87 75-84 74-13 75-327 75 0"/><path d="M335 437l75-72 75 21 74 27 75 50 75 43 75 64 74 31 75 28 75 76 75-1 75-3 74-15 75 20 75-59 75 49 74-87 75-20 75 44 75-39 74-296 75-17 75 103"/><path d="M335 322l75 51 75-22 74 43 75 47 75 68 75 46 74 68 75 41 75 65 75 29 75 24 74-1 75 12 75-64 75-119 74-98 75 122 75-77 75 184 74 39 75-185 75-67"/><path d="M335 381l75-21 75-54 74 117 75 49 75 57 75 72 74 36 75 46 75-42 75-36 75-25 74-4 75-117 75-73 75 69 74-18 75 19 75-149 75-254 74 189 75-213 75 87"/><path d="M335 355l75 23 75 5 74 45 75 14 75 58 75 71 74 61 75 39 75 28 75 37 75 6 74 15 75-46 75 42 75-93 74-117 75-100 75-104 75-21 74 273 75-20 75-116"/><path d="M335 261l75 28 75-27 74 54 75 59 75 69 75 57 74 42 75 14 75 63 75 33 75-24 74-53 75-79 75-146 75 14 74-74 75-226 75-41 75-43 74-144 75-114 75-340"/><path d="M335 350l75 26 75 26 74-3 75 44 75 62 75 60 74 69 75 54 75 17 75 38 75 43 74 6 75 22 75-39 75-60 74-117 75-119 75-291 75-97 74 226 75-65 75-584"/><path d="M335 407l75-29 75-23 74 57 75 55 75 60 75 71 74 60 75 58 75 47 75 39 75 1 74 14 75 15 75 23 75 4 74 10 75-4 75-1 75 8 74 21 75-33 75 16"/><path d="M335 369l75-3 75-29 74 78 75 26 75 79 75 80 74 60 75 38 75 13 75 33 75-57 74-96 75-200 75-247 75-314 74-213 75-467 75-418 75-518 74-472 75-612 75-778"/><path d="M335 358l75-10 75 43 74-4 75 69 75 56 75 51 74 25 75-10 75 28 75 6 75-19 74-92 75-2 75 2 75-18 74-201 75-37 75-284 75-290 74-14 75 54 75-445"/><path d="M335 365l75-14 75 16 74 45 75 39 75 79 75 71 74 54 75 45 75 47 75 30 75 10 74-6 75-53 75-134 75-84 74-15 75-93 75-179 75-97 74-237 75-27 75 141"/><path d="M335 325l75 53 75-12 74 41 75 18 75 48 75 53 74 8 75-15 75 24 75 48 75-54 74-32 75-83 75 16 75-74 74-182 75-162 75 10 75-50 74-41 75-99 75 219"/><path d="M335 342l75 4 75-9 74 44 75 66 75 73 75 54 74 55 75 51 75 65 75 43 75 10 74-20 75 20 75 32 75 5 74 22 75-13 75-2 75 3 74-43 75 1 75 2"/><path d="M335 384l75-29 75 34 74 35 75 72 75 57 75 59 74 46 75 49 75 39 75 28 75-4 74-1 75-21 75-43 75-49 74-1 75-157 75-23 75-90 74-36 75-24 75-61"/><path d="M335 324l75 62 75 46 74-24 75 24 75 67 75 68 74 29 75 31 75 34 75-26 75-14 74-7 75-221 75-94 75 25 74-5 75 85 75-129 75-128 74 5 75-111 75-363"/><path d="M335 475l75-125 75 47 74-4 75 33 75 51 75 49 74 62 75 73 75 61 75 31 75 6 74-6 75-37 75 84 75-189 74-47 75-53 75-95 75 46 74 83 75-215 75-36"/><path d="M335 384l75-31 75-9 74 63 75 19 75 35 75 44 74 22 75 11 75 31 75 55 75-7 74-36 75 1 75-46 75-131 74 77 75-165 75-71 75-232 74 68 75-62 75 248"/><path d="M335 425l75 24 75 52 74 0 75 25 75 55 75 53 74 34 75-3 75 28 75 56 75-79 74-56 75-82 75-207 75-145 74-80 75-132 75-171 75-176 74-92 75-114 75 149"/><path d="M335 298l75 4 75-22 74 75 75 53 75 64 75 60 74 81 75 68 75 56 75 42 75 18 74 12 75 7 75-1 75 29 74 9 75-28 75 18 75 23 74-16 75 15 75-26"/><path d="M335 435l75-46 75 7 74 36 75 16 75 40 75 51 74 41 75 73 75-7 75-4 75 47 74-25 75-42 75 62 75-50 74-63 75-4 75-101 75 50 74-155 75-239 75-27"/><path d="M335 460l75 26 75 2 74-8 75-5 75 62 75 46 74 60 75 61 75 13 75-11 75 23 74 12 75 41 75-38 75 26 74-122 75 31 75-185 75 99 74-32 75-297 75 111"/><path d="M335 304l75 17 75 66 74 14 75 27 75 59 75 63 74 58 75 47 75 29 75 33 75 0 74-61 75-2 75 102 75-100 74-55 75-41 75 153 75-180 74 156 75-156 75-22"/><path d="M335 344l75 35 75-38 74 53 75 52 75 45 75 73 74 59 75 77 75 41 75 41 75 9 74-5 75 1 75 41 75-66 74-81 75-22 75-60 75-67 74-158 75-53 75 99"/><path d="M335 385l75 13 75 38 74 17 75 27 75 61 75 46 74 35 75 36 75 35 75 33 75 42 74-20 75-35 75 14 75-39 74-15 75 93 75-209 75-151 74-116 75-121 75 14"/><path d="M335 275l75 74 75 12 74 37 75 46 75 52 75 89 74 48 75 67 75 47 75 17 75-12 74-28 75 39 75-47 75 11 74-95 75-7 75-31 75-2 74-27 75 110 75-29"/><path d="M335 354l75-5 75-1 74 52 75 36 75 91 75 78 74 49 75 61 75 16 75 7 75-20 74 4 75-84 75 22 75 9 74-125 75 9 75-208 75-21 74 1 75 170 75-164"/><path d="M335 353l75 30 75 3 74 53 75 33 75 30 75 58 74 71 75 57 75 51 75 30 75-38 74 42 75-8 75-22 75-78 74-61 75 47 75-21 75 123 74-120 75 60 75-4"/><path d="M335 382l75 6 75 19 74 9 75 17 75 85 75 61 74 21 75 65 75-11 75 51 75-2 74-14 75-23 75 35 75 12 74-73 75-119 75 42 75 20 74 16 75 67 75 73"/><path d="M335 364l75-8 75-5 74 91 75 15 75 53 75 63 74 62 75 47 75 68 75 23 75-22 74 16 75-13 75-1 75 19 74-1 75-41 75 25 75-36 74-239 75-141 75-167"/><path d="M335 382l75 9 75 14 74 37 75 31 75 46 75 43 74 76 75 29 75 70 75-25 75-63 74-53 75-17 75 25 75-55 74-28 75-16 75 106 75-21 74 50 75-114 75 19"/><path d="M335 311l75 49 75 7 74 26 75 31 75 69 75 55 74 11 75 6 75 34 75 28 75-45 74-73 75-81 75 32 75-89 74 29 75-176 75-91 75-147 74 156 75-296 75-161"/><path d="M335 483l75-184 75-73 74 137 75 62 75 54 75 76 74 34 75 41 75 3 75 1 75-32 74-26 75 68 75-33 75-124 74-132 75-47 75-120 75-5 74-285 75-57 75-293"/><path d="M335 263l75 39 75-22 74 55 75 48 75 39 75 41 74 14 75 1 75 34 75 23 75 43 74-24 75-72 75-11 75 18 74-96 75-41 75-211 75 45 74-162 75-87 75-467"/><path d="M335 385l75-75 75-60 74 139 75 29 75 56 75 70 74 71 75 71 75 51 75-1 75 40 74 1 75 20 75-11 75 13 74-125 75-29 75 63 75 81 74-105 75-45 75-263"/><path d="M335 348l75-28 75-8 74 74 75 19 75 62 75 91 74 51 75 64 75 37 75 55 75-30 74 7 75 40 75-8 75-99 74 33 75 35 75-12 75-74 74-81 75-46 75-90"/><path d="M335 358l75-28 75-34 74 96 75 23 75 64 75 75 74 61 75 57 75 54 75 36 75-19 74-24 75-33 75 2 75-29 74-314 75-89 75-53 75-118 74 83 75 199 75 154"/><path d="M335 325l75 54 75-29 74 33 75 29 75 82 75 48 74 25 75 34 75 71 75-24 75-22 74 69 75-62 75-97 75 12 74-140 75-2 75-126 75-100 74-231 75-96 75-235"/><path d="M335 323l75 14 75 14 74 45 75 29 75 55 75 71 74 71 75 64 75 29 75 49 75 0 74-35 75 1 75-37 75 3 74-64 75 3 75-187 75 62 74-190 75-2 75 120"/><path d="M335 346l75 9 75 32 74 6 75 41 75 59 75 72 74 67 75 52 75 31 75 19 75-55 74-51 75 45 75 58 75 23 74-104 75-194 75-140 75-97 74 71 75 98 75 120"/><path d="M335 389l75-8 75 46 74 8 75 36 75 66 75 56 74 57 75 31 75 17 75 15 75 18 74-25 75 14 75 38 75 42 74 56 75-2 75-35 75-106 74-221 75-77 75 345"/><path d="M335 352l75 19 75 27 74 15 75 32 75 53 75 65 74 75 75 66 75 46 75 36 75 3 74 1 75 16 75-17 75 10 74 38 75-51 75-116 75-58 74 148 75 55 75-159"/><path d="M335 409l75-42 75 23 74 38 75 34 75 58 75 83 74 40 75 49 75 44 75 38 75 7 74-7 75 10 75-7 75-84 74-117 75 187 75-62 75 60 74 17 75 41 75 5"/><path d="M335 347l75 5 75 2 74 40 75 39 75 50 75 68 74 60 75 69 75 56 75 46 75-5 74-8 75-11 75 24 75-72 74-24 75 62 75 8 75-49 74-13 75 106 75-78"/><path d="M335 355l75-45 75-18 74 109 75 53 75 45 75 67 74 41 75 76 75 68 75 30 75-36 74 0 75 5 75-5 75 23 74-154 75-100 75 86 75 14 74 48 75-251 75-170"/><path d="M335 374l75-34 75 45 74 9 75 79 75 49 75 65 74 54 75 55 75 57 75-23 75-87 74-27 75-15 75-62 75-59 74-149 75-399 75-75 75-141 74-126 75-305 75-98"/><path d="M335 333l75 0 75 9 74 69 75 53 75 65 75 60 74 30 75 50 75 34 75 17 75-11 74-45 75-51 75 54 75-49 74-170 75-17 75-198 75 10 74-211 75-273 75-75"/><path d="M335 345l75 23 75-6 74 68 75 36 75 51 75 72 74 75 75 57 75 37 75 39 75-13 74 18 75 17 75 20 75-5 74-41 75-90 75-102 75-88 74-185 75-60 75-225"/><path d="M335 427l75-9 75 10 74 34 75 50 75 67 75 37 74 60 75 51 75-3 75-5 75-52 74 39 75-60 75 80 75-85 74 86 75 27 75-14 75-25 74-306 75 64 75 146"/><path d="M335 360l75-41 75-12 74 91 75 33 75 60 75 72 74 65 75 87 75 37 75 32 75-6 74 6 75 15 75 29 75-16 74-77 75-120 75-91 75-291 74 76 75 300 75 21"/><path d="M335 316l75 34 75-4 74 58 75 61 75 46 75 69 74 55 75 61 75 43 75 2 75 6 74 11 75 33 75 20 75 16 74-20 75-18 75-149 75-1 74-342 75 82 75-267"/><path d="M335 355l75 1 75 9 74 19 75 54 75 56 75 70 74 55 75 62 75 43 75 47 75 15 74-11 75 18 75 37 75 8 74-2 75-8 75 7 75-67 74-141 75-87 75-47"/><path d="M335 418l75-22 75-37 74 81 75 11 75 56 75 58 74 53 75 11 75 68 75 25 75-1 74-30 75 43 75 7 75-1 74 4 75-59 75-84 75-174 74-18 75-108 75-268"/><path d="M335 370l75-17 75 5 74 27 75 37 75 39 75 73 74 81 75 48 75 57 75-19 75 42 74-79 75 62 75 1 75-39 74 4 75-5 75-71 75 82 74-154 75 102 75-176"/><path d="M335 308l75 59 75 17 74 9 75 58 75 52 75 57 74 60 75 58 75 0 75 96 75 19 74-32 75-1 75-21 75-17 74 40 75 61 75 16 75 10 74-3 75 30 75-24"/><path d="M335 400l75 8 75 28 74 26 75 40 75 64 75 70 74 31 75 9 75 18 75-2 75 89 74-1 75 30 75 18 75-125 74 10 75-74 75-48 75-204 74 187 75-690 75 97"/><path d="M335 386l75-75 75-25 74 91 75 48 75 54 75 74 74 53 75 58 75 65 75-8 75 45 74-55 75 3 75 43 75 26 74-1 75-76 75-157 75 82 74-125 75-217 75-72"/><path d="M335 373l75-41 75-36 74 108 75 31 75 96 75 76 74 69 75 54 75 36 75 20 75 12 74-21 75 13 75-97 75-61 74-88 75 30 75-31 75-136 74-330 75 19 75 273"/><path d="M335 361l75-47 75 9 74 47 75 38 75 69 75 52 74 61 75 53 75 25 75 19 75-71 74 6 75-54 75-88 75-23 74 79 75-139 75-27 75-142 74 22 75-238 75-92"/><path d="M335 335l75 20 75-70 74 89 75 62 75 59 75 61 74 68 75 66 75 49 75 38 75 14 74 0 75-11 75 17 75 4 74 18 75-3 75-122 75 29 74-45 75-159 75-336"/><path d="M335 338l75 9 75 33 74 46 75 53 75 37 75 47 74 36 75 56 75 45 75 25 75-8 74-23 75 5 75 19 75-123 74-190 75-61 75-81 75-175 74-181 75-599 75-286"/><path d="M335 354l75-10 75-10 74 61 75 54 75 60 75 56 74 41 75 65 75 52 75 40 75-31 74-34 75-29 75 58 75-32 74-4 75 45 75-29 75 1 74-48 75-378 75 185"/><path d="M335 332l75 5 75-53 74 88 75 39 75 69 75 42 74 52 75 54 75 44 75 37 75-14 74-26 75-43 75-49 75 45 74-85 75-121 75-143 75-254 74 260 75 100 75-541"/><path d="M335 344l75 34 75 26 74 32 75 31 75 71 75 70 74 62 75 52 75 46 75 30 75-18 74-20 75 58 75 25 75-63 74-23 75-91 75 169 75 37 74 25 75-9 75-75"/><path d="M335 459l75-21 75 41 74 32 75 37 75 60 75 70 74 43 75 36 75 14 75-35 75 8 74-2 75-44 75-49 75-42 74-105 75-2 75-52 75 137 74-277 75-67 75-344"/><path d="M335 390l75-28 75 20 74 25 75 39 75 61 75 57 74 49 75 54 75 39 75 36 75-20 74 10 75-41 75 78 75 43 74 41 75-11 75-117 75 19 74 58 75-142 75 70"/><path d="M335 339l75-38 75-66 74 96 75 53 75 83 75 58 74 51 75 24 75-53 75 57 75-11 74-91 75-116 75 30 75-126 74-45 75-50 75-109 75-141 74-156 75-201 75-406"/><path d="M335 480l75-107 75-4 74 52 75 23 75 81 75 58 74 55 75 56 75 62 75-35 75-35 74 27 75-131 75 1 75-39 74-38 75-14 75-327 75 149 74 25 75-125 75 96"/><path d="M335 440l75 8 75 15 74 56 75 49 75 52 75 60 74 26 75 49 75 38 75 20 75 8 74-9 75 5 75-6 75 21 74-97 75 29 75 12 75 61 74 58 75-2 75-32"/><path d="M335 498l75-133 75 59 74-4 75 48 75 44 75 77 74 54 75 36 75 36 75 13 75-79 74-58 75 102 75-16 75-93 74-54 75-9 75 23 75 65 74 67 75-147 75-63"/><path d="M335 419l75-36 75-12 74 84 75 42 75 72 75 62 74 48 75 61 75 45 75 25 75 6 74 1 75 3 75-10 75-31 74-49 75-23 75-23 75 29 74-46 75-70 75-70"/><path d="M335 418l75-23 75 4 74 49 75 43 75 74 75 41 74 49 75 49 75 51 75 35 75 7 74 14 75-2 75-62 75 1 74-30 75-105 75 17 75-42 74-229 75 137 75-83"/><path d="M335 326l75 7 75-16 74 73 75 65 75 44 75 64 74 75 75 58 75 53 75 35 75 30 74 6 75 9 75 17 75-16 74 13 75-44 75-21 75 3 74-54 75-143 75-65"/><path d="M335 386l75-3 75 21 74 72 75 30 75 52 75 55 74 49 75 45 75 51 75 41 75 11 74 1 75-9 75-20 75-32 74-25 75-84 75 86 75-59 74 148 75-10 75 6"/><path d="M335 349l75 18 75-5 74 38 75 38 75 38 75 82 74 66 75 58 75 42 75 51 75 19 74 7 75-9 75 8 75-21 74 15 75-35 75 3 75-15 74-57 75-144 75-50"/><path d="M335 402l75-37 75-27 74 79 75 28 75 25 75 73 74 35 75 29 75 52 75-90 75 43 74-18 75-54 75-6 75-206 74-17 75-240 75-285 75-446 74 90 75-642 75-586"/><path d="M335 306l75 32 75 23 74 31 75 48 75 34 75 65 74 49 75 37 75 49 75 9 75 13 74-49 75-116 75-78 75-15 74-9 75-91 75-258 75-6 74-205 75 271 75-217"/><path d="M335 343l75-17 75 35 74 27 75 31 75 78 75 57 74 64 75 28 75 34 75 32 75-8 74 23 75-22 75-40 75 68 74-99 75-45 75 150 75-54 74-39 75-249 75-433"/><path d="M335 364l75-58 75-26 74 83 75 46 75 62 75 72 74 59 75 55 75 17 75 42 75-3 74-63 75 52 75-170 75-32 74 76 75-137 75 79 75 42 74-189 75 17 75 267"/><path d="M335 371l75-14 75-7 74 46 75 33 75 84 75 56 74 77 75 62 75 47 75 14 75-2 74 18 75 4 75-102 75-10 74-14 75-4 75 87 75-111 74 5 75-88 75-151"/><path d="M335 355l75-38 75 16 74 21 75 46 75 45 75 53 74 39 75 61 75 26 75-24 75-56 74-112 75-34 75-57 75-129 74-207 75-68 75-38 75-449 74-294 75-300 75-306"/><path d="M335 360l75 0 75 59 74-2 75 40 75 66 75 70 74 55 75 61 75 47 75 32 75 15 74-2 75-7 75-2 75 31 74-119 75-164 75 20 75-38 74 257 75 72 75-148"/><path d="M335 264l75 58 75-49 74 47 75 39 75 76 75 87 74 68 75 68 75 16 75 79 75-8 74-21 75-58 75 15 75-64 74-186 75-130 75 106 75-4 74-145 75 134 75-165"/><path d="M335 299l75 88 75-21 74 37 75 44 75 57 75 63 74 55 75 58 75 57 75 15 75 14 74 10 75 7 75 2 75-75 74 83 75-47 75-5 75-57 74 101 75-83 75-53"/><path d="M335 346l75-15 75-27 74 55 75 49 75 56 75 56 74 60 75 23 75 63 75-2 75-81 74 4 75-173 75 37 75 13 74-73 75-151 75-43 75-35 74-79 75-345 75-167"/><path d="M335 365l75 28 75 35 74 17 75 42 75 66 75 73 74 43 75 46 75 49 75 35 75 13 74 12 75-20 75 18 75-27 74 24 75-26 75-149 75-16 74 93 75-33 75-63"/><path d="M335 305l75 20 75 25 74 30 75 58 75 41 75 52 74 67 75 40 75 15 75 35 75 10 74 19 75-8 75 21 75-20 74-94 75-90 75 80 75-32 74-128 75-123 75-28"/><path d="M335 383l75-34 75 0 74 22 75 43 75 58 75 72 74 14 75 31 75 31 75 10 75 67 74-57 75-69 75 44 75 9 74 42 75-188 75-167 75-34 74-34 75-431 75 65"/><path d="M335 347l75 38 75-18 74 53 75 31 75 66 75 63 74 27 75 42 75-21 75 65 75 28 74-25 75 43 75 12 75-48 74-49 75-109 75 36 75-105 74-152 75-144 75-434"/><path d="M335 337l75-18 75-8 74 51 75 63 75 59 75 63 74 54 75 75 75 28 75 52 75 8 74-33 75 47 75-28 75 1 74-34 75-31 75 55 75-62 74-8 75 62 75-193"/><path d="M335 366l75 26 75 47 74 19 75 44 75 48 75 66 74 47 75 44 75 51 75 18 75 11 74 6 75 28 75-10 75 14 74 5 75-141 75-74 75-90 74 40 75-32 75 53"/><path d="M335 256l75 79 75-12 74 68 75 56 75 43 75 76 74 32 75 85 75-25 75 21 75 0 74-32 75-28 75 22 75-103 74 28 75-216 75 49 75-346 74-104 75-275 75-199"/><path d="M335 338l75-9 75-7 74 70 75 57 75 58 75 70 74 56 75 71 75 54 75 31 75-5 74-14 75 36 75 22 75-13 74-7 75 10 75-12 75 7 74 30 75-146 75 38"/><path d="M335 435l75-84 75 6 74 29 75 50 75 50 75 72 74 81 75 49 75 53 75 29 75-2 74-31 75-60 75 25 75-54 74-74 75 29 75-188 75 227 74 58 75-17 75-207"/><path d="M335 301l75 87 75-2 74 52 75 46 75 61 75 81 74 25 75 35 75 43 75 1 75 0 74 32 75-101 75 20 75-40 74 76 75-175 75-44 75 179 74-236 75-120 75-205"/><path d="M335 404l75-38 75 40 74-3 75 33 75 66 75 61 74 10 75 15 75 51 75-19 75-46 74 0 75-120 75 7 75-87 74-126 75-331 75-130 75-172 74-46 75 203 75-17"/><path d="M335 343l75-5 75 19 74 59 75 25 75 63 75 69 74 58 75 39 75 30 75-26 75 7 74 12 75-44 75-37 75 15 74-112 75-134 75 40 75-314 74-81 75-86 75 373"/><path d="M335 389l75-27 75 12 74 25 75 36 75 58 75 55 74 39 75 43 75 67 75 20 75 28 74-6 75 47 75-27 75-62 74 21 75-71 75-101 75 38 74 17 75-143 75-160"/><path d="M335 428l75-71 75 36 74 46 75-31 75 61 75 62 74 9 75-60 75-29 75-9 75-83 74-195 75-237 75-263 75-90 74-490 75-603 75-740 75-419 74-1011 75-684 75-893"/><path d="M335 248l75 96 75 30 74 34 75 48 75 33 75 77 74 57 75 46 75 39 75-33 75-15 74 81 75 11 75-27 75-75 74 20 75-72 75-63 75-74 74-257 75 148 75-330"/><path d="M335 332l75 26 75-32 74 70 75 16 75 65 75 76 74 22 75 78 75 70 75 0 75 6 74 20 75-4 75-5 75 3 74 24 75-81 75 1 75 92 74-16 75-22 75-9"/><path d="M335 416l75-85 75-6 74 61 75 43 75 49 75 62 74 11 75 44 75 4 75 28 75 22 74 5 75 14 75 10 75-149 74-47 75-73 75-235 75 333 74-3 75-320 75-70"/><path d="M335 307l75 22 75 17 74 62 75 60 75 57 75 62 74 55 75 62 75 49 75 32 75-8 74 23 75-19 75-3 75-63 74 42 75 34 75-29 75 45 74-93 75-152 75 2"/><path d="M335 409l75 23 75-23 74 59 75 41 75 56 75 24 74 42 75 61 75 9 75 27 75-65 74-43 75-19 75-74 75-6 74-173 75-51 75-271 75 50 74-326 75 76 75-130"/><path d="M335 434l75-33 75 8 74 67 75 50 75 34 75 78 74 16 75 53 75 31 75 9 75 18 74-116 75-73 75-149 75-10 74-19 75-152 75-101 75-302 74-169 75-237 75 219"/><path d="M335 358l75-2 75-19 74 80 75 53 75 15 75 48 74 4 75 60 75 15 75 5 75 34 74-47 75-15 75-76 75-107 74-38 75 85 75-275 75-91 74-54 75 147 75 12"/><path d="M335 362l75 27 75-24 74 28 75 16 75 43 75 82 74 60 75 94 75 30 75 51 75-48 74 24 75 53 75-45 75 27 74-39 75 64 75-20 75-34 74-80 75-87 75 112"/><path d="M335 359l75 26 75 36 74 3 75 32 75 53 75 77 74 37 75 21 75 46 75-7 75-59 74-29 75-24 75-96 75-59 74-89 75-7 75 56 75 1 74-66 75-186 75-189"/><path d="M335 335l75 14 75 42 74 8 75 29 75 57 75 73 74 52 75 23 75-12 75-37 75-3 74-68 75-47 75-106 75-350 74-87 75-248 75-324 75-93 74-434 75-224 75-228"/><path d="M335 443l75-107 75 14 74 34 75 44 75 55 75 58 74 49 75 50 75 19 75 49 75-90 74 6 75-113 75 9 75-2 74 57 75 23 75 41 75-24 74-13 75-235 75-215"/><path d="M335 383l75-29 75-29 74 67 75 62 75 55 75 68 74 53 75 59 75 56 75 36 75 15 74 10 75-13 75-32 75-42 74 25 75 0 75-51 75-33 74 70 75 39 75-346"/><path d="M335 328l75 39 75 20 74 19 75 23 75 65 75 61 74 18 75 10 75 52 75 42 75-12 74-24 75-31 75 35 75-148 74 87 75-125 75-79 75 0 74-193 75-203 75-153"/><path d="M335 259l75 82 75 41 74 12 75 51 75 46 75 73 74 57 75 58 75 34 75 27 75 5 74-8 75-22 75-81 75-44 74-14 75-107 75 42 75-146 74-10 75-129 75-58"/><path d="M335 332l75-17 75-19 74 42 75 69 75 72 75 74 74 56 75 67 75 12 75 13 75-4 74 32 75 8 75-8 75 5 74-88 75 39 75-274 75 41 74-220 75 79 75 264"/><path d="M335 335l75-5 75-14 74 61 75 58 75 60 75 58 74 44 75 63 75 12 75 17 75-13 74-86 75-21 75 69 75-97 74-15 75-5 75-340 75-112 74 60 75-264 75-224"/><path d="M335 325l75 43 75 17 74 27 75 28 75 60 75 68 74 63 75 51 75 50 75 38 75 25 74-28 75 12 75 13 75 52 74-8 75-14 75 5 75-30 74 10 75 18 75-44"/><path d="M335 307l75 43 75 28 74 30 75 54 75 24 75 69 74 44 75 48 75 13 75-2 75-42 74-38 75-53 75-47 75-133 74-10 75-66 75-145 75-146 74-290 75 15 75 357"/><path d="M335 390l75-64 75 43 74 23 75 53 75 76 75 70 74 69 75 60 75 37 75 37 75-11 74-2 75-40 75-41 75 82 74-101 75 48 75-136 75 43 74-96 75-98 75 172"/><path d="M335 395l75-90 75 4 74 55 75 22 75 75 75 53 74 84 75 49 75 50 75 43 75-73 74-36 75 21 75-16 75 15 74-14 75-147 75-184 75 214 74-85 75-12 75-96"/><path d="M335 369l75-17 75-16 74 51 75 11 75 69 75 70 74 23 75 40 75 4 75 50 75 0 74 21 75 18 75-122 75 93 74-70 75-138 75-114 75-229 74 50 75-80 75 58"/><path d="M335 362l75 26 75 53 74-23 75 53 75 51 75 53 74 33 75 52 75 61 75 35 75-34 74 33 75-57 75-15 75-179 74-17 75-39 75-99 75-215 74 361 75-300 75 168"/><path d="M335 374l75-19 75-10 74 45 75 30 75 45 75 76 74 35 75 64 75 47 75 10 75 47 74-14 75-88 75 16 75-47 74-34 75-121 75-34 75-39 74 247 75-232 75-15"/><path d="M335 365l75 27 75 15 74 5 75 40 75 50 75 64 74 20 75 65 75 68 75 9 75-2 74-28 75 32 75-11 75-54 74-6 75-148 75 27 75-5 74-19 75-318 75-280"/><path d="M335 404l75 10 75 10 74 31 75 50 75 40 75 72 74 51 75 47 75 43 75 30 75-29 74-23 75-126 75-120 75 54 74-44 75-44 75-58 75 221 74-137 75-111 75 132"/><path d="M335 357l75 4 75 25 74 13 75 33 75 76 75 55 74 59 75 66 75 24 75-3 75 19 74-76 75-56 75-134 75 55 74-166 75 30 75-73 75-60 74-61 75-326 75 40"/><path d="M335 391l75-51 75-31 74 77 75 51 75 63 75 44 74 64 75 67 75 51 75 42 75 18 74-6 75-14 75 18 75 57 74-52 75 32 75-11 75 20 74 15 75 19 75-78"/><path d="M335 336l75 6 75-2 74 60 75 61 75 56 75 56 74 40 75 61 75 11 75 32 75 39 74-95 75-23 75 1 75-75 74-166 75-50 75 22 75-25 74-59 75-253 75-98"/><path d="M335 422l75 2 75 38 74 32 75 22 75 63 75 77 74 50 75 34 75 44 75 14 75 12 74 0 75 13 75 26 75 0 74 8 75-1 75-16 75 25 74-53 75-183 75 21"/><path d="M335 294l75 31 75-28 74 66 75 52 75 44 75 83 74 8 75 56 75 60 75 11 75 19 74-47 75-75 75-123 75-220 74-239 75-245 75-481 75-438 74-475 75-471 75-201"/><path d="M335 275l75 57 75 7 74 61 75 32 75 50 75 82 74 60 75 62 75 35 75 52 75-37 74-33 75 55 75-14 75-52 74-74 75 87 75-12 75 38 74 89 75-27 75-118"/><path d="M335 360l75-10 75 2 74 32 75 30 75 54 75 68 74 43 75 53 75 30 75-31 75 4 74-23 75 26 75-16 75-133 74-108 75-174 75-115 75 51 74-262 75-536 75-121"/><path d="M335 359l75 0 75 37 74 6 75 33 75 36 75 59 74 80 75 75 75 56 75 21 75-38 74 26 75 11 75-13 75 79 74 6 75-39 75 6 75 7 74-139 75-253 75 38"/><path d="M335 389l75-65 75 16 74 16 75 8 75 50 75 83 74 43 75 55 75 57 75 28 75 30 74-33 75-49 75-24 75-76 74-15 75-299 75-194 75-46 74-32 75-421 75-131"/><path d="M335 404l75-60 75-24 74 39 75 57 75 82 75 76 74 91 75 17 75 47 75 33 75-39 74 51 75 31 75-63 75-28 74-123 75-59 75 19 75 29 74-285 75 51 75-79"/><path d="M335 338l75-21 75-30 74 76 75 37 75 45 75 72 74 23 75 45 75 22 75 6 75-7 74-16 75 111 75-54 75-80 74-111 75-48 75 195 75 46 74-341 75-293 75-390"/><path d="M335 390l75-17 75 35 74 47 75 54 75 57 75 54 74 44 75 55 75 45 75 29 75-31 74 26 75-94 75-34 75-144 74 32 75-97 75 151 75 113 74-92 75-2 75 56"/><path d="M335 386l75-42 75 54 74 1 75 60 75 35 75 67 74 55 75-7 75 31 75 26 75-55 74-31 75-19 75 43 75-36 74 2 75-140 75 42 75 156 74-319 75 21 75-726"/><path d="M335 441l75-109 75-19 74 75 75 61 75 51 75 49 74 75 75 61 75-24 75 92 75 28 74-17 75-79 75 12 75-65 74-23 75-164 75 103 75-273 74-345 75 181 75 21"/><path d="M335 326l75 11 75-15 74 77 75 18 75 100 75 49 74 28 75 44 75 60 75 15 75 15 74 11 75 2 75 29 75-96 74 16 75 35 75 33 75-159 74-48 75-83 75 165"/><path d="M335 420l75-38 75-10 74 60 75 45 75 72 75 39 74 60 75 13 75 54 75 46 75-31 74-72 75 69 75-95 75 34 74-41 75-11 75 62 75-104 74-139 75 67 75 38"/><path d="M335 463l75-116 75 53 74 26 75 56 75 38 75 43 74 69 75 50 75 45 75-17 75-45 74 19 75-6 75-24 75 3 74-94 75-15 75-35 75 0 74-11 75-258 75 123"/><path d="M335 245l75 83 75-4 74 3 75 48 75 67 75 67 74 53 75 54 75 52 75 1 75-63 74-71 75-15 75-226 75-106 74-29 75-86 75 150 75-26 74-214 75-42 75-251"/><path d="M335 380l75 26 75 45 74-31 75 30 75 63 75 40 74 48 75 48 75 23 75 32 75 34 74-73 75-84 75-13 75 32 74-39 75-166 75-43 75-215 74 42 75 57 75 5"/><path d="M335 415l75-20 75-38 74 34 75 58 75 54 75 66 74 29 75 31 75 44 75 44 75 11 74-42 75 0 75 18 75 8 74 21 75 47 75-6 75-43 74-78 75-110 75-246"/><path d="M335 390l75 21 75 37 74 17 75 33 75 69 75 63 74 37 75 72 75 20 75 44 75 9 74-17 75 15 75-18 75 28 74-17 75 1 75-118 75 80 74-106 75 57 75-207"/><path d="M335 369l75-3 75 16 74 33 75 69 75 44 75 52 74 49 75 23 75 33 75-28 75-36 74 23 75-40 75-89 75-118 74-86 75-8 75-53 75 85 74 105 75-449 75-61"/><path d="M335 416l75-9 75-21 74 84 75 46 75 46 75 50 74 63 75 36 75 50 75-14 75-6 74-131 75-115 75 107 75-156 74 23 75-14 75-275 75-1 74 321 75 158 75-16"/><path d="M335 391l75-31 75 18 74 16 75 49 75 39 75 81 74 44 75 52 75 8 75-5 75 49 74-90 75 77 75 26 75-23 74-70 75 146 75-35 75 30 74-70 75-175 75 52"/><path d="M335 407l75-24 75-25 74 105 75 30 75 66 75 50 74 64 75 42 75 43 75 40 75 21 74-14 75-6 75 1 75 52 74-24 75-81 75 23 75-107 74 71 75-50 75 62"/><path d="M335 341l75 17 75 34 74 13 75 37 75 77 75 46 74 64 75 59 75 46 75 48 75 11 74-8 75 13 75 11 75-7 74 6 75 2 75-21 75 17 74-46 75-40 75 31"/><path d="M335 356l75 28 75 4 74 42 75 68 75 44 75 68 74 38 75 33 75-48 75 37 75 18 74-15 75 5 75-27 75-58 74-55 75-89 75-194 75 105 74-173 75-414 75-113"/><path d="M335 314l75-5 75-52 74 96 75 52 75 67 75 62 74 68 75 75 75 53 75 36 75-10 74-3 75-4 75-9 75 37 74-105 75 11 75 107 75 12 74 10 75 15 75-55"/><path d="M335 335l75-7 75 30 74 32 75 33 75 49 75 80 74 67 75 60 75 58 75 19 75-8 74 19 75-6 75 46 75-24 74 29 75-106 75-45 75 80 74 75 75-175 75-303"/><path d="M335 319l75-16 75-3 74 52 75 70 75 56 75 44 74 65 75 66 75 54 75-2 75-44 74 41 75-129 75-14 75-58 74 116 75-176 75-157 75-133 74-238 75-27 75-94"/><path d="M335 480l75-49 75-3 74 48 75 38 75 63 75 61 74 73 75 29 75 7 75 25 75 20 74-11 75-61 75 46 75-93 74-35 75-147 75 147 75 175 74-92 75-161 75-4"/><path d="M335 330l75 23 75 7 74 32 75 36 75 54 75 56 74 35 75 33 75 43 75 30 75-79 74 29 75 72 75-149 75-112 74 119 75-226 75 73 75-162 74 113 75-103 75-213"/><path d="M335 354l75-31 75-7 74 65 75 53 75 46 75 62 74 60 75 55 75 58 75 59 75 16 74-35 75-49 75 79 75-21 74-153 75-170 75 87 75-60 74 267 75-235 75-189"/><path d="M335 368l75-16 75 72 74-26 75 22 75 65 75 68 74 39 75 51 75 76 75-12 75 16 74 6 75-92 75 0 75 94 74-110 75-195 75-449 75 11 74-101 75-118 75-79"/><path d="M335 359l75-52 75-31 74 98 75 42 75 57 75 92 74 55 75 75 75 36 75 40 75-1 74-11 75-117 75-74 75 13 74-96 75-41 75-289 75 94 74-57 75 91 75 135"/><path d="M335 364l75 6 75 52 74-8 75 34 75 56 75 61 74 77 75 62 75 55 75 31 75 14 74-22 75 9 75-19 75-57 74 64 75-28 75-71 75 0 74-120 75-7 75-208"/><path d="M335 365l75-18 75-29 74 53 75 65 75 65 75 52 74 85 75 65 75 28 75 49 75-22 74-31 75-12 75-63 75-49 74-111 75-25 75-118 75-2 74-29 75 70 75-130"/><path d="M335 363l75-44 75-3 74 68 75 44 75 43 75 85 74 50 75 30 75 20 75 47 75-26 74-75 75 14 75 60 75-47 74-62 75 30 75 105 75-88 74-144 75-128 75-53"/><path d="M335 276l75 21 75 16 74 49 75 53 75 51 75 75 74 80 75 67 75 45 75 43 75 13 74 5 75 0 75 17 75 12 74 8 75 10 75-27 75-47 74 26 75-133 75-62"/><path d="M335 437l75-76 75-26 74 51 75 51 75 58 75 61 74 30 75 48 75 36 75 26 75 22 74-10 75-47 75-85 75-92 74 16 75-171 75-164 75-141 74-199 75-71 75 208"/><path d="M335 371l75-55 75-11 74 69 75 37 75 51 75 56 74 68 75 66 75 43 75 21 75-67 74-35 75-44 75-101 75-40 74-99 75 99 75 83 75-174 74 111 75 13 75 69"/><path d="M335 355l75 6 75 2 74 36 75 39 75 66 75 64 74 46 75 7 75 83 75 5 75-28 74-24 75 19 75-62 75 18 74 38 75 17 75-111 75 87 74 31 75-88 75 79"/><path d="M335 380l75-18 75 64 74-15 75 14 75 82 75 73 74 33 75 40 75 16 75 64 75 28 74 21 75-18 75-9 75-110 74 89 75-67 75-186 75 62 74-56 75-28 75 1"/><path d="M335 305l75 1 75-33 74 89 75 30 75 67 75 45 74 36 75 57 75 51 75-8 75-43 74-15 75-28 75-114 75-32 74-130 75-77 75-254 75 244 74 161 75-142 75-131"/><path d="M335 340l75 18 75 14 74 48 75 57 75 82 75 80 74 48 75 54 75 18 75-20 75 19 74-71 75 19 75 5 75-10 74-235 75-31 75-50 75-99 74 154 75 14 75-124"/><path d="M335 406l75-75 75-27 74 62 75 35 75 72 75 57 74 33 75 63 75 8 75 34 75 15 74-51 75-39 75 65 75-82 74 54 75-155 75-22 75-214 74-352 75 65 75 73"/><path d="M335 344l75-28 75-13 74 46 75 43 75 54 75 75 74 63 75 27 75 14 75 58 75-43 74 27 75-61 75-2 75-218 74-112 75-145 75 35 75-215 74-84 75-420 75-325"/><path d="M335 326l75 68 75 4 74 20 75 41 75 60 75 73 74 74 75 40 75 70 75 23 75 19 74 5 75 11 75 23 75 8 74 8 75-10 75 12 75 16 74 17 75-19 75-34"/><path d="M335 375l75-9 75 84 74-17 75 24 75 83 75 77 74 63 75 45 75 45 75 15 75-6 74-9 75 25 75 19 75-6 74 31 75-42 75-36 75-133 74-266 75-79 75-45"/><path d="M335 442l75-34 75 37 74 16 75 32 75 41 75 41 74 46 75 30 75 25 75-1 75 75 74-66 75-25 75-88 75-37 74-11 75-47 75 22 75 57 74 62 75-160 75-276"/><path d="M335 387l75-32 75 18 74 37 75 53 75 67 75 57 74 59 75 47 75 48 75 15 75 29 74 21 75 10 75 12 75-13 74-100 75 46 75 49 75-20 74 6 75-86 75 60"/><path d="M335 371l75-41 75 28 74 58 75 55 75 73 75 43 74 61 75 62 75 43 75 32 75-13 74-9 75 2 75-14 75 17 74-63 75 91 75-53 75-155 74-292 75 299 75-88"/><path d="M335 318l75-2 75-47 74 87 75 15 75 55 75 55 74 28 75 51 75 38 75-15 75-14 74-39 75-137 75 146 75-149 74-195 75-25 75-1 75-41 74-246 75 128 75-364"/><path d="M335 314l75 8 75-15 74 63 75 22 75 93 75 55 74 65 75 37 75 47 75 66 75 12 74-14 75-24 75 6 75-60 74-74 75-171 75-97 75-221 74-126 75-133 75-55"/><path d="M335 329l75-28 75-42 74 96 75 19 75 64 75 79 74 33 75 23 75 78 75 33 75 53 74-38 75 27 75-29 75-137 74-166 75-132 75-65 75-122 74 67 75 24 75 170"/><path d="M335 353l75-7 75-17 74 48 75 51 75 66 75 75 74 64 75 70 75 57 75 42 75-6 74-2 75 20 75 7 75-1 74 19 75 5 75-16 75 31 74 1 75 12 75-68"/><path d="M335 369l75 6 75-35 74 66 75 38 75 51 75 69 74 52 75 49 75 18 75 4 75-21 74-79 75-59 75 18 75-142 74-71 75 93 75 115 75 6 74-100 75-33 75-71"/><path d="M335 336l75-11 75-5 74 58 75 48 75 50 75 62 74 76 75 42 75 46 75 25 75-37 74-42 75-73 75-45 75-128 74 84 75-231 75 154 75 116 74 80 75 41 75 118"/><path d="M335 355l75-66 75-1 74 71 75 49 75 69 75 72 74 63 75 58 75 50 75 35 75 17 74-10 75-37 75 31 75 3 74-31 75-207 75 16 75-209 74 99 75-52 75-89"/><path d="M335 301l75 25 75 26 74 39 75 47 75 75 75 78 74 77 75 68 75 55 75 16 75-26 74-21 75-8 75-81 75 47 74-27 75-116 75 52 75-62 74 89 75-166 75-306"/><path d="M335 340l75-8 75-15 74 61 75 47 75 55 75 55 74 50 75 76 75-3 75 37 75 31 74 43 75-45 75-60 75-29 74-3 75-274 75-107 75 187 74 129 75-286 75 168"/><path d="M335 381l75 0 75 6 74-7 75 14 75 54 75 68 74 60 75 59 75 17 75 29 75-78 74-24 75 5 75 63 75 40 74-66 75-80 75-260 75-169 74-35 75-14 75 43"/><path d="M335 357l75 26 75-1 74 46 75 46 75 71 75 63 74 64 75 45 75 8 75 38 75-8 74-19 75 7 75-38 75-95 74-86 75 12 75 33 75-160 74 30 75 22 75-113"/><path d="M335 317l75 16 75 61 74 24 75 26 75 62 75 57 74 62 75 86 75 41 75 39 75 18 74-1 75-11 75-29 75-5 74-23 75-189 75-32 75 142 74-45 75-207 75 182"/><path d="M335 301l75-9 75-16 74 91 75 47 75 59 75 70 74 66 75 66 75 16 75 8 75 2 74-6 75 13 75-74 75-83 74-203 75-151 75-294 75-333 74-556 75-416 75-765"/><path d="M335 397l75-30 75 24 74 1 75 20 75 62 75 28 74 37 75 10 75 49 75 74 75 6 74-62 75-105 75-162 75 84 74-39 75-147 75-116 75 22 74-71 75 330 75-172"/><path d="M335 327l75 5 75-48 74 63 75 57 75 66 75 70 74 27 75 74 75 22 75 16 75 30 74 11 75-90 75-34 75-136 74 64 75-322 75 36 75-158 74 3 75 161 75 35"/><path d="M335 296l75 32 75 1 74 47 75 46 75 44 75 74 74 28 75 21 75 47 75-17 75-32 74-1 75-60 75 7 75 6 74-40 75-266 75 132 75-200 74-202 75-466 75-225"/><path d="M335 451l75-97 75-24 74 60 75 37 75 42 75 75 74 70 75 64 75 47 75-24 75-54 74 58 75 80 75-15 75-45 74 89 75-20 75-16 75-17 74-39 75 66 75 1"/><path d="M335 391l75-27 75 29 74 15 75 15 75 57 75 60 74 43 75 17 75 43 75 51 75-76 74 77 75-20 75-82 75-193 74-28 75 52 75-144 75-24 74 35 75-135 75-36"/><path d="M335 386l75 23 75-10 74 22 75 50 75 73 75 46 74 61 75 54 75 46 75 36 75-17 74-41 75 30 75-26 75-44 74-19 75 21 75-14 75 31 74-83 75-125 75 27"/><path d="M335 394l75-48 75 27 74 29 75 43 75 57 75 53 74 77 75 55 75 60 75 33 75-8 74-103 75 51 75-47 75 2 74-75 75-81 75 105 75-74 74 121 75-242 75-302"/><path d="M335 319l75-17 75-45 74 111 75 31 75 48 75 70 74 46 75-1 75 28 75 70 75 17 74-69 75 8 75-14 75 16 74-112 75-115 75 7 75-39 74 13 75-479 75-158"/><path d="M335 356l75-1 75 36 74 22 75 26 75 90 75 50 74 71 75 64 75 44 75 37 75 12 74-9 75 19 75 8 75-47 74 73 75-2 75-37 75 25 74 16 75-5 75-13"/><path d="M335 325l75-36 75-18 74 65 75 67 75 53 75 71 74 68 75 54 75-4 75 3 75 70 74-26 75 54 75 11 75-17 74-51 75 90 75-117 75 143 74-44 75-194 75 18"/><path d="M335 389l75-20 75-8 74 46 75 36 75 88 75 44 74 64 75 39 75 59 75 41 75 2 74-16 75-23 75-5 75 21 74-175 75-177 75-47 75-71 74 74 75-368 75 245"/><path d="M335 344l75 17 75-5 74 57 75 32 75 55 75 50 74 47 75 67 75 54 75 51 75-58 74-16 75-9 75-13 75 23 74-81 75 15 75-64 75-16 74 59 75 72 75-427"/><path d="M335 365l75-24 75-17 74 57 75 50 75 60 75 69 74 65 75 61 75 43 75-24 75-5 74-24 75-28 75-62 75 196 74 15 75 4 75 3 75 6 74-164 75 70 75-71"/><path d="M335 439l75-10 75 82 74-5 75 12 75 39 75 44 74 61 75 45 75 44 75 23 75-12 74 7 75-71 75-47 75-119 74-76 75-142 75-93 75 76 74-34 75-128 75-413"/><path d="M335 321l75 44 75-40 74 72 75 35 75 63 75 73 74 53 75 43 75 36 75 19 75 10 74-54 75 48 75-51 75-140 74 32 75-19 75-40 75 168 74-182 75-576 75 240"/><path d="M335 388l75-8 75-55 74 77 75 42 75 58 75 78 74 52 75 75 75 52 75 27 75 11 74-6 75-15 75 16 75-38 74-119 75 64 75-45 75 25 74 105 75-50 75-227"/><path d="M335 320l75 25 75 19 74 44 75 33 75 67 75 53 74 47 75 70 75 49 75 58 75 5 74-16 75-58 75-11 75 57 74-67 75-22 75 40 75-93 74 104 75-24 75-223"/><path d="M335 249l75 89 75-7 74 54 75 39 75 60 75 69 74 71 75 51 75 51 75 45 75 6 74 2 75 8 75 24 75-38 74-145 75 55 75 80 75 43 74-39 75-308 75 7"/><path d="M335 366l75 0 75-24 74 55 75 25 75 35 75 77 74 49 75 18 75 9 75-41 75-53 74-26 75-89 75-98 75-95 74-106 75-62 75 65 75-142 74 161 75-641 75-299"/><path d="M335 421l75-52 75 37 74 40 75 8 75 49 75 53 74 61 75 62 75 40 75-2 75 17 74-7 75-52 75-32 75 12 74-117 75-63 75 35 75-116 74-42 75-29 75-323"/><path d="M335 322l75-19 75 49 74 7 75 32 75 73 75 61 74 66 75 55 75 51 75 38 75 26 74-29 75 43 75 22 75 4 74 2 75-26 75-21 75 43 74-75 75-58 75-13"/><path d="M335 348l75-12 75-10 74 67 75 29 75 63 75 60 74 73 75 54 75 12 75 85 75 6 74-12 75-28 75 67 75-35 74-39 75-39 75-305 75 275 74-14 75-210 75-107"/><path d="M335 308l75 7 75-20 74 34 75 35 75 53 75 43 74 24 75 16 75 27 75-2 75-28 74-34 75-77 75-109 75-119 74-90 75-93 75-202 75 77 74-131 75-74 75 99"/><path d="M335 352l75-40 75-12 74 37 75 60 75 70 75 56 74 53 75 53 75 46 75-48 75-26 74-37 75-85 75-146 75 9 74-29 75-65 75 64 75 42 74-45 75-175 75-222"/><path d="M335 330l75-11 75 9 74 52 75 54 75 54 75 67 74 64 75 61 75 61 75 13 75 12 74-43 75 30 75-91 75 92 74-6 75 18 75 40 75-97 74-12 75 35 75-202"/><path d="M335 397l75-46 75-28 74 78 75 61 75 39 75 69 74 58 75 56 75 36 75 26 75-62 74-10 75 7 75 16 75-27 74-3 75-5 75 63 75 69 74-95 75-105 75 121"/><path d="M335 261l75-5 75-7 74 95 75 63 75 47 75 86 74 71 75 58 75 44 75 18 75 26 74-50 75-17 75 21 75-78 74 4 75-58 75-175 75 16 74-192 75-74 75 137"/><path d="M335 394l75-12 75-17 74 72 75 31 75 30 75 105 74 46 75 39 75 46 75 21 75-57 74 13 75 6 75-8 75-41 74 21 75-145 75-96 75 35 74-17 75-16 75 17"/><path d="M335 402l75-55 75-1 74 45 75 59 75 32 75 74 74 39 75 68 75 14 75 57 75-12 74-64 75 8 75-26 75 40 74-20 75 6 75 110 75 24 74 12 75-229 75-108"/><path d="M335 398l75-25 75-10 74 58 75 27 75 48 75 68 74 53 75 56 75 61 75 40 75-55 74 7 75-60 75-46 75-19 74 33 75-221 75-102 75-223 74-104 75-177 75-8"/><path d="M335 342l75 30 75 14 74-1 75 44 75 72 75 67 74 77 75 58 75 31 75 38 75-17 74-49 75 22 75 30 75-30 74-77 75 128 75-31 75 54 74 13 75-91 75-89"/><path d="M335 336l75-3 75 25 74 22 75 40 75 59 75 51 74 76 75 64 75 47 75 25 75-34 74-92 75-13 75-79 75-113 74-72 75-164 75 36 75 23 74 1 75-11 75 174"/><path d="M335 380l75-6 75-12 74 53 75 47 75 60 75 48 74 51 75 56 75 15 75-9 75-67 74 12 75-40 75 27 75-74 74 68 75-48 75-163 75-126 74-106 75-286 75-263"/><path d="M335 342l75-33 75-21 74 69 75 29 75 77 75 72 74 46 75-9 75 49 75 44 75 23 74-4 75 12 75-1 75-17 74-26 75-115 75-149 75-115 74-105 75-127 75-158"/><path d="M335 341l75-11 75 9 74 75 75 38 75 64 75 54 74 45 75 71 75 18 75 39 75-33 74 11 75-12 75-53 75-3 74-106 75-24 75-144 75-96 74-148 75-97 75-219"/><path d="M335 379l75 12 75 12 74 40 75 58 75 35 75 56 74 76 75 53 75 5 75 50 75-15 74 9 75-103 75-52 75-15 74-76 75-64 75 34 75 165 74-187 75-217 75-347"/><path d="M335 346l75-36 75-13 74 73 75 67 75 64 75 66 74 75 75 60 75 50 75 38 75 9 74-52 75 11 75-25 75 82 74-2 75 24 75-6 75 12 74 29 75-41 75-34"/><path d="M335 406l75-41 75 3 74 48 75 30 75 52 75 34 74 76 75 72 75 59 75 40 75 9 74 5 75-37 75-37 75-59 74-107 75 82 75-120 75-188 74-324 75-206 75 14"/><path d="M335 419l75-19 75 8 74 51 75 28 75 80 75 57 74 34 75 48 75 38 75 55 75-8 74-74 75-27 75-48 75 24 74-251 75 59 75 76 75-63 74-158 75-92 75-85"/><path d="M335 411l75-16 75 16 74 52 75 62 75 73 75 62 74-11 75-9 75-25 75 6 75-43 74-55 75-99 75-121 75-332 74-361 75-330 75-166 75-626 74-842 75-203 75-615"/><path d="M335 381l75-47 75-6 74 79 75 11 75 58 75 61 74 58 75 39 75 46 75 31 75-16 74-44 75-30 75 72 75-90 74-67 75-125 75-207 75 251 74-92 75-119 75-77"/><path d="M335 410l75-18 75 35 74 46 75 61 75 74 75 72 74 40 75 38 75 8 75-8 75 13 74-24 75-1 75 31 75-44 74-122 75-98 75 75 75-17 74 99 75-96 75-222"/><path d="M335 407l75-95 75 39 74 31 75 19 75 47 75 45 74 18 75 9 75 80 75 20 75-26 74-20 75 70 75-47 75-39 74-40 75-130 75-211 75 11 74-390 75-48 75-387"/><path d="M335 348l75-22 75 13 74 77 75 26 75 62 75 52 74 64 75 53 75 33 75 47 75 11 74-43 75 43 75 19 75 16 74-17 75-33 75-110 75 122 74 1 75-128 75 144"/><path d="M335 312l75 15 75-25 74 61 75 48 75 50 75 75 74 73 75 81 75 55 75 37 75 3 74-9 75 24 75 7 75-27 74-42 75 18 75-59 75 8 74-21 75 3 75-106"/><path d="M335 411l75-66 75-48 74 83 75 24 75 54 75 54 74 68 75 79 75 38 75-16 75-4 74-17 75 37 75 60 75-73 74-184 75-55 75-188 75-3 74-167 75-120 75-71"/><path d="M335 551l75-151 75 55 74-3 75 37 75 54 75 70 74 11 75 53 75 23 75 22 75-18 74-26 75 25 75 22 75 46 74 49 75-129 75 15 75 11 74 21 75-268 75 65"/><path d="M335 348l75 10 75 24 74 59 75 42 75 67 75 40 74 20 75 59 75 72 75-28 75 2 74-27 75-31 75-7 75-7 74-70 75-176 75-95 75-125 74-20 75-55 75-138"/><path d="M335 342l75 28 75-20 74 85 75 62 75 55 75 64 74 32 75 32 75 0 75-36 75-39 74-11 75 45 75-89 75 23 74-17 75-182 75-15 75 52 74-47 75-204 75-37"/><path d="M335 482l75-91 75-2 74 55 75 44 75 48 75 62 74 17 75 35 75 10 75 38 75-24 74 75 75 29 75-57 75-65 74-34 75 95 75 3 75-163 74 159 75-106 75-209"/><path d="M335 337l75-11 75-62 74 95 75 43 75 90 75 59 74 61 75 56 75 58 75 42 75 6 74 3 75 30 75 19 75-44 74-22 75-67 75-35 75 23 74-32 75-206 75-177"/><path d="M335 305l75 39 75 60 74 1 75 58 75 43 75 73 74 51 75 47 75 56 75 24 75-68 74 13 75 42 75-51 75-81 74-277 75 63 75-38 75 68 74-139 75 63 75-127"/><path d="M335 342l75-21 75 6 74 31 75 45 75 62 75 61 74 74 75 45 75 26 75 7 75-49 74-2 75-99 75-45 75 9 74 74 75-150 75-269 75-85 74-230 75-235 75 203"/><path d="M335 333l75 5 75 39 74 18 75 31 75 56 75 61 74 46 75 63 75-4 75 87 75-18 74-4 75-21 75-37 75 84 74-63 75-87 75 72 75-252 74-141 75-349 75 26"/><path d="M335 370l75-36 75-23 74 54 75 52 75 61 75 63 74 42 75 64 75 9 75 13 75 69 74-23 75-23 75 42 75 3 74-162 75 45 75 29 75 122 74-30 75-16 75-66"/><path d="M335 357l75 49 75 10 74 38 75 18 75 32 75 84 74 59 75 50 75 13 75-56 75-36 74-21 75 15 75 2 75 6 74-91 75-41 75 53 75-89 74 14 75-124 75 1"/><path d="M335 280l75 81 75-19 74 51 75 14 75 80 75 71 74 41 75 69 75 59 75 55 75-39 74-48 75 1 75 48 75-55 74-42 75-69 75 63 75-225 74 158 75-10 75-186"/><path d="M335 262l75 66 75-49 74 80 75 51 75 78 75 62 74 67 75 53 75 62 75 40 75 5 74-2 75-11 75-43 75 29 74 8 75 16 75 29 75 25 74 14 75 8 75-25"/><path d="M335 318l75 31 75 11 74 64 75 39 75 52 75 63 74 58 75 33 75-32 75 47 75-3 74-35 75-89 75 106 75-78 74 5 75-23 75 103 75 151 74-36 75-24 75-234"/><path d="M335 405l75-15 75-32 74 67 75 45 75 69 75 50 74 37 75 35 75 9 75-6 75-10 74 18 75-96 75-97 75 2 74 17 75-58 75-23 75-114 74-14 75-102 75-177"/><path d="M335 366l75 41 75 32 74 27 75 18 75 61 75 46 74 63 75 37 75 10 75 0 75 46 74-23 75-91 75 76 75-22 74-35 75-3 75 15 75-13 74 114 75-158 75-169"/><path d="M335 384l75 1 75-6 74 55 75 28 75 66 75 61 74 58 75 53 75 23 75 3 75-15 74-35 75-42 75-14 75-26 74-169 75-118 75-187 75-21 74 130 75-6 75 91"/><path d="M335 384l75 40 75-21 74 12 75 37 75 54 75 26 74 30 75 39 75 2 75 82 75-26 74-33 75-20 75-7 75-109 74-75 75-121 75 4 75-220 74-118 75-404 75-268"/><path d="M335 360l75-11 75-7 74 81 75 30 75 52 75 55 74 24 75 38 75 82 75-38 75-54 74 9 75-66 75 116 75-68 74-100 75 70 75-122 75 128 74 4 75-79 75-148"/><path d="M335 373l75 59 75 50 74-27 75 41 75 39 75 60 74 73 75 34 75 28 75 18 75 40 74-47 75 59 75-61 75-19 74-88 75-55 75-31 75-200 74 116 75 173 75 25"/><path d="M335 380l75-32 75-34 74 68 75 30 75 50 75 64 74 33 75 51 75 24 75 4 75-27 74 22 75 36 75-101 75-95 74-231 75 2 75-166 75 199 74-69 75-272 75 25"/><path d="M335 413l75 8 75-38 74 106 75 31 75 31 75 71 74 62 75 15 75 50 75 21 75-50 74-69 75-65 75-110 75-226 74-48 75-6 75-77 75-14 74 131 75 255 75-279"/><path d="M335 354l75 0 75 19 74 31 75 44 75 38 75 72 74 59 75 83 75 38 75 26 75-12 74-41 75-32 75 25 75-47 74-110 75 20 75-328 75-140 74 140 75 10 75-516"/><path d="M335 417l75-23 75 5 74 34 75 44 75 49 75 72 74 38 75 45 75 72 75 18 75-88 74 65 75-30 75 3 75-215 74-71 75-59 75-87 75 6 74-72 75-339 75-78"/><path d="M335 358l75 6 75-68 74 75 75 56 75 78 75 50 74 40 75 12 75 16 75 2 75-20 74-82 75 48 75 81 75-67 74-26 75-271 75 77 75 65 74-20 75-81 75 206"/><path d="M335 595l75-193 75-6 74 83 75 16 75 51 75 66 74 46 75 50 75 47 75 48 75 14 74-2 75-18 75 9 75-32 74-111 75 6 75-7 75 68 74-236 75 42 75-123"/><path d="M335 324l75 49 75 29 74 37 75 33 75 66 75 68 74 59 75 54 75 33 75 37 75 6 74 0 75-1 75 23 75 3 74 18 75 0 75 6 75 34 74-22 75 32 75-12"/><path d="M335 241l75 105 75 21 74 17 75 31 75 38 75 68 74 47 75-2 75 86 75 12 75 5 74-14 75-41 75-45 75 31 74-30 75-71 75 173 75-181 74-113 75 96 75-188"/><path d="M335 344l75 12 75 10 74 29 75 51 75 54 75 81 74 57 75 58 75 55 75 50 75 2 74-22 75-14 75-30 75-3 74 22 75 84 75 7 75 25 74 25 75-11 75 3"/><path d="M335 425l75-27 75 34 74 19 75 33 75 49 75 63 74 60 75 56 75 49 75 34 75 10 74 7 75 18 75 15 75-16 74-1 75 9 75-7 75-25 74-112 75 106 75-24"/><path d="M335 389l75-38 75 18 74 37 75 28 75 71 75 79 74 24 75 48 75-7 75 94 75-18 74-9 75-46 75 0 75-14 74-108 75 33 75-68 75 17 74 69 75-179 75-246"/><path d="M335 322l75 13 75 3 74 33 75 20 75 78 75 55 74 77 75 35 75 2 75 7 75-21 74-54 75 45 75 60 75-58 74-70 75 15 75-435 75 170 74 24 75-70 75-119"/><path d="M335 375l75 8 75 49 74 3 75 38 75 43 75 45 74 36 75 60 75 32 75-4 75-66 74-115 75-154 75-166 75-355 74-298 75-264 75-393 75-719 74-528 75-236 75-577"/><path d="M335 402l75-66 75-4 74 30 75 41 75 20 75 11 74 58 75 40 75 38 75 12 75-23 74-45 75 70 75-11 75 5 74-10 75-79 75-180 75-197 74-319 75-101 75-581"/><path d="M335 306l75 51 75 37 74 9 75 56 75 63 75 69 74 50 75 49 75 2 75 16 75-2 74-86 75-24 75 81 75-181 74 29 75-32 75 64 75 116 74 78 75-282 75 32"/><path d="M335 413l75-11 75-57 74 120 75 23 75 26 75 40 74 69 75-11 75-37 75 58 75-15 74 37 75 33 75-53 75 80 74-134 75-84 75 143 75-84 74 136 75 78 75-44"/><path d="M335 369l75 14 75-56 74 54 75 61 75 59 75 85 74 3 75-16 75 12 75 47 75-100 74-51 75 49 75-84 75-226 74 145 75-281 75 27 75-89 74 469 75-310 75-298"/><path d="M335 357l75-18 75 1 74 44 75 20 75 69 75 66 74 34 75-2 75 93 75 21 75-46 74 99 75 0 75-86 75-20 74 62 75-185 75-40 75 42 74-30 75-105 75-399"/><path d="M335 376l75 22 75 11 74 41 75 24 75 74 75 79 74-10 75 36 75 13 75 15 75-9 74-7 75-80 75-68 75-37 74-73 75-148 75 18 75-248 74-78 75-197 75-14"/><path d="M335 373l75 12 75 3 74 47 75 27 75 83 75 52 74 48 75 52 75 54 75 49 75 11 74 4 75-1 75 25 75-32 74 0 75-149 75-61 75-13 74-37 75-124 75 138"/><path d="M335 372l75-11 75-13 74 60 75 48 75 14 75 64 74 57 75 41 75 2 75 57 75-25 74 8 75-77 75 2 75-24 74 89 75-206 75 28 75-162 74-106 75-159 75-381"/><path d="M335 395l75 24 75 7 74 32 75 48 75 29 75 59 74 19 75 20 75 23 75 62 75 20 74-36 75 41 75 52 75 27 74-19 75 39 75-73 75-32 74 40 75 38 75-11"/><path d="M335 344l75-9 75 0 74 44 75 32 75 43 75 70 74 57 75 23 75-2 75 70 75-67 74-44 75-152 75-135 75 115 74-96 75-161 75-152 75 125 74-18 75-304 75-278"/><path d="M335 260l75 4 75-12 74 77 75 51 75 61 75 64 74 78 75 50 75 23 75-22 75 59 74-22 75-54 75-73 75-64 74-173 75-143 75-62 75-72 74-97 75-178 75-327"/><path d="M335 308l75 78 75 48 74-34 75 42 75 59 75 62 74 64 75 58 75 41 75 12 75 38 74-35 75 17 75-20 75-45 74 51 75-33 75 6 75-126 74-183 75-28 75 106"/><path d="M335 289l75 22 75-39 74 73 75 79 75 52 75 69 74 60 75 71 75 34 75 21 75 28 74-26 75-39 75-82 75 36 74-99 75 33 75-115 75 76 74 0 75-165 75-136"/><path d="M335 340l75 52 75 41 74-1 75 27 75 57 75 61 74-30 75 17 75 42 75 24 75-6 74-80 75 45 75 6 75-34 74-127 75-152 75-14 75-190 74-89 75 89 75-269"/><path d="M335 372l75-10 75 9 74 57 75 30 75 65 75 63 74 28 75 1 75 10 75-16 75-45 74-80 75-11 75-26 75-183 74 96 75-400 75-203 75-142 74-189 75-184 75-210"/><path d="M335 381l75 24 75 26 74-31 75 54 75 43 75 73 74 65 75 66 75 61 75 18 75 33 74-6 75-27 75 18 75-39 74-154 75 85 75-64 75-179 74 30 75 28 75-197"/><path d="M335 324l75 59 75 17 74 25 75 51 75 49 75 50 74 55 75 30 75 17 75-17 75-28 74 35 75-45 75-133 75 75 74 31 75-110 75 23 75-55 74 41 75 128 75-3"/><path d="M335 320l75-23 75-11 74 33 75 73 75 52 75 73 74 66 75 31 75 53 75 33 75-4 74 9 75 14 75-11 75-13 74-30 75-149 75 22 75 184 74-107 75 38 75-86"/><path d="M335 399l75-38 75 51 74 2 75 35 75 36 75 68 74 30 75 73 75 39 75-33 75-41 74-153 75-45 75 20 75-69 74-83 75 43 75 5 75-67 74-261 75-292 75-225"/><path d="M335 410l75-64 75 5 74 88 75 64 75 61 75 77 74 52 75 46 75-45 75-54 75-56 74-50 75-43 75-47 75-28 74-66 75-66 75-348 75-268 74-99 75-443 75-405"/><path d="M335 378l75-5 75-14 74 35 75 55 75 52 75 70 74 49 75 58 75-14 75-33 75 18 74-75 75-36 75 56 75-144 74 134 75-75 75 29 75 49 74-158 75-524 75 79"/><path d="M335 371l75-1 75-3 74 12 75 38 75 44 75 77 74 52 75 22 75 71 75 6 75-79 74-36 75-71 75-66 75-3 74-110 75-129 75-121 75-101 74 55 75 180 75 149"/><path d="M335 399l75-67 75 68 74-25 75 21 75 60 75 68 74 18 75 33 75 19 75-54 75 14 74 14 75-48 75-196 75-152 74-22 75 80 75 113 75 36 74 32 75-44 75-5"/><path d="M335 541l75-220 75 5 74 44 75 40 75 44 75 70 74 43 75 16 75 5 75 13 75-108 74-125 75-165 75-135 75-229 74-229 75-371 75-349 75-508 74-338 75-343 75-805"/><path d="M335 345l75-29 75-67 74 131 75 62 75 57 75 67 74 65 75 58 75 46 75 44 75 6 74-22 75 4 75 62 75 10 74-5 75-46 75-36 75 33 74 69 75-105 75 31"/><path d="M335 379l75-32 75 44 74 5 75 28 75 48 75 91 74 41 75 5 75 25 75 32 75-20 74 24 75 21 75-84 75-6 74-31 75-112 75 121 75-206 74-272 75-148 75-360"/><path d="M335 349l75-9 75-57 74 122 75 49 75 54 75 75 74 61 75 52 75 51 75 24 75 8 74-90 75-127 75-14 75 1 74-179 75-184 75-35 75-42 74 148 75 24 75 206"/><path d="M335 343l75 55 75 25 74 40 75 20 75 34 75 72 74 23 75 47 75 57 75 48 75 4 74-20 75 7 75-65 75-87 74 65 75-6 75-1 75-71 74 162 75-188 75-132"/><path d="M335 378l75 28 75 4 74 36 75-4 75 54 75 59 74 60 75 28 75 37 75 44 75-56 74-6 75-7 75-14 75 15 74-47 75-114 75-12 75-166 74-52 75 87 75-24"/><path d="M335 389l75-30 75 8 74 18 75 40 75 64 75 61 74 67 75 35 75 17 75 48 75 8 74-50 75-20 75-12 75 33 74-117 75-89 75-71 75 0 74 168 75-240 75 55"/><path d="M335 422l75 44 75 31 74-11 75 40 75 43 75 60 74 22 75-10 75 13 75-6 75 9 74-106 75-162 75-111 75-90 74 129 75-5 75-126 75-79 74-64 75-272 75-346"/><path d="M335 323l75-12 75-21 74 72 75 56 75 44 75 61 74 57 75 63 75 43 75 37 75 38 74 1 75-41 75 21 75-57 74-132 75-148 75-106 75 92 74-151 75 40 75-21"/><path d="M335 374l75-85 75-41 74 96 75 65 75 69 75 24 74 44 75 53 75 64 75-17 75 23 74 19 75-4 75-184 75-1 74-95 75-86 75-23 75-258 74-193 75-423 75 149"/><path d="M335 598l75-196 75 14 74 21 75 60 75 47 75 21 74 52 75 53 75 5 75 55 75-51 74 100 75-33 75-74 75-90 74 148 75-118 75-79 75-33 74-158 75-440 75 509"/><path d="M335 368l75 29 75 31 74-9 75 33 75 66 75 73 74 56 75 64 75 52 75 6 75-32 74 37 75 5 75-28 75-25 74 14 75 1 75-97 75-206 74 7 75-142 75 182"/><path d="M335 412l75-71 75-8 74 65 75 33 75 73 75 67 74 58 75 59 75 42 75 44 75 10 74-16 75 18 75-8 75-13 74-26 75-45 75 57 75 84 74-45 75 9 75 38"/><path d="M335 333l75 38 75 3 74 7 75 53 75 35 75 72 74 60 75-3 75 35 75 67 75 18 74-59 75-56 75-43 75-51 74 6 75-153 75-340 75 50 74-112 75 19 75-153"/><path d="M335 249l75 38 75-56 74 117 75 33 75 63 75 89 74 67 75 32 75 49 75 49 75 35 74-62 75-15 75-66 75-151 74 40 75-105 75-121 75 107 74 58 75-253 75 147"/><path d="M335 384l75-16 75 76 74-28 75 33 75 62 75 59 74 75 75 27 75 74 75 23 75 16 74-13 75-22 75-41 75-15 74 60 75-71 75 26 75-3 74-126 75 189 75-242"/><path d="M335 320l75-15 75 35 74 33 75 62 75 59 75 70 74 71 75 63 75 53 75 17 75-27 74-38 75 11 75 44 75 79 74-12 75-71 75 31 75-8 74-22 75 62 75-45"/><path d="M335 433l75-38 75-6 74 31 75 20 75 61 75 75 74 54 75 60 75 24 75 27 75-7 74-68 75 18 75 10 75-147 74-36 75-189 75-109 75-170 74-139 75-352 75 98"/><path d="M335 366l75 30 75-30 74 84 75 50 75 74 75 49 74 74 75 39 75 43 75 13 75-29 74-27 75-51 75 30 75-54 74-89 75-256 75 236 75 120 74 74 75-163 75-277"/><path d="M335 299l75 36 75-19 74 27 75 65 75 64 75 64 74 57 75 43 75 41 75 18 75-3 74 42 75-10 75 8 75-48 74-78 75-23 75-147 75 87 74-196 75 78 75 126"/><path d="M335 449l75-163 75-1 74 91 75 66 75 65 75 85 74 76 75 72 75 44 75 39 75 12 74-17 75 5 75-4 75-24 74 2 75-7 75-18 75 29 74 62 75-10 75-45"/><path d="M335 359l75-18 75 44 74 12 75 40 75 58 75 71 74 68 75 64 75 46 75 49 75-4 74 7 75-37 75 53 75-47 74-34 75-170 75 18 75-12 74-165 75-221 75-25"/><path d="M335 315l75 23 75 18 74 66 75 24 75 41 75 60 74 40 75 35 75 92 75 23 75 1 74 32 75-76 75 18 75-43 74 99 75 11 75 16 75-14 74 31 75-15 75 36"/><path d="M335 379l75-21 75 24 74 29 75 55 75 37 75 64 74 71 75 39 75-18 75 38 75 24 74-9 75 22 75 78 75 16 74 1 75-42 75-58 75-90 74-195 75 120 75-293"/><path d="M335 430l75-40 75 5 74 26 75 64 75 55 75 62 74 46 75 49 75 42 75 51 75-4 74-7 75-18 75 21 75-2 74 20 75-34 75-16 75 13 74-191 75-313 75-119"/><path d="M335 343l75-19 75 14 74 28 75 54 75 62 75 69 74 48 75 13 75 60 75 53 75-38 74-17 75 25 75 0 75-40 74-13 75-34 75 55 75 61 74-316 75-167 75-67"/><path d="M335 364l75-14 75 32 74 29 75 31 75 57 75 75 74 51 75 74 75 43 75 5 75-22 74 11 75-56 75-118 75-6 74-121 75-324 75 67 75 85 74 282 75-129 75 25"/><path d="M335 354l75 9 75 63 74-56 75 54 75 48 75 45 74 45 75 41 75 56 75-8 75 9 74 77 75-34 75-88 75-123 74 49 75-99 75 3 75-144 74-51 75-3 75 158"/><path d="M335 401l75-65 75-33 74 85 75 37 75 79 75 57 74 74 75 63 75 50 75 24 75 23 74-12 75 8 75-35 75 36 74 23 75 3 75-15 75-44 74-12 75-152 75-461"/><path d="M335 338l75-8 75-41 74 77 75 36 75 70 75 61 74 63 75 37 75 28 75 41 75 14 74 40 75-42 75-105 75 57 74-136 75-195 75-70 75-277 74-41 75-141 75 45"/><path d="M335 348l75-11 75 28 74 3 75 49 75 55 75 24 74-1 75 35 75 66 75 35 75 3 74-5 75-47 75-79 75-159 74-213 75-273 75-207 75-374 74-518 75-449 75-720"/><path d="M335 327l75-18 75-3 74 58 75 33 75 59 75 89 74 69 75 39 75 22 75-12 75-21 74-14 75-73 75-121 75-41 74 75 75-242 75-46 75 60 74-24 75-210 75 15"/><path d="M335 441l75 22 75-22 74 36 75 56 75 12 75 62 74 52 75-6 75 14 75-15 75-16 74 6 75-45 75-145 75-200 74-95 75 65 75-81 75-342 74-202 75-89 75 474"/><path d="M335 387l75-38 75 42 74 34 75 62 75 29 75 62 74 54 75 46 75 33 75 62 75 18 74-20 75-30 75 38 75-65 74-12 75-82 75 123 75 74 74-35 75-282 75 140"/><path d="M335 364l75 19 75 37 74-4 75 25 75 55 75 31 74 16 75-45 75 5 75-41 75-6 74-2 75-70 75-57 75-156 74-176 75-418 75-361 75-479 74-378 75-736 75-446"/><path d="M335 545l75-231 75-19 74 71 75 41 75 60 75 70 74 72 75 67 75 65 75 27 75 18 74 5 75 14 75 22 75-13 74-38 75 26 75 1 75-93 74-152 75 14 75 57"/><path d="M335 382l75 44 75-18 74 46 75 31 75 70 75 58 74 56 75 45 75 45 75 26 75 2 74-20 75 10 75 42 75-9 74 10 75-68 75-19 75 40 74 24 75 33 75-19"/><path d="M335 401l75-15 75 36 74 24 75 67 75 44 75 72 74 58 75 49 75 54 75 37 75 4 74 3 75 6 75-25 75-20 74-95 75 8 75-23 75 4 74-238 75 92 75 114"/><path d="M335 357l75-47 75 18 74 47 75 32 75 49 75 69 74 46 75 60 75 37 75-13 75 18 74-7 75-21 75-31 75-77 74-31 75-83 75-109 75-179 74 119 75-191 75-94"/><path d="M335 358l75 6 75 25 74 55 75 49 75 62 75 73 74 63 75 61 75 6 75-59 75-101 74-95 75-235 75-248 75-342 74-307 75-464 75-535 75-607 74-617 75-659 75-626"/><path d="M335 384l75 30 75 3 74 26 75 43 75 26 75 62 74 61 75 73 75 43 75 9 75-5 74-16 75 10 75-36 75-35 74-117 75 86 75 41 75 65 74 36 75-196 75-297"/><path d="M335 335l75 11 75 47 74 28 75 52 75 58 75 59 74 79 75 42 75 47 75 19 75 7 74 4 75-36 75 0 75 2 74-54 75 8 75 54 75-100 74-80 75 150 75-7"/><path d="M335 339l75 34 75 59 74 28 75 25 75 41 75 57 74 35 75 63 75 15 75-19 75 0 74-19 75 4 75-4 75-72 74-101 75-117 75 188 75 57 74 70 75-20 75-195"/><path d="M335 405l75-54 75 6 74 62 75 47 75 50 75 69 74 68 75 60 75-13 75 4 75 14 74-45 75 11 75-41 75-41 74-97 75-70 75-66 75 117 74 14 75 60 75-102"/><path d="M335 370l75-44 75 40 74 38 75 42 75 49 75 58 74 50 75 38 75 96 75 33 75-31 74-47 75 34 75-89 75-173 74 15 75-174 75-45 75 106 74 76 75-64 75-231"/><path d="M335 465l75-87 75 13 74 10 75 46 75 43 75 58 74 42 75 18 75 14 75 21 75-37 74 17 75 56 75-155 75-11 74-14 75-175 75-224 75 51 74-90 75-94 75-311"/><path d="M335 318l75-11 75 19 74 41 75 59 75 60 75 69 74 62 75 48 75 35 75 35 75-62 74-59 75-15 75-18 75-40 74-133 75-118 75-209 75 167 74 3 75-126 75 21"/><path d="M335 397l75 2 75 18 74 10 75 52 75 44 75 47 74 55 75 44 75 4 75-12 75-45 74-7 75 64 75-95 75-10 74 55 75-34 75-158 75 176 74 37 75-127 75 40"/><path d="M335 325l75 28 75 23 74 15 75 37 75 61 75 71 74 73 75 50 75 60 75 48 75 7 74 4 75-21 75 1 75-125 74 37 75-74 75 65 75 127 74-57 75 61 75-84"/><path d="M335 360l75 2 75 52 74 26 75 29 75 36 75 61 74 46 75 61 75 19 75 27 75 16 74 8 75-52 75 45 75-92 74-43 75-58 75-19 75-86 74 24 75-166 75-43"/><path d="M335 305l75 43 75 48 74-3 75 44 75 70 75 48 74 36 75 74 75 51 75-47 75 22 74-45 75 19 75 12 75-118 74 20 75-49 75-124 75-103 74-136 75 184 75-264"/><path d="M335 393l75-9 75-10 74 64 75 50 75 75 75 54 74 50 75 57 75 56 75-3 75 2 74-54 75 25 75-3 75-36 74 7 75-70 75-260 75-98 74-136 75 85 75 88"/><path d="M335 327l75 9 75 17 74 35 75 30 75 56 75 61 74 12 75-7 75-8 75 4 75-18 74 54 75-189 75 39 75-255 74-95 75 45 75-297 75-175 74-59 75 157 75-429"/><path d="M335 348l75 9 75-19 74 39 75 47 75 46 75 64 74 72 75 65 75 58 75 16 75 26 74-10 75-22 75 45 75-78 74 8 75-68 75-29 75 112 74-51 75-117 75 31"/><path d="M335 382l75-1 75-1 74 37 75 41 75 70 75 83 74 59 75 63 75 40 75 22 75 3 74 4 75 3 75 13 75 14 74 2 75 31 75-10 75-112 74-16 75-61 75 158"/><path d="M335 330l75-14 75-15 74 74 75 45 75 71 75 61 74 71 75 54 75 60 75 4 75-89 74-46 75-36 75-69 75-132 74-153 75-353 75-274 75-257 74-322 75-448 75-472"/><path d="M335 276l75 52 75-11 74 54 75 41 75 61 75 58 74 78 75 64 75 52 75 41 75 7 74-1 75-1 75-33 75 67 74-36 75-69 75 17 75-92 74 86 75 44 75-308"/><path d="M335 327l75 20 75-16 74 61 75 37 75 69 75 65 74 12 75 46 75 49 75 14 75 4 74 21 75-7 75 59 75-24 74-16 75-13 75-137 75-203 74 234 75 18 75-116"/><path d="M335 245l75 38 75 35 74 29 75 53 75 60 75 52 74 79 75 68 75 22 75 52 75-15 74 3 75 27 75 30 75-90 74-6 75-144 75-101 75 30 74-38 75-305 75 87"/><path d="M335 383l75 13 75-17 74 59 75 21 75 53 75 53 74 66 75 57 75 47 75 28 75 12 74-61 75-5 75-63 75 31 74 26 75 36 75-105 75-118 74 224 75 17 75-127"/><path d="M335 298l75-3 75-13 74 54 75 73 75 57 75 65 74 70 75 70 75 53 75 27 75-6 74-5 75-22 75 46 75-49 74 97 75 25 75-41 75 16 74-8 75-5 75 15"/><path d="M335 382l75-38 75-12 74 73 75 17 75 57 75 65 74 66 75 73 75 21 75 26 75-14 74-69 75 9 75-7 75 10 74 92 75-56 75 0 75-135 74-159 75-35 75-289"/><path d="M335 406l75-78 75 1 74 35 75 49 75 49 75 75 74 55 75 45 75 52 75-31 75-14 74 16 75 21 75-95 75 6 74-25 75 43 75 93 75-44 74 18 75-319 75 64"/><path d="M335 389l75 27 75 41 74 43 75 21 75 64 75 38 74 37 75-5 75 28 75-25 75 27 74-23 75-21 75-53 75-39 74-190 75-306 75-397 75-377 74-222 75-377 75-838"/><path d="M335 401l75-44 75-21 74 57 75 27 75 40 75 51 74 6 75 24 75 20 75-2 75 18 74 20 75-162 75-58 75-134 74 39 75-80 75-109 75-301 74-276 75 355 75-233"/><path d="M335 355l75-19 75 36 74 35 75 38 75 29 75 46 74 26 75 33 75 17 75 12 75-1 74-115 75-79 75-145 75-27 74 97 75-259 75 137 75-141 74 149 75-87 75-184"/><path d="M335 496l75-123 75-4 74 34 75 48 75 61 75 69 74 62 75 64 75 53 75 42 75 1 74-8 75-1 75 28 75 15 74-15 75 43 75 5 75 2 74 20 75-30 75-169"/><path d="M335 326l75 87 75 22 74 36 75 46 75 40 75 56 74 29 75 50 75 55 75-33 75-81 74-81 75-131 75-154 75-11 74-329 75-230 75-319 75-468 74-553 75-598 75-855"/><path d="M335 388l75-7 75 5 74 50 75 54 75 44 75 47 74 26 75 55 75 11 75 28 75-8 74-44 75 76 75-60 75-18 74 64 75-69 75-27 75 3 74-93 75-205 75-25"/><path d="M335 376l75 15 75 44 74-3 75 57 75 35 75 54 74 68 75 30 75 36 75 29 75 11 74 12 75-45 75 45 75-62 74-128 75-9 75 27 75 60 74-8 75-149 75-62"/><path d="M335 299l75 78 75 12 74 20 75 42 75 48 75 45 74 37 75 59 75 0 75 33 75 1 74-4 75-26 75-22 75 112 74-31 75-169 75-259 75-130 74-249 75-177 75-255"/><path d="M335 356l75-2 75 25 74-3 75 52 75 76 75 67 74 65 75 49 75 23 75 27 75 27 74-23 75 22 75-85 75 11 74-52 75-53 75-26 75-22 74 98 75-43 75 15"/><path d="M335 342l75-6 75-18 74 45 75 53 75 72 75 79 74 69 75 39 75 47 75 20 75-29 74-54 75 43 75-69 75-82 74 27 75-77 75-123 75 58 74-316 75-288 75 44"/><path d="M335 355l75-36 75 27 74 3 75 72 75 67 75 59 74 50 75-25 75 22 75 37 75-18 74-28 75 15 75-90 75 28 74 48 75-28 75-238 75-287 74 80 75-300 75-154"/><path d="M335 321l75-21 75-57 74 83 75 53 75 37 75 89 74 30 75-7 75-58 75 34 75-24 74-44 75-196 75-179 75-242 74-245 75-328 75-480 75-307 74-602 75-485 75-493"/><path d="M335 352l75-4 75 8 74 51 75 14 75 78 75 76 74 73 75 19 75 27 75 7 75 25 74-49 75 2 75 56 75-15 74 5 75-111 75 11 75 14 74 9 75 55 75-28"/><path d="M335 415l75-28 75 43 74 14 75 30 75 59 75 67 74 47 75 26 75 19 75-46 75-5 74 48 75 11 75 39 75 31 74-30 75 5 75-100 75 23 74-258 75-568 75-45"/><path d="M335 256l75 17 75-36 74 89 75 55 75 64 75 81 74 74 75 64 75 54 75 11 75 9 74-45 75-14 75 89 75-105 74-76 75 7 75-317 75 78 74 153 75-153 75 271"/><path d="M335 327l75-11 75-23 74 44 75 59 75 46 75 90 74 55 75 37 75 48 75-22 75-27 74-18 75-13 75-124 75 25 74-9 75-120 75-4 75 46 74-172 75-81 75-135"/><path d="M335 325l75 11 75-3 74 37 75 46 75 66 75 69 74 33 75 53 75 62 75-28 75 51 74-26 75 29 75 14 75-39 74 73 75-50 75-41 75 39 74-127 75-219 75-65"/><path d="M335 371l75 1 75-18 74 54 75 41 75 59 75 70 74 60 75 62 75 59 75 36 75 12 74-7 75 18 75 5 75-66 74 54 75-82 75-126 75-14 74-136 75-33 75 225"/><path d="M335 375l75-26 75 28 74-11 75 52 75 44 75 79 74 70 75 78 75 28 75 47 75-54 74 18 75 13 75-6 75-35 74 10 75-50 75 92 75 16 74 32 75-7 75-94"/><path d="M335 288l75 26 75 11 74 56 75 43 75 71 75 45 74 65 75 71 75 35 75 21 75-40 74-13 75-56 75-25 75-144 74 34 75-222 75 148 75 35 74-274 75 82 75-570"/><path d="M335 423l75-57 75-14 74 47 75 61 75 48 75 60 74 66 75 69 75 70 75-7 75-12 74 19 75-12 75-64 75-98 74-45 75-71 75-78 75-39 74-65 75-131 75-75"/><path d="M335 468l75-72 75 24 74-24 75 35 75 58 75 69 74 39 75-17 75 39 75 24 75-46 74-55 75-7 75-143 75-91 74 92 75-44 75-234 75-4 74-150 75-264 75-453"/><path d="M335 349l75 21 75 4 74 45 75 40 75 55 75 57 74 61 75 61 75 19 75 43 75 15 74-6 75-69 75-31 75-64 74-52 75-339 75-61 75-106 74-123 75 25 75 100"/><path d="M335 545l75-197 75-6 74 43 75 50 75 65 75 58 74 28 75 42 75 52 75 30 75-3 74 7 75 16 75-44 75-91 74-14 75-109 75 155 75-37 74-154 75 2 75-198"/><path d="M335 338l75-11 75-5 74 68 75 58 75 75 75 72 74 19 75 69 75 54 75-30 75 45 74-34 75-14 75 8 75-145 74-90 75-33 75-92 75-154 74-97 75-272 75-154"/><path d="M335 426l75 20 75 60 74 32 75 16 75 59 75 85 74 28 75 29 75 48 75 9 75-38 74-63 75 11 75-40 75-128 74 116 75-31 75-111 75 66 74-109 75-15 75 84"/><path d="M335 399l75-26 75-21 74 81 75 23 75 67 75 56 74 52 75 64 75 25 75 8 75-20 74 16 75 7 75-55 75 62 74 11 75 17 75 3 75 17 74 32 75 27 75-171"/><path d="M335 433l75-124 75 3 74 42 75 45 75 82 75 68 74 68 75 48 75 59 75 35 75-13 74 12 75-82 75-51 75-91 74-58 75-151 75 30 75-25 74-7 75 90 75-54"/><path d="M335 392l75-51 75 40 74 8 75 52 75 49 75 35 74 55 75 62 75 46 75 2 75 15 74-68 75-61 75-144 75-113 74-153 75-223 75-70 75-306 74-293 75-679 75-265"/><path d="M335 405l75 4 75 15 74 34 75 42 75 56 75 62 74 44 75 44 75 37 75 2 75 16 74 31 75 32 75 2 75-34 74-131 75 4 75 132 75-130 74-11 75-51 75-243"/><path d="M335 341l75 8 75-9 74 69 75 23 75 63 75 59 74 40 75 50 75 61 75 31 75-25 74-32 75-77 75 12 75-55 74-81 75-54 75 116 75-227 74 79 75-351 75 26"/><path d="M335 391l75 10 75 6 74 62 75 21 75 29 75 56 74 62 75 33 75 16 75 34 75 0 74 5 75-8 75 39 75 2 74-9 75-92 75-193 75 34 74 6 75-27 75-122"/><path d="M335 415l75-8 75-60 74 72 75 47 75 79 75 53 74 66 75 37 75-29 75 37 75-2 74 76 75-36 75 11 75 7 74-7 75 6 75-87 75-40 74-214 75 201 75-48"/><path d="M335 437l75-56 75 17 74 23 75 22 75 57 75 82 74 16 75 21 75 42 75 64 75-96 74-45 75-12 75 2 75-60 74-51 75-100 75 42 75-113 74-299 75 157 75-29"/><path d="M335 389l75-38 75 0 74 26 75 24 75 61 75 56 74 14 75 29 75 40 75 8 75-12 74-20 75-66 75-92 75-29 74-10 75-172 75-107 75-84 74-38 75-153 75 56"/></g></g><g clip-path="url(#c)" fill="none" stroke="#000" stroke-width="6.4" stroke-linejoin="round"><polyline points="335.0,357.0 409.8,348.8 484.6,376.0 559.3,419.5 634.1,456.5 640.1,460.3 646.1,464.2 652.1,468.1 658.1,472.1 664.1,476.1 670.1,480.2 676.1,484.3 682.1,488.5 688.1,492.7 694.1,496.9 700.1,501.2 706.1,505.4 712.1,509.7 718.1,514.0 724.1,518.4 730.1,522.7 736.1,527.0 742.1,531.4 748.1,535.7 754.1,540.0 760.1,544.3 766.1,548.6 772.1,552.9 778.1,557.2 784.1,561.4 790.1,565.6 796.1,569.8 802.1,574.0 808.1,578.1 814.1,582.2 820.1,586.2 826.1,590.2 832.1,594.1 838.1,598.0 844.1,601.8 850.1,605.5 856.1,609.2 862.1,612.9 868.1,616.5 874.1,620.0 880.1,623.4 886.1,626.7 892.1,630.0 898.1,633.2 904.1,636.3 910.1,639.4 916.1,642.3 922.1,645.2 928.1,647.9 934.1,650.6 940.1,653.2 946.1,655.6 952.1,658.0 958.1,660.3 964.1,662.4 970.1,664.5 976.1,666.4 982.1,668.2 988.1,669.9 994.1,671.4 1000.1,672.9 1006.1,674.2 1012.1,675.4 1018.1,676.4 1024.1,677.4 1030.1,678.2 1036.1,678.9 1042.1,679.5 1048.1,679.9 1054.1,680.3 1060.1,680.5 1066.1,680.7 1072.1,680.7 1078.1,680.6 1084.1,680.5 1090.1,680.2 1096.1,679.8 1102.1,679.3 1108.1,678.8 1114.1,678.1 1120.1,677.4 1126.1,676.5 1132.1,675.6 1138.1,674.6 1144.1,673.5 1150.1,672.3 1156.1,671.0 1162.1,669.7 1168.1,668.3 1174.1,666.8 1180.1,665.2 1186.1,663.6 1192.1,661.9 1198.1,660.1 1204.1,658.3 1210.1,656.4 1216.1,654.4 1222.1,652.4 1228.1,650.4 1234.1,648.2 1240.1,646.1 1246.1,643.8 1252.1,641.5 1258.1,639.2 1264.1,636.8 1270.1,634.4 1276.1,632.0 1282.1,629.5 1288.1,626.9 1294.1,624.4 1300.1,621.8 1306.1,619.1 1312.1,616.4 1318.1,613.7 1324.1,611.0 1330.1,608.3 1336.1,605.5 1342.1,602.7 1348.1,599.9 1354.1,597.0 1360.1,594.1 1366.1,591.2 1372.1,588.3 1378.1,585.3 1384.1,582.4 1390.1,579.3 1396.1,576.3 1402.1,573.3 1408.1,570.2 1414.1,567.1 1420.1,564.0 1426.1,560.8 1432.1,557.7 1438.1,554.5 1444.1,551.3 1450.1,548.0 1456.1,544.8 1462.1,541.5 1468.1,538.2 1474.1,534.9 1480.1,531.5 1486.1,528.2 1492.1,524.8 1498.1,521.4 1504.1,518.0 1510.1,514.5 1516.1,511.1 1522.1,507.6 1528.1,504.0 1534.1,500.5 1540.1,496.9 1546.1,493.3 1552.1,489.6 1558.1,485.9 1564.1,482.1 1570.1,478.3 1576.1,474.5 1582.1,470.6 1588.1,466.6 1594.1,462.5 1600.1,458.4 1606.1,454.3 1612.1,450.0 1618.1,445.7 1624.1,441.4 1630.1,436.9 1636.1,432.3 1642.1,427.7 1648.1,423.0 1654.1,418.2 1660.1,413.3 1666.1,408.3 1672.1,403.2 1678.1,398.0 1684.1,392.7 1690.1,387.3 1696.1,381.8 1702.1,376.2 1708.1,370.5 1714.1,364.7 1720.1,358.8 1726.1,352.8 1732.1,346.7 1738.1,340.5 1744.1,334.2 1750.1,327.9 1756.1,321.5 1762.1,315.0 1768.1,308.5 1774.1,301.8 1780.1,295.1 1786.1,288.4 1792.1,281.6 1798.1,274.7 1804.1,267.7 1810.1,260.7 1816.1,253.7 1822.1,246.6 1828.1,239.5 1834.1,232.3 1840.1,225.1 1846.1,217.8 1852.1,210.5 1858.1,203.2 1864.1,195.9 1870.1,188.5 1876.1,181.1 1882.1,173.7 1888.1,166.2 1894.1,158.8 1900.1,151.3 1906.1,143.8 1912.1,136.3 1918.1,128.8 1924.1,121.4 1930.1,113.9 1936.1,106.4 1942.1,98.9 1948.1,91.4 1954.1,83.9 1960.1,76.5 1966.1,69.1 1972.1,61.6 1978.1,54.3 1984.1,46.9"/><polyline points="336.0,459.4 342.0,459.0 348.0,458.6 354.0,458.2 360.0,457.8 366.0,457.4 372.0,457.1 378.0,456.8 384.0,456.5 390.0,456.3 396.0,456.1 402.0,455.9 408.0,455.8 414.0,455.7 420.0,455.6 426.0,455.6 432.0,455.7 438.0,455.8 444.0,455.9 450.0,456.2 456.0,456.4 462.0,456.8 468.0,457.2 474.0,457.7 480.0,458.2 486.0,458.8 492.0,459.5 498.0,460.3 504.0,461.1 510.0,462.1 516.0,463.1 522.0,464.2 528.0,465.4 534.0,466.7 540.0,468.1 546.0,469.6 552.0,471.2 558.0,472.9 564.0,474.7 570.0,476.6 576.0,478.6 582.0,480.7 588.0,483.0 594.0,485.3 600.0,487.8 606.0,490.4 612.0,493.2 618.0,496.1 624.0,499.1 630.0,502.3 636.0,505.6 642.0,509.1 648.0,512.8 654.0,516.6 660.0,520.6 666.0,524.7 672.0,528.9 678.0,533.2 684.0,537.6 690.0,542.1 696.0,546.6 702.0,551.2 708.0,555.8 714.0,560.5 720.0,565.2 726.0,569.9 732.0,574.7 738.0,579.4 744.0,584.2 750.0,589.0 756.0,593.8 762.0,598.7 768.0,603.5 774.0,608.3 780.0,613.2 786.0,618.1 792.0,622.9 798.0,627.8 804.0,632.7 810.0,637.5 816.0,642.4 822.0,647.2 828.0,652.1 834.0,656.9 840.0,661.7 846.0,666.5 852.0,671.2 858.0,676.0 864.0,680.7 870.0,685.4 876.0,690.1 882.0,694.7 888.0,699.4 894.0,703.9 900.0,708.5 906.0,713.0 912.0,717.5 918.0,721.9 924.0,726.3 930.0,730.6 936.0,734.9 942.0,739.1 948.0,743.3 954.0,747.4 960.0,751.5 966.0,755.5 972.0,759.4 978.0,763.3 984.0,767.1 990.0,770.9 996.0,774.5 1002.0,778.2 1008.0,781.7 1014.0,785.1 1020.0,788.5 1026.0,791.8 1032.0,795.0 1038.0,798.1 1044.0,801.2 1050.0,804.1 1056.0,807.0 1062.0,809.8 1068.0,812.4 1074.0,815.0 1080.0,817.5 1086.0,819.8 1092.0,822.1 1098.0,824.3 1104.0,826.3 1110.0,828.3 1116.0,830.2 1122.0,832.0 1128.0,833.7 1134.0,835.3 1140.0,836.9 1146.0,838.4 1152.0,839.8 1158.0,841.2 1164.0,842.5 1170.0,843.8 1176.0,845.0 1182.0,846.2 1188.0,847.4 1194.0,848.5 1200.0,849.5 1206.0,850.6 1212.0,851.6 1218.0,852.7 1224.0,853.7 1230.0,854.7 1236.0,855.7 1242.0,856.7 1248.0,857.7 1254.0,858.7 1260.0,859.7 1266.0,860.7 1272.0,861.7 1278.0,862.8 1284.0,863.8 1290.0,864.9 1296.0,866.0 1302.0,867.1 1308.0,868.2 1314.0,869.3 1320.0,870.4 1326.0,871.5 1332.0,872.7 1338.0,873.9 1344.0,875.1 1350.0,876.3 1356.0,877.5 1362.0,878.7 1368.0,880.0 1374.0,881.3 1380.0,882.6 1386.0,883.9 1392.0,885.3 1398.0,886.6 1404.0,888.0 1410.0,889.4 1416.0,890.9 1422.0,892.4 1428.0,893.8 1434.0,895.3 1440.0,896.9 1446.0,898.4 1452.0,900.0 1458.0,901.5 1464.0,903.1 1470.0,904.7 1476.0,906.4 1482.0,908.0 1488.0,909.7 1494.0,911.3 1500.0,913.0 1506.0,914.7 1512.0,916.4 1518.0,918.1 1524.0,919.9 1530.0,921.6 1536.0,923.3 1542.0,925.1 1548.0,926.8 1554.0,928.6 1560.0,930.4 1566.0,932.1 1572.0,933.9 1578.0,935.7 1584.0,937.5 1590.0,939.3 1596.0,941.1 1602.0,942.9 1608.0,944.7 1614.0,946.4 1620.0,948.2 1626.0,950.0 1632.0,951.8 1638.0,953.6 1644.0,955.4 1650.0,957.1 1656.0,958.9 1662.0,960.7 1668.0,962.4 1674.0,964.2 1680.0,965.9 1686.0,967.6 1692.0,969.3 1698.0,971.0 1704.0,972.7 1710.0,974.4 1716.0,976.1 1722.0,977.8 1728.0,979.4 1734.0,981.0 1740.0,982.6 1746.0,984.2 1752.0,985.8 1758.0,987.4 1764.0,988.9 1770.0,990.5 1776.0,992.0 1782.0,993.5 1788.0,994.9 1794.0,996.4 1800.0,997.8 1806.0,999.2 1812.0,1000.6 1818.0,1001.9 1824.0,1003.3 1830.0,1004.6 1836.0,1005.8 1842.0,1007.1 1848.0,1008.3 1854.0,1009.5 1860.0,1010.7 1866.0,1011.8 1872.0,1012.9 1878.0,1014.0 1884.0,1015.0 1890.0,1016.0 1896.0,1017.0 1902.0,1017.9 1908.0,1018.8 1914.0,1019.7 1920.0,1020.5 1926.0,1021.3 1932.0,1022.1 1938.0,1022.8 1944.0,1023.5 1950.0,1024.1 1956.0,1024.7 1962.0,1025.3 1968.0,1025.8 1974.0,1026.3 1980.0,1026.7 1986.0,1027.1" stroke-dasharray="41,17,10,17"/><polyline points="336.0,1381.5 342.0,1381.5 348.0,1381.5 354.0,1381.5 360.0,1381.5 366.0,1381.4 372.0,1381.4 378.0,1381.4 384.0,1381.3 390.0,1381.3 396.0,1381.2 402.0,1381.1 408.0,1381.0 414.0,1380.9 420.0,1380.8 426.0,1380.7 432.0,1380.6 438.0,1380.5 444.0,1380.3 450.0,1380.2 456.0,1380.0 462.0,1379.8 468.0,1379.6 474.0,1379.4 480.0,1379.2 486.0,1379.0 492.0,1378.7 498.0,1378.5 504.0,1378.2 510.0,1377.9 516.0,1377.6 522.0,1377.3 528.0,1377.0 534.0,1376.6 540.0,1376.3 546.0,1375.9 552.0,1375.6 558.0,1375.2 564.0,1374.7 570.0,1374.3 576.0,1373.9 582.0,1373.4 588.0,1373.0 594.0,1372.5 600.0,1372.0 606.0,1371.5 612.0,1370.9 618.0,1370.4 624.0,1369.8 630.0,1369.2 636.0,1368.6 642.0,1368.0 648.0,1367.4 654.0,1366.7 660.0,1366.0 666.0,1365.4 672.0,1364.6 678.0,1363.9 684.0,1363.2 690.0,1362.4 696.0,1361.6 702.0,1360.8 708.0,1360.0 714.0,1359.2 720.0,1358.3 726.0,1357.4 732.0,1356.5 738.0,1355.6 744.0,1354.7 750.0,1353.7 756.0,1352.7 762.0,1351.7 768.0,1350.7 774.0,1349.6 780.0,1348.6 786.0,1347.5 792.0,1346.4 798.0,1345.2 804.0,1344.1 810.0,1342.9 816.0,1341.7 822.0,1340.4 828.0,1339.2 834.0,1337.9 840.0,1336.6 846.0,1335.3 852.0,1334.0 858.0,1332.6 864.0,1331.2 870.0,1329.8 876.0,1328.3 882.0,1326.9 888.0,1325.4 894.0,1323.9 900.0,1322.3 906.0,1320.7 912.0,1319.1 918.0,1317.5 924.0,1315.9 930.0,1314.2 936.0,1312.5 942.0,1310.8 948.0,1309.0 954.0,1307.2 960.0,1305.4 966.0,1303.6 972.0,1301.7 978.0,1299.8 984.0,1297.9 990.0,1296.0 996.0,1294.0 1002.0,1292.0 1008.0,1289.9 1014.0,1287.9 1020.0,1285.8 1026.0,1283.7 1032.0,1281.5 1038.0,1279.3 1044.0,1277.1 1050.0,1274.9 1056.0,1272.6 1062.0,1270.3 1068.0,1267.9 1074.0,1265.6 1080.0,1263.2 1086.0,1260.7 1092.0,1258.3 1098.0,1255.8 1104.0,1253.3 1110.0,1250.7 1116.0,1248.1 1122.0,1245.5 1128.0,1242.8 1134.0,1240.1 1140.0,1237.4 1146.0,1234.7 1152.0,1231.9 1158.0,1229.1 1164.0,1226.2 1170.0,1223.3 1176.0,1220.4 1182.0,1217.4 1188.0,1214.4 1194.0,1211.4 1200.0,1208.3 1206.0,1205.2 1212.0,1202.1 1218.0,1198.9 1224.0,1195.7 1230.0,1192.5 1236.0,1189.2 1242.0,1185.9 1248.0,1182.5 1254.0,1179.2 1260.0,1175.7 1266.0,1172.3 1272.0,1168.8 1278.0,1165.2 1284.0,1161.7 1290.0,1158.0 1296.0,1154.4 1302.0,1150.7 1308.0,1147.0 1314.0,1143.2 1320.0,1139.4 1326.0,1135.5 1332.0,1131.6 1338.0,1127.7 1344.0,1123.7 1350.0,1119.7 1356.0,1115.6 1362.0,1111.5 1368.0,1107.4 1374.0,1103.2 1380.0,1098.9 1386.0,1094.6 1392.0,1090.3 1398.0,1086.0 1404.0,1081.5 1410.0,1077.1 1416.0,1072.6 1422.0,1068.0 1428.0,1063.4 1434.0,1058.8 1440.0,1054.1 1446.0,1049.3 1452.0,1044.6 1458.0,1039.7 1464.0,1034.8 1470.0,1029.9 1476.0,1024.9 1482.0,1019.9 1488.0,1014.8 1494.0,1009.7 1500.0,1004.5 1506.0,999.3 1512.0,994.0 1518.0,988.6 1524.0,983.2 1530.0,977.8 1536.0,972.3 1542.0,966.7 1548.0,961.1 1554.0,955.4 1560.0,949.6 1566.0,943.8 1572.0,937.9 1578.0,932.0 1584.0,926.0 1590.0,920.0 1596.0,913.8 1602.0,907.6 1608.0,901.4 1614.0,895.0 1620.0,888.7 1626.0,882.2 1632.0,875.7 1638.0,869.1 1644.0,862.4 1650.0,855.6 1656.0,848.8 1662.0,841.9 1668.0,835.0 1674.0,827.9 1680.0,820.8 1686.0,813.6 1692.0,806.4 1698.0,799.1 1704.0,791.8 1710.0,784.3 1716.0,776.9 1722.0,769.3 1728.0,761.8 1734.0,754.2 1740.0,746.5 1746.0,738.8 1752.0,731.0 1758.0,723.2 1764.0,715.4 1770.0,707.6 1776.0,699.7 1782.0,691.8 1788.0,683.8 1794.0,675.8 1800.0,667.8 1806.0,659.8 1812.0,651.8 1818.0,643.8 1824.0,635.7 1830.0,627.6 1836.0,619.5 1842.0,611.4 1848.0,603.3 1854.0,595.2 1860.0,587.0 1866.0,578.8 1872.0,570.6 1878.0,562.4 1884.0,554.1 1890.0,545.8 1896.0,537.4 1902.0,529.0 1908.0,520.5 1914.0,512.0 1920.0,503.4 1926.0,494.8 1932.0,486.1 1938.0,477.4 1944.0,468.6 1950.0,459.7 1956.0,450.8 1962.0,441.8 1968.0,432.7 1974.0,423.5 1980.0,414.2 1986.0,404.9" stroke-dasharray="34,33"/><polyline points="335.0,1284.0 409.8,1278.5 484.6,1306.0 560.0,1338.0 603.7,1343.5 642.8,1348.6 681.9,1353.3 721.0,1356.5 762.0,1358.4 801.0,1361.0 840.0,1363.0 881.0,1365.0 1000.0,1366.8 1500.0,1370.5 1982.0,1374.3" stroke-dasharray="10,29.5"/></g><g stroke="#000" stroke-width="4.3" fill="none"><path d="M336,56.9V1397M310,1386.2H1984M310,1386.0H336M310,1120.6H336M310,855.2H336M310,589.8H336M310,324.4H336M310,59.0H336M323,1253.3H336M323,987.9H336M323,722.5H336M323,457.1H336M323,191.7H336M484.6,1386V1410M634.1,1386V1397M783.7,1386V1410M933.2,1386V1397M1082.8,1386V1410M1232.3,1386V1397M1381.9,1386V1410M1531.4,1386V1397M1681.0,1386V1410M1830.5,1386V1397M1980.1,1386V1410"/></g><g font-family="Liberation Serif, Times New Roman, serif" font-size="70.0" fill="#000"><text x="269" y="1146.1" text-anchor="end">1×10</text><text x="270" y="1118.1" font-size="47.0">6</text><text x="269" y="880.7" text-anchor="end">2×10</text><text x="270" y="852.7" font-size="47.0">6</text><text x="269" y="615.3" text-anchor="end">3×10</text><text x="270" y="587.3" font-size="47.0">6</text><text x="269" y="349.9" text-anchor="end">4×10</text><text x="270" y="321.9" font-size="47.0">6</text><text x="269" y="84.5" text-anchor="end">5×10</text><text x="270" y="56.5" font-size="47.0">6</text><text x="292" y="1406.5" text-anchor="end">0</text><text x="484.6" y="1480" text-anchor="middle">2</text><text x="783.7" y="1480" text-anchor="middle">4</text><text x="1082.8" y="1480" text-anchor="middle">6</text><text x="1381.9" y="1480" text-anchor="middle">8</text><text x="1681.0" y="1480" text-anchor="middle">10</text><text x="1980.1" y="1480" text-anchor="middle">12</text><text x="749.4" y="109" font-size="69">Expected total cost</text><text x="749.4" y="194.3" font-size="69">Inspection cost</text><text x="749.4" y="277.3" font-size="69">Repair cost</text><text x="749.4" y="362.5" font-size="69">Failure cost</text></g><text font-family="Liberation Serif, Times New Roman, serif" font-weight="bold" font-size="81.5" x="1157" y="1605" text-anchor="middle">Time instant (years)</text><text font-family="Liberation Serif, Times New Roman, serif" font-weight="bold" font-size="81.5" transform="translate(93.6,721) rotate(-90)" text-anchor="middle">Cost (USD)</text><g stroke="#000" stroke-width="6.2" fill="none"><path d="M579,86H737"/><path d="M579,171.4H737" stroke-dasharray="10,29.5"/><path d="M579,256.9H737" stroke-dasharray="41,17,10,17"/><path d="M579,342H738" stroke-dasharray="35,32.5"/></g></svg></body></html>
